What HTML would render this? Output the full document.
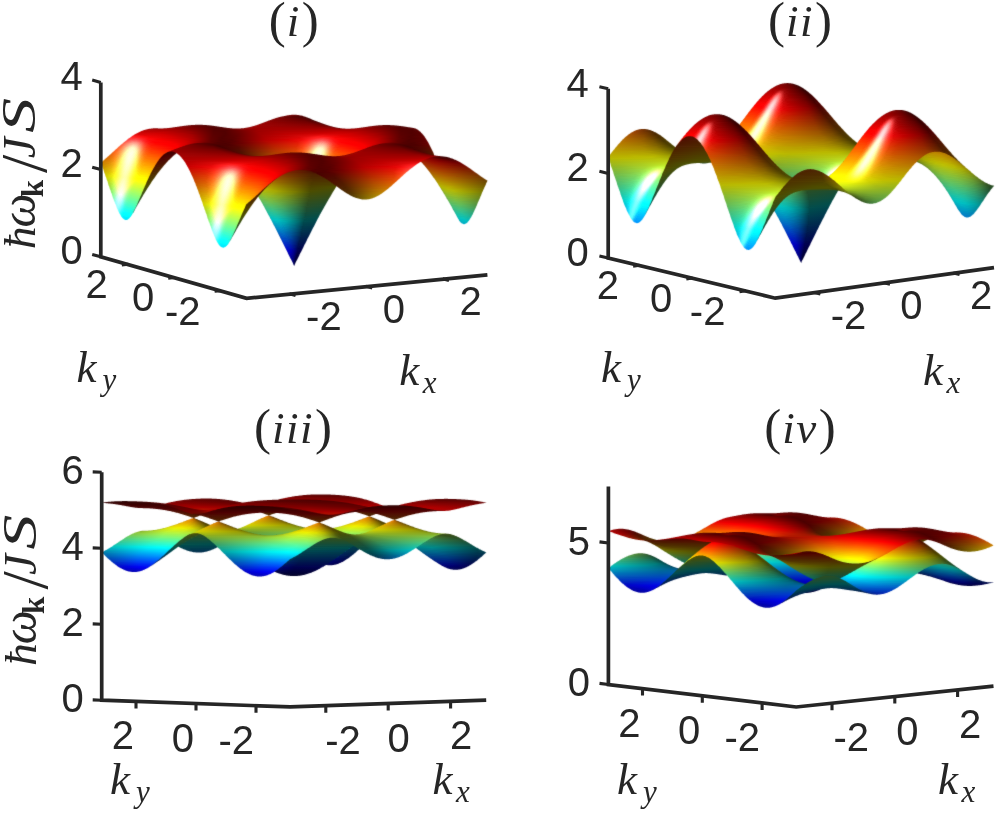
<!DOCTYPE html>
<html><head><meta charset="utf-8"><title>figure</title>
<style>html,body{margin:0;padding:0;background:#fff}
#f{position:relative;width:999px;height:816px;overflow:hidden;background:#fff}
.s{position:absolute;transform:scaleX(.5);transform-origin:0 0}
.s p{height:1px;margin:0;background:linear-gradient(90deg,var(--g,#fff 0,#fff 1px))}
svg{position:absolute;left:0;top:0;display:block;filter:blur(.4px)}
.t{font-family:"Liberation Sans",sans-serif;font-size:40px;fill:#262626}
.m{font-family:"Liberation Serif",serif;font-style:italic;font-size:45px;fill:#262626}
.r{font-family:"Liberation Serif",serif;font-size:45px;fill:#262626}
</style></head><body><div id="f">
<div class="s" style="left:98px;top:113px;width:784px"><p style="--g:#fff 385px,#fbf6f6 391px,#fcf9f9 397px,#fff 399px"></p><p style="--g:#fff 373px,#eddede 385px,#dfc0c0 387px,#d6b3b3 389px,#d3b3b3 395px,#dcc0c0 397px,#ecdede 399px,#fff 411px"></p><p style="--g:#fff 363px,#f2eaea 371px,#ecdede 373px,#dbbbbb 375px,#ad5f5f 379px,#994c4c 381px,#882b2b 383px,#7b1818 387px,#701515 393px,#741e1e 399px,#7d2b2b 401px,#ab7b7b 405px,#b69090 407px,#eee5e5 411px,#faf9f9 415px,#fff 417px"></p><p style="--g:#fff 355px,#eee1e1 363px,#a96969 369px,#984c4c 371px,#7c2121 373px,#6f0a0a 379px,#610101 389px,#540303 401px,#5b1111 407px,#631c1c 409px,#d1bcbc 415px,#eee5e5 417px,#fff 421px"></p><p style="--g:#fff 349px,#f1e7e7 355px,#e2c8c8 357px,#c89797 359px,#a55d5d 361px,#8b2d2d 363px,#811919 365px,#6e0101 375px,#500202 409px,#551010 413px,#5e1c1c 415px,#825050 417px,#ac8e8e 419px,#dfd1d1 421px,#efeaea 423px,#fff 427px"></p><p style="--g:#fff 345px,#f2e7e7 349px,#e3c8c8 351px,#c99494 353px,#9d4747 355px,#8d1e1e 357px,#7c0303 363px,#5c0000 407px,#520202 415px,#541313 419px,#632b2b 421px,#885f5f 423px,#c4adad 425px,#ebe4e4 427px,#f9f6f6 429px,#fff 431px"></p><p style="--g:#fff 339px,#f6eded 343px,#eedcdc 345px,#a85050 349px,#911f1f 351px,#850606 355px,#7a0000 373px,#5f0000 413px,#540303 421px,#530a0a 423px,#5c1b1b 425px,#815252 427px,#c1abab 429px,#e9e1e1 431px,#f5f2f2 433px,#fff 437px"></p><p style="--g:#fff 333px,#f8f1f1 337px,#efdfdf 339px,#cb9c9c 341px,#b46565 343px,#972323 345px,#8b0909 349px,#870101 353px,#690000 413px,#580202 425px,#5d1717 429px,#713b3b 431px,#a88a8a 433px,#d6c6c6 435px,#eee7e7 437px,#fff 441px"></p><p style="--g:#fff 329px,#f3e7e7 333px,#e1c5c5 335px,#a43939 339px,#951515 341px,#8d0202 345px,#710000 413px,#5d0101 429px,#5f1010 433px,#621e1e 435px,#825050 437px,#e7dcdc 441px,#f9f6f6 445px,#fff 447px"></p><p style="--g:#fff 323px,#f7ebeb 327px,#ecd3d3 329px,#d09797 331px,#b25050 333px,#9f1d1d 335px,#950606 339px,#8f0000 351px,#750000 419px,#600202 435px,#631414 439px,#6e2b2b 441px,#8e5f5f 443px,#c6acac 445px,#eae1e1 447px,#f9f9f9 451px,#fff 453px"></p><p style="--g:#fff 193px,#f9f6f6 197px,#fcf9f9 209px,#fff 211px,#fff 317px,#f9f0f0 321px,#f2e0e0 323px,#daafaf 325px,#ba6969 327px,#a42d2d 329px,#9d1414 331px,#970202 335px,#7b0000 423px,#650303 441px,#691717 445px,#7b3a3a 447px,#d0bcbc 451px,#eee4e4 453px,#fff 459px"></p><p style="--g:#fff 171px,#f2eaea 181px,#ebdddd 193px,#d1b6b6 195px,#ccb1b1 205px,#cdb3b3 207px,#d6c0c0 209px,#eadede 211px,#fff 233px,#fff 311px,#f4e4e4 317px,#e1bcbc 319px,#c87d7d 321px,#ac3030 323px,#a11818 325px,#9a0303 329px,#830000 425px,#700000 443px,#6c0e0e 449px,#6d1b1b 451px,#864343 453px,#d8c5c5 457px,#eee6e6 459px,#fff 465px,#fff 549px,#f2eaea 565px,#ede3e3 579px,#f5f1f1 597px,#f9f6f6 601px,#fff 603px"></p><p style="--g:#fff 157px,#f2e3e3 169px,#e7d4d4 171px,#d7b5b5 173px,#d1abab 175px,#ba8585 177px,#b67a7a 179px,#9c5454 181px,#9a4c4c 183px,#8f3f3f 185px,#7d2121 187px,#6f1515 199px,#691c1c 213px,#671e1e 215px,#6f2b2b 217px,#844949 219px,#885050 221px,#b28f8f 227px,#c7afaf 229px,#d4c0c0 231px,#eadede 233px,#f6f2f2 241px,#fff 245px,#fff 303px,#f2e1e1 311px,#e0b9b9 313px,#c87676 315px,#b44343 317px,#a61b1b 319px,#9d0404 323px,#890000 427px,#7a0000 447px,#710606 453px,#751d1d 457px,#8a4444 459px,#d2bbbb 463px,#eee1e1 465px,#fff 471px,#fff 535px,#eee1e1 549px,#cba2a2 555px,#b78585 557px,#b47b7b 559px,#9b5d5d 561px,#975050 563px,#934c4c 567px,#701e1e 571px,#6c1c1c 581px,#6c2121 583px,#7e3f3f 585px,#884c4c 587px,#8a5050 591px,#a57d7d 595px,#aa8585 597px,#bfa2a2 599px,#ccb3b3 601px,#e1d4d4 603px,#efe7e7 607px,#fff 619px"></p><p style="--g:#fff 141px,#f2e4e4 155px,#efdddd 157px,#d7b5b5 159px,#cea2a2 161px,#aa5d5d 165px,#a34c4c 167px,#932b2b 169px,#891c1c 171px,#720101 189px,#590303 217px,#5f1818 231px,#632121 233px,#793f3f 235px,#865252 237px,#a37b7b 239px,#b28f8f 241px,#e1d4d4 245px,#efe7e7 249px,#f9f6f6 257px,#fff 259px,#fff 293px,#f3e4e4 303px,#e7c7c7 305px,#d49797 307px,#ba5d5d 309px,#a72d2d 311px,#a31818 313px,#9d0202 319px,#930000 425px,#810000 453px,#7a0606 459px,#7d1919 463px,#893737 465px,#9f5d5d 467px,#e3d0d0 471px,#efe4e4 473px,#fff 481px,#fff 521px,#efe1e1 535px,#d5afaf 539px,#bd8383 541px,#a35050 545px,#993f3f 547px,#892121 549px,#841515 553px,#740909 565px,#600101 581px,#611b1b 603px,#642121 605px,#793f3f 607px,#855050 609px,#dbcaca 617px,#ebe3e3 619px,#fff 631px"></p><p style="--g:#fff 101px,#f6eaea 111px,#f8efef 121px,#f7eded 131px,#f1e1e1 141px,#d5a2a2 147px,#b35d5d 151px,#ad4a4a 153px,#922 155px,#8d0909 165px,#800000 181px,#520101 229px,#550909 237px,#642121 247px,#a77d7d 253px,#b68f8f 255px,#e2d4d4 259px,#ece1e1 261px,#f6f1f1 273px,#f7efef 285px,#f5e9e9 291px,#efe1e1 293px,#d4a5a5 297px,#a63838 303px,#a01b1b 305px,#9a0303 311px,#a00000 357px,#950000 445px,#860505 465px,#891b1b 471px,#943838 473px,#c08d8d 477px,#e7d4d4 481px,#f4eaea 485px,#fcf6f6 499px,#f7eeee 513px,#f1dede 521px,#e2c0c0 523px,#d9adad 525px,#c48585 527px,#c17a7a 529px,#aa5252 531px,#a43f3f 533px,#962121 535px,#8b0c0c 543px,#800101 553px,#510202 605px,#611b1b 617px,#6e2b2b 619px,#834c4c 621px,#915d5d 623px,#eadfdf 631px,#fff 637px"></p><p style="--g:#fff 93px,#f7e6e6 99px,#f0d4d4 101px,#e4b5b5 103px,#e0abab 105px,#cd8585 107px,#c87a7a 109px,#b45454 111px,#b04e4e 117px,#b05454 119px,#c57a7a 121px,#cb8080 127px,#c97d7d 129px,#b65050 133px,#b44949 137px,#a82b2b 139px,#a11818 143px,#950101 157px,#7a0000 193px,#500000 235px,#540606 249px,#6e1e1e 261px,#792b2b 263px,#8e4a4a 265px,#945252 267px,#a97171 269px,#b37d7d 271px,#bd8080 283px,#b97a7a 285px,#9f5454 287px,#a84949 291px,#922222 293px,#950909 301px,#9a0000 311px,#a30000 359px,#9e0000 449px,#910505 473px,#912222 483px,#a94a4a 485px,#b05d5d 487px,#c27a7a 489px,#c68585 493px,#d4a2a2 495px,#ddafaf 497px,#deafaf 503px,#d6a2a2 505px,#ca8585 507px,#c87d7d 511px,#c07171 513px,#b65252 515px,#b34a4a 517px,#a62b2b 519px,#9d1818 523px,#910101 537px,#720000 575px,#510000 607px,#520303 619px,#641818 629px,#6d2222 631px,#b08686 635px,#e3d2d2 637px,#f5f0f0 639px,#fff 641px"></p><p style="--g:#fff 87px,#f9e8e8 91px,#f2d3d3 93px,#bf4444 99px,#b31e1e 101px,#af1515 103px,#a50909 115px,#aa0e0e 129px,#a30000 149px,#800000 193px,#540000 231px,#530101 255px,#650909 267px,#7f0f0f 283px,#8d0000 299px,#a30000 333px,#a90000 457px,#9c0202 483px,#a61515 497px,#a50808 517px,#9c0000 533px,#790000 573px,#530000 607px,#530101 629px,#5c0909 633px,#631212 635px,#7f3939 637px,#ece2e2 641px,#fff 643px"></p><p style="--g:#fff 83px,#fceeee 85px,#f4d4d4 87px,#e5a0a0 89px,#cf5353 91px,#c02020 93px,#b70606 99px,#b30000 123px,#a40000 161px,#7d0000 199px,#540000 233px,#540000 257px,#7c0000 289px,#9f0000 321px,#ac0101 383px,#b20000 469px,#a90000 523px,#800 565px,#560000 605px,#520000 629px,#5b0606 637px,#691717 639px,#996161 641px,#e1d1d1 643px,#faf6f6 645px,#fff 647px"></p><p style="--g:#fff 79px,#fceeee 81px,#f5d1d1 83px,#cd2f2f 87px,#c61515 89px,#c00202 93px,#b80000 139px,#940000 185px,#570000 231px,#510000 253px,#6d0000 281px,#9b0000 317px,#ae0000 359px,#bd0000 485px,#af0000 527px,#850000 571px,#560000 607px,#520000 629px,#590202 639px,#640f0f 641px,#8a4848 643px,#d2b7b7 645px,#f9f6f6 647px,#fff 649px"></p><p style="--g:#fff 75px,#fceeee 77px,#f6d1d1 79px,#d42f2f 83px,#cc1212 85px,#c90404 87px,#c50000 131px,#980000 187px,#580000 231px,#520000 255px,#6e0000 283px,#a10000 323px,#b70101 379px,#c80000 479px,#bd0000 517px,#900000 567px,#590000 605px,#510000 627px,#590101 641px,#610909 643px,#7e3535 645px,#ddc9c9 647px,#faf6f6 649px,#fff 651px"></p><p style="--g:#fff 71px,#fff0f0 73px,#f8d3d3 75px,#dd3131 79px,#d61313 81px,#d40606 83px,#d10000 119px,#ae0000 171px,#840000 203px,#590000 231px,#520000 255px,#690000 281px,#a10000 323px,#b90000 373px,#d00202 459px,#cb0000 505px,#a00000 559px,#5a0000 605px,#510000 627px,#5a0000 643px,#620808 645px,#864040 647px,#d9c2c2 649px,#f9f7f7 651px,#fff 653px"></p><p style="--g:#fff 67px,#fff9f9 69px,#ffe3e3 71px,#e73838 75px,#e11919 77px,#dd0707 81px,#d50000 129px,#a50000 185px,#5a0000 231px,#520000 255px,#680000 281px,#a30000 325px,#bd0000 371px,#dc0707 451px,#d40000 501px,#ad0000 551px,#850000 579px,#590000 607px,#520000 631px,#5c0000 645px,#630c0c 647px,#8d4a4a 649px,#e1d0d0 651px,#fcf9f9 653px,#fff 655px"></p><p style="--g:#fff 65px,#ffefef 67px,#febfbf 69px,#f86161 71px,#ef2525 73px,#ee1515 75px,#e70404 95px,#d60000 137px,#a50000 189px,#5d0000 229px,#510000 253px,#620000 277px,#a80000 329px,#d60707 415px,#eb0f0f 449px,#e00000 487px,#c50000 531px,#9e0000 567px,#5c0000 605px,#510000 629px,#5c0000 647px,#670f0f 649px,#9b6060 651px,#ece1e1 653px,#fff 655px"></p><p style="--g:#fff 63px,#ffe7e7 65px,#ff9b9b 67px,#fc3e3e 69px,#fc2727 71px,#fc1b1b 75px,#f80c0c 91px,#ee0404 101px,#d80000 143px,#ab0000 187px,#5e0000 229px,#510000 251px,#610000 277px,#ab0000 331px,#c80101 379px,#e00b0b 417px,#f81919 441px,#f50f0f 461px,#e90000 487px,#c50000 539px,#a00000 569px,#600000 603px,#510000 623px,#5e0101 649px,#6e1616 651px,#f3eeee 655px,#fff 657px"></p><p style="--g:#fff 59px,#fff3f3 61px,#ffd6d6 63px,#ff7c7c 65px,#ff3e3e 67px,#ff2d2d 69px,#ff1c1c 85px,#f50404 103px,#d70000 151px,#ac0000 189px,#610000 227px,#510000 247px,#5b0000 271px,#b00000 335px,#db0606 403px,#fe1f1f 435px,#ff2525 451px,#ff1e1e 459px,#f60505 475px,#d50000 527px,#a00 565px,#600000 603px,#510000 625px,#5e0000 649px,#620505 651px,#7d2c2c 653px,#d9c2c2 655px,#fcf8f8 657px,#fff 659px"></p><p style="--g:#fff 57px,#ffebeb 59px,#ff5c5c 63px,#ff4141 65px,#ff3838 69px,#ff3939 77px,#fe0808 101px,#ef0000 127px,#c20000 177px,#980000 201px,#610000 227px,#500000 249px,#5e0000 275px,#b20000 335px,#e20606 403px,#fe1e1e 427px,#ff3737 445px,#ff3737 451px,#ff0808 475px,#ec0000 507px,#b80000 559px,#7a0000 589px,#590000 609px,#510000 631px,#5f0000 651px,#690c0c 653px,#975555 655px,#ede2e2 657px,#fff 659px"></p><p style="--g:#fff 55px,#ffe8e7 57px,#ff9392 59px,#ff5352 61px,#ff4645 63px,#ff4d4d 75px,#ff2f2f 87px,#ff0e0e 99px,#fa0000 119px,#e00000 155px,#b40000 189px,#640000 225px,#510000 245px,#560000 267px,#7c0000 297px,#b30000 335px,#d50101 379px,#ec0b0a 407px,#fe1c1b 421px,#ff4242 439px,#ff4a4a 449px,#ff3838 459px,#ff1717 469px,#ff0505 481px,#e90000 517px,#be0000 557px,#8e0000 581px,#630000 601px,#500000 623px,#5e0000 651px,#600101 653px,#711818 655px,#be9696 657px,#f7f0f0 659px,#fff 661px"></p><p style="--g:#fff 51px,#fff8f7 53px,#ffdedd 55px,#ff908c 57px,#ff5b57 59px,#ff544f 61px,#ff615c 67px,#ff5e5c 77px,#ff4545 85px,#ff2828 91px,#ff0909 103px,#fe0000 125px,#d30000 171px,#a90000 195px,#630000 225px,#500000 245px,#570000 269px,#850000 303px,#b10200 333px,#d70701 383px,#eb0f09 405px,#ff201c 419px,#ff4642 433px,#ff4643 435px,#ff5654 441px,#ff5f5d 447px,#ff4b4b 457px,#ff1717 471px,#ff0303 485px,#f90000 505px,#c00 551px,#a60000 571px,#650000 599px,#500000 621px,#580000 645px,#600000 653px,#640606 655px,#823232 657px,#e2cdcd 659px,#fdf9f9 661px,#fff 663px"></p><p style="--g:#fff 49px,#fff6f3 51px,#ffceca 53px,#ff7f77 55px,#ff6257 57px,#ff6156 59px,#ff7d73 69px,#ff746c 77px,#ff4c46 87px,#ff3c37 89px,#ff1918 97px,#ff0404 109px,#f90000 141px,#c00 179px,#890000 207px,#5e0000 227px,#4e0000 251px,#5c0000 275px,#b40700 337px,#e20f04 397px,#ff261b 417px,#ff5c53 435px,#ff726a 443px,#ff7670 449px,#ff6761 455px,#ff5a56 457px,#ff5752 459px,#ff3532 465px,#ff1615 473px,#ff0404 485px,#f90000 513px,#cd0000 553px,#980000 577px,#640000 599px,#500000 619px,#560000 643px,#620000 655px,#6d0f0f 657px,#a66a6a 659px,#f1e7e7 661px,#fff 663px"></p><p style="--g:#fff 47px,#fff2ee 49px,#ffbbb2 51px,#ff7564 53px,#ff6755 55px,#ff8f7e 67px,#ff9687 71px,#ff8d7e 77px,#ff7c6f 81px,#ff2921 95px,#ff0c08 105px,#ff0101 115px,#fa0000 145px,#d40000 175px,#b90000 187px,#700000 213px,#500000 239px,#510000 263px,#710000 291px,#b70b00 343px,#e41706 399px,#ff2b1b 415px,#ff4232 423px,#ff7564 435px,#ff7567 437px,#ff897a 441px,#ff8f81 447px,#ff897b 449px,#ff8b7e 451px,#ff5d53 461px,#ff3830 467px,#ff1712 475px,#ff0202 487px,#fc0000 517px,#d60000 549px,#ba0000 563px,#750000 587px,#530000 611px,#4f0000 633px,#640202 657px,#781e1e 659px,#cdadad 661px,#f9f6f6 663px,#fff 665px"></p><p style="--g:#fff 45px,#ffedea 47px,#ffb6a8 49px,#ff7560 51px,#ff6d54 53px,#ff8067 57px,#ffa38c 65px,#ffac95 69px,#ffa691 75px,#ff9884 79px,#ff816e 83px,#ff705c 85px,#ff6755 87px,#ff3c2d 93px,#ff1a0f 101px,#ff0701 115px,#f00 137px,#f30000 157px,#d30000 177px,#b60000 185px,#800000 193px,#6a0000 199px,#570000 219px,#4c0000 255px,#690100 287px,#b91100 347px,#e41e06 399px,#fe2f19 413px,#ff4630 421px,#ff9982 439px,#ffa792 445px,#ffa18d 447px,#ffa491 449px,#ff907d 455px,#ff7967 459px,#ff6757 461px,#ff5f4e 463px,#ff4e3f 465px,#ff4737 467px,#ff3628 469px,#ff130a 479px,#ff0100 497px,#fa0000 525px,#d10000 553px,#af0000 563px,#870000 569px,#720000 575px,#5c0000 593px,#4c0000 627px,#5e0000 653px,#630000 657px,#6b0a09 659px,#995453 661px,#efe4e4 663px,#fff 665px"></p><p style="--g:#fff 41px,#fffaf9 43px,#ffe2dc 45px,#ff9f8a 47px,#ff7458 49px,#ff7254 51px,#ff8567 55px,#ffaf91 63px,#ffc3a6 71px,#ffb398 77px,#ff9c82 81px,#ff8b70 83px,#ff8167 85px,#ff513b 91px,#ff3a25 95px,#ff1d0b 103px,#ff0c01 115px,#ff0100 133px,#fa0000 155px,#d90000 173px,#c90000 177px,#810000 185px,#710000 191px,#510000 225px,#4b0000 231px,#4f0000 263px,#770700 299px,#b71600 347px,#e42306 399px,#ff391c 413px,#ff5336 421px,#ffab8f 439px,#ffbb9f 443px,#ffb79d 449px,#ffab91 453px,#ff957b 457px,#ff826a 459px,#ff7861 461px,#ff664f 463px,#ff3421 471px,#ff1507 481px,#f00 507px,#fa0000 529px,#de0000 547px,#c00000 555px,#740000 563px,#4d0000 605px,#4d0000 635px,#640301 659px,#761e1b 661px,#cdadac 663px,#f9f6f6 665px,#fff 667px"></p><p style="--g:#fff 39px,#fffaf6 41px,#ffdfd7 43px,#ff9176 45px,#ff704d 47px,#ff724e 49px,#ffc29f 63px,#ffd7b2 69px,#ffd7b2 71px,#fca 75px,#ffb796 79px,#ffa583 81px,#ff9b7a 83px,#ff6849 89px,#ff4c2f 93px,#ff3115 99px,#ff1a05 107px,#f00 141px,#f90000 159px,#e00000 169px,#c70000 173px,#a70000 175px,#910000 177px,#7f0000 181px,#6e0000 201px,#530000 229px,#460000 239px,#520100 269px,#770a00 301px,#b41b00 347px,#e42906 399px,#fd3c18 411px,#ff5632 419px,#f64 423px,#ffb08c 435px,#ffcba8 441px,#ffcdac 447px,#ffc6a5 451px,#ffb090 455px,#ff5438 467px,#ff442a 469px,#ff2c12 475px,#ff1803 485px,#f00 515px,#fa0000 533px,#e60000 543px,#d50000 547px,#840000 555px,#720000 565px,#590000 599px,#470000 613px,#500000 641px,#610300 659px,#690d09 661px,#975753 663px,#efe4e4 665px,#fff 667px"></p><p style="--g:#fff 37px,#fff9f3 39px,#ffd2c4 41px,#ff8a67 43px,#ff7045 45px,#ff7347 47px,#ff9d6f 53px,#ffa379 55px,#ffd9ad 63px,#ffe9be 69px,#ffe3ba 73px,#ffd1a9 77px,#ff926b 85px,#ff5f3b 91px,#ff3e1b 97px,#ff2407 105px,#ff0b00 133px,#f00 149px,#fc0000 159px,#e40000 165px,#d40000 167px,#b00000 169px,#980000 171px,#850000 175px,#760000 195px,#5d0000 231px,#450000 243px,#580500 279px,#ba2000 353px,#e12c05 397px,#fa3e16 409px,#ff562c 417px,#ff754b 423px,#ffa47c 431px,#ffb58b 433px,#ffddb5 441px,#ffdeb6 449px,#ffcaa3 453px,#ffad87 457px,#ff9872 459px,#ff8c66 461px,#ff7651 463px,#ff5836 467px,#ff3112 475px,#ff1c03 485px,#f00 523px,#fa0000 535px,#e40000 541px,#ba0000 545px,#870000 549px,#790000 561px,#5e0000 603px,#450000 619px,#590500 655px,#600701 661px,#72221b 663px,#ccafac 665px,#f9f6f6 667px,#fff 669px"></p><p style="--g:#fff 35px,#fff9f3 37px,#ffd2c1 39px,#ff8258 41px,#ff6c3e 43px,#ff7341 45px,#ffa675 53px,#ffc895 57px,#ffe8b7 63px,#fff7c5 67px,#fff6c7 71px,#ffe8ba 75px,#ffce9f 79px,#ff7448 89px,#ff562b 93px,#ff4019 97px,#ff2704 107px,#fe0000 155px,#f30000 159px,#e30000 161px,#9f0000 165px,#8c0000 169px,#800000 185px,#600 231px,#540000 243px,#470000 249px,#560700 281px,#b82500 353px,#de3204 395px,#f44011 407px,#ff5322 413px,#ff7444 421px,#ffa678 429px,#ffb886 431px,#ffe9ba 439px,#fff3c4 445px,#ffeabc 449px,#ffe3b5 451px,#ffc79a 455px,#ff8053 463px,#ff6c42 465px,#ff5128 469px,#ff3b16 473px,#ff2a08 479px,#ff1800 499px,#f00 527px,#fc0000 533px,#e80000 537px,#bf0000 539px,#8e0000 543px,#820000 553px,#670000 603px,#460000 625px,#580700 657px,#5d0800 661px,#651109 663px,#945a53 665px,#efe4e4 667px,#fff 669px"></p><p style="--g:#fff 33px,#fff6f0 35px,#ffd0be 37px,#ff8253 39px,#ff6d37 41px,#ff723a 43px,#ffa56f 51px,#ffc98f 55px,#fff8c0 63px,#ffffd1 69px,#fffbc7 73px,#ffe7b0 77px,#ff6836 91px,#ff4918 97px,#ff3b0c 101px,#ff2901 111px,#fc0400 151px,#ef0000 155px,#cd0000 157px,#980000 161px,#8b0000 169px,#6d0000 233px,#540000 249px,#490000 255px,#540900 281px,#b62900 353px,#e03905 397px,#fb4a17 409px,#ff743d 419px,#ff8a54 423px,#fff2bb 437px,#fffdce 443px,#fff9c4 449px,#ffe0ab 453px,#ffbe8a 457px,#ffa572 459px,#ff804f 463px,#ff6232 467px,#ff4a1c 471px,#ff3308 479px,#ff2100 495px,#fc0200 527px,#f20000 531px,#e00000 533px,#9d0000 537px,#900000 539px,#870000 551px,#6c0000 607px,#530000 623px,#4b0000 631px,#530800 655px,#5d0c01 663px,#6f271b 665px,#cbb0ac 667px,#f9f7f6 669px,#fff 671px"></p><p style="--g:#fff 31px,#fff3ec 33px,#ffbda2 35px,#ff7943 37px,#ff6d2f 39px,#ff7233 41px,#ffa366 49px,#fff2b3 59px,#fffec9 63px,#ffffd6 67px,#ffffc9 73px,#ffedaf 77px,#ffcb8f 81px,#ff8e55 87px,#ff6c32 91px,#ff4a15 97px,#ff3303 107px,#fe1000 145px,#f30a00 149px,#dd0700 151px,#b80200 153px,#a00000 155px,#900000 163px,#760000 233px,#600000 251px,#4b0200 261px,#510b00 281px,#b02c00 349px,#df3f05 397px,#fc5318 409px,#ff7336 417px,#ff884b 421px,#ffd497 431px,#fff4b7 435px,#fffecc 439px,#ffffd5 443px,#ffffcf 447px,#fff6bb 451px,#ffd69b 455px,#ff975e 461px,#ff743c 465px,#ff5922 469px,#ff420d 475px,#ff3606 479px,#ff1a00 509px,#ff0e00 521px,#f50900 525px,#e70700 527px,#ab0000 531px,#960000 535px,#8d0000 547px,#6f0000 613px,#500 629px,#490000 633px,#530b00 657px,#5a0d00 663px,#621509 665px,#925d53 667px,#eee5e4 669px,#fff 671px"></p><p style="--g:#fff 29px,#fff2eb 31px,#ffbd9f 33px,#ff763b 35px,#ff6b29 37px,#ff6f2c 39px,#ffa05c 47px,#fffdba 59px,#ffffd9 65px,#ffffda 69px,#fffcc0 75px,#ffe29e 79px,#ff7d3c 89px,#ff581a 95px,#ff4005 103px,#ff2800 127px,#fe1e00 139px,#eb1300 145px,#c60900 147px,#ab0300 149px,#980000 153px,#700 243px,#5e0000 259px,#4e0500 267px,#500d00 283px,#b33300 353px,#dc4204 395px,#f65513 407px,#ff6a27 413px,#ff8642 419px,#ffd28f 429px,#fff2b0 433px,#fffebd 435px,#ffffd8 441px,#ffffd9 445px,#ffffc9 449px,#ffeeab 453px,#ff8747 463px,#ff692b 467px,#ff440b 475px,#f30 489px,#fc1a00 517px,#f11100 521px,#b80300 525px,#a20100 527px,#940000 533px,#790000 613px,#620000 631px,#4b0400 641px,#550e00 661px,#591001 665px,#6c2a1b 667px,#cbb2ac 669px,#f9f8f6 671px,#fff 673px"></p><p style="--g:#fff 27px,#ffeee5 29px,#fbb692 31px,#fd7435 33px,#ff6a22 35px,#ff7930 39px,#ffba6e 49px,#fffbb4 57px,#ffffd8 63px,#ffffde 69px,#ffffcd 73px,#fff7ad 77px,#ff9047 87px,#ff6720 93px,#ff5410 97px,#ff3f02 107px,#ff4001 111px,#ff3200 125px,#f92400 137px,#ea1f00 139px,#c91300 141px,#9d0900 143px,#800500 145px,#720000 147px,#760000 149px,#910000 153px,#970000 161px,#7f0000 245px,#680000 263px,#510400 271px,#4f0f00 285px,#b43700 355px,#c74000 377px,#d84605 397px,#ee5614 407px,#f85d1a 409px,#fe833a 417px,#ffce85 427px,#fff2a9 431px,#fffdb7 433px,#ffffd9 439px,#ffffde 443px,#ffffd3 447px,#fff9b5 451px,#ffeea6 453px,#ff8b46 463px,#ff601e 469px,#ff4f0e 473px,#ff3c01 485px,#fc2500 511px,#f21e00 515px,#de1500 517px,#a30400 521px,#970000 531px,#7e0000 617px,#6a0000 635px,#500400 645px,#4d0d00 657px,#561100 665px,#5f1909 667px,#906053 669px,#eee6e4 671px,#fff 673px"></p><p style="--g:#fff 25px,#feece1 27px,#f6a475 29px,#f6722b 31px,#fc6a1c 33px,#ff7828 37px,#ff9848 43px,#ffb563 47px,#fffaab 55px,#ffd 63px,#ffffe3 67px,#ffffd8 71px,#ffb 75px,#ffe693 79px,#ffcc7b 81px,#ffbd6c 83px,#ffa454 85px,#ff7728 91px,#ff6114 95px,#ff4b04 103px,#ff3000 131px,#fa2f00 133px,#ec2900 135px,#bd1c00 137px,#6b0b00 139px,#4f0300 141px,#450000 147px,#4c0000 151px,#5d0000 153px,#9a1010 157px,#9a0101 161px,#840000 251px,#710000 267px,#550500 277px,#4f1100 287px,#b03b00 353px,#bd3b00 375px,#b73a00 377px,#af3000 379px,#ac2f00 383px,#952601 385px,#a12c06 403px,#a8330b 407px,#c54413 409px,#cc561e 413px,#e16b2a 415px,#ed8942 419px,#f4bd72 425px,#fcf8ab 431px,#fffed6 437px,#ffffe1 441px,#ffffdc 445px,#fffcb5 451px,#ffdd8b 455px,#ffc477 457px,#ff8e40 463px,#ff671b 469px,#ff5b12 471px,#ff4602 481px,#fe3400 503px,#f22800 509px,#e32100 511px,#ac0900 515px,#9e0000 519px,#830000 623px,#700000 641px,#510600 651px,#511200 663px,#571501 667px,#6a2e1b 669px,#cab4ae 671px,#f9f8f6 673px,#fff 675px"></p><p style="--g:#fff 23px,#fcebe0 25px,#f2a572 27px,#f07123 29px,#f76b16 31px,#ff7d28 37px,#ff923d 41px,#ffd278 49px,#fff69f 53px,#ffffbe 57px,#ffffd9 61px,#ffffe5 65px,#ffffdf 69px,#ffffb5 75px,#fff6a3 77px,#ffa64e 85px,#ff7723 91px,#ff5e0b 97px,#ff4c01 107px,#fe3b00 129px,#f33700 131px,#d22900 133px,#861200 135px,#520600 137px,#400 139px,#430000 147px,#470101 151px,#510909 153px,#6f2d2d 155px,#b88282 157px,#b54444 159px,#a31111 161px,#9d0303 163px,#8c0000 255px,#790000 273px,#620200 281px,#520f00 287px,#671f00 305px,#a73c00 347px,#af3900 359px,#a62e00 363px,#8c1500 371px,#7a0700 375px,#620600 407px,#641007 417px,#6b1c0d 419px,#81331b 421px,#883f24 423px,#b78755 427px,#dfd493 431px,#f0e9be 435px,#f9f6db 441px,#fdfdda 445px,#fffcae 451px,#fff09b 453px,#ffb15c 459px,#ff8e38 463px,#ff6917 469px,#ff590b 473px,#ff4900 487px,#fc3d00 497px,#f03100 503px,#bc1700 507px,#a40400 511px,#9d0000 521px,#8b0000 625px,#790000 645px,#670000 653px,#580700 657px,#521000 663px,#541500 667px,#5e200c 669px,#9b7567 671px,#f3efed 673px,#fff 675px"></p><p style="--g:#fff 19px,#fffaf8 21px,#fae3d2 23px,#eea066 25px,#ea701e 27px,#f06c11 29px,#fd751a 33px,#ff8d33 39px,#ffaa4b 43px,#ffdb7b 49px,#ffef91 51px,#fff99d 53px,#ffffc5 57px,#ffd 61px,#ffffe4 67px,#ffffc4 73px,#fff899 77px,#ffb85a 83px,#ff862a 89px,#ff6f15 93px,#ff5e06 99px,#ff5000 113px,#fe4400 127px,#f03b00 129px,#b02500 131px,#630a00 133px,#4a0300 135px,#430000 139px,#490202 149px,#540f0f 151px,#7f4848 153px,#cdb7b7 155px,#f2eaea 157px,#edd0d0 159px,#c76b6b 161px,#a81919 163px,#9f0303 165px,#930000 259px,#830000 279px,#710200 287px,#5c0e00 293px,#611a00 301px,#973600 337px,#a13500 347px,#992000 353px,#8f1500 355px,#870700 361px,#6f0000 389px,#550300 419px,#5c100a 427px,#65221b 433px,#81493c 435px,#895448 437px,#bea291 441px,#cdb5a0 443px,#e8ddbd 445px,#f1eaac 449px,#f3eb9e 451px,#f9d77a 455px,#fab056 459px,#ff8027 465px,#ff660e 471px,#ff5906 475px,#f54200 493px,#f13d00 495px,#ae1400 501px,#9e0900 503px,#9d0000 513px,#980000 605px,#8c0000 643px,#720100 659px,#5e0b00 665px,#581000 667px,#5b1703 669px,#773d2b 671px,#e5d7d4 673px,#f6f0f0 675px,#fff 681px"></p><p style="--g:#fff 17px,#fffaf6 19px,#f8e2cd 21px,#ea9550 23px,#e57218 25px,#ea6d0d 27px,#fc7a1a 33px,#ff9936 39px,#ffc15c 45px,#ffe984 49px,#fff490 51px,#ffffa6 53px,#ffffd6 59px,#ffffe5 65px,#ffffcf 71px,#fffea9 75px,#fff38f 77px,#ffe57f 79px,#fc6 81px,#ff9732 87px,#ff7d1a 91px,#ff6505 99px,#ff5300 117px,#fe4a00 125px,#f04200 127px,#b02700 129px,#5a0800 131px,#470000 133px,#4c0303 147px,#591413 149px,#906160 151px,#dfd1d1 153px,#f7f6f6 155px,#fff 157px,#fff 159px,#f4e4e4 161px,#d48a8a 163px,#ab1b1b 165px,#a20303 167px,#9b0000 267px,#8d0000 287px,#720a00 301px,#6c1d00 309px,#7d2700 319px,#8b2c00 329px,#951a00 339px,#910600 347px,#7c0000 381px,#500000 427px,#550908 437px,#6b221b 447px,#874c36 449px,#9b6743 451px,#c18c4c 455px,#d2813b 459px,#ea8c36 461px,#f16c16 467px,#f25603 477px,#ef4c01 483px,#df4000 485px,#d83800 487px,#bf2b00 489px,#b01700 493px,#9c0a00 495px,#9b0000 507px,#a00000 557px,#980000 643px,#840000 663px,#770300 669px,#77100c 671px,#a25755 673px,#d0adac 677px,#d5c0c0 679px,#eadede 681px,#fff 699px"></p><p style="--g:#fff 15px,#fef9f3 17px,#f5d5b7 19px,#e68f42 21px,#e07211 23px,#e56f09 25px,#f67a14 31px,#ff952c 37px,#ff9e34 39px,#ffcb5f 45px,#ffef84 49px,#fffc98 51px,#ffffcd 57px,#ffffe5 63px,#ffffd7 69px,#ffffb7 73px,#ffff9e 75px,#fff78e 77px,#ffe073 79px,#ff982d 87px,#ff780f 93px,#ff6b04 99px,#ff6301 105px,#ff5700 119px,#ff5200 123px,#f04b00 125px,#b12c00 127px,#5c0900 129px,#4a0000 131px,#4e0503 145px,#5b1815 147px,#986e6b 149px,#e8dfde 151px,#fcfafa 153px,#fff 155px,#fff 161px,#f6e7e7 163px,#ae1919 167px,#a50303 169px,#a30000 279px,#900400 311px,#9b0200 343px,#8d0000 371px,#520000 427px,#520101 445px,#691109 457px,#7a1103 465px,#992304 469px,#9e1f01 475px,#8a0d00 479px,#960000 501px,#a40000 541px,#a20000 647px,#940000 665px,#8a0200 671px,#701515 677px,#6d2121 683px,#7a3f3f 685px,#8a6767 689px,#eae4e4 699px,#fff 705px"></p><p style="--g:#fff 13px,#fcf6ee 15px,#f2d3b3 17px,#e28934 19px,#dd730d 21px,#e17206 23px,#ef7b0f 29px,#fe871b 33px,#ff992a 37px,#ffaa39 39px,#ffb242 41px,#fffb89 49px,#ffffc1 55px,#ffffe2 61px,#ffffdc 67px,#ffffc3 71px,#ffff9a 75px,#fff583 77px,#ffbc46 83px,#ffa736 85px,#ff8614 91px,#ff7609 95px,#f60 111px,#ff5d00 121px,#f65400 123px,#bb3600 125px,#600a00 127px,#4c0000 129px,#4f0803 143px,#5e1a15 145px,#986f6c 147px,#e9e1e0 149px,#fff 151px,#fff 163px,#f6e4e4 165px,#ce7373 167px,#ae1313 169px,#a80000 171px,#ae0000 281px,#a90000 329px,#960000 367px,#6a0000 405px,#510000 431px,#570100 455px,#890000 491px,#a30000 525px,#ac0000 649px,#a60000 661px,#6c0000 671px,#4d0202 683px,#4d1212 693px,#541b1b 697px,#693838 699px,#b49c9c 703px,#e7dede 705px,#fff 711px"></p><p style="--g:#fff 11px,#faf3e8 13px,#efc495 15px,#dc8325 17px,#d97309 19px,#df7405 23px,#f68615 31px,#ff9722 35px,#ffbc44 41px,#fff379 47px,#fffe8c 49px,#ffffb3 53px,#ffffdc 59px,#ffffe3 63px,#ffffcb 69px,#fffd91 75px,#ffe367 79px,#ffba3f 83px,#ff9b21 87px,#ff820a 93px,#ff7704 97px,#ff6400 119px,#f75f00 121px,#cc4300 123px,#6d1100 125px,#500100 127px,#4f0a03 141px,#5e1e15 143px,#aa756c 145px,#ece1e0 147px,#fff 149px,#fff 163px,#fffafa 165px,#f1d2d2 167px,#c34b4b 169px,#ad0909 171px,#ab0000 173px,#b90000 297px,#af0000 343px,#870000 387px,#500 427px,#520000 449px,#6e0000 475px,#980000 507px,#a00 545px,#b50000 655px,#a40000 659px,#8a0000 663px,#4f0000 689px,#490505 699px,#531515 703px,#6c3636 705px,#b89c9c 709px,#e8dfdf 711px,#f6f3f3 713px,#fff 717px"></p><p style="--g:#fff 9px,#f9f1e4 11px,#ebc08a 13px,#d9841f 15px,#d67705 17px,#e47d08 25px,#fd941a 33px,#ffa72d 37px,#ffd659 43px,#ffec6a 45px,#ffff8e 49px,#ffffd2 57px,#ffffe0 61px,#ffd 65px,#ffffc4 69px,#ffff9f 73px,#fff573 77px,#ffba39 83px,#ff9e1c 87px,#ff8509 93px,#ff7b01 101px,#fd6800 119px,#df5600 121px,#791a00 123px,#530600 125px,#4d0500 131px,#500d03 139px,#60251a 141px,#a0746d 143px,#ede2e0 145px,#fff 147px,#fff 165px,#fef9f9 167px,#eecaca 169px,#bd3333 171px,#ae0606 173px,#af0000 179px,#c40000 301px,#b80000 339px,#920000 383px,#580000 425px,#510000 447px,#6f0000 477px,#9d0000 513px,#b00000 557px,#bf0200 651px,#aa0500 655px,#970400 659px,#510000 701px,#580c0c 707px,#5d1515 709px,#783d3d 711px,#b59393 713px,#d9c9c9 715px,#f1ebeb 717px,#fff 721px"></p><p style="--g:#fff 5px,#fffcfa 7px,#f9eedf 9px,#e2b26c 11px,#d6851a 13px,#d27a04 15px,#df8006 23px,#f59314 31px,#ff9e1d 33px,#ffa324 35px,#ffe05a 43px,#fffd7f 47px,#ffffc5 55px,#ffffda 59px,#ffffde 63px,#ffc 67px,#ffffac 71px,#fffd7f 75px,#ffe056 79px,#ffca43 81px,#ffab21 85px,#ff8f0b 91px,#ff8503 97px,#ff7500 117px,#ee6800 119px,#9e3500 121px,#590c00 123px,#4d0600 125px,#4f0f03 137px,#61281b 139px,#b49993 141px,#eee6e5 143px,#fff 145px,#fff 167px,#fcf3f3 169px,#e4a9a9 171px,#ba1e1e 173px,#b20303 175px,#cd0000 285px,#c60000 327px,#9c0000 379px,#590000 425px,#510000 447px,#6a0000 475px,#9f0000 515px,#b50000 563px,#c70402 647px,#a11100 653px,#7e0000 681px,#5b0000 707px,#5c0606 711px,#6e2121 715px,#9e6969 717px,#d9c2c2 719px,#f2eaea 721px,#fcf9f9 723px,#fff 725px"></p><p style="--g:#fff 3px,#fffbf7 5px,#f6e7cf 7px,#dead60 9px,#d38613 11px,#d07d04 13px,#df8806 23px,#ee930f 29px,#fea01c 33px,#ffd44a 41px,#fff76e 45px,#ffff7d 47px,#ffff95 49px,#ffffc8 55px,#ffffdb 59px,#ffffda 63px,#ffffc4 67px,#ffffa1 71px,#fffd76 75px,#ffce3c 81px,#ffba29 83px,#ffa215 87px,#ff8f05 93px,#ff8b02 97px,#ff7b00 115px,#f67500 117px,#bd4c00 119px,#611400 121px,#4d0900 123px,#4e1103 135px,#5d2516 137px,#a58176 139px,#efe7e6 141px,#fff 143px,#fff 169px,#f7e9e9 171px,#d57676 173px,#ba1313 175px,#b60000 177px,#d60505 271px,#d10000 321px,#a30000 377px,#580000 427px,#520000 451px,#6e0000 479px,#a20000 519px,#ba0000 567px,#d30808 641px,#d52725 645px,#a51d03 649px,#9c1500 657px,#860300 683px,#630101 713px,#650202 715px,#690c0c 717px,#742020 719px,#a46969 721px,#dbc2c2 723px,#f3ebeb 725px,#fff 727px"></p><p style="--g:#fff 1px,#fffcfa 3px,#f7e9d5 5px,#d6a043 7px,#ce860e 9px,#ce8002 11px,#e49009 25px,#fda91c 33px,#ffc133 37px,#fffc6d 45px,#ffff85 47px,#ffffba 53px,#ffffd3 57px,#ffffda 61px,#ffc 65px,#ffffaf 69px,#fffd6c 75px,#fff259 77px,#ffbb25 83px,#ff9f0b 89px,#ff9301 97px,#fd7f00 115px,#de6900 117px,#702100 119px,#510c00 121px,#4d1101 133px,#5a2312 135px,#98766b 137px,#ebe3e1 139px,#fff 141px,#fff 171px,#f6dcdc 173px,#cc4848 175px,#bc0707 177px,#ba0000 181px,#dc0a0a 249px,#e40a0a 271px,#da0000 315px,#b90000 361px,#910000 393px,#5d0000 423px,#510000 447px,#670000 475px,#a50000 521px,#bf0101 569px,#df0d0d 637px,#e01414 639px,#e12a2a 641px,#ed8080 643px,#f4cac8 645px,#d59f91 647px,#a8401f 649px,#9e2704 651px,#910 669px,#720100 709px,#6b0302 719px,#700d0c 721px,#7e2222 723px,#af7575 725px,#e5d1d1 727px,#f7f3f3 729px,#fff 731px"></p><p style="--g:#fff 3px,#f9f1e2 5px,#d19428 7px,#ca8504 9px,#db8d04 21px,#f7a815 31px,#ffbc28 35px,#ffe44f 41px,#fff65d 43px,#ffff83 47px,#ffffac 51px,#ffffd1 57px,#ffffd7 61px,#ffffba 67px,#fffb65 75px,#ffe03f 79px,#ffcb2c 81px,#ffaa0e 87px,#ff9600 99px,#ff9400 103px,#ff8b00 113px,#ef7d00 115px,#983e00 117px,#571400 119px,#4d0e00 121px,#4d1300 131px,#56220f 133px,#8a6656 135px,#e7e0dd 137px,#fff 139px,#fff 171px,#fcf5f5 173px,#e8abab 175px,#c31b1b 177px,#bd0101 179px,#da0808 233px,#f31616 261px,#f00b0b 281px,#e20000 313px,#c10000 359px,#900 391px,#5b0000 425px,#510000 449px,#690000 477px,#a80000 523px,#c40101 571px,#de0b0b 617px,#ed1515 635px,#ef2626 637px,#f05f5f 639px,#f7bbbb 641px,#fcecec 643px,#fffaf9 645px,#f8edea 647px,#d3a593 649px,#a7411b 651px,#a02b03 653px,#991300 675px,#710300 721px,#710703 723px,#781310 725px,#903f3c 727px,#caa2a1 729px,#f0e6e5 731px,#fcf9f9 733px,#fff 735px"></p><p style="--g:#fff 3px,#fcf6ed 5px,#dfb76a 7px,#cc8e0c 9px,#cc8900 11px,#e39c09 25px,#f6ac15 31px,#ffc027 35px,#fffa61 43px,#ffffab 51px,#ffffcf 57px,#ffffd1 61px,#ffffc0 65px,#fffd5d 75px,#fff149 77px,#ffdb34 79px,#ffbf1c 83px,#ffa908 89px,#ffaa05 91px,#ffa103 93px,#ff9e00 99px,#ff9100 111px,#f98a00 113px,#c46300 115px,#621d00 117px,#4d1100 119px,#4d1500 129px,#55210c 131px,#815d4b 133px,#ddd4ce 135px,#fbf9f9 137px,#fff 139px,#fff 173px,#f9e4e4 175px,#d55555 177px,#c40a0a 179px,#c10000 181px,#de0808 229px,#f61717 247px,#fe2121 265px,#fe1b1b 275px,#ee0101 301px,#da0000 337px,#ad0000 381px,#5f0000 423px,#510000 443px,#5d0000 467px,#ad0000 527px,#d80606 599px,#fa1b1b 631px,#fa2222 633px,#fb3a3a 635px,#fb9494 637px,#fde3e3 639px,#fff9f9 641px,#fff 643px,#fff 647px,#f4ebe6 649px,#c18d76 651px,#a54116 653px,#a22f03 655px,#981600 681px,#730801 725px,#750c06 727px,#81201a 729px,#a6645f 731px,#dfc5c3 733px,#f6efef 735px,#fff 737px"></p><p style="--g:#fff 3px,#fffcfa 5px,#f2e3c2 7px,#d0991b 9px,#cc9001 11px,#df9e06 23px,#eeac0f 29px,#febd1e 33px,#ffd434 37px,#fff350 41px,#fffe64 43px,#ffff9c 49px,#ffffc8 55px,#ffffd1 59px,#ffffc4 63px,#ffffba 65px,#ffff96 69px,#fffc54 75px,#ffdb2d 79px,#ffb910 85px,#ffab03 91px,#ffa300 97px,#ffa000 103px,#fe9a00 111px,#e88700 113px,#7a3200 115px,#511600 117px,#4d1800 127px,#532008 129px,#78523e 131px,#dbd1cc 133px,#faf9f9 135px,#fff 137px,#fff 173px,#fff7f7 175px,#f0c0c0 177px,#cc1f1f 179px,#c60202 181px,#e20707 225px,#fe1b1b 245px,#ff3131 261px,#ff2f2f 271px,#fc0909 293px,#ec0000 319px,#ca0000 361px,#a40000 389px,#5c0000 425px,#510000 447px,#600000 471px,#af0000 527px,#dd0606 597px,#fb1c1c 623px,#ff2626 629px,#ff3131 631px,#ff5959 633px,#ffbdbd 635px,#fee 637px,#fff 639px,#fff 649px,#f2e7e1 651px,#c68b6b 653px,#a74212 655px,#a33400 657px,#9d1f00 679px,#7d0d00 717px,#760d02 729px,#7c160c 731px,#8d372e 733px,#eee1df 737px,#fcf9f8 739px,#fff 741px"></p><p style="--g:#fff 5px,#faf4e4 7px,#d7ae43 9px,#cd9706 11px,#d19601 15px,#e9ad0c 27px,#f9ba17 31px,#ffce29 35px,#ffe940 39px,#fffb55 41px,#ffff75 45px,#ffff8b 47px,#ffff98 49px,#ffffbd 53px,#ffffcd 57px,#ffffc1 63px,#ffff76 71px,#fffb4c 75px,#ffea36 77px,#ffc713 83px,#ffb707 87px,#ffa800 103px,#ffa100 109px,#f49700 111px,#b56300 113px,#5d2100 115px,#4d1600 117px,#4d1a00 125px,#512106 127px,#6d452e 129px,#ccbeb5 131px,#f8f6f6 133px,#fff 135px,#fff 175px,#fceaea 177px,#df6a6a 179px,#cc0f0f 181px,#ca0000 183px,#eb0a0a 227px,#ff1d1d 243px,#ff4242 263px,#ff4242 269px,#ff2f2f 279px,#ff1b1b 285px,#fd0404 301px,#e70000 337px,#b90000 379px,#620000 421px,#510000 441px,#590000 465px,#b40000 531px,#d60101 579px,#ed0c0c 605px,#f22 621px,#ff2f2f 627px,#ff4040 629px,#ff7c7c 631px,#ffd7d7 633px,#fff6f6 635px,#fff 637px,#fff 651px,#f1e3db 653px,#bc764d 655px,#a64409 657px,#a43900 659px,#9f2400 681px,#780f00 731px,#791304 733px,#812314 735px,#9e554b 737px,#d8bbb7 739px,#f6eeed 741px,#fff 743px"></p><p style="--g:#fff 5px,#fcf9ef 7px,#e2c877 9px,#cea00d 11px,#ce9a00 13px,#e9b20c 27px,#ffca1f 33px,#ffe233 37px,#fff547 39px,#ffff63 43px,#ffff7a 45px,#ffff87 47px,#ffffae 51px,#ffffc7 55px,#ffffc5 61px,#ffff98 67px,#fffc42 75px,#fd2 79px,#ffc409 85px,#ffb904 89px,#ffba01 93px,#ffb300 97px,#fda500 109px,#d80 111px,#6f3200 113px,#4f1b00 115px,#4f2104 125px,#61391d 127px,#b5a396 129px,#f4f0ed 131px,#fff 133px,#fff 175px,#fffafa 177px,#f4cecd 179px,#d3302f 181px,#cb0703 183px,#db0502 207px,#f2100d 229px,#ff1f1c 239px,#ff4948 257px,#ff5655 265px,#ff4747 275px,#ff1313 291px,#ff0202 305px,#e00 335px,#c60000 373px,#960000 397px,#640000 419px,#510000 441px,#570000 463px,#850000 497px,#bc0100 537px,#e50806 595px,#fa1412 609px,#ff2625 619px,#ff3837 625px,#ff4f4f 627px,#ffe8e8 631px,#fff 633px,#fff 651px,#fefaf9 653px,#ecd9ca 655px,#b56a35 657px,#a54606 659px,#a83a00 665px,#962000 697px,#781501 735px,#7c1c09 737px,#8f3b2d 739px,#efe2df 743px,#fcf9f8 745px,#fff 747px"></p><p style="--g:#fff 5px,#fffcfa 7px,#f4e8c4 9px,#d1a91e 11px,#cda302 13px,#e3b308 25px,#fed120 33px,#ffed38 37px,#ffff53 41px,#ffffae 51px,#ffffbd 53px,#ffffc8 57px,#ffffbf 61px,#ffffa4 65px,#ffff50 73px,#ffef2c 77px,#ffd514 81px,#ffc505 87px,#ffbd00 93px,#ffb200 107px,#efa200 109px,#985700 111px,#582200 113px,#4d1c00 115px,#4d2101 123px,#5d3516 125px,#efebe8 129px,#fff 131px,#fff 177px,#fceeee 179px,#cd1912 183px,#cb0800 185px,#e81008 221px,#ff241c 237px,#ff655f 261px,#ff6b66 269px,#ff6460 273px,#ff2726 287px,#ff0e0e 295px,#ff0101 309px,#fa0000 329px,#ca0000 373px,#950000 397px,#5f0000 421px,#4f0000 445px,#5c0000 469px,#b30300 529px,#e60e06 595px,#ff221a 611px,#ff3831 621px,#ff4841 623px,#ff6c69 625px,#ffc4c4 627px,#fff0f0 629px,#fff 631px,#fff 653px,#fbf7f6 655px,#e4c8b2 657px,#af6225 659px,#a64904 661px,#a43100 681px,#7a1800 737px,#7c1a04 739px,#832b14 741px,#9f5c4b 743px,#d9bfb7 745px,#f6f0ef 747px,#fff 749px"></p><p style="--g:#fff 7px,#fcf8e8 9px,#dfc45a 11px,#d0a809 13px,#d3ab01 17px,#e9bf0c 27px,#ffd820 33px,#fffb44 39px,#ff7 45px,#ffffa0 49px,#ffb 53px,#ffffc4 57px,#ffffb8 61px,#ffff9a 65px,#ffff43 73px,#fffc34 75px,#ffdc12 81px,#ffd20b 83px,#ffd206 85px,#ffc804 87px,#ffc500 93px,#ffb700 105px,#fcb100 107px,#d38d00 109px,#652f00 111px,#4e1e00 113px,#4d2200 121px,#56310f 123px,#907760 125px,#eae5e1 127px,#fff 129px,#fff 179px,#f6d4d0 181px,#d53a31 183px,#ca1003 185px,#e11204 215px,#fa2314 231px,#ff3525 239px,#ff8174 261px,#ff877b 267px,#ff7066 275px,#ff1e1a 291px,#ff0b09 299px,#f00 315px,#f90000 337px,#cd0000 373px,#a90000 389px,#6d0300 411px,#500000 435px,#530000 459px,#740000 487px,#b20700 531px,#e61406 595px,#fb2215 607px,#ff3f34 619px,#ff5245 621px,#ff8a84 623px,#ffdad9 625px,#fff6f6 627px,#fff 629px,#fff 655px,#f9f4ed 657px,#d8b494 659px,#ae611b 661px,#a84c03 663px,#a53500 685px,#811f00 731px,#7a1d01 741px,#7e2609 743px,#91462d 745px,#c7a294 747px,#f1e8e5 749px,#fff 751px"></p><p style="--g:#fff 7px,#fcfcf3 9px,#ebdc99 11px,#d0b312 13px,#d0ae02 15px,#e2be08 25px,#ffde1f 33px,#ffff45 39px,#ffff5a 41px,#ff6 43px,#ffff9f 49px,#ffffb1 51px,#ffffc1 55px,#ffffbc 59px,#ffffa6 63px,#ffff3b 73px,#fff420 77px,#ffe516 79px,#ffd305 85px,#ffc000 105px,#edaf00 107px,#895300 109px,#532600 111px,#4d2300 117px,#4d2400 119px,#552f09 121px,#806448 123px,#ded7d0 125px,#fbfaf9 127px,#fff 129px,#fff 179px,#fcf0ef 181px,#e7918b 183px,#cb2312 185px,#cb1300 187px,#e61c07 219px,#ff2d1a 233px,#ff5541 245px,#ff6b55 249px,#ff6e5a 251px,#ff816e 255px,#ff9a87 263px,#ff9b8a 269px,#ff7566 277px,#ff281d 291px,#ff0e08 299px,#f00 315px,#fb0000 339px,#d70000 369px,#b40000 383px,#9f0300 389px,#781500 395px,#641800 403px,#5b1100 415px,#540000 427px,#4e0000 451px,#670000 479px,#b40d00 535px,#e41906 593px,#ff2d1b 609px,#ff4735 617px,#ff5a4b 619px,#ff968d 621px,#ffe7e6 623px,#fff 625px,#fff 657px,#f6ede4 659px,#cb9c6c 661px,#ac5d12 663px,#a95100 665px,#a73e00 685px,#832400 733px,#7e2404 745px,#87371b 747px,#b17e6c 749px,#e7d7d2 751px,#fbf6f6 753px,#fff 755px"></p><p style="--g:#fff 9px,#f7f0d1 11px,#d3ba1e 13px,#cfb502 15px,#ddc005 23px,#e9c90c 27px,#f8d917 31px,#ffee2a 35px,#fffc37 37px,#ffff4b 39px,#ffff56 41px,#ffffa3 49px,#ffffbe 55px,#ffffb6 59px,#ffff9b 63px,#ffff47 71px,#fff41b 77px,#ffe10b 81px,#ffd602 87px,#ffcb00 101px,#f9be00 105px,#c58d00 107px,#5f3300 109px,#4d2300 111px,#4d2700 117px,#512d06 119px,#6e502f 121px,#cdc3b7 123px,#f8f6f6 125px,#fff 127px,#fff 181px,#f7dedb 183px,#d2432f 185px,#c91b03 187px,#d51a01 203px,#ec230b 223px,#ff381c 233px,#ff5a40 243px,#ff8e74 253px,#ff937a 255px,#ffa186 257px,#ffb299 263px,#ffb39c 267px,#ffab93 271px,#ff8871 277px,#ff422f 287px,#ff2011 295px,#ff1004 303px,#f00 323px,#fa0000 347px,#cf0000 373px,#b00300 381px,#761f00 389px,#591c00 413px,#4f1000 425px,#4e0200 431px,#4f0000 455px,#750500 491px,#b81300 541px,#df1c03 589px,#fe3119 607px,#ff432a 613px,#ff4f34 615px,#ff6651 617px,#ffaca3 619px,#ffecea 621px,#fff 623px,#fff 659px,#f2e7da 661px,#bf8b4c 663px,#ac5f09 665px,#ab5600 667px,#a64000 691px,#7c2500 745px,#7c2703 747px,#823311 749px,#9e6348 751px,#dac2b6 753px,#f6f0ed 755px,#fff 757px"></p><p style="--g:#fff 9px,#fbf9e7 11px,#dacb49 13px,#d0bc07 15px,#d6c002 19px,#d9c003 21px,#ddc905 23px,#e3c908 25px,#efd610 29px,#fce31a 31px,#fee921 33px,#fff92b 35px,#ffff58 41px,#ffffa2 49px,#ffffb9 53px,#ffffb9 57px,#ffffa4 61px,#ffff6c 67px,#ffff40 71px,#fffe22 75px,#ffeb09 81px,#ffe106 83px,#ffdb00 91px,#ffce00 103px,#e9b700 105px,#815300 107px,#522900 109px,#4e2c04 117px,#62441f 119px,#bdae9f 121px,#f6f2f0 123px,#fff 125px,#fff 181px,#fcf2f1 183px,#ca2b12 187px,#c91d00 189px,#e42707 219px,#ff3a1a 231px,#ff5333 239px,#ffbd9d 259px,#ffc5a6 261px,#ffc5a6 267px,#ffc4a5 269px,#ffa486 275px,#ff694d 283px,#ff553b 285px,#ff2410 295px,#ff1102 305px,#f00 333px,#fa0000 351px,#d90000 369px,#c10300 375px,#b30700 377px,#871e00 381px,#752500 385px,#4d1800 427px,#4b0900 433px,#490000 439px,#530000 463px,#7e0900 499px,#b61700 541px,#e12305 591px,#ff3b1b 607px,#ff4527 611px,#ff5234 613px,#ff735b 615px,#ffcbc2 617px,#fff2f0 619px,#fff 621px,#fff 659px,#fdfaf7 661px,#ead8c1 663px,#b77e2f 665px,#ab6006 667px,#ae5800 673px,#9b3a00 709px,#7b2a01 749px,#7e3209 751px,#914e2d 753px,#efe4df 757px,#fcf9f8 759px,#fff 761px"></p><p style="--g:#fff 9px,#fcfcf3 11px,#ece498 13px,#d1c314 15px,#d2c402 17px,#ddca05 23px,#f2e112 29px,#fae518 31px,#fffc2d 35px,#ffff47 39px,#ffff95 47px,#ffffb0 51px,#ffffb8 55px,#ffffac 59px,#ffff61 67px,#ffff2b 73px,#fffc14 77px,#fff00c 79px,#ffe402 85px,#fd0 99px,#f7cc00 103px,#b88d00 105px,#5d3700 107px,#4d2900 109px,#4d2c00 115px,#5a3c15 117px,#efede9 121px,#fff 123px,#fff 183px,#f5d5d0 185px,#d0462d 187px,#c82503 189px,#dd2904 213px,#f0340e 225px,#ff4722 233px,#ff6a43 241px,#ff8c64 247px,#ff9c74 249px,#ffa37c 251px,#ffc099 255px,#ffd3ac 259px,#ffd3ae 261px,#ffdcb6 263px,#ffdbb5 267px,#ffcda7 271px,#ffa37f 277px,#ff6c4a 283px,#ff4627 289px,#ff3216 293px,#ff1e05 301px,#f00 337px,#fb0000 353px,#dc0000 367px,#ca0300 371px,#b90a00 373px,#872600 377px,#7a2d00 381px,#4d1e00 427px,#4c1600 435px,#460300 439px,#570300 471px,#ba1e00 547px,#e32906 593px,#fc3c17 605px,#ff4623 609px,#ff5733 611px,#ff7c61 613px,#ffcdc4 615px,#fff7f3 617px,#fff 619px,#fff 661px,#faf6f0 663px,#dabe96 665px,#b1741b 667px,#ac6402 669px,#aa5000 689px,#7f2f00 747px,#7e3104 753px,#834014 755px,#9f6a4b 757px,#d9c5b7 759px,#f6f0ef 761px,#fff 763px"></p><p style="--g:#fff 11px,#f9f6dc 13px,#d7cf2c 15px,#d1c704 17px,#e2d708 25px,#fff721 33px,#ffff39 37px,#ffff6d 43px,#ffff85 45px,#ffffae 51px,#ffffb5 55px,#ffffa5 59px,#ffff70 65px,#ffff45 69px,#ffff19 75px,#fffb0a 79px,#fff005 81px,#fff001 85px,#ffe801 87px,#ffe700 93px,#ffdc00 101px,#edc800 103px,#866100 105px,#533100 107px,#4d2e00 113px,#553809 115px,#826d4c 117px,#e8e4dd 119px,#fff 121px,#fff 183px,#fcefeb 185px,#de816b 187px,#cb300c 189px,#c92900 191px,#df2f04 215px,#f64013 227px,#ff491d 231px,#ff6a3c 239px,#ffa578 249px,#ffddb0 257px,#ffecc0 263px,#ffefc2 265px,#ffd8ac 271px,#ffbd93 275px,#ff8359 281px,#ff4a25 289px,#ff300e 295px,#ff1e02 305px,#f00 347px,#f70000 357px,#de0000 365px,#c00b00 369px,#8d2d00 373px,#7c3400 377px,#4d2100 429px,#4d1e00 437px,#480300 443px,#560500 473px,#b82100 547px,#e02d05 591px,#f73f14 603px,#ff4a20 607px,#ff5731 609px,#ff8468 611px,#ffdcd5 613px,#fff7f6 615px,#fff 617px,#fff 663px,#f6efe4 665px,#cba86a 667px,#ae730f 669px,#ad6900 671px,#ab5400 693px,#843600 743px,#7a3301 755px,#7d3a09 757px,#90572d 759px,#c6aa94 761px,#f1eae5 763px,#fff 765px"></p><p style="--g:#fff 11px,#fcfbeb 13px,#e1db5e 15px,#d4cf0a 17px,#d5cf02 19px,#efe911 29px,#fffc25 33px,#ffff3c 37px,#ffff5d 41px,#ffff83 45px,#ffffa3 49px,#ffffb2 53px,#ffffab 57px,#ffff8e 61px,#ffff3e 69px,#ffff15 75px,#fffb04 81px,#fff302 83px,#fff500 87px,#ffed00 95px,#ffe800 99px,#f9de00 101px,#c6a700 103px,#5f4000 105px,#4d2f00 107px,#4f3505 113px,#6d572e 115px,#d3cdc1 117px,#faf9f7 119px,#fff 121px,#fff 183px,#fffcfa 185px,#f2cdc3 187px,#cf4820 189px,#c82d01 191px,#e53a07 219px,#fd4b19 229px,#ff612e 235px,#ff8b57 243px,#ff9d69 245px,#ffa673 247px,#ffe4af 255px,#fffac8 261px,#fffac9 265px,#ffefbd 269px,#ffd6a5 273px,#ff9a6a 279px,#ff5b2e 287px,#ff370d 295px,#ff2401 307px,#f00 349px,#f70000 357px,#de0300 363px,#ce0900 365px,#923200 369px,#823b00 373px,#4d2400 429px,#4d2100 441px,#4b0300 447px,#530700 473px,#b72600 547px,#e33606 593px,#fd4c1c 605px,#ff5c2e 607px,#ff8565 609px,#ffddd6 611px,#fffaf9 613px,#fff 615px,#fff 663px,#fffdf9 665px,#efe4d0 667px,#bc923d 669px,#ad7407 671px,#b06d00 675px,#a65300 703px,#7a3600 757px,#7b3804 759px,#844a1b 761px,#af8a6c 763px,#e6dcd2 765px,#fbf6f6 767px,#fff 769px"></p><p style="--g:#fff 11px,#fcfcf3 13px,#eded9b 15px,#d4d416 17px,#d3d305 19px,#e7e60c 27px,#feff26 33px,#ffff3e 37px,#ffff98 47px,#ffffab 51px,#ffffae 55px,#ffff97 59px,#ffff74 63px,#ffff36 69px,#ffff10 75px,#fffe01 83px,#fff800 87px,#fff400 93px,#ffe900 99px,#edd400 101px,#876a00 103px,#533700 105px,#4d3400 111px,#5b4716 113px,#afa48d 115px,#f3f2ef 117px,#fff 119px,#fff 185px,#fceeea 187px,#de8467 189px,#ca3c0c 191px,#c93200 193px,#e13d06 217px,#fe541a 229px,#ff733a 237px,#ffa56b 245px,#ffe8ac 253px,#ffc 259px,#ffffcf 265px,#ffffcb 267px,#ffecb4 271px,#ffca92 275px,#ffb27a 277px,#ffa46c 279px,#ff8d56 281px,#ff5321 289px,#ff3b0c 295px,#ff2b01 307px,#ff0600 345px,#fc0000 355px,#eb0100 359px,#dc0700 361px,#bf1800 363px,#9d3500 365px,#8d4000 367px,#4d2600 427px,#4d2400 445px,#4d0400 451px,#510900 473px,#b92b00 551px,#e33c06 593px,#fa4e18 603px,#ff5f2d 605px,#ff9473 607px,#ffdfd6 609px,#fffaf9 611px,#fff 613px,#fff 665px,#fcf9f3 667px,#e1d1aa 669px,#b4871e 671px,#ae7603 673px,#af6400 691px,#9f5400 715px,#9d4e00 717px,#954b00 727px,#783b03 761px,#7e4611 763px,#9b7148 765px,#d7c6b4 767px,#f4eeeb 769px,#fff 771px"></p><p style="--g:#fff 13px,#fafadf 15px,#d7db3d 17px,#ced40f 19px,#d6de0d 23px,#dfe814 27px,#f6fc22 31px,#ffff35 35px,#ffff54 39px,#ffff6b 41px,#ffff9c 47px,#ffffb1 53px,#ffffa3 57px,#ffff82 61px,#ffff68 63px,#ff2 71px,#ffff08 77px,#fffc00 93px,#fff800 97px,#faed00 99px,#cebc00 101px,#604800 103px,#4d3500 105px,#4d3600 109px,#56400c 111px,#897c55 113px,#eae7e1 115px,#fff 117px,#fff 185px,#fef9f9 187px,#f1c8b8 189px,#cc4b1e 191px,#c83801 193px,#e54508 219px,#ff5a1b 229px,#ff7e3e 237px,#ff8947 239px,#ff9a59 241px,#ffa262 243px,#ffe9a6 251px,#fffcbf 255px,#ffffcd 257px,#ffffd8 261px,#ffffd5 265px,#fffcc2 269px,#ffe1a2 273px,#ff7f43 283px,#ff6229 287px,#ff4e14 291px,#ff3703 301px,#ff0b00 345px,#f00 353px,#ea0300 357px,#d60e00 359px,#964300 363px,#884800 369px,#4d2900 429px,#4d2a00 447px,#4d1900 451px,#4d0700 455px,#500b00 475px,#b32e00 547px,#df3f05 591px,#f45014 601px,#fa6029 603px,#ff9c7a 605px,#ffe9e2 607px,#fff 609px,#fff 667px,#f6f3e9 669px,#d0b776 671px,#b38515 673px,#af7d00 675px,#b06b00 693px,#8d4900 739px,#773d01 763px,#784107 765px,#845420 767px,#e6ded2 771px,#faf6f6 773px,#fff 775px"></p><p style="--g:#fff 13px,#fcfcef 15px,#e1e679 17px,#cad71a 19px,#ccd910 21px,#d2e118 25px,#dde918 27px,#fcff32 33px,#ffff4b 37px,#ffff61 39px,#ffff6c 41px,#ffff94 45px,#ffffb4 51px,#ffffad 55px,#ffffa2 57px,#ffff7f 61px,#ff6 63px,#ffff2e 69px,#ffff14 73px,#ffff03 79px,#fff900 97px,#efe600 99px,#958200 101px,#553f00 103px,#4d3700 105px,#513e06 109px,#706132 111px,#d5d1c2 113px,#fbfaf8 115px,#fff 117px,#fff 187px,#faece7 189px,#d77b51 191px,#ca4209 193px,#c83d00 195px,#e24806 217px,#fb5c17 227px,#ff6f2b 233px,#ff974f 239px,#ff9e58 241px,#ffe79d 249px,#fffeba 253px,#ffffd1 257px,#ffffdc 261px,#ffd 263px,#ffffce 267px,#ffffbd 269px,#fff6b2 271px,#ff9350 281px,#ff7231 285px,#ff5a1a 289px,#ff4609 295px,#ff3700 307px,#ff1900 339px,#ff0500 351px,#f80100 353px,#e60900 355px,#ba1d00 357px,#a43f00 359px,#944c00 361px,#824900 377px,#4d2b00 427px,#4d2b00 451px,#4d2500 453px,#4d0c00 457px,#4d0c00 475px,#b53400 549px,#df4705 591px,#ef5311 599px,#f46429 601px,#fb9d78 603px,#ffeae2 605px,#fff 607px,#fff 669px,#f6efdf 671px,#cbb160 673px,#b1880c 675px,#b18200 677px,#b07000 695px,#8a4c00 743px,#754103 767px,#7a4c12 769px,#997548 771px,#d5c7b4 773px,#f3efeb 775px,#fff 777px"></p><p style="--g:#fff 13px,#fcfdf6 15px,#eaefac 17px,#c7d82b 19px,#c7d815 21px,#c6dc1a 23px,#e1f224 29px,#e8fd30 31px,#f8ff36 33px,#ffff64 39px,#ff9 45px,#ffffb2 49px,#ffffb9 51px,#ffffb0 55px,#ffff92 59px,#ffff52 65px,#ffff2e 69px,#ffff0f 75px,#ffff04 81px,#ff0 95px,#fcf900 97px,#d4d000 99px,#655100 101px,#4e3a00 103px,#4d3c03 107px,#62531e 109px,#c3bda8 111px,#f6f6f2 113px,#fff 115px,#fff 187px,#fcf8f6 189px,#ebb8a2 191px,#cb5015 193px,#c84301 195px,#e14f06 217px,#fa6217 227px,#ff8336 235px,#ffab5d 241px,#ffe292 247px,#fffcb2 251px,#ffffd9 257px,#ffffe1 261px,#ffffd8 265px,#fffebe 269px,#fff7ac 271px,#ff974b 281px,#ff843b 283px,#ff6820 287px,#ff520b 293px,#ff4705 297px,#ff2300 335px,#fd0b00 349px,#f30900 351px,#d20e00 353px,#a53400 355px,#995000 357px,#925800 361px,#530 419px,#4d2f00 431px,#4d2e00 455px,#4d0c00 461px,#511000 481px,#b33a00 549px,#d94702 587px,#ea560f 597px,#ef6a2b 599px,#fab091 601px,#ffede6 603px,#fff 605px,#fff 669px,#fffdf9 671px,#f0e7cc 673px,#bc9f33 675px,#b08906 677px,#b48200 683px,#a26300 719px,#734301 769px,#744707 771px,#815820 773px,#e5ddd1 777px,#f9f7f5 779px,#fff 781px"></p><p style="--g:#fff 15px,#f8fbe2 17px,#cfde4e 19px,#c0d71f 21px,#d2e924 27px,#d8f32f 29px,#e7fd32 31px,#fdff4b 35px,#ffff93 43px,#ffffb9 49px,#ffffba 53px,#ffffa1 57px,#ffff41 67px,#ffff24 71px,#ffff10 77px,#fdff0c 81px,#ff0 95px,#efee00 97px,#978d00 99px,#540 101px,#4d3e00 105px,#594c13 107px,#a09876 109px,#f1eee9 111px,#fff 113px,#fff 189px,#f9e6de 191px,#d0652e 193px,#c74b03 195px,#da5003 213px,#f46212 225px,#ff7a26 231px,#ff802d 233px,#ffc773 243px,#fff9a7 249px,#ffffc5 253px,#ffd 257px,#ffffe3 261px,#ffffcb 267px,#fff7a6 271px,#ffe997 273px,#ffd17d 275px,#ff9844 281px,#ff6d1d 287px,#ff560a 293px,#f40 307px,#ff2600 337px,#fc1300 347px,#ee1000 349px,#c61900 351px,#a64400 353px,#9a5d00 355px,#905c00 365px,#553500 419px,#4d3000 431px,#4d3300 457px,#4d2c00 459px,#4d1100 463px,#4d0e00 469px,#511300 483px,#b23c00 549px,#db4f03 589px,#e5590c 595px,#eb6c29 597px,#f9b899 599px,#fff1ea 601px,#fff 603px,#fff 671px,#fcf9f3 673px,#ded49f 675px,#b79b1a 677px,#b28e01 679px,#b07800 701px,#724600 771px,#704603 773px,#764e10 775px,#917240 777px,#dad0bf 779px,#fbf9f7 781px,#fff 783px"></p><p style="--g:#fff 15px,#fcfcf3 17px,#e1ee96 19px,#beda2f 21px,#bfde24 23px,#d5f331 29px,#eaff45 33px,#fcff57 35px,#ffff61 37px,#ffff8b 41px,#ffff96 43px,#ffffb7 47px,#ffffc0 51px,#ffffbd 53px,#ffffa4 57px,#ffff7f 61px,#ffff65 63px,#ffff40 67px,#feff1f 73px,#f8ff1e 75px,#fdff13 79px,#faff13 83px,#ffff0c 89px,#fcfc08 95px,#d6d304 97px,#655600 99px,#4e4000 101px,#524607 105px,#827848 107px,#e7e5dc 109px,#fff 111px,#fff 189px,#fcf2ed 191px,#de976b 193px,#ca540c 195px,#c94e00 197px,#dd5704 215px,#fb6e18 227px,#ff7e25 231px,#ffaf57 239px,#fff69b 247px,#ffffbd 251px,#ffffd8 255px,#ffffe5 259px,#ffffdf 263px,#ffffc8 267px,#fffaa5 271px,#ffd67b 275px,#ffbd64 277px,#ff7922 285px,#ff600c 291px,#ff4d01 303px,#ff3800 327px,#fb1a00 345px,#ea1900 347px,#ae2800 349px,#a05800 351px,#9d6700 353px,#926100 365px,#553900 419px,#4d3400 431px,#4d3400 461px,#4d1100 467px,#511500 485px,#ad4000 547px,#de5705 591px,#e15d0c 593px,#e9702a 595px,#f7b999 597px,#fff2eb 599px,#fff 601px,#fff 673px,#f6f4e5 675px,#ccbd60 677px,#b3980c 679px,#b39300 681px,#b38400 697px,#895900 749px,#6e4904 775px,#806024 777px,#e0dacd 779px,#fcfcfa 781px,#fff 783px"></p><p style="--g:#fff 15px,#fcfff9 17px,#ecf5c5 19px,#bddc3b 21px,#b8dd2b 23px,#d7fb41 31px,#f8ff59 35px,#ffff7f 39px,#ffffbc 47px,#ffffc4 51px,#ffffb3 55px,#ffff53 65px,#fdff35 69px,#f3ff26 73px,#f5ff1f 75px,#efff21 77px,#f8ff17 81px,#f7ff16 87px,#fcff0d 93px,#f2f20a 95px,#a09904 97px,#564a00 99px,#4d4100 101px,#4d4301 103px,#635b1b 105px,#cac7ab 107px,#f9f9f5 109px,#fff 111px,#fff 189px,#fffcfa 191px,#f2d5c3 193px,#cf6720 195px,#c85201 197px,#df5e05 217px,#ff7c1e 229px,#ffaa4b 237px,#fff18e 245px,#ffffb1 249px,#ffffda 255px,#ffffe5 259px,#ffffdc 263px,#ffffb3 269px,#fffa9b 271px,#ffeb88 273px,#ffa94b 279px,#ff8828 283px,#ff6b0f 289px,#ff5e04 295px,#ff3a00 331px,#ff2600 341px,#f82000 343px,#e21e00 345px,#b43600 347px,#a26000 349px,#a06f00 351px,#604300 411px,#4d3700 427px,#4d3a00 463px,#4d3400 465px,#4d2000 467px,#4d1200 471px,#511800 487px,#b44800 553px,#db5a03 589px,#dd620d 591px,#e67c36 593px,#f7ceb4 595px,#fff5ef 597px,#fff 599px,#fff 673px,#fffef9 675px,#f0ebcc 677px,#bdad33 679px,#b29b06 681px,#b69600 687px,#a67700 719px,#704d00 773px,#73530c 775px,#a8956a 777px,#f3f0ea 779px,#fff 781px"></p><p style="--g:#fff 17px,#f7fce7 19px,#bfdf52 21px,#b3dc31 23px,#b5e335 25px,#c1ea36 27px,#c5f441 29px,#e5ff55 33px,#fcff71 37px,#ffff87 39px,#ffff93 41px,#ffffba 45px,#ffffc8 49px,#ffffc8 51px,#ffffb5 55px,#ffff92 59px,#ffff79 61px,#f9ff45 67px,#f1ff2f 71px,#e9ff2e 73px,#edff22 77px,#ecff22 81px,#f2ff1b 87px,#f3fe17 93px,#e2e712 95px,#746d04 97px,#504600 99px,#4d4400 101px,#57500c 103px,#979360 105px,#efefe5 107px,#fff 109px,#fff 191px,#fcf0ea 193px,#de9965 195px,#ca5f0c 197px,#c95900 199px,#dc6204 215px,#f57713 225px,#ff8f2a 231px,#ffb44e 237px,#fff690 245px,#ffffa6 247px,#ffffd3 253px,#ffffe5 259px,#ffffcd 265px,#ffa 269px,#fff893 271px,#ffd56b 275px,#ffbc55 277px,#ff9931 281px,#ff7813 287px,#ff6203 295px,#ff4700 325px,#fe2e00 339px,#f42700 341px,#d22700 343px,#a34000 345px,#a66f00 347px,#a17900 351px,#5e4400 413px,#4d3900 427px,#4d3f00 465px,#4d2d00 469px,#4d1a00 471px,#4d1500 475px,#511a00 489px,#b04a00 551px,#d85f03 587px,#db680e 589px,#e58641 591px,#f6d1b7 593px,#fff8f3 595px,#fff 597px,#fff 675px,#fcfbf3 677px,#dfdb9f 679px,#b8aa1a 681px,#b3a001 683px,#b38f00 703px,#815c00 759px,#715101 773px,#7f641b 775px,#dcd5c2 777px,#fcfcfa 779px,#fff 781px"></p><p style="--g:#fff 17px,#f9fcef 19px,#cce97b 21px,#afe03e 23px,#b4e339 25px,#c0f244 29px,#d0fe51 31px,#e8ff69 35px,#f9ff7e 37px,#ffff8a 39px,#ffffb0 43px,#ffffc9 47px,#ffffcf 49px,#ffffc4 53px,#ffff7c 61px,#ff6 63px,#f3ff46 67px,#e4ff36 71px,#e5ff2f 73px,#e0ff31 75px,#e9ff26 79px,#e8ff26 85px,#efff1c 91px,#ebf919 93px,#b6ba10 95px,#5d5603 97px,#4d4700 99px,#504b06 101px,#706c33 103px,#deddcc 105px,#fdfdf9 107px,#fff 109px,#fff 191px,#fcf9f6 193px,#ebc4a2 195px,#cb6917 197px,#c95e01 199px,#df6b05 217px,#f37b12 225px,#fe851b 227px,#ffa035 233px,#ffed7f 243px,#fffb97 245px,#ffffca 251px,#ffffe4 257px,#ffffdf 261px,#ffffc7 265px,#fffa8f 271px,#ffbb4c 277px,#ff8d22 283px,#ff7a10 287px,#ff6801 297px,#ff5200 319px,#fd3600 337px,#f02f00 339px,#bf2c00 341px,#a25900 343px,#a67a00 345px,#a78400 347px,#634b00 409px,#4d3b00 427px,#4d4000 469px,#4d2200 473px,#4d1700 477px,#511d00 491px,#ae5000 551px,#d66302 585px,#d86b0e 587px,#e5904d 589px,#f7dfcd 591px,#fff9f6 593px,#fff 595px,#fff 677px,#f5f5e4 679px,#cac354 681px,#b5aa0b 683px,#b5a600 685px,#b29100 707px,#745700 771px,#755906 773px,#988348 775px,#f0ede4 777px,#fff 779px"></p><p style="--g:#fff 17px,#fcfef6 19px,#dcf3af 21px,#aee04a 23px,#ace340 25px,#bdf64f 29px,#c9fc54 31px,#d4ff63 33px,#e9ff73 35px,#ffff95 39px,#ffffc5 45px,#ffffd3 49px,#ffffc6 53px,#ffffa6 57px,#ffff7c 61px,#f0ff57 65px,#e5ff4b 67px,#e4ff3f 69px,#daff3e 71px,#deff32 75px,#ddff31 79px,#e4ff26 91px,#d7ec1f 93px,#7f820b 95px,#534f00 97px,#4e4b01 99px,#5f5d1b 101px,#bcbb9f 103px,#f6f6f3 105px,#fff 107px,#fff 193px,#f7e4d4 195px,#d27e30 197px,#c86503 199px,#cf6500 205px,#e37208 219px,#fc891b 227px,#ff992a 231px,#ffe570 241px,#fffa87 243px,#ffffbe 249px,#ffffdf 255px,#ffffe2 259px,#ffffcf 263px,#ffffaf 267px,#fff885 271px,#ffe76f 273px,#ffcd56 275px,#ff9e29 281px,#ff8614 285px,#ff7706 291px,#ff6f01 297px,#ff5100 325px,#fc3e00 335px,#ed3500 337px,#bf3200 339px,#9a5f00 341px,#a88500 343px,#a88d00 347px,#6c5600 403px,#4d3f00 425px,#4d4500 471px,#4d3f00 473px,#4e2d03 475px,#56280c 477px,#4d1a00 481px,#531f00 493px,#ad5200 551px,#c96200 575px,#d26803 583px,#d77110 585px,#e3934d 587px,#f7e1ce 589px,#fffaf8 591px,#fff 593px,#fff 677px,#fcfcf8 679px,#e6e6b7 681px,#b8b623 683px,#b4ae04 685px,#b59d00 703px,#8f7200 747px,#755c01 771px,#7f6915 773px,#c7bc99 775px,#f9f8f3 777px,#fff 779px"></p><p style="--g:#fff 19px,#f3fce7 21px,#b8e66b 23px,#a8e348 25px,#b8f551 29px,#bffc5d 31px,#d0ff68 33px,#e3ff7d 35px,#eeff87 37px,#fcff9c 39px,#ffffb1 41px,#ffffd6 47px,#ffffd2 51px,#ffffb8 55px,#fcff79 61px,#e5ff59 65px,#d6ff46 69px,#d7ff3e 71px,#d1ff40 73px,#d9ff36 77px,#d8ff35 83px,#dfff2c 89px,#dbf928 91px,#b3c61a 93px,#5d5d03 95px,#4e4d00 97px,#55550d 99px,#909061 101px,#edece5 103px,#fff 105px,#fff 193px,#fcf6ee 195px,#ca700f 199px,#ca6a00 201px,#df7405 217px,#fd921b 227px,#ffa42d 231px,#ffbd44 235px,#ffdc61 239px,#fff178 241px,#ff9 245px,#ffffaf 247px,#ffffd8 253px,#ffffe3 257px,#ffc 263px,#ffff92 269px,#fff67c 271px,#ffe063 273px,#ffba3d 277px,#ff9419 283px,#ff820a 287px,#ff7300 301px,#ff6a00 309px,#ff5800 325px,#fc4500 333px,#e93b00 335px,#a43200 337px,#996400 339px,#a88e00 341px,#ab9600 345px,#6e5b00 401px,#4d4100 427px,#4d4b00 473px,#5b5714 475px,#97866b 477px,#724d37 479px,#56280c 481px,#4e1e02 483px,#532200 495px,#af5700 553px,#cf6d04 581px,#d67818 583px,#e3a262 585px,#f6e3d1 587px,#fffaf9 589px,#fff 591px,#fff 679px,#f8f8eb 681px,#b5b517 685px,#b5b201 687px,#b5a600 705px,#ad9600 717px,#786300 769px,#786305 771px,#94843c 773px,#eeeadf 775px,#fff 777px"></p><p style="--g:#fff 19px,#f9fcf3 21px,#caee99 23px,#a5e555 25px,#a9ed52 27px,#bafe63 31px,#ceff75 33px,#d9ff80 35px,#efff95 37px,#ffffb6 41px,#ffffc9 43px,#ffffdb 47px,#ffffd5 51px,#ffffba 55px,#feff8f 59px,#e5ff69 63px,#d8ff5e 65px,#d5ff51 67px,#ccff4e 69px,#ceff41 73px,#cdff41 77px,#d3ff3a 81px,#d4ff35 89px,#cdef2e 91px,#849514 93px,#525604 95px,#4d5008 97px,#6d7035 99px,#dcdccd 101px,#fcfcf9 103px,#fff 105px,#fff 193px,#fffcfa 195px,#f3ddc4 197px,#cd7d1b 199px,#c96e01 201px,#e27f08 219px,#fd951a 227px,#ffd353 237px,#ffe969 239px,#ffff89 243px,#ffffa0 245px,#ffffcd 251px,#ffffe0 255px,#ffffd3 261px,#fffe8a 269px,#fff670 271px,#ffcd49 275px,#ffac29 279px,#ff9515 283px,#ff8405 289px,#ff7d00 297px,#ff7500 305px,#ff5300 329px,#f94d00 331px,#df3f00 333px,#a23700 335px,#976b00 337px,#aa9700 339px,#aea000 343px,#6f5e00 401px,#4d4400 425px,#4c4d01 471px,#51530c 473px,#8b8e56 475px,#e6e4da 477px,#dcd3cd 479px,#917260 481px,#5d3417 483px,#4f2203 485px,#4f2300 495px,#ad5c00 553px,#cd7003 579px,#d47f1e 581px,#ebbb8a 583px,#f9efe2 585px,#fff 587px,#fff 681px,#f3f4df 683px,#bcc250 685px,#afb40e 687px,#b4b603 689px,#b8b000 701px,#ad9900 719px,#927d00 747px,#786601 769px,#806f14 771px,#c6be95 773px,#f9f9f3 775px,#fff 777px"></p><p style="--g:#fff 19px,#fcfff9 21px,#ddf6c0 23px,#a6e863 25px,#a2ea57 27px,#a9f461 29px,#baff6c 31px,#d3ff89 35px,#ebff98 37px,#ffffc3 41px,#ffffdb 45px,#ffffe0 49px,#ffffcb 53px,#fcffa7 57px,#f5ff8e 59px,#d9ff6b 63px,#c8ff57 67px,#c7ff4e 69px,#c1ff50 71px,#c9ff46 75px,#c6ff48 79px,#cefc38 89px,#b3d62b 91px,#5a650a 93px,#494f06 95px,#585e1f 97px,#babca1 99px,#f6f6f3 101px,#fff 103px,#fff 195px,#faf1e4 197px,#d69948 199px,#ca7806 201px,#cd7700 205px,#e9890b 221px,#fe9e1c 227px,#ffbc3a 233px,#ffe159 237px,#fffb79 241px,#ffffb3 247px,#ffffdb 253px,#ffd 257px,#ffc 261px,#ffffae 265px,#fffd7f 269px,#fff165 271px,#ffbd32 277px,#ffa21a 281px,#ff8f07 287px,#ff7f00 299px,#ff6e00 317px,#ff5b00 327px,#f85300 329px,#dd4600 331px,#8d3600 333px,#957100 335px,#ad9f00 337px,#b3ab00 339px,#776b00 395px,#4d4700 425px,#4a4d03 469px,#4a4e07 471px,#616527 473px,#d3d4c1 475px,#fafaf7 477px,#fcfbfa 479px,#ebe5e2 481px,#ad978a 483px,#653f22 485px,#512806 487px,#4d2200 491px,#542800 499px,#9e5600 543px,#c87200 575px,#ca7607 577px,#d18524 579px,#eac394 581px,#faf3e8 583px,#fff 585px,#fff 681px,#fcfcf7 683px,#dfe2b8 685px,#acb628 687px,#acb60c 689px,#b8b602 699px,#a99b00 725px,#7b6e03 769px,#8f8430 771px,#e7e5d3 773px,#fff 775px"></p><p style="--g:#fff 21px,#f2fceb 23px,#b2ec7e 25px,#9beb63 27px,#a6f666 29px,#beff7d 33px,#f7ffb6 39px,#ffffd8 43px,#ffffe6 47px,#ffffd9 51px,#ffffcd 53px,#f9ffa4 57px,#d8ff7d 61px,#caff72 63px,#c6ff63 65px,#bcff5e 67px,#beff51 71px,#bdff51 75px,#c2ff4a 81px,#c4ff45 87px,#bff43d 89px,#85a11e 91px,#4c560a 93px,#4c5412 95px,#83895b 97px,#ebede4 99px,#fff 101px,#fff 195px,#fcf9f3 197px,#e9c997 199px,#cc8114 201px,#ca7c01 203px,#e38b08 219px,#fca31b 227px,#ffb62f 231px,#fff568 239px,#ffff7c 241px,#ffffb6 247px,#ffffd1 251px,#ffffdb 255px,#ffffd3 259px,#ffffa3 265px,#ffff73 269px,#fff663 271px,#ffdf4b 273px,#ffbd2b 277px,#ff9d0d 283px,#ff9103 289px,#ff9202 291px,#ff8901 295px,#ff7a00 313px,#ff6300 325px,#f75900 327px,#ce4600 329px,#8b3700 331px,#927401 333px,#aea600 335px,#b3b103 337px,#afab00 345px,#6f6700 401px,#4d4800 425px,#474d06 469px,#535a19 471px,#f1f2ee 475px,#fff 477px,#fff 481px,#f2efed 483px,#cbbdb4 485px,#785a3f 487px,#593312 489px,#4f2703 491px,#512800 499px,#ab6600 553px,#c57702 573px,#ca7e0e 575px,#d6963e 577px,#efd6b4 579px,#fbf6ee 581px,#fff 583px,#fff 683px,#f4f6eb 685px,#bdca75 687px,#a5b720 689px,#a9b80f 691px,#b6ba05 701px,#aea700 721px,#7c7200 767px,#81790f 769px,#f7f6ee 773px,#fff 775px"></p><p style="--g:#fff 21px,#f9fff7 23px,#9def6f 27px,#a9fe78 31px,#dfffaa 37px,#f7ffc1 39px,#ffffe8 45px,#ffffeb 47px,#ffffdc 51px,#ffffc9 53px,#f6ffba 55px,#eeffa2 57px,#cdff7e 61px,#baff67 65px,#b8ff5e 67px,#b4ff5b 71px,#b6ff58 75px,#c0fe47 87px,#b1e83c 89px,#617616 91px,#48530e 93px,#5c652c 95px,#d0d4c3 97px,#fbfcf8 99px,#fff 101px,#fff 197px,#f8eedc 199px,#d2952d 201px,#ca8003 203px,#de8d06 217px,#f5a014 225px,#ffac1c 227px,#ffb225 229px,#ffcc3a 233px,#fffc6a 239px,#ffffa7 245px,#ffffd1 251px,#ffffd9 255px,#ffc 259px,#ffffaf 263px,#fffd6e 269px,#ffe244 273px,#ffcd33 275px,#ffab12 281px,#ff9c08 285px,#ff8e00 301px,#ff6d00 323px,#f66100 325px,#cc4c00 327px,#793100 329px,#856a04 331px,#a7a909 333px,#b0b508 335px,#a6a501 355px,#6c6800 403px,#4e4c00 423px,#454d08 467px,#495111 469px,#717945 471px,#e4e7d5 473px,#fff 475px,#fff 483px,#f7f6f6 485px,#e0d9d3 487px,#644321 491px,#512d06 493px,#4f2900 499px,#a76700 551px,#c27a03 571px,#c98617 573px,#dcab61 575px,#f6e5cf 577px,#fdfbf6 579px,#fff 581px,#fff 685px,#eaefd3 687px,#aabc46 689px,#9fb61b 691px,#a8ba13 695px,#b4b704 711px,#938c00 749px,#7c7701 767px,#8a8622 769px,#e7e5d0 771px,#fff 773px"></p><p style="--g:#fff 23px,#e4fbd8 25px,#9ef27c 27px,#99f675 29px,#a3ff81 31px,#b6ff8d 33px,#f4ffc6 39px,#fdffda 41px,#ffffed 45px,#ffffea 49px,#fcffcc 53px,#f2ffb9 55px,#cdff90 59px,#bdff84 61px,#b8ff74 63px,#aeff6f 65px,#afff61 69px,#adff61 73px,#b2ff5a 77px,#b4ff54 85px,#b2f74c 87px,#8bb631 89px,#4e5d11 91px,#4f5b1e 93px,#f1f2ee 97px,#fff 99px,#fff 197px,#fcf6ed 199px,#dfb467 201px,#cc8c0c 203px,#cc8500 205px,#e19607 219px,#ffae1c 227px,#ffc42d 231px,#fff459 237px,#fffe71 239px,#ffffc7 249px,#ffffd6 255px,#ffffba 261px,#fffc64 269px,#ffe03e 273px,#ffc021 277px,#ffac0e 281px,#ff9e04 287px,#ff9e01 291px,#ff9800 295px,#ff8200 315px,#fe7500 321px,#f46a00 323px,#cb5300 325px,#773200 327px,#785e08 329px,#a0a810 331px,#abb80e 333px,#a3a604 357px,#767500 397px,#4b4d01 423px,#424d0c 467px,#576228 469px,#bfc4af 471px,#f8f9f5 473px,#fff 475px,#fff 487px,#f2eeec 489px,#cabfb4 491px,#785e3f 493px,#593812 495px,#4f2c03 497px,#5b3300 507px,#ae6f00 557px,#bc7b00 567px,#c07f06 569px,#c88d22 571px,#e5c38a 573px,#f9f0e2 575px,#fffcfa 577px,#fff 579px,#fff 685px,#fafcf3 687px,#d2dda9 689px,#a0b933 691px,#9db81d 693px,#a9bb13 699px,#acb90d 709px,#afb507 715px,#959301 747px,#7e7c01 765px,#83820c 767px,#b0af6a 769px,#f6f6eb 771px,#fff 773px"></p><p style="--g:#fff 23px,#f4feef 25px,#aaf495 27px,#93f47c 29px,#a2ff87 31px,#c2ffa7 35px,#dbffbf 37px,#fbffdf 41px,#fffff4 45px,#ffffed 49px,#fcffdd 51px,#efffd0 53px,#e5ffb8 55px,#c2ff91 59px,#acff79 63px,#a9ff70 65px,#a3ff71 67px,#a9ff66 71px,#a6ff67 75px,#b2ff59 83px,#b2fe56 85px,#a5eb4d 87px,#5b791f 89px,#475718 91px,#6d794b 93px,#e5e7de 95px,#fff 97px,#fff 197px,#fcfbf6 199px,#ecd5a3 201px,#ce9317 203px,#cc8d01 205px,#dd9805 217px,#f7ad15 225px,#ffc024 229px,#ffd93c 233px,#fff95f 237px,#ffff98 243px,#ffb 247px,#ffffd3 253px,#ffffc1 259px,#ffff74 267px,#fffd5a 269px,#fff34a 271px,#ffde37 273px,#ffb912 279px,#ffaa04 285px,#ffa101 289px,#ff9e00 295px,#ff8e00 311px,#fe7d00 319px,#f17200 321px,#b74f00 323px,#723301 325px,#725809 327px,#99a613 329px,#a4b914 331px,#a3ad0a 351px,#787b03 393px,#484d04 425px,#404d0e 465px,#4a571c 467px,#8f9673 469px,#eeefe8 471px,#fff 473px,#fff 489px,#f7f6f6 491px,#e0dbd3 493px,#644721 497px,#533209 499px,#513000 503px,#a56e00 551px,#b97e02 565px,#be850e 567px,#cc9c3e 569px,#edd8b4 571px,#faf6ed 573px,#fff 575px,#fff 687px,#f1f4e7 689px,#adc36c 691px,#96b62a 693px,#9ebb1e 697px,#a9b810 713px,#979b04 743px,#878a04 757px,#7d8004 765px,#8b8d20 767px,#e0e0c2 769px,#fcfcfa 771px,#fff 773px"></p><p style="--g:#fff 23px,#fafff9 25px,#d0fbc6 27px,#97fa8d 29px,#9dfe8f 31px,#aaff9e 33px,#c1ffb5 35px,#d4ffc2 37px,#faffe8 41px,#fffff8 45px,#fffff8 47px,#f6ffe2 51px,#c3ffa4 57px,#b2ff97 59px,#abff87 61px,#a0ff81 63px,#9fff71 67px,#9aff74 69px,#a2ff6b 75px,#a6ff63 83px,#a5fa5c 85px,#8ece46 87px,#4a611b 89px,#52632d 91px,#bdc4b0 93px,#f8f9f6 95px,#fff 97px,#fff 199px,#f7ecd4 201px,#d4a430 203px,#cc9303 205px,#de9f06 217px,#f7b516 225px,#ffd230 231px,#fffe61 237px,#ffffac 245px,#ffffce 251px,#ffffce 255px,#ffffb9 259px,#fffc53 269px,#ffd022 275px,#ffb70a 281px,#ffac03 285px,#ffae01 289px,#ffa500 293px,#ffa200 299px,#fd8700 317px,#f17a00 319px,#b55400 321px,#662c00 323px,#674c0c 325px,#8b9f1d 327px,#9bb920 329px,#9fb81a 339px,#9fb011 349px,#7d8408 387px,#454d07 423px,#3e4d0f 463px,#3f4f13 465px,#5e6d3a 467px,#d2d5c9 469px,#fcfcfa 471px,#fff 473px,#fff 493px,#f3eeec 495px,#ccc3b6 497px,#887254 499px,#60431a 501px,#533606 503px,#593800 509px,#9e6c00 547px,#b37e01 561px,#b88206 563px,#c08d1b 565px,#d5af61 567px,#f3e7cf 569px,#fcfbf6 571px,#fff 573px,#fff 687px,#fcfcf9 689px,#d9e3c1 691px,#96b845 693px,#92b829 695px,#a1bc1b 705px,#9fad0e 727px,#7a8309 763px,#7c8310 765px,#a4a755 767px,#f2f2e7 769px,#fff 771px"></p><p style="--g:#fff 25px,#eaffea 27px,#9cfa98 29px,#97ff99 31px,#a5ffa9 33px,#bdffba 35px,#cbffce 37px,#f3fff0 41px,#fff 43px,#fff 47px,#f8ffee 49px,#e7ffe2 51px,#dcffcc 53px,#c7ffbd 55px,#b8ffa5 57px,#9fff8b 61px,#9bff81 63px,#94ff81 65px,#98ff75 69px,#96ff77 73px,#9eff6d 77px,#a3ff64 83px,#9df25d 85px,#6b9e37 87px,#4b6125 89px,#919d79 91px,#eef1e9 93px,#fff 95px,#fff 199px,#fcf9ee 201px,#ce9c0f 205px,#ce9900 207px,#dda405 217px,#f5b915 225px,#ffcc26 229px,#ffe93f 233px,#fff952 235px,#ff8 241px,#ffffc6 249px,#ffffcd 253px,#ffffc1 257px,#ffff9f 261px,#ffff5e 267px,#fffd4e 269px,#ffe02a 273px,#ffc812 277px,#ffb705 283px,#ff9a00 311px,#fc8e00 315px,#ed7f00 317px,#b55800 319px,#642d00 321px,#5d3f09 323px,#819622 325px,#92b727 327px,#9abc23 331px,#9bb318 347px,#7c8b0f 383px,#444d08 423px,#3b4d12 463px,#485a24 465px,#f1f2ef 469px,#fff 471px,#fff 495px,#f9f9f8 497px,#ece9e4 499px,#c3b8a9 501px,#78633d 503px,#5c4112 505px,#573904 507px,#765200 525px,#af8104 559px,#b68912 561px,#c69e3d 563px,#e7d3a9 565px,#f8f3e5 567px,#fffcfa 569px,#fff 571px,#fff 689px,#f5f7f0 691px,#bed796 693px,#92ba3d 695px,#8eba2d 697px,#9fb91b 713px,#8fa010 741px,#78840d 763px,#7e8a20 765px,#c8cd9b 767px,#f9f9f4 769px,#fff 771px"></p><p style="--g:#fff 25px,#f5fff5 27px,#acfeb1 29px,#95ffa0 31px,#b2ffbe 35px,#ddffea 39px,#f7ffff 43px,#f7fffe 47px,#ecfff5 49px,#e1ffe2 51px,#ccffd2 53px,#baffb9 55px,#a7ffaa 57px,#9fff99 59px,#93ff92 61px,#8fff82 65px,#8aff84 67px,#94ff79 71px,#94ff77 79px,#97fd6d 83px,#89de59 85px,#4d7027 87px,#5c7141 89px,#daded3 91px,#fcfdfa 93px,#fff 95px,#fff 199px,#fffcfa 201px,#f5e8c4 203px,#d1a51b 205px,#cd9c01 207px,#e8b30b 221px,#ffca1e 227px,#ffe032 231px,#fff344 233px,#ffff63 237px,#ffff9d 243px,#ffffc4 249px,#ffffc9 253px,#ffffb9 257px,#ffff84 263px,#ffff57 267px,#fff332 271px,#ffd618 275px,#ffc40a 279px,#ffb400 293px,#ffaf00 299px,#fc9700 313px,#e98500 315px,#984e00 317px,#622d01 319px,#5c3e0c 321px,#768c26 323px,#88b631 325px,#8fbd2f 329px,#95ba26 339px,#97b620 345px,#91b424 347px,#889f17 367px,#56630d 409px,#404d0d 423px,#394d14 461px,#3b501a 463px,#65774c 465px,#dcdfd7 467px,#fff 469px,#fff 499px,#f7f6f3 501px,#dfdbd3 503px,#725b2e 507px,#614711 509px,#5c4004 511px,#a57c01 553px,#a98104 555px,#b08711 557px,#bb982e 559px,#f2e8d3 563px,#fcfaf3 565px,#fff 567px,#fff 691px,#e9f1db 693px,#9dc564 695px,#88b937 697px,#96bd27 707px,#96ba24 715px,#97b31d 723px,#758614 763px,#8c983c 765px,#e6e9d5 767px,#fff 769px"></p><p style="--g:#fff 25px,#f9fff9 27px,#c6ffce 29px,#95ffae 31px,#a0ffb6 33px,#aeffca 35px,#c7ffe0 37px,#e6fffc 41px,#f2ffff 45px,#edfffe 47px,#defff5 49px,#d4ffe2 51px,#bfffd2 53px,#aeffb9 55px,#91ff9c 59px,#8dff91 61px,#86ff90 63px,#88ff86 67px,#88ff85 71px,#93ff74 81px,#8df56b 83px,#65a744 85px,#48642f 87px,#9aa78d 89px,#f2f4f0 91px,#fff 93px,#fff 201px,#faf5e4 203px,#d6b63b 205px,#cda506 207px,#d5a902 213px,#e7ba0a 221px,#fdcf1c 227px,#ffee36 231px,#ffff53 235px,#ffff74 239px,#ffff8c 241px,#ffffba 247px,#ffffc7 251px,#ffffbd 255px,#ffff8e 261px,#fffc3b 269px,#ffd814 275px,#ffc505 281px,#ffc502 285px,#ffbf00 289px,#ffab00 307px,#fc9d00 311px,#e98d00 313px,#985400 315px,#5f2d03 317px,#5e3a13 319px,#7d883b 321px,#7eb03a 323px,#83bb39 325px,#8ebd2f 335px,#8fb425 349px,#8fb021 353px,#89ae26 355px,#85a41e 365px,#586a12 405px,#404e0e 421px,#364d18 461px,#475d2f 463px,#acb6a0 465px,#f3f5f2 467px,#fff 469px,#fff 503px,#f3f1ee 505px,#e0dbd1 507px,#76612f 511px,#6a5115 513px,#644902 517px,#9e7b02 549px,#a98511 553px,#b6972e 555px,#f1e7d1 559px,#fbf7ee 561px,#fff 563px,#fff 691px,#f9fcf3 693px,#c8e0ad 695px,#88bc4c 697px,#82ba38 699px,#92bb2a 715px,#90b828 719px,#93b624 721px,#8db428 723px,#8ba91f 735px,#728816 761px,#798c22 763px,#f7f8ee 767px,#fff 769px"></p><p style="--g:#fff 27px,#e1ffe8 29px,#9affb8 31px,#97ffbe 33px,#c1ffe9 37px,#e0ffff 41px,#e8ffff 45px,#d7fff6 49px,#c3ffe7 51px,#b2ffce 53px,#9dffbe 55px,#93ffab 57px,#86ffa4 59px,#7fff92 63px,#7bff94 65px,#83ff8a 69px,#85ff85 77px,#87fe7d 81px,#7fe76c 83px,#4c7934 85px,#657b54 87px,#e2e7e1 89px,#fff 91px,#fff 201px,#fcf9f1 203px,#cfac0f 207px,#d0ac01 209px,#e7bf0a 221px,#ffd71c 227px,#fffd44 233px,#ffffae 245px,#ffffc1 249px,#ffffbf 253px,#ffa 257px,#ffff87 261px,#ffff6e 263px,#ffff35 269px,#ffe51a 273px,#ffd206 279px,#ffca01 285px,#ffb300 305px,#faa600 309px,#e08f00 311px,#965700 313px,#5d3000 315px,#5f3814 317px,#a8947a 319px,#c5d5ae 321px,#82bc55 323px,#7abb41 325px,#89bd34 337px,#83a925 361px,#5f7718 397px,#3b4d12 423px,#344d19 459px,#3a5323 461px,#768968 463px,#e8eae6 465px,#fff 467px,#fff 507px,#f5f2ee 509px,#e4dfd4 511px,#c3b9a0 513px,#918153 515px,#756020 517px,#6f5606 523px,#876b00 537px,#987a06 545px,#a7871a 549px,#b8a043 551px,#d1c083 553px,#efe7d1 555px,#faf7ee 557px,#fff 559px,#fff 693px,#eff5e9 695px,#9ec67c 697px,#7cba46 699px,#83bd3b 703px,#8bb52b 723px,#7a951d 751px,#6e891d 761px,#7d9634 763px,#dde3c9 765px,#fff 767px"></p><p style="--g:#fff 27px,#f2fff7 29px,#b0ffcc 31px,#95ffca 33px,#cdfffb 39px,#e1ffff 43px,#e0ffff 45px,#d5fffe 47px,#b4ffe5 51px,#a4ffcd 53px,#85ffaf 57px,#7fffa3 59px,#77ffa1 61px,#79ff96 63px,#78ff94 69px,#84ff82 79px,#80f77c 81px,#63b857 83px,#4b6e3c 85px,#b3beac 87px,#f7f9f6 89px,#fff 91px,#fff 203px,#f6efcf 205px,#d3b620 207px,#cfaf02 209px,#d9b603 215px,#f6d615 225px,#ffe020 227px,#fffa37 231px,#ffff65 237px,#ffff9e 243px,#ffffbf 249px,#ffffba 253px,#ffff93 259px,#ffff3f 267px,#fff721 271px,#ffe10e 275px,#ffd502 281px,#ffb700 305px,#f7ae00 307px,#dc9500 309px,#824e00 311px,#592e00 313px,#562f0c 315px,#8a6f55 317px,#e9e4de 319px,#eff6e9 321px,#9ece85 323px,#79bc4f 325px,#79be44 329px,#81bf3e 335px,#83bb3a 341px,#7fac2d 359px,#698a21 385px,#3e5416 417px,#3a4d13 425px,#324e1e 459px,#4d653c 461px,#ccd4c8 463px,#fafbf9 465px,#fff 467px,#fff 511px,#f1efe8 515px,#e4e1d3 517px,#928044 523px,#806a1e 525px,#7f6710 529px,#967e15 541px,#9e841e 543px,#af9a44 545px,#c7b675 547px,#f4f1e3 551px,#fff 555px,#fff 693px,#f9fbf9 695px,#c9dabe 697px,#7db85a 699px,#76ba44 701px,#87bc36 715px,#82b433 725px,#7ba227 743px,#6c8b20 759px,#6e8c27 761px,#9aaf67 763px,#f1f5e9 765px,#fff 767px"></p><p style="--g:#fff 27px,#f9fffc 29px,#d2ffe7 31px,#9affd4 33px,#b3fff6 37px,#c7ffff 39px,#d9ffff 43px,#cff 47px,#bbfff6 49px,#94ffd2 53px,#8affbf 55px,#79ffb6 57px,#77ffa7 59px,#6bffa4 63px,#72ff9b 65px,#74ff96 75px,#77ff8b 79px,#74ec7b 81px,#4d8744 83px,#7e9676 85px,#e9ede8 87px,#fff 89px,#fff 203px,#fbf9e8 205px,#ddca51 207px,#d1ba0a 209px,#d1b801 211px,#e9cb0c 221px,#fee720 227px,#ffff37 231px,#ffff54 235px,#ffff6c 237px,#ffff8c 241px,#ffffa0 243px,#ffffb8 247px,#ffb 251px,#ffffab 255px,#ffff28 269px,#fff012 273px,#ffe007 277px,#ffe104 279px,#ffd801 283px,#ffc700 301px,#ffc300 303px,#f6b700 305px,#cd9000 307px,#804f00 309px,#572e00 311px,#522e06 313px,#6f5330 315px,#d5ccc2 317px,#faf9f7 319px,#fcfdfa 321px,#daecd5 323px,#84c46e 325px,#70bb4f 327px,#80bc3d 341px,#7cba3e 345px,#7fb335 353px,#5c7f23 393px,#374d16 421px,#2f4d1e 457px,#3c582f 459px,#f0f2ef 463px,#fff 465px,#fff 517px,#f2efe6 523px,#e6e2d2 525px,#cdc5a7 527px,#bdb185 529px,#c0b380 535px,#c5b885 537px,#d3c9a2 539px,#ddd5b3 541px,#ece6d4 543px,#f5f2e6 545px,#fff 551px,#fff 695px,#f1f6ee 697px,#aad19b 699px,#76bb55 701px,#73bc4a 703px,#7dbe41 713px,#7eb032 731px,#688d26 759px,#759639 761px,#cdd8b7 763px,#f9fcf9 765px,#fff 767px"></p><p style="--g:#fff 29px,#ebfff7 31px,#a2ffe2 33px,#9cffea 35px,#b2fffc 37px,#cdffff 41px,#d0ffff 43px,#bfffff 47px,#adfff8 49px,#79ffc2 55px,#71ffb5 57px,#69ffb1 59px,#6bffa7 61px,#64ffa9 65px,#6eff9d 71px,#75ff93 77px,#73f98a 79px,#60c76d 81px,#577e53 83px,#d0ddce 85px,#fafcfa 87px,#fff 89px,#fff 203px,#fcfcf2 205px,#eae18d 207px,#d1bf14 209px,#d1bb02 211px,#eed810 223px,#feed20 227px,#fffb2b 229px,#ffff45 233px,#ffff69 237px,#ffff90 241px,#ffffae 245px,#ffffb9 249px,#ffffb9 251px,#ffff95 257px,#ffff32 267px,#fffa16 271px,#ffef0f 273px,#ffe203 279px,#ffdf01 283px,#ffd900 291px,#fdc900 301px,#f4bd00 303px,#cb9400 305px,#704600 307px,#552f00 309px,#502f04 311px,#62461f 313px,#bdb09f 315px,#f6f4f2 317px,#fff 319px,#fff 321px,#f5fbf4 323px,#bde1b7 325px,#74be62 327px,#6bbc52 329px,#7abb42 345px,#68972f 377px,#3f5a1c 413px,#344d18 421px,#2d4d20 455px,#2f4f25 457px,#546f4e 459px,#d9ded7 461px,#fff 463px,#fff 525px,#f7f6f1 529px,#fcfbf6 541px,#fff 543px,#fff 697px,#e1f0de 699px,#82c372 701px,#6cbb53 703px,#7bbd42 717px,#78ba43 721px,#7bb339 729px,#64902b 757px,#669030 759px,#8dac63 761px,#eef2e7 763px,#fff 765px"></p><p style="--g:#fff 29px,#f7fffc 31px,#bffff0 33px,#9dfff5 35px,#b8ffff 39px,#c6ffff 41px,#c0ffff 45px,#a1fff8 49px,#8bffe8 51px,#7fffd3 53px,#6cffc9 55px,#6affb9 57px,#5dffb4 61px,#63ffab 63px,#61ffab 69px,#69ff9c 77px,#67ef8c 79px,#4f9358 81px,#96ac95 83px,#eff3ef 85px,#fff 87px,#fff 205px,#f8f4d1 207px,#d6c92d 209px,#d1c404 211px,#ddcd05 217px,#e2d608 219px,#e6d60a 221px,#fff620 227px,#ffff48 233px,#ffff8f 241px,#ffffac 245px,#ffffb7 249px,#ffff9f 255px,#ffff3c 265px,#ffff1c 269px,#ffff13 271px,#ffee06 275px,#ffef04 277px,#ffe501 281px,#ffe500 285px,#ffdf00 291px,#fcd300 299px,#edc100 301px,#b68a00 303px,#6c4700 305px,#523100 307px,#4e2e00 309px,#5b4115 311px,#efede9 315px,#fff 317px,#fff 323px,#ebf5ea 325px,#8ccc88 327px,#66bd5c 329px,#72bd4c 343px,#72bb49 347px,#75b944 349px,#6fb748 351px,#73b341 355px,#59862e 389px,#314d1b 421px,#2a4d24 455px,#3b5d38 457px,#a5b5a5 459px,#f3f5f3 461px,#fff 463px,#fff 697px,#f6fcf5 699px,#bbe1b9 701px,#6ebe67 703px,#66bc57 705px,#70c050 713px,#73ba47 723px,#649633 753px,#629130 757px,#6d9741 759px,#bfd1aa 761px,#f9f9f6 763px,#fff 765px"></p><p style="--g:#fff 31px,#e1fffd 33px,#a3fffb 35px,#a6ffff 37px,#bfffff 41px,#b3ffff 45px,#a5ffff 47px,#81ffe9 51px,#6effd3 53px,#5affc3 57px,#5cffb8 59px,#55ffb8 63px,#5effaf 67px,#60ffaa 73px,#65fc9a 77px,#5dd984 79px,#618b67 81px,#dae1da 83px,#fff 85px,#fff 205px,#fcfcea 207px,#e2dd67 209px,#d3c90d 211px,#d5ce02 213px,#e0d707 219px,#efe510 223px,#f9f317 225px,#ffff38 231px,#ffff6c 237px,#ffff81 239px,#ffff8c 241px,#ffffa1 243px,#ffffb2 247px,#ffffaf 251px,#ffff97 255px,#ffff73 259px,#ffff46 263px,#ffff23 267px,#fffc09 273px,#fff003 277px,#ffe400 291px,#fcd700 297px,#e9c300 299px,#987400 301px,#5f3e00 303px,#503100 305px,#4d3000 307px,#563a0c 309px,#897655 311px,#e9e5e0 313px,#fff 315px,#fff 323px,#f9fcf9 325px,#c9e7ca 327px,#6cc16f 329px,#5fbd5e 331px,#69c058 339px,#6fbb4d 347px,#6bb84d 351px,#66a43f 369px,#4a752b 399px,#2f4e1f 419px,#284d25 453px,#2d522d 455px,#638165 457px,#e5e9e6 459px,#fff 461px,#fff 699px,#eaf5ea 701px,#8acb8a 703px,#61bd60 705px,#6dbd51 719px,#6dbb4e 723px,#6daf43 735px,#609a3a 751px,#5f9439 757px,#81a961 759px,#eaf1e5 761px,#fff 763px"></p><p style="--g:#fff 31px,#f4ffff 33px,#b3fffe 35px,#a1ffff 37px,#b0ffff 39px,#b4ffff 43px,#9affff 47px,#82fff8 49px,#63ffdc 53px,#5cffcb 55px,#4dffc4 59px,#53ffbb 61px,#52ffba 67px,#5cffa9 75px,#59f59d 77px,#57b376 79px,#a9c1ad 81px,#f3f6f3 83px,#fff 85px,#fff 205px,#fcfcf3 207px,#edeb9a 209px,#d4d213 211px,#d4d003 213px,#e8e40b 221px,#fdfc22 227px,#ffff2b 229px,#ffff59 235px,#ffff70 237px,#ffffa1 243px,#ffffb1 247px,#ffffa1 253px,#ffff2e 265px,#ffff14 269px,#fffe04 275px,#fff401 279px,#fff600 283px,#ffed00 287px,#ffeb00 293px,#fce200 295px,#e1c500 297px,#967900 299px,#5b3e00 301px,#4f3200 303px,#513806 307px,#6f5a30 309px,#d5cec2 311px,#fafaf8 313px,#fff 315px,#fff 325px,#eff8f0 327px,#93d29e 329px,#5cbe6b 331px,#62c05f 337px,#65be59 345px,#68b951 351px,#63b855 353px,#64af4c 361px,#538936 387px,#2d4d20 419px,#254d29 453px,#3c6042 455px,#b6c5b9 457px,#f8f9f9 459px,#fff 461px,#fff 699px,#f9fcf9 701px,#c6e6cc 703px,#67c075 705px,#5abd62 707px,#6abc52 723px,#67b951 727px,#63a441 745px,#5a983e 753px,#5a953b 755px,#619846 757px,#f6f9f4 761px,#fff 763px"></p><p style="--g:#fff 33px,#d8ffff 35px,#a6ffff 37px,#adffff 41px,#9dffff 45px,#79fffb 49px,#57ffda 53px,#4cffd3 55px,#4cffc8 57px,#47ffc5 61px,#4dffbf 65px,#4fffba 71px,#57ffab 75px,#58ec9e 77px,#76ad8b 79px,#e7eeea 81px,#fff 83px,#fff 207px,#f8f8d2 209px,#d6d620 211px,#d1d407 213px,#e3e811 221px,#f6f71b 225px,#ff3 229px,#ffff3c 231px,#ffffa1 243px,#ffffae 247px,#ffffa7 251px,#ffff5f 259px,#ffff26 265px,#ffff0a 271px,#fffc01 279px,#fff400 289px,#ffed00 293px,#edd800 295px,#8b7000 297px,#593e00 299px,#4e3400 301px,#4d3502 305px,#614c1c 307px,#bcb39f 309px,#f6f5f2 311px,#fff 313px,#fff 327px,#d4edda 329px,#64c27d 331px,#54bd6a 333px,#5ebf61 345px,#60ae4f 363px,#417534 399px,#294d24 419px,#234d2a 451px,#2b5334 453px,#748f7a 455px,#eaeeec 457px,#fff 459px,#fff 701px,#eef7f1 703px,#8fd1a1 705px,#58be6f 707px,#60c060 717px,#63ba56 727px,#60b353 733px,#559642 755px,#67a155 757px,#d9e5d4 759px,#fff 761px"></p><p style="--g:#fff 33px,#f2ffff 35px,#b0ffff 37px,#a2ffff 39px,#a6ffff 41px,#92ffff 45px,#7affff 47px,#58ffef 51px,#4fffdd 53px,#43ffd7 55px,#44ffc9 59px,#40ffcc 63px,#4dffbb 71px,#4bffba 73px,#4df7ae 75px,#55c691 77px,#bbd4c5 79px,#f9faf9 81px,#fff 83px,#fff 207px,#fafbe9 209px,#dade4e 211px,#cdd512 213px,#d1d80a 215px,#dee815 221px,#f0f921 225px,#fdff2b 227px,#ffff53 233px,#ffffa9 243px,#ffffb2 247px,#ffffa5 251px,#ffff85 255px,#ffff43 261px,#ffff17 267px,#ffff03 275px,#fff900 291px,#f9f000 293px,#c6b600 295px,#5f4700 297px,#4d3500 299px,#4d3700 303px,#58440f 305px,#988c6a 307px,#edebe7 309px,#fff 311px,#fff 327px,#eff9f2 329px,#92d4ac 331px,#56be77 333px,#4fbf70 335px,#5cbf64 345px,#57bd66 349px,#5bba5e 353px,#57b861 355px,#57ac55 365px,#3f793a 397px,#284d25 419px,#224e2f 451px,#3d654c 453px,#cad4cc 455px,#fafcfb 457px,#fff 459px,#fff 703px,#d3ecdc 705px,#62c284 707px,#4fbd6f 709px,#59bf67 721px,#5cbc60 725px,#59b55d 733px,#5aae54 739px,#529a48 753px,#54994e 755px,#89b881 757px,#eff6ec 759px,#fff 761px"></p><p style="--g:#fff 33px,#f8ffff 35px,#c5ffff 37px,#a0ffff 39px,#94ffff 43px,#5cfff9 49px,#3fffe6 53px,#3dffdb 55px,#36ffda 57px,#3effce 61px,#3cffce 67px,#47ffbc 73px,#4df0ae 75px,#84bea5 77px,#ebf2f0 79px,#fff 81px,#fff 207px,#fcfcf4 209px,#e9ef9c 211px,#cbd722 213px,#c8d812 215px,#d0e119 219px,#dce818 221px,#e9f927 225px,#f9ff32 227px,#ffff4a 231px,#ffff5f 233px,#ffff6b 235px,#ffff93 239px,#ffffb5 245px,#ffffb1 249px,#ffff81 255px,#ff5 259px,#ffff30 263px,#ffff15 267px,#ffff03 275px,#fffa00 291px,#f1e900 293px,#8f7d00 295px,#533d00 297px,#4d3900 301px,#513f07 303px,#7e6f3d 305px,#dfdbd0 307px,#fcfbf9 309px,#fff 311px,#fff 329px,#dbf1e3 331px,#65c68f 333px,#4abe78 335px,#52bf6e 347px,#53bd69 351px,#50a455 371px,#3b7d42 395px,#27522b 415px,#254d29 423px,#1e4d2f 449px,#2c583e 451px,#eff2f0 455px,#fff 457px,#fff 703px,#f1fbf4 705px,#51be7e 709px,#4abf75 711px,#55be69 723px,#55b15b 737px,#4e9b4e 753px,#5ea05d 755px,#c6dcc4 757px,#f9fcf9 759px,#fff 761px"></p><p style="--g:#fff 35px,#dbffff 37px,#a0ffff 39px,#89ffff 43px,#4ffffc 49px,#45ffee 51px,#36ffe9 53px,#33ffdb 57px,#2effdd 59px,#3effc6 71px,#40f8bd 73px,#58d0a5 75px,#cde4db 77px,#fff 79px,#fff 209px,#f7fbdf 211px,#cbdc3f 213px,#c3d71a 215px,#c4dc1c 217px,#cfe11a 219px,#d9ef26 223px,#e7fc30 225px,#f2fe35 227px,#fdff45 229px,#ffff61 233px,#ffffab 241px,#ffffb9 245px,#ffffb2 249px,#ffff96 253px,#ffff54 259px,#ffff24 265px,#ff1 269px,#ffff06 277px,#fdfc00 291px,#dcda00 293px,#635200 295px,#4e3b00 297px,#4d3d02 301px,#62541e 303px,#c5beaa 305px,#f6f6f3 307px,#fff 309px,#fff 329px,#f2fbf6 331px,#4cbe84 335px,#43bf7d 337px,#4ec073 347px,#4dac5f 367px,#316e3d 403px,#234d2a 417px,#1c4d31 447px,#1e4f35 449px,#466e59 451px,#d6deda 453px,#fff 455px,#fff 705px,#daf1e7 707px,#60c492 709px,#45be7d 711px,#4dbf73 723px,#4fad5e 741px,#4b9e57 753px,#74b27b 755px,#eaf2eb 757px,#fff 759px"></p><p style="--g:#fff 35px,#f1ffff 37px,#abffff 39px,#8bffff 41px,#6cffff 45px,#43ffff 49px,#34fff6 51px,#2effeb 53px,#27ffea 55px,#2dffdf 59px,#2cffde 65px,#36ffcc 71px,#43f0bc 73px,#93ceba 75px,#eff6f3 77px,#fff 79px,#fff 209px,#fafced 211px,#d6e66d 213px,#bdda27 215px,#c2dc1e 217px,#cce626 221px,#e1fa33 225px,#fbff4a 229px,#ffff7c 235px,#ffffa4 239px,#ffffba 243px,#ffffbc 247px,#ffffa7 251px,#ffff82 255px,#ffff68 257px,#ffff43 261px,#ffff26 265px,#ffff12 271px,#fcff11 275px,#ffff09 279px,#ffff08 285px,#ffff05 289px,#f4f203 291px,#574700 295px,#4d3d00 297px,#4d3e00 299px,#594c10 301px,#9e9773 303px,#f1eee9 305px,#fff 307px,#fff 331px,#dbf1e9 333px,#5bc698 335px,#3dbe85 337px,#46bf7a 349px,#4ab86f 357px,#45b672 359px,#45a662 371px,#29653b 407px,#1f4e2f 417px,#194d34 447px,#2a5b45 449px,#97afa4 451px,#f0f4f2 453px,#fff 455px,#fff 705px,#f1faf7 707px,#98d5bb 709px,#47be87 711px,#3ebf81 713px,#4bc076 723px,#46bd76 727px,#4aba70 731px,#47b36c 737px,#49ab62 743px,#45a05a 751px,#53a467 753px,#b3d6b9 755px,#f6fbf8 757px,#fff 759px"></p><p style="--g:#fff 35px,#f9ffff 37px,#ceffff 39px,#8ff 41px,#6dffff 43px,#5fffff 45px,#48ffff 47px,#2afffc 51px,#25ffef 53px,#1fffee 57px,#2cffdc 67px,#31f7ca 71px,#51d1af 73px,#d8ede7 75px,#fff 77px,#fff 209px,#fcfdf6 211px,#e2f0a6 213px,#beda34 215px,#badc26 217px,#d7f93b 225px,#e6ff43 227px,#f8ff56 229px,#ffff75 233px,#ffffab 239px,#ffffc3 245px,#ffffb4 249px,#ffffa9 251px,#ff6 257px,#ffff36 263px,#fcff22 267px,#f5ff1d 271px,#fbff14 273px,#f7ff17 277px,#ffff0b 285px,#fdfc09 289px,#dfdd05 291px,#6e6200 293px,#4f4200 295px,#514607 299px,#786f3d 301px,#dfddd1 303px,#fdfcfa 305px,#fff 307px,#fff 331px,#f3fbf8 333px,#42be91 337px,#37c089 339px,#42c07f 349px,#3ea063 375px,#27643c 407px,#1e4d2f 417px,#174d36 445px,#1d503b 447px,#4f7969 449px,#e0e8e6 451px,#fff 453px,#fff 707px,#d8ede5 709px,#57b993 711px,#39bc86 713px,#40c282 721px,#42bd7a 729px,#41a364 751px,#6db582 753px,#e7f2e9 755px,#fff 757px"></p><p style="--g:#fff 37px,#e7ffff 39px,#8effff 41px,#6ff 43px,#39ffff 47px,#19fffa 53px,#1cfff0 55px,#1afff0 61px,#26ffdb 69px,#36efca 71px,#8ecfbf 73px,#f0f8f7 75px,#fff 77px,#fff 211px,#f5fbe3 213px,#c4e057 215px,#b6db2f 217px,#c8f038 223px,#e4ff4f 227px,#f1ff59 229px,#fdff6d 231px,#ffffa2 237px,#ffffc5 243px,#ffffc8 245px,#ffffb8 249px,#ffff95 253px,#ffff7b 255px,#ff5 259px,#f7ff2f 265px,#f0ff2c 267px,#f3ff21 269px,#eeff20 273px,#f6ff19 277px,#f5ff17 283px,#f9ff11 287px,#f1f60e 289px,#aba907 291px,#594f00 293px,#4d4200 295px,#4d4402 297px,#625b1e 299px,#c4c1aa 301px,#f6f6f3 303px,#fff 305px,#fff 333px,#e2f5ef 335px,#5bcaa9 337px,#33be91 339px,#33c28f 343px,#3ac086 351px,#3fb87a 359px,#3aab71 369px,#287048 401px,#194d34 417px,#154d39 445px,#2d5f4d 447px,#b0c3bd 449px,#f6f9f9 451px,#fff 453px,#fff 707px,#f3faf8 709px,#a4d7c7 711px,#3fbe94 713px,#32bf8e 715px,#3fc082 725px,#3bbd83 729px,#40b576 737px,#3bb278 739px,#3bad72 743px,#3da368 749px,#48a771 751px,#a7d5b9 753px,#f5faf7 755px,#fff 757px"></p><p style="--g:#fff 37px,#f6ffff 39px,#b2ffff 41px,#61ffff 43px,#41ffff 45px,#1fffff 49px,#10fffc 55px,#17fff3 57px,#1bffed 65px,#24f7d8 69px,#47d4bb 71px,#d5ede8 73px,#fff 75px,#fff 211px,#f9fcf2 213px,#d3ea8b 215px,#b3de3c 217px,#b4e335 219px,#c1f041 223px,#d2fc49 225px,#fcff71 231px,#ffffb9 239px,#ffffca 243px,#ffffc5 247px,#ffff92 253px,#faff47 261px,#f0ff40 263px,#f0ff32 265px,#e5ff2d 269px,#ecff23 271px,#e8ff26 275px,#f2ff1b 283px,#f4fe18 287px,#dfe712 289px,#746f04 291px,#504800 293px,#4d4600 295px,#595310 297px,#9e9b73 299px,#f1f0e9 301px,#fff 303px,#fff 333px,#f6fcfa 335px,#a5e2d3 337px,#3ac19c 339px,#2bc097 341px,#36c18b 351px,#31bf8f 353px,#37bc84 357px,#36b27c 365px,#26754e 399px,#194d34 417px,#124d3a 443px,#1a5342 445px,#60897e 447px,#e6edec 449px,#fff 451px,#fff 709px,#e5f5f1 711px,#64c8ad 713px,#30be96 715px,#2cc195 717px,#3abe86 729px,#36ba85 733px,#37b37c 739px,#37a671 749px,#5bb486 751px,#dceee5 753px,#fff 755px"></p><p style="--g:#fff 39px,#e1ffff 41px,#69ffff 43px,#36ffff 45px,#14ffff 49px,#0cfffe 51px,#09fffe 57px,#18ffeb 67px,#2ef4db 69px,#8edbd0 71px,#f0faf8 73px,#fff 75px,#fff 211px,#fcfef7 213px,#e2f3b7 215px,#b2e04b 217px,#afe13a 219px,#b2e742 221px,#bff244 223px,#d5ff5e 227px,#f7ff7c 231px,#ffff8a 233px,#ffffa2 235px,#ffffcb 241px,#ffc 245px,#ffffc7 247px,#ffffa8 251px,#ffff90 253px,#ffff81 255px,#ffff69 257px,#fbff5c 259px,#e9ff40 263px,#e1ff3d 265px,#e3ff32 267px,#dfff30 271px,#e6ff28 275px,#ebff21 285px,#e6f61d 287px,#acb412 289px,#5b5603 291px,#4d4800 293px,#514d08 295px,#78753d 297px,#dfdfd1 299px,#fdfdfa 301px,#fff 303px,#fff 335px,#e4f5f2 337px,#55c9b2 339px,#29be9e 341px,#23c19e 343px,#29c299 349px,#31be8d 355px,#2fbb8c 359px,#32b381 365px,#2ca377 375px,#27865e 391px,#1c6246 407px,#134d39 417px,#114e3f 443px,#2c6557 445px,#c3d3cf 447px,#f8fcfb 449px,#fff 451px,#fff 709px,#f8fcfc 711px,#b6e6dc 713px,#3bc2a5 715px,#27c099 717px,#31c190 727px,#31a978 747px,#3cab7e 749px,#f2f9f7 753px,#fff 755px"></p><p style="--g:#fff 39px,#f3ffff 41px,#9effff 43px,#3affff 45px,#1affff 47px,#04ffff 51px,#06ffff 57px,#09fffd 63px,#1bfcec 67px,#64f7e6 69px,#e3fbf7 71px,#fff 73px,#fff 213px,#f4fce7 215px,#bde569 217px,#a7e146 219px,#afe844 221px,#c4fb56 225px,#efff81 231px,#fcff97 233px,#ffffa3 235px,#ffffc8 239px,#ffffd2 245px,#ffb 249px,#feff7c 255px,#f1ff59 259px,#e2ff51 261px,#daff3e 265px,#daff34 271px,#e4ff26 285px,#d6ec1f 287px,#787b09 289px,#504f00 291px,#4e4c03 293px,#62611f 295px,#c3c3ab 297px,#f6f6f3 299px,#fff 301px,#fff 335px,#f6fcfc 337px,#a9e4da 339px,#33c0a7 341px,#20c0a2 343px,#29c197 353px,#25bf9b 355px,#2cbc90 359px,#269771 383px,#134d39 415px,#0e4d3f 441px,#1b584d 443px,#719891 445px,#ebefef 447px,#fff 449px,#fff 711px,#e9f8f4 713px,#68d1bf 715px,#27c2a2 717px,#20c1a2 719px,#28c099 729px,#2ebe91 731px,#2aba90 735px,#2ca97f 747px,#47b48d 749px,#d7efe6 751px,#fff 753px"></p><p style="--g:#fff 41px,#e3ffff 43px,#60ffff 45px,#1affff 47px,#08feff 49px,#01ffff 55px,#09fffc 63px,#0dfff8 65px,#2ff9ec 67px,#c4fdf8 69px,#f9ffff 71px,#fff 73px,#fff 213px,#fafef6 215px,#d6f2a8 217px,#a8e353 219px,#aaea4e 221px,#b3f353 223px,#bcfe61 225px,#cfff69 227px,#fcff9c 233px,#ffffc1 237px,#ffffd7 241px,#ffffd5 245px,#ffb 249px,#ffffa3 251px,#ffff95 253px,#f9ff7c 255px,#dcff50 261px,#d3ff4d 263px,#d4ff41 265px,#cfff40 269px,#d6ff38 273px,#dbff30 283px,#d7f92d 285px,#b0c51e 287px,#5c5e03 289px,#4d4e01 291px,#575912 293px,#9c9e74 295px,#f0f1e9 297px,#fff 299px,#fff 337px,#e4f5f3 339px,#60c7bc 341px,#1fbfaa 343px,#1bc3a8 347px,#21c09e 355px,#26ac87 371px,#19745c 399px,#0f4d3e 415px,#0b4d42 439px,#0d4f46 441px,#366e67 443px,#d0dddb 445px,#fff 447px,#fff 711px,#f9fefc 713px,#c5ede9 715px,#34c5b1 717px,#1cc0a6 719px,#22bf9d 731px,#27bc94 735px,#26b791 739px,#26ae87 745px,#32ae8c 747px,#83cdb5 749px,#f0f9f6 751px,#fff 753px"></p><p style="--g:#fff 41px,#f7ffff 43px,#b2ffff 45px,#26feff 47px,#07fbff 49px,#00fdff 57px,#04ffff 63px,#19fbf8 65px,#85faf6 67px,#eff 69px,#fff 71px,#fff 213px,#fcfffa 215px,#e7f7d0 217px,#a8e661 219px,#a3ea54 221px,#baff63 225px,#d6ff7f 229px,#edff96 231px,#ffffb7 235px,#ffffca 237px,#ffffde 243px,#ffc 247px,#ffffa9 251px,#fbff90 253px,#e4ff6d 257px,#d5ff63 259px,#cbff4e 263px,#c6ff4c 265px,#caff44 269px,#d4ff36 283px,#cbf12e 285px,#7f8f12 287px,#515305 289px,#4d510a 291px,#73773f 293px,#dfdfd1 295px,#fdfdfa 297px,#fff 299px,#fff 337px,#f7fcfc 339px,#bae5e2 341px,#2cc4b5 343px,#14c1ad 345px,#1dc1a4 355px,#19bfa7 357px,#20bb9c 361px,#1bb99e 363px,#21b696 365px,#1b9075 387px,#0e4d3e 415px,#084d45 439px,#185852 441px,#eef3f2 445px,#fff 447px,#fff 713px,#ebfaf9 715px,#73d5cc 717px,#1dc2af 719px,#14c2b0 721px,#1bc3a8 727px,#1cc0a5 731px,#21be9e 733px,#1fba9c 737px,#22af90 745px,#4abc9f 747px,#d5f0e7 749px,#fff 751px"></p><p style="--g:#fff 43px,#e7ffff 45px,#5cfeff 47px,#12f8ff 49px,#01f1ff 51px,#00fdff 57px,#00fcff 61px,#0cf9ff 63px,#4ef8fa 65px,#deffff 67px,#fff 69px,#fff 215px,#f5fcec 217px,#b0ec79 219px,#a1ea5c 221px,#a6f462 223px,#bfff77 227px,#d4ff8c 229px,#e6ff97 231px,#ffffc2 235px,#ffffdb 239px,#ffffe2 243px,#ffffce 247px,#fcffa8 251px,#f3ff90 253px,#cfff62 259px,#c5ff5e 261px,#c5ff52 263px,#bfff50 267px,#c6ff48 271px,#cbfd3c 283px,#b4de2f 285px,#5a6409 287px,#4b4f07 289px,#5a6020 291px,#babea3 293px,#f6f6f3 295px,#fff 297px,#fff 339px,#eaf7f6 341px,#6dd5d1 343px,#16c2b7 345px,#0cc2b6 347px,#15c0ab 357px,#19bea5 359px,#14bca8 361px,#19ab91 373px,#13816f 393px,#094d43 415px,#064d47 437px,#094f4a 439px,#336e6a 441px,#d2dede 443px,#fff 445px,#fff 713px,#fafdfd 715px,#c5edec 717px,#2cc5bb 719px,#10c1b2 721px,#17bda6 735px,#1cbba0 737px,#1ab398 743px,#2ab59c 745px,#f0faf9 749px,#fff 751px"></p><p style="--g:#fff 43px,#f9ffff 45px,#cfffff 47px,#42f5ff 49px,#0cefff 51px,#01edff 53px,#00f2ff 59px,#0bf1ff 61px,#3ef6fd 63px,#cdffff 65px,#f9ffff 67px,#fff 69px,#fff 215px,#f8fdf3 217px,#c2f09c 219px,#9bed68 221px,#a3f568 223px,#aafe75 225px,#ddffa3 231px,#f3ffb4 233px,#feffc9 235px,#ffffe7 241px,#ffffdc 245px,#feffbd 249px,#f6ffa5 251px,#daff81 255px,#c9ff76 257px,#bcff5e 261px,#b7ff5c 263px,#bdff53 265px,#bdff51 271px,#c4ff46 281px,#c1f63d 283px,#8dae24 285px,#4f590a 287px,#505715 289px,#8b9067 291px,#ecede6 293px,#fff 295px,#fff 339px,#fafefd 341px,#c4edec 343px,#24c0bc 345px,#08c0ba 347px,#10c2b2 355px,#0dbfb3 359px,#14bba8 363px,#10b8a8 365px,#15b5a0 367px,#13a18f 379px,#0d6f62 401px,#0a4e44 413px,#044d4a 437px,#145a58 439px,#eff4f4 443px,#fff 445px,#fff 715px,#ecfafa 717px,#77d9d6 719px,#16c2bc 721px,#09c2bb 723px,#0ec3b5 729px,#14beaa 735px,#13b9a6 739px,#1bb6a2 743px,#4fc4b1 745px,#d7f1ed 747px,#fff 749px"></p><p style="--g:#fff 45px,#f7ffff 47px,#c2fdff 49px,#4af1ff 51px,#12ecff 53px,#03eaff 55px,#02eaff 57px,#0eedff 59px,#3ff2ff 61px,#b8fdff 63px,#f6ffff 65px,#fff 67px,#fff 215px,#fafff9 217px,#d6f8c1 219px,#9dee73 221px,#9bf571 223px,#a5fe79 225px,#baff8b 227px,#d9ffaa 231px,#f1ffc0 233px,#ffd 237px,#ffffe9 239px,#ffffe9 243px,#ffffe0 245px,#f7ffbe 249px,#dbff96 253px,#c2ff74 257px,#b7ff6f 259px,#b6ff62 261px,#afff60 265px,#b6ff58 269px,#baff52 277px,#bdfe4b 281px,#afe840 283px,#607617 285px,#4a550f 287px,#656e38 289px,#dadcd0 291px,#fbfcf9 293px,#fff 295px,#fff 341px,#eaf8f9 343px,#6bcacd 345px,#10bdbf 347px,#02c0c1 349px,#09c0b7 359px,#0d998d 383px,#075750 409px,#044d49 417px,#014d4c 435px,#074f4f 437px,#3c7677 439px,#dde6e6 441px,#fff 443px,#fff 717px,#cff1f1 719px,#33c7c7 721px,#09c0bd 723px,#05c4c0 727px,#0ec1b4 733px,#0fb7ad 741px,#2abeb1 743px,#b0e5e0 745px,#f5fcfc 747px,#fff 749px"></p><p style="--g:#fff 47px,#f6ffff 49px,#d3fdff 51px,#75f4ff 53px,#26edff 55px,#24edff 57px,#62f2ff 59px,#cffdff 61px,#f6ffff 63px,#fff 65px,#fff 217px,#f1feec 219px,#aaf38d 221px,#97f376 223px,#a3fe84 225px,#b2ff8d 227px,#c0ffa1 229px,#d9ffb4 231px,#faffd8 235px,#ffe 239px,#ffffeb 243px,#fbffd2 247px,#efffba 249px,#daffaa 251px,#cfff93 253px,#bdff87 255px,#aeff6f 259px,#a9ff6d 261px,#aeff63 263px,#a9ff65 267px,#b2ff5b 273px,#b4ff55 279px,#b2f74c 281px,#8ab833 283px,#4d5d12 285px,#505d20 287px,#acb391 289px,#f3f4f0 291px,#fff 293px,#fff 341px,#faffff 343px,#cdeff1 345px,#2fc3c8 347px,#04bdc2 349px,#03c3bf 357px,#05bdb8 363px,#0aa69c 377px,#087e76 395px,#045753 409px,#044d48 413px,#014b4d 435px,#155a5d 437px,#96b4b5 439px,#f3f6f7 441px,#fff 443px,#fff 717px,#f0fcfc 719px,#96e1e4 721px,#15bec4 723px,#03bdc1 725px,#02c1c1 733px,#09beb5 737px,#06bbb8 739px,#14bbb4 741px,#69d3cc 743px,#e6f8f6 745px,#fff 747px"></p><p style="--g:#fff 51px,#e4fcff 55px,#ecfeff 59px,#faffff 61px,#fff 63px,#fff 217px,#f8fff6 219px,#c2f7b3 221px,#97f683 223px,#a1ff87 225px,#aaff95 227px,#d4ffbd 231px,#e1ffcd 233px,#f7ffde 235px,#ffe 237px,#fffff6 241px,#fffff0 243px,#fcffe0 245px,#bdff99 253px,#b5ff88 255px,#a8ff81 257px,#a6ff73 259px,#9fff70 263px,#a6ff68 267px,#abff61 275px,#adff5b 279px,#a4ee50 281px,#668c27 283px,#485919 285px,#76854e 287px,#e7eae0 289px,#fff 291px,#fff 343px,#eef9fb 345px,#80d3db 347px,#12b6c3 349px,#00b8c3 351px,#00bfc4 355px,#02bcbc 363px,#039a99 383px,#035c5a 407px,#004c4d 413px,#00494d 433px,#054b50 435px,#3c7379 437px,#dfe7e8 439px,#fff 441px,#fff 719px,#e0f4f6 721px,#40c4ce 723px,#08b7c1 725px,#00bcc4 729px,#02c0c0 735px,#08bbbc 739px,#38c8c5 741px,#cef2f1 743px,#f9ffff 745px,#fff 747px"></p><p style="--g:#fff 219px,#ddfcd7 221px,#9bfa93 223px,#96fd8e 225px,#a4ff9d 227px,#bcffb3 229px,#caffc0 231px,#f3ffe9 235px,#fefff5 237px,#fffffa 241px,#f5ffe5 245px,#c2ffa8 251px,#b1ff9a 253px,#9fff81 257px,#99ff7d 259px,#9eff73 261px,#98ff75 265px,#a2ff6c 269px,#a4ff65 277px,#a5fc5e 279px,#8fd448 281px,#4a651d 283px,#51632d 285px,#bfc6b0 287px,#f9f9f6 289px,#fff 291px,#fff 345px,#d0eef1 347px,#2fb8c9 349px,#03b0c2 351px,#00b9c1 361px,#00b4bc 365px,#01aaac 375px,#006c6d 401px,#004e4f 411px,#01464d 433px,#15565d 435px,#96b2b6 437px,#f3f6f7 439px,#fff 441px,#fff 719px,#f6fcfd 721px,#b6e7ec 723px,#2fbdcc 725px,#06b5c3 727px,#00bac4 733px,#06b8c0 737px,#2ec6ca 739px,#b5ebeb 741px,#f6fcfc 743px,#fff 745px"></p><p style="--g:#fff 219px,#f2fff2 221px,#b0fcae 223px,#94ff9b 225px,#b4ffb7 229px,#deffde 233px,#fafffc 237px,#fff 239px,#fff 241px,#e9ffe5 245px,#b3ffad 251px,#aaff9a 253px,#9cff92 255px,#98ff84 257px,#90ff80 261px,#96ff77 263px,#95ff78 269px,#9eff6a 277px,#96f262 279px,#659835 281px,#475f24 283px,#839667 285px,#ecefe6 287px,#fff 289px,#fff 345px,#eef9fb 347px,#80cdda 349px,#12aac3 351px,#00abc4 353px,#00b4c4 357px,#00b0c0 363px,#00a0a9 377px,#007378 397px,#00484e 411px,#00444d 431px,#054650 433px,#3c7079 435px,#dfe7e8 437px,#fff 439px,#fff 721px,#f0f9fb 723px,#a1e0e8 725px,#30bdcc 727px,#0eb3c7 729px,#03b2c5 731px,#02b3c4 733px,#0bb6c6 735px,#24c1c9 737px,#96e2e6 739px,#edfbfb 741px,#fff 743px"></p><p style="--g:#fff 219px,#f9fffb 221px,#d1ffd3 223px,#96ffa5 225px,#acffbd 229px,#d7ffe9 233px,#f3ffff 237px,#f6fffe 241px,#edfff8 243px,#b9ffbc 249px,#a6ffae 251px,#91ff92 255px,#8aff8e 257px,#8eff84 259px,#89ff84 263px,#92ff7b 267px,#94ff75 275px,#96fd6e 277px,#86dc5a 279px,#466725 281px,#5b6f42 283px,#d1d5c7 285px,#fbfcf9 287px,#fff 289px,#fff 347px,#d0ecf1 349px,#2faec6 351px,#03a4c3 353px,#00acc0 363px,#00a2b2 373px,#007e89 391px,#00464d 411px,#01414d 431px,#15515d 433px,#96b0b6 435px,#f3f6f7 437px,#fff 439px,#fff 723px,#f0f9fb 725px,#bbe9ee 727px,#69cedc 729px,#22b8cd 731px,#21bacc 733px,#5fceda 735px,#b8ebee 737px,#eff9fb 739px,#fff 741px"></p><p style="--g:#fff 221px,#e7ffeb 223px,#9cffb3 225px,#96ffb3 227px,#cfffee 233px,#e3fffc 235px,#efffff 239px,#e1fff7 243px,#aaffc1 249px,#9fffad 251px,#8fffa3 253px,#8aff95 255px,#80ff8e 259px,#86ff87 261px,#88ff84 267px,#91ff77 275px,#8af56e 277px,#63a646 279px,#496631 281px,#a3b097 283px,#f2f3f0 285px,#fff 287px,#fff 347px,#eef7f9 349px,#80c0d1 351px,#12a0c3 353px,#00a1c4 355px,#00a5c3 361px,#00a5bd 367px,#009db9 369px,#00a0b6 371px,#007483 393px,#00424d 411px,#003f4d 429px,#054250 431px,#3c6b79 433px,#dfe6e8 435px,#fff 437px,#fff 725px,#ebf9fb 729px,#cdeff4 731px,#cdeff3 733px,#eaf9fb 735px,#f9fcfc 737px,#fff 739px"></p><p style="--g:#fff 221px,#f5fff8 223px,#b2ffc9 225px,#94ffbe 227px,#a7ffce 229px,#cdfff8 233px,#dff 235px,#e6ffff 239px,#e0ffff 241px,#c2ffe9 245px,#9cffc3 249px,#92ffaf 251px,#7dff9c 255px,#7fff93 257px,#79ff95 261px,#81ff8c 263px,#83ff86 273px,#87fe7f 275px,#7de96d 277px,#477232 279px,#657d56 281px,#e4e8e2 283px,#fff 285px,#fff 349px,#d2e7ec 351px,#3ba7c7 353px,#0597c3 355px,#00a1c0 365px,#009bbb 369px,#008ba2 381px,#005465 403px,#00414d 411px,#013d4d 429px,#154c5d 431px,#96aeb6 433px,#f3f6f7 435px,#fff 437px"></p><p style="--g:#fff 223px,#d6ffe6 225px,#9affcd 227px,#a2ffdd 229px,#cbfffc 233px,#dff 237px,#d5ffff 241px,#b7ffe9 245px,#a0ffd7 247px,#94ffc1 249px,#83ffb6 251px,#7cffa7 253px,#72ff9e 257px,#77ff96 259px,#73ff9a 263px,#80ff86 273px,#7df981 275px,#65c15e 277px,#4c6f3f 279px,#bac5b4 281px,#f7f9f7 283px,#fff 285px,#fff 349px,#f0f9fb 351px,#96cee4 353px,#1597c5 355px,#0197c4 357px,#009ac4 363px,#0098bc 369px,#0091b8 371px,#0094b6 373px,#006c85 393px,#003d4e 409px,#003a4d 427px,#083e50 429px,#3f6a7a 431px,#e0e6e8 433px,#fff 435px"></p><p style="--g:#fff 223px,#effff7 225px,#a0ffd7 227px,#9dffe3 229px,#b3fff6 231px,#c5ffff 233px,#d5ffff 237px,#cbffff 241px,#bafffc 243px,#92ffd8 247px,#85ffc2 249px,#6fffad 253px,#70ffa4 255px,#69ffa5 257px,#71ff9b 261px,#71ff99 269px,#77ff8e 273px,#75ee7f 275px,#51944e 277px,#769070 279px,#eaede9 281px,#fff 283px,#fff 351px,#dff1f6 353px,#3ca2cd 355px,#058dc3 357px,#0094c0 367px,#008dbd 369px,#0084a9 379px,#006883 393px,#003c4d 409px,#01384d 427px,#1b4b5f 429px,#aabcc4 431px,#f5f9f9 433px,#fff 435px"></p><p style="--g:#fff 223px,#f7fffc 225px,#baffec 227px,#9cffec 229px,#affffc 231px,#c9ffff 235px,#ceffff 237px,#caffff 239px,#affffa 243px,#88ffd5 247px,#76ffca 249px,#6fffb8 251px,#63ffad 255px,#67ffa6 257px,#64ffa8 261px,#6dff9d 267px,#71fc8f 273px,#66d776 275px,#578156 277px,#ccd6cb 279px,#fafcfa 281px,#fff 283px,#fff 351px,#f3f9fc 353px,#96cae5 355px,#158ec6 357px,#018ac5 359px,#008fc4 365px,#0089be 369px,#008cbb 371px,#0085b6 373px,#0087b3 375px,#005978 397px,#00394e 409px,#00364d 425px,#093c53 427px,#537a8e 429px,#e4ecee 431px,#fff 433px"></p><p style="--g:#fff 223px,#faffff 225px,#d4fff7 227px,#a1fff9 229px,#a7fffd 231px,#c1ffff 235px,#bfffff 239px,#a2fff9 243px,#89ffeb 245px,#7bffd5 247px,#64ffbc 251px,#61ffb4 253px,#5affb6 255px,#61ffac 259px,#62ffa8 267px,#66ff9f 271px,#66f28f 273px,#52a161 275px,#95ae98 277px,#eff2f0 279px,#fff 281px,#fff 353px,#dfeff6 355px,#3c9acd 357px,#0582c4 359px,#0087bf 369px,#006d95 387px,#004561 403px,#003950 407px,#01344e 425px,#1b4961 427px,#acc3d2 429px,#f6f9fc 431px,#fff 433px"></p><p style="--g:#fff 225px,#ecffff 227px,#acfffb 229px,#a1ffff 231px,#b3ffff 233px,#bff 237px,#a6ffff 241px,#91fff9 243px,#6cffdc 247px,#63ffca 249px,#58ffc5 251px,#56ffb7 255px,#55ffb8 259px,#5cffaf 263px,#62fc9f 271px,#5ce089 273px,#588c64 275px,#d9e1da 277px,#fff 279px,#fff 353px,#f3f9fc 355px,#96c6e5 357px,#1584c6 359px,#017dc5 361px,#0082c3 367px,#007cbd 371px,#007ab1 377px,#00567d 395px,#00344d 409px,#00304d 423px,#093653 425px,#53768e 427px,#e4ebee 429px,#fff 431px"></p><p style="--g:#fff 225px,#f9ffff 227px,#c9fffe 229px,#a4ffff 231px,#b1ffff 235px,#b2ffff 237px,#9affff 241px,#81fffc 243px,#71ffe8 245px,#57ffce 249px,#52ffc5 251px,#4bffc6 253px,#51ffbc 257px,#50ffbb 263px,#56ffae 269px,#59f59e 271px,#4fb275 273px,#96b39f 275px,#f2f5f2 277px,#fff 279px,#fff 355px,#dfeef6 357px,#3c92ce 359px,#0575c5 361px,#007ac5 365px,#007abe 371px,#00659d 385px,#004e76 397px,#00334f 407px,#012f4d 423px,#1b425f 425px,#acbcc6 427px,#f6f9f9 429px,#fff 431px"></p><p style="--g:#fff 227px,#e5ffff 229px,#acffff 231px,#a5ffff 233px,#abffff 235px,#9dffff 239px,#76fffc 243px,#56ffdd 247px,#4affd7 249px,#48ffcb 251px,#42ffcb 255px,#4cffc0 261px,#52ffb4 267px,#54fcad 269px,#52e299 271px,#609875 273px,#e1eae5 275px,#fff 277px,#fff 355px,#f3f9fc 357px,#96c1e4 359px,#1578c6 361px,#016fc6 363px,#0076c3 369px,#005c98 387px,#00375d 403px,#002f4e 407px,#002c4d 421px,#093153 423px,#536f87 425px,#e4eaed 427px,#fff 429px"></p><p style="--g:#fff 227px,#f6ffff 229px,#bfffff 231px,#a0ffff 233px,#9effff 237px,#92ffff 239px,#68fffa 243px,#57fff2 245px,#4bffdf 247px,#3dffd7 251px,#41ffcd 253px,#3fffcd 259px,#47ffc1 265px,#4af7af 269px,#50c38f 271px,#afcabc 273px,#f6f9f8 275px,#fff 277px,#fff 357px,#dfebf6 359px,#3c87cb 361px,#0569c5 363px,#006ebd 373px,#0067b9 375px,#005fa3 383px,#004475 397px,#002b4d 407px,#012a4d 421px,#1b3e5f 423px,#acbac6 425px,#f6f9f9 427px,#fff 429px"></p><p style="--g:#fff 229px,#dff 231px,#a2ffff 233px,#94ffff 237px,#5bfffc 243px,#4dffee 245px,#3effe9 247px,#3affdc 249px,#32ffda 253px,#3cffd0 257px,#3dffcd 263px,#45febd 267px,#48ecad 269px,#71b094 271px,#e7f0eb 273px,#fff 275px,#fff 357px,#f3f7fb 359px,#96b7db 361px,#156bc4 363px,#0161c6 365px,#0069c3 371px,#00559b 387px,#002b4d 407px,#00274d 419px,#092c53 421px,#536c87 423px,#e4eaed 425px,#fff 427px"></p><p style="--g:#fff 229px,#f1ffff 231px,#abffff 233px,#92ffff 235px,#8ff 237px,#4dfffd 243px,#36ffea 247px,#2fffe6 249px,#32ffdc 251px,#2cffdf 255px,#3bffc9 265px,#3df7bd 267px,#4bca9e 269px,#c1dbd0 271px,#f9fcfa 273px,#fff 275px,#fff 359px,#dfe7f4 361px,#3c79c5 363px,#055fc4 365px,#0063c5 369px,#005dc0 373px,#0060bc 375px,#005ab7 377px,#005db3 379px,#0056ad 381px,#0058a7 383px,#003462 401px,#00264d 407px,#01254d 419px,#1b3a5f 421px,#acb8c6 423px,#f6f9f9 425px,#fff 427px"></p><p style="--g:#fff 229px,#f9ffff 231px,#c9ffff 233px,#8fffff 235px,#32fffa 245px,#2effed 247px,#24ffea 251px,#2bffe1 253px,#2cffdd 261px,#35ffcc 265px,#40f0c1 267px,#83ccb3 269px,#ecf5f2 271px,#fff 273px,#fff 359px,#f3f6fb 361px,#96b4db 363px,#1561c5 365px,#0155c6 367px,#005bc1 373px,#004ea2 385px,#002d62 401px,#00254d 407px,#00224d 417px,#0a2953 419px,#546b88 421px,#e4e9ed 423px,#fff 425px"></p><p style="--g:#fff 231px,#eaffff 233px,#96ffff 235px,#6fffff 237px,#36fffe 243px,#21fff6 247px,#23ffed 249px,#1dffef 253px,#2cffd8 263px,#30facf 265px,#51debc 267px,#d5eee7 269px,#fff 271px,#fff 361px,#dfe7f4 363px,#3c72c5 365px,#0554c4 367px,#0051be 375px,#0054ba 377px,#004db5 379px,#004ca3 385px,#003273 397px,#00214e 405px,#01204d 417px,#1f3963 419px,#b6bfcc 421px,#f7f9fa 423px,#fff 425px"></p><p style="--g:#fff 231px,#f5ffff 233px,#6ff 237px,#28ffff 243px,#16fffb 247px,#1bfff1 251px,#19fff1 257px,#24ffdd 263px,#36f1cf 265px,#8fd7c5 267px,#f0f9f7 269px,#fff 271px,#fff 361px,#f3f6fb 363px,#96b0db 365px,#1554c6 367px,#014ac6 369px,#004ab6 379px,#00449d 387px,#002a69 399px,#00204d 405px,#001d4d 415px,#0c2655 417px,#6a7a96 419px,#e9ecef 421px,#fff 423px"></p><p style="--g:#fff 231px,#f9ffff 233px,#ceffff 235px,#65ffff 237px,#41ffff 239px,#1cffff 243px,#13fffd 245px,#0efffa 251px,#1bffed 259px,#23f8dc 263px,#52dbc5 265px,#d7eeea 267px,#fff 269px,#fff 363px,#dfe7f6 365px,#4772ce 367px,#0649c6 369px,#0048c2 375px,#0047b8 379px,#0040b2 381px,#003a96 389px,#002c71 397px,#001c4d 405px,#011b4e 415px,#1e3462 417px,#c2c9d4 419px,#f9fbfc 421px,#fff 423px"></p><p style="--g:#fff 233px,#eff 235px,#8bffff 237px,#3bffff 239px,#20ffff 241px,#0affff 245px,#0bfffb 255px,#10fff6 259px,#17ffed 261px,#2ff5df 263px,#a8e6db 265px,#f3fcfa 267px,#fff 269px,#fff 363px,#f3f6fc 365px,#99aee5 367px,#154ac8 369px,#0140c7 371px,#003eb3 381px,#002e83 393px,#002467 399px,#001c4f 403px,#00194d 413px,#091f53 415px,#546387 417px,#e7e9ed 419px,#fff 421px"></p><p style="--g:#fff 235px,#cdffff 237px,#4ff 239px,#1bffff 241px,#05ffff 245px,#08fffe 257px,#1bfdee 261px,#63f8e8 263px,#e5fcf9 265px,#fff 267px,#fff 365px,#dfe5f6 367px,#3c64d0 369px,#053bc6 371px,#0038ba 379px,#003bb5 381px,#0034ad 383px,#00339d 387px,#002779 395px,#00184e 403px,#01174d 413px,#1b2f5f 415px,#acb3c6 417px,#f6f8f9 419px,#fff 421px"></p><p style="--g:#fff 235px,#eff 237px,#2ff 241px,#0afeff 243px,#0ff 249px,#0cfffb 259px,#35f9f2 261px,#c6fdf9 263px,#f8ffff 265px,#fff 267px,#fff 365px,#f3f6fc 367px,#96a9e5 369px,#1542c8 371px,#0135c7 373px,#0030c1 377px,#0030a7 385px,#00217a 395px,#001954 401px,#00154d 407px,#00144d 411px,#091b53 413px,#536087 415px,#e4e6ed 417px,#fff 419px"></p><p style="--g:#fff 237px,#d5ffff 239px,#46ffff 241px,#0dfcff 243px,#02f7ff 245px,#00fdff 251px,#02ffff 257px,#17fbfa 259px,#84faf7 261px,#eff 263px,#fff 265px,#fff 367px,#dfe4f6 369px,#3c5bd0 371px,#052fc7 373px,#002bb8 381px,#002eb2 383px,#002079 395px,#001353 401px,#01134d 411px,#1e2c62 413px,#adb3c6 415px,#f6f8f9 417px,#fff 419px"></p><p style="--g:#fff 237px,#f3ffff 239px,#a4feff 241px,#22f9ff 243px,#05f2ff 245px,#00f0ff 247px,#00f9ff 253px,#00faff 255px,#0af6ff 257px,#4cf8f9 259px,#d6fefe 261px,#fff 263px,#fff 367px,#f3f5fc 369px,#96a4e5 371px,#1537c8 373px,#0129c7 375px,#0023c0 379px,#0023a3 387px,#00196d 397px,#001151 401px,#000e4d 409px,#0c1955 411px,#6a7296 413px,#e7e8ef 415px,#fff 417px"></p><p style="--g:#fff 239px,#eaffff 241px,#1befff 245px,#03edff 247px,#02edff 253px,#09f0ff 255px,#38f5fe 257px,#caffff 259px,#f9ffff 261px,#fff 263px,#fff 369px,#dfe3f6 371px,#3c51d1 373px,#0523c7 375px,#0021c1 379px,#001da3 387px,#00105e 399px,#000f51 401px,#010e4e 409px,#1e2a62 411px,#c2c5d4 413px,#f9f9fc 415px,#fff 417px"></p><p style="--g:#fff 241px,#e5ffff 243px,#80f7ff 245px,#24efff 247px,#10ebff 249px,#0ceaff 251px,#19eeff 253px,#4df2ff 255px,#cbfeff 257px,#f7ffff 259px,#fff 261px,#fff 369px,#f3f5fc 371px,#969ee6 373px,#152cc9 375px,#011cc6 377px,#001aae 385px,#001485 393px,#000d5a 399px,#000a4d 403px,#000b4d 407px,#091353 409px,#5d638f 411px,#e8e9ee 413px,#fff 415px"></p><p style="--g:#fff 243px,#eff 245px,#c6fbff 247px,#85f5ff 249px,#69f2ff 251px,#adfaff 253px,#e3feff 255px,#f9ffff 257px,#fff 259px,#fff 371px,#dfe1f6 373px,#3c49cc 375px,#0518c7 377px,#0011c5 379px,#0018ba 383px,#001283 393px,#000a56 399px,#00094d 403px,#01084d 407px,#1b225f 409px,#aeb0c6 411px,#f6f6f9 413px,#fff 415px"></p><p style="--g:#fff 245px,#edfeff 251px,#fff 255px,#fff 371px,#f3f4fc 373px,#969ae1 375px,#1520c9 377px,#010fc6 379px,#0010b3 385px,#000ea0 389px,#000656 399px,#00044d 401px,#00054d 405px,#090e53 407px,#535787 409px,#e4e4ed 411px,#fff 413px"></p><p style="--g:#fff 373px,#dfe0f6 375px,#3c41d2 377px,#050cc6 379px,#0008bc 383px,#000993 391px,#000654 399px,#00044d 403px,#01034d 405px,#1b1d5f 407px,#acadc6 409px,#f6f6f9 411px,#fff 413px"></p><p style="--g:#fff 373px,#f3f3fc 375px,#9696e6 377px,#1515c7 379px,#0102c5 381px,#0004ad 387px,#00049b 389px,#000394 391px,#000152 399px,#00004c 403px,#090a53 405px,#535485 407px,#e4e4ed 409px,#fff 411px"></p><p style="--g:#fff 375px,#dfdff6 377px,#3c3ccd 379px,#0505c4 381px,#0001ac 387px,#000271 395px,#00004e 399px,#01014b 403px,#1b1b5f 405px,#acacc5 407px,#f6f6f9 409px,#fff 411px"></p><p style="--g:#fff 375px,#f3f3fc 377px,#9595e0 379px,#1414bc 381px,#0101b6 383px,#0000b2 385px,#00009c 389px,#00004b 399px,#000047 401px,#0a0a4e 403px,#5f5f8c 405px,#e5e5ee 407px,#fff 409px"></p><p style="--g:#fff 377px,#d3d3f2 379px,#3030bf 381px,#0404b5 383px,#00008a 391px,#000051 397px,#000046 399px,#010146 401px,#1f1f5c 403px,#c1c1d2 405px,#f8f8fc 407px,#fff 409px"></p><p style="--g:#fff 377px,#eeeef9 379px,#1212af 383px,#0000a6 385px,#0000a0 387px,#000087 391px,#00004b 397px,#004 399px,#0c0c4b 401px,#67678f 403px,#eaeaef 405px,#fff 407px"></p><p style="--g:#fff 379px,#d0d0ee 381px,#2f2fb4 383px,#0303a6 385px,#000070 393px,#000043 397px,#010141 399px,#1b1b53 401px,#aeaec3 403px,#f6f6f9 405px,#fff 407px"></p><p style="--g:#fff 379px,#eeeef9 381px,#1212a2 385px,#000095 387px,#00008d 389px,#000042 397px,#090944 399px,#53537b 401px,#e4e4ec 403px,#fff 405px"></p><p style="--g:#fff 381px,#d0d0eb 383px,#2f2faa 385px,#030396 387px,#00007a 391px,#00004b 395px,#01013f 397px,#1b1b4f 399px,#acacc0 401px,#f6f6f9 403px,#fff 405px"></p><p style="--g:#fff 381px,#eeeef9 383px,#121298 387px,#000082 389px,#000076 391px,#004 395px,#090940 397px,#535379 399px,#e4e4eb 401px,#fff 403px"></p><p style="--g:#fff 383px,#ddddef 385px,#3c3ca5 387px,#050584 389px,#00005b 393px,#010140 395px,#1b1b4e 397px,#acacbf 399px,#f6f6f9 401px,#fff 403px"></p><p style="--g:#fff 383px,#f3f3f9 385px,#9696cf 387px,#15158b 389px,#01016d 391px,#000053 393px,#0a0a44 395px,#5f5f80 397px,#e5e5ec 399px,#fff 401px"></p><p style="--g:#fff 385px,#dfdfef 387px,#3c3c98 389px,#05056c 391px,#01014f 393px,#1f1f53 395px,#c1c1ce 397px,#f8f8fb 399px,#fff 401px"></p><p style="--g:#fff 385px,#f3f3f9 387px,#9696c6 389px,#141470 391px,#0c0c52 393px,#676789 395px,#eaeaee 397px,#fff 399px"></p><p style="--g:#fff 387px,#ddddec 389px,#30307e 391px,#1f1f60 393px,#b7b7ca 395px,#f9f9f9 397px,#fff 399px"></p><p style="--g:#fff 387px,#efeff5 389px,#7c7cac 391px,#545488 393px,#e6e6ed 395px,#fff 397px"></p><p style="--g:#fff 389px,#afafc8 393px,#f5f5f8 395px,#fff 397px"></p><p style="--g:#fff 391px,#f6f6f9 393px,#fff 395px"></p></div>
<div class="s" style="left:606px;top:82px;width:780px"><p style="--g:#fff 349px,#f3eaea 357px,#efe7e7 365px,#f7f4f4 373px,#fff 377px"></p><p style="--g:#fff 343px,#efe4e4 349px,#e1c6c6 351px,#c39292 353px,#b77b7b 355px,#9d5454 357px,#964c4c 359px,#742222 363px,#8a4c4c 367px,#895454 369px,#a57d7d 371px,#b89b9b 373px,#d5c8c8 375px,#ece7e7 377px,#fff 383px"></p><p style="--g:#fff 339px,#f2e7e7 343px,#e1c4c4 345px,#b67575 347px,#932f2f 349px,#8a1b1b 351px,#810e0e 355px,#6c0202 363px,#5d1212 373px,#5c1e1e 375px,#754646 377px,#d4c6c6 381px,#ece7e7 383px,#fff 387px"></p><p style="--g:#fff 335px,#fcf6f6 337px,#f0e1e1 339px,#ac5050 343px,#961d1d 345px,#890404 349px,#650000 369px,#520606 377px,#541e1e 381px,#765050 383px,#e6e0e0 387px,#f6f5f5 389px,#fff 391px"></p><p style="--g:#fff 331px,#fcfafa 333px,#f5e6e6 335px,#dbabab 337px,#ad4949 339px,#9c1717 341px,#910202 345px,#740000 365px,#4a0202 381px,#4c1717 385px,#6d4747 387px,#b4a1a1 389px,#e9e4e4 391px,#f9f8f8 393px,#fff 395px"></p><p style="--g:#fff 329px,#f9eeee 331px,#ebcdcd 333px,#be6161 335px,#a31b1b 337px,#9c0707 339px,#940000 347px,#6c0000 371px,#450202 385px,#420606 387px,#491919 389px,#765454 391px,#c4b6b6 393px,#eeebeb 395px,#fff 397px"></p><p style="--g:#fff 325px,#fcf9f9 327px,#f3dfdf 329px,#cf8282 331px,#b02e2e 333px,#a30c0c 335px,#a10000 339px,#8c0202 357px,#4d0000 385px,#3f0909 391px,#4c2020 393px,#917676 395px,#e4dede 397px,#f9f8f8 399px,#fff 401px"></p><p style="--g:#fff 323px,#fcf3f3 325px,#eccaca 327px,#c04d4d 329px,#ae1414 331px,#a90404 333px,#a20303 345px,#9b0707 353px,#6c0000 375px,#3b0303 393px,#421414 395px,#755353 397px,#c5b7b7 399px,#f0eeee 401px,#fff 403px"></p><p style="--g:#fff 321px,#f6e8e8 323px,#dea8a8 325px,#b73333 327px,#b00909 329px,#ae0000 333px,#ab0606 343px,#b21414 349px,#880101 363px,#500 387px,#3b0202 395px,#3c0a0a 397px,#502424 399px,#a99494 401px,#eae5e5 403px,#fff 405px"></p><p style="--g:#fff 319px,#f3e1e1 321px,#c77676 323px,#b91e1e 325px,#b30505 327px,#b20000 335px,#b70a0a 341px,#c82323 347px,#c82626 349px,#b71b1b 353px,#9d0909 357px,#840000 367px,#500000 391px,#390303 399px,#491a1a 401px,#896b6b 403px,#ddd3d3 405px,#faf8f8 407px,#fff 409px"></p><p style="--g:#fff 315px,#fcf8f8 317px,#edd3d3 319px,#ce6b6b 321px,#bd1717 323px,#ba0303 325px,#b80101 335px,#bf0c0c 339px,#da2f2f 345px,#de3636 347px,#ce2b2b 351px,#a30b0b 357px,#800 367px,#510000 393px,#390303 401px,#451111 403px,#744b4b 405px,#d8cdcd 407px,#f6f6f6 409px,#fff 411px"></p><p style="--g:#fff 313px,#fdf8f8 315px,#edcdcd 317px,#cd4b4b 319px,#c21111 321px,#c00303 323px,#be0202 333px,#c60d0d 337px,#ee4242 343px,#f54b4b 345px,#f44b4b 347px,#ea4242 349px,#b61616 355px,#990303 361px,#570000 393px,#3a0101 403px,#440c0c 405px,#714848 407px,#c7b7b7 409px,#f3f0f0 411px,#fff 413px"></p><p style="--g:#fff 311px,#fff8f8 313px,#f1cdcd 315px,#c94b4b 317px,#c70c0c 319px,#c70101 321px,#c60505 333px,#db2020 337px,#f94c4c 341px,#ff6363 345px,#ff5858 347px,#f64d4d 349px,#cb2525 353px,#ab0b0b 357px,#930101 365px,#570000 395px,#3b0000 405px,#420909 407px,#5f2e2e 409px,#b9a0a0 411px,#f1ecec 413px,#fff 415px"></p><p style="--g:#fff 309px,#fef6f6 311px,#f4caca 313px,#d74a4a 315px,#cb0c0c 317px,#cd0000 319px,#cc0606 331px,#e42323 335px,#fc5a5a 339px,#ff7676 343px,#ff7474 345px,#f75050 349px,#d02727 353px,#b00d0d 357px,#970000 365px,#5d0000 395px,#3b0000 407px,#3e0505 409px,#562121 411px,#ae9494 413px,#efeaea 415px,#fff 417px"></p><p style="--g:#fff 307px,#fff7f7 309px,#f3c2c2 311px,#d73636 313px,#d20909 315px,#d30000 317px,#d30606 329px,#dc0f0f 331px,#ec2222 333px,#ff5d5d 337px,#ff7676 339px,#ff8585 341px,#ff8787 343px,#ff7d7d 345px,#fb5353 349px,#d32525 353px,#b20c0c 357px,#9b0101 365px,#690000 393px,#3d0000 409px,#400404 411px,#561f1f 413px,#ae9494 415px,#f0eaea 417px,#fff 419px"></p><p style="--g:#fff 305px,#fff8f8 307px,#f6cdcd 309px,#df4949 311px,#d60909 313px,#d80000 315px,#d80404 327px,#ee1e1e 331px,#fb3939 333px,#ff5f5f 335px,#ff7c7c 337px,#ff9090 339px,#ff9898 341px,#ff9595 343px,#ff6a6a 347px,#fa4d4d 349px,#eb3737 351px,#d22121 353px,#b60b0b 357px,#9c0000 367px,#5f0000 399px,#3f0000 409px,#420404 413px,#571f1f 415px,#af9494 417px,#f0eaea 419px,#fff 421px"></p><p style="--g:#fff 303px,#fef9f9 305px,#f7cdcd 307px,#e44b4b 309px,#dc0c0c 311px,#de0000 313px,#de0404 325px,#e40b0b 327px,#fc3535 331px,#ff7b7b 335px,#ff9595 337px,#ffa4a4 339px,#ffa6a6 341px,#f99 343px,#fb4c4c 349px,#e63131 351px,#c51313 355px,#ab0303 361px,#690000 397px,#400000 411px,#430404 415px,#591f1f 417px,#b09494 419px,#f0eaea 421px,#fff 423px"></p><p style="--g:#fff 301px,#fef9f9 303px,#f2d2d2 305px,#e14b4b 307px,#e20c0c 309px,#e40000 311px,#e40303 323px,#f31818 327px,#fc3131 329px,#ff9797 335px,#ffadad 337px,#ffb4b4 339px,#ffacac 341px,#ff7f7f 345px,#f94141 349px,#d21b1b 353px,#b30505 359px,#7f0000 389px,#4d0000 409px,#420000 415px,#460404 417px,#5a1f1f 419px,#b09494 421px,#f0eaea 423px,#fff 425px"></p><p style="--g:#fff 301px,#fcdfdf 303px,#ed6a6a 305px,#e61212 307px,#ea0000 309px,#ed0707 323px,#f61414 325px,#fd2c2c 327px,#ff7575 331px,#ffafaf 335px,#ffbfbf 337px,#ffbcbc 339px,#ffadad 341px,#ff7575 345px,#ff5252 347px,#f84040 349px,#e52727 351px,#d21717 353px,#b70505 359px,#6f0000 399px,#430000 415px,#470404 419px,#5c1f1f 421px,#b19595 423px,#f3eded 425px,#fff 427px"></p><p style="--g:#fff 299px,#fde2e2 301px,#f16c6c 303px,#ec1515 305px,#f00303 307px,#f10202 319px,#f30606 321px,#ff2525 325px,#ff4242 327px,#ff8d8d 331px,#ffaeae 333px,#ffc3c3 335px,#ffc7c7 337px,#ffbdbd 339px,#ff8989 343px,#ff4e4e 347px,#f63434 349px,#c70c0c 355px,#b20101 363px,#750000 399px,#450000 417px,#490404 421px,#612525 423px,#c8b2b2 425px,#f6f3f3 427px,#fff 429px"></p><p style="--g:#fff 297px,#ffebeb 299px,#f11818 303px,#f60303 305px,#f70404 319px,#ff1d1d 323px,#ff3737 325px,#ff5a5a 327px,#f88 329px,#ffabab 331px,#ffc2c2 333px,#fcc 335px,#ffc9c9 337px,#ffb9b9 339px,#ff7b7b 343px,#f44 347px,#f62f2f 349px,#d31010 353px,#b50101 363px,#760000 401px,#470000 417px,#4d0606 423px,#6c3131 425px,#cab4b4 427px,#f7f3f3 429px,#fff 431px"></p><p style="--g:#fff 295px,#fff0f0 297px,#fba8a8 299px,#f51f1f 301px,#f90404 303px,#fd0101 315px,#ff0909 319px,#ff1818 321px,#ff3131 323px,#ffa0a0 329px,#ffbfbf 331px,#ffcfcf 333px,#ffd2d2 335px,#ffc6c6 337px,#ffaeae 339px,#ff8c8c 341px,#ff7474 343px,#ff5353 345px,#fe3b3b 347px,#e41a1a 351px,#cc0909 355px,#af0000 369px,#700 403px,#480000 419px,#4f0606 425px,#6e3232 427px,#cdb6b6 429px,#f8f6f6 431px,#fff 433px"></p><p style="--g:#fff 293px,#fff6f6 295px,#fdb5b4 297px,#fa3131 299px,#fe0606 301px,#f00 307px,#ff0707 317px,#ff2727 321px,#ff4848 323px,#ff7373 325px,#ffbaba 329px,#ffd0d0 331px,#ffd9d9 333px,#ffd1d1 335px,#ffa5a5 339px,#ff6464 343px,#fd3333 347px,#f12121 349px,#d10909 355px,#b90000 365px,#830000 399px,#5c0000 415px,#490000 421px,#4b0000 425px,#520808 427px,#7b3e3e 429px,#dccccc 431px,#faf9f8 433px,#fff 435px"></p><p style="--g:#fff 291px,#fff9f9 293px,#fecfcd 295px,#f93935 297px,#ff0906 299px,#f00 303px,#ff0505 315px,#ff2121 319px,#ff3e3e 321px,#ffafaf 327px,#ffcbcb 329px,#ffdbdb 331px,#ffd9d9 333px,#ffcbcb 335px,#ff9696 339px,#ff4040 345px,#fc2a2a 347px,#db0d0d 353px,#c00101 363px,#810000 403px,#4b0000 423px,#4d0000 427px,#550d0c 429px,#814d4b 431px,#dccfcd 433px,#faf9f9 435px,#fff 437px"></p><p style="--g:#fff 291px,#fde1df 293px,#f56960 295px,#fd140c 297px,#ff0600 299px,#ff0101 311px,#ff0b0b 315px,#ff1a1a 317px,#ff5353 321px,#ffa6a6 325px,#ffc5c5 327px,#ffd8d8 329px,#fdd 331px,#ffd6d6 333px,#ffc3c3 335px,#ff4d4d 343px,#fc2828 347px,#ef1818 349px,#d50606 355px,#a30000 385px,#780000 409px,#4e0000 423px,#4d0200 429px,#560f0c 431px,#824f4b 433px,#ddd0ce 435px,#fbf9f9 437px,#fff 439px"></p><p style="--g:#fff 289px,#ffe8e6 291px,#f98176 293px,#fd2315 295px,#ff0d00 297px,#ff0401 309px,#ff0908 313px,#ff1413 315px,#ff2a29 317px,#ff6e6e 321px,#fbb 325px,#ffd3d3 327px,#fdd 329px,#ffdbdb 331px,#ffb8b8 335px,#ff5c5b 341px,#ff3131 345px,#f21818 349px,#de0808 353px,#c20000 367px,#8f0000 401px,#610200 419px,#4e0200 425px,#4d0400 431px,#56140f 433px,#8a5a56 435px,#e7dddd 437px,#fff 439px"></p><p style="--g:#fff 287px,#fef0ed 289px,#fc9f94 291px,#fd2f1b 293px,#ff1603 295px,#ff0900 307px,#ff0a06 311px,#ff140f 313px,#ff2421 315px,#ff3f3d 317px,#ff8e8b 321px,#ffcccb 325px,#ffdddc 327px,#ffe1e0 329px,#ffc6c5 333px,#ffabab 335px,#ff6b6a 339px,#ff5856 341px,#ff3c3b 343px,#fc1e1d 347px,#ef1111 349px,#d70303 357px,#8a0200 405px,#4d0400 427px,#4d0701 433px,#5a1812 435px,#98706c 437px,#ebe4e2 439px,#fff 441px"></p><p style="--g:#fff 285px,#fef6f6 287px,#f6bfb5 289px,#f53d25 291px,#fd1e04 293px,#ff1200 301px,#ff1004 309px,#ff241a 313px,#ff3930 315px,#ff5950 317px,#ffa59f 321px,#ffc7c1 323px,#ffddd8 325px,#ffe8e1 327px,#ffe2de 329px,#ffd3cf 331px,#ff9c97 335px,#ff7b77 337px,#ff3533 343px,#f91a17 347px,#dc0704 355px,#c30200 371px,#8c0400 405px,#5d0600 423px,#4d0600 429px,#4e0a03 435px,#5d2018 437px,#efe8e8 441px,#fff 443px,#fff 571px,#f0e4e4 579px,#eee7e7 593px,#fff 601px"></p><p style="--g:#fff 283px,#fffaf9 285px,#fed7d0 287px,#fa6148 289px,#fe2809 291px,#ff1e00 293px,#ff1603 307px,#ff2312 311px,#ff3627 313px,#ff7466 317px,#ffc3b7 321px,#ffddd0 323px,#ffebde 325px,#ffece0 327px,#ffe2d7 329px,#ffb0a6 333px,#ff5951 339px,#fd251e 345px,#e60e0a 351px,#ce0600 363px,#8f0700 405px,#620800 423px,#4e0700 429px,#4f0e04 437px,#61271d 439px,#b59a96 441px,#f4eeed 443px,#fff 445px,#fff 565px,#efdede 571px,#b47676 575px,#892b2b 579px,#7e1e1e 581px,#6b1e1e 591px,#763838 593px,#8c5d5d 595px,#cebbbb 599px,#e9e1e1 601px,#fff 607px"></p><p style="--g:#fff 283px,#ffe6df 285px,#f97b60 287px,#fe350f 289px,#ff2400 291px,#ff1d06 307px,#ff240e 309px,#ff351f 311px,#ff6f5d 315px,#ffbba9 319px,#ffd9c8 321px,#ffecdb 323px,#fff2e1 325px,#ffeddc 327px,#ffc4b4 331px,#ff6e60 337px,#ff4233 341px,#fe281c 345px,#e31307 351px,#c70a00 367px,#8d0c00 407px,#5a0a00 427px,#4d0a00 433px,#511106 439px,#6c382e 441px,#cbb8b4 443px,#f7f3f3 445px,#fff 447px,#fff 561px,#f2e5e5 565px,#d6afaf 567px,#b56969 569px,#972d2d 571px,#8a1616 573px,#760202 581px,#5e0505 593px,#5a1919 599px,#6b3939 601px,#947575 603px,#cababa 605px,#ece7e7 607px,#fff 611px"></p><p style="--g:#fff 281px,#ffefea 283px,#f99276 285px,#fd3f15 287px,#ff2c01 289px,#ff2204 305px,#ff280b 307px,#ff4a2f 311px,#ff664c 313px,#ffd3bb 319px,#ffebd4 321px,#fff7e1 323px,#fff5e0 325px,#ffd7c1 329px,#ff9b88 333px,#ff513c 339px,#ff301f 343px,#e21607 351px,#c71000 367px,#8f0e00 407px,#5e0c00 427px,#4d0c00 433px,#4d0d00 439px,#521406 441px,#703e32 443px,#cdbbb6 445px,#f8f6f6 447px,#fff 449px,#fff 557px,#fcf6f6 559px,#f2e2e2 561px,#daacac 563px,#ad5252 565px,#961b1b 567px,#8b0303 571px,#680000 591px,#4e0606 601px,#4e0d0d 603px,#541e1e 605px,#7f5c5c 607px,#e9e4e4 611px,#f9f8f8 613px,#fff 615px"></p><p style="--g:#fff 209px,#f2eaea 217px,#f1eaea 227px,#fff 235px,#fff 279px,#fff6f6 281px,#fdc4b3 283px,#f94e21 285px,#ff3403 287px,#ff2703 303px,#ff3713 307px,#ff4727 309px,#ff6141 311px,#ffcdb0 317px,#ffe7cb 319px,#fff8dd 321px,#fffde2 323px,#fff7dc 325px,#ffe5cb 327px,#ff6149 337px,#ff3e26 341px,#f42813 345px,#dc1804 353px,#b81300 379px,#851000 413px,#4d0d00 435px,#4d0f00 441px,#531808 443px,#7c4c3e 445px,#dfd2cf 447px,#fbf9f9 449px,#fff 451px,#fff 553px,#fcf9f9 555px,#f6e7e7 557px,#dbabab 559px,#aa4949 561px,#9d1919 563px,#970909 565px,#910000 569px,#6e0000 591px,#480202 605px,#480909 607px,#4b1a1a 609px,#775454 611px,#c5b6b6 613px,#eeebeb 615px,#fff 617px"></p><p style="--g:#fff 203px,#f3e7e7 207px,#e7d4d4 209px,#c18f8f 213px,#b67b7b 215px,#9b5454 217px,#904e4e 223px,#8c5454 227px,#a57b7b 229px,#af9292 231px,#d5c5c5 233px,#e9e1e1 235px,#fff 241px,#fff 277px,#fffaf9 279px,#fedacd 281px,#f96b3e 283px,#ff3e08 285px,#ff3500 289px,#ff2e02 301px,#ff360d 305px,#ff441c 307px,#ff5b34 309px,#ffc6a0 315px,#ffe2c0 317px,#fff6d6 319px,#ffffe1 321px,#fffee0 323px,#fff3d4 325px,#ffc4a6 329px,#ff896b 333px,#ff7559 335px,#ff5a3e 337px,#f93217 343px,#de1f05 351px,#bd1500 375px,#8f1500 409px,#621100 429px,#4e0e00 435px,#4d1100 443px,#571e0d 445px,#936d60 447px,#e9e1de 449px,#fff 451px,#fff 551px,#f9f2f2 553px,#e8c4c4 555px,#c36969 557px,#a51d1d 559px,#9e0707 561px,#970000 569px,#720000 591px,#420202 609px,#410909 611px,#4e2020 613px,#dad1d1 617px,#f6f3f3 619px,#fff 621px"></p><p style="--g:#fff 199px,#edd 203px,#c38f8f 205px,#a05050 207px,#8c1f1f 209px,#821111 213px,#720909 221px,#610e0e 229px,#5d2323 235px,#845d5d 237px,#c0acac 239px,#e7e1e1 241px,#fff 245px,#fff 277px,#ffe8e0 279px,#f98257 281px,#fe470d 283px,#ff3d00 285px,#ff3503 301px,#ff390b 303px,#ff582b 307px,#ffb68d 313px,#ffdcb3 315px,#fff5cf 317px,#fffedf 319px,#ffffe2 321px,#fffbdb 323px,#ffedc8 325px,#ff9c78 331px,#ff5635 337px,#fe3c1c 341px,#e52909 347px,#cd1d00 361px,#911700 409px,#5a1200 433px,#4d1100 439px,#4d1300 445px,#5b2615 447px,#98796c 449px,#ece6e4 451px,#fff 453px,#fff 549px,#f6e5e5 551px,#db9f9f 553px,#b23030 555px,#a60e0e 557px,#a30202 559px,#8f0202 579px,#510000 607px,#3f0303 613px,#431010 615px,#643d3d 617px,#baa9a9 619px,#ede8e8 621px,#fff 623px"></p><p style="--g:#fff 195px,#f8eeee 197px,#e8cfcf 199px,#a23a3a 203px,#911313 205px,#870202 209px,#600 227px,#500202 235px,#531717 239px,#653a3a 241px,#9b8383 243px,#e1dbdb 245px,#fff 249px,#fff 275px,#fff1eb 277px,#f8a481 279px,#fc5615 281px,#ff4300 283px,#ff3a02 299px,#ff3d07 301px,#ff5823 305px,#ff6e3c 307px,#fff4c7 315px,#fffddb 317px,#ffffe3 319px,#ffffe0 321px,#fffad2 323px,#ffcca1 327px,#ff7952 333px,#ff4621 339px,#fc401a 341px,#e92f0c 345px,#d12301 357px,#961c00 407px,#691700 429px,#4e1200 439px,#4e1703 447px,#5f2e19 449px,#b0968a 451px,#f0edea 453px,#fff 455px,#fff 545px,#fcf6f6 547px,#eed1d1 549px,#c76161 551px,#af1a1a 553px,#aa0505 555px,#a60000 563px,#a10a0a 575px,#730000 595px,#460000 613px,#3c0606 617px,#4a1e1e 619px,#dbd3d3 623px,#f8f6f6 625px,#fff 627px"></p><p style="--g:#fff 191px,#faf1f1 193px,#ebd1d1 195px,#9c2424 199px,#960f0f 201px,#900101 205px,#710000 225px,#4c0101 239px,#470606 241px,#4b1111 243px,#5b2e2e 245px,#8f7676 247px,#d9d1d1 249px,#f4f3f3 251px,#fff 253px,#fff 273px,#fff8f6 275px,#fdccb5 277px,#fa6b2b 279px,#ff4d04 281px,#ff3f02 297px,#ff4c0d 301px,#ff571d 303px,#ff6c32 305px,#ffd19c 311px,#ffedba 313px,#fffcd2 315px,#ffffdf 317px,#ffffe1 319px,#fffed7 321px,#ffe0b0 325px,#ffa475 329px,#ff6236 335px,#ff491e 339px,#e6330a 345px,#d12701 357px,#911f00 411px,#621800 433px,#4d1400 441px,#501b04 449px,#643520 451px,#bda89f 453px,#f6f1f0 455px,#fff 457px,#fff 543px,#f9efef 545px,#e3b7b7 547px,#c34848 549px,#b30f0f 551px,#af0202 553px,#ae0606 565px,#b31616 573px,#8a0101 585px,#590000 609px,#3b0303 619px,#431212 621px,#6f4949 623px,#cec1c1 625px,#f4f1f1 627px,#fff 629px"></p><p style="--g:#fff 187px,#fcf9f9 189px,#f3e2e2 191px,#d49494 193px,#ab3030 195px,#9e1111 197px,#990303 199px,#840000 217px,#540000 239px,#440404 245px,#441010 247px,#623c3c 249px,#b3a0a0 251px,#eae4e4 253px,#f9f9f9 255px,#fff 257px,#fff 271px,#fffbf9 273px,#fddfcd 275px,#f97d3e 277px,#fe5508 279px,#ff4e00 283px,#ff4701 295px,#ff4c0a 299px,#ff5616 301px,#ff6929 303px,#ffe7ad 311px,#fffbca 313px,#ffffdc 315px,#ffffe2 317px,#ffffdc 319px,#fffbcb 321px,#ffeeba 323px,#ffb581 327px,#ff713e 333px,#ff5322 337px,#e93b0b 343px,#d22b01 355px,#902000 413px,#601900 435px,#4d1600 443px,#4d1800 449px,#511f06 451px,#6e442f 453px,#d0c0b7 455px,#f9f6f6 457px,#fff 459px,#fff 541px,#f7e8e8 543px,#e09595 545px,#c02d2d 547px,#b80909 549px,#b60000 553px,#b60707 563px,#ca2626 571px,#ba1d1d 575px,#940303 583px,#530000 613px,#3a0101 621px,#3e0909 623px,#5c3030 625px,#b3a0a0 627px,#eeebeb 629px,#fff 631px"></p><p style="--g:#fff 185px,#f8f0f0 187px,#e7c2c2 189px,#be5656 191px,#a71919 193px,#a10404 195px,#920202 213px,#500000 243px,#410101 247px,#400606 249px,#471a1a 251px,#775656 253px,#cec3c3 255px,#f4f2f2 257px,#fff 259px,#fff 271px,#fbebe2 273px,#f39057 275px,#fc5f0e 277px,#f50 279px,#ff4d02 295px,#ff5811 299px,#ff6820 301px,#ff7e3a 303px,#ffdf9f 309px,#fff8c0 311px,#ffffd6 313px,#ffffe0 315px,#ffffe0 317px,#ffffd6 319px,#fff8c1 321px,#ffcd94 325px,#ff955d 329px,#ff6c36 333px,#fc521d 337px,#e13907 345px,#c72d00 365px,#922500 413px,#601c00 437px,#4d1800 445px,#4d1a00 451px,#552409 453px,#805c48 455px,#dcd2cd 457px,#faf9f9 459px,#fff 461px,#fff 539px,#f6e4e4 541px,#d18080 543px,#c01d1d 545px,#bb0404 547px,#ba0101 557px,#c71414 563px,#e03333 567px,#e03939 571px,#c92828 575px,#a80f0f 579px,#930202 585px,#540000 615px,#3a0000 623px,#3a0505 625px,#502020 627px,#a28a8a 629px,#e8e2e2 631px,#fff 633px"></p><p style="--g:#fff 183px,#f4e4e4 185px,#d59494 187px,#b42f2f 189px,#a90c0c 191px,#a60000 195px,#9d0707 211px,#6e0000 233px,#3d0202 251px,#3e0c0c 253px,#593030 255px,#b39f9f 257px,#ebe5e5 259px,#fff 261px,#fff 269px,#fcf4ed 271px,#eeb895 273px,#f96a18 275px,#ff5c01 277px,#ff5305 295px,#ff671a 299px,#ff7a2e 301px,#ffd993 307px,#fff3b6 309px,#ffffcf 311px,#ffd 313px,#ffffe1 315px,#ffffdb 317px,#fffecb 319px,#fff2b4 321px,#ffbf81 325px,#ffa366 327px,#ff682c 333px,#f34b12 339px,#db3903 347px,#942800 413px,#641f00 437px,#4d1a00 447px,#4d1c00 453px,#55290c 455px,#82614b 457px,#ded6d0 459px,#fbfaf9 461px,#fff 463px,#fff 537px,#f6e1e1 539px,#d67676 541px,#c31919 543px,#c10303 545px,#c10404 557px,#c60c0c 559px,#e12c2c 563px,#f04343 565px,#f74f4f 567px,#f85151 569px,#e43d3d 573px,#be1d1d 577px,#a30808 581px,#810000 597px,#480000 621px,#3a0000 625px,#3a0303 627px,#4a1717 629px,#846161 631px,#dbd1d1 633px,#f9f8f8 635px,#fff 637px"></p><p style="--g:#fff 179px,#fcf6f6 181px,#f0d1d1 183px,#c96161 185px,#b31919 187px,#ae0404 189px,#a90303 201px,#b11111 207px,#a30d0d 213px,#860000 223px,#4b0000 249px,#390505 255px,#4a1a1a 257px,#826161 259px,#dbd1d1 261px,#f6f6f6 263px,#fff 265px,#fff 267px,#fff9f6 269px,#fcd2b4 271px,#fa7e2e 273px,#ff6306 275px,#ff5e00 281px,#ff5a04 293px,#ff6915 297px,#ff9442 301px,#ffb060 303px,#ffd588 305px,#ffeea7 307px,#fffcc4 309px,#ffffd8 311px,#ffffe1 313px,#ffffdf 315px,#fffac1 319px,#ffeaa7 321px,#ffb574 325px,#ff8645 329px,#fe5a1c 335px,#e34308 343px,#cb3700 359px,#922b00 415px,#632100 439px,#4d1b00 447px,#4d1e00 455px,#562e0f 457px,#907560 459px,#e9e4df 461px,#fff 463px,#fff 535px,#f8e0e0 537px,#de6c6c 539px,#cc1717 541px,#c80303 543px,#c70202 553px,#cd0d0d 557px,#f74949 563px,#fd5c5c 565px,#ff6464 567px,#ff6161 569px,#fc5555 571px,#c01c1c 577px,#9f0404 583px,#5b0000 617px,#3b0000 627px,#3b0202 629px,#470f0f 631px,#764b4b 633px,#d9cdcd 635px,#f9f8f8 637px,#fff 639px"></p><p style="--g:#fff 177px,#faf4f4 179px,#edc1c1 181px,#c64949 183px,#b80f0f 185px,#b40202 187px,#b20202 197px,#b70c0c 201px,#c41f1f 205px,#b81b1b 211px,#9a0606 217px,#670000 241px,#3a0202 257px,#420f0f 259px,#6f4848 261px,#c8b7b7 263px,#f2efef 265px,#fdfaf9 267px,#fee2cc 269px,#f98935 271px,#ff6d06 273px,#ff6500 279px,#ff6103 291px,#ff6810 295px,#ff791f 297px,#ffac55 301px,#ffd17c 303px,#ffec9d 305px,#fffbbc 307px,#ffffd3 309px,#ffffe0 311px,#ffffe2 313px,#ffffda 315px,#ffffc8 317px,#fff5af 319px,#ff9750 327px,#ff6421 333px,#fe5e1b 335px,#eb4e0d 339px,#d34001 351px,#8f2e00 419px,#622400 441px,#4d1d00 449px,#4d2101 457px,#5c3315 459px,#a18b76 461px,#eeeae6 463px,#fff 465px,#fff 533px,#f9dfdf 535px,#e06b6b 537px,#d01515 539px,#ce0303 541px,#ce0404 553px,#e31d1d 557px,#f23131 559px,#ff6868 563px,#ff7575 565px,#f77 567px,#fd5b5b 571px,#f04141 573px,#b40f0f 579px,#9e0202 585px,#600000 617px,#3b0000 629px,#3c0101 631px,#480c0c 633px,#764b4b 635px,#d9cbcb 637px,#f6f6f6 639px,#fff 641px"></p><p style="--g:#fff 175px,#f9eeee 177px,#e9b2b2 179px,#c53333 181px,#ba0909 183px,#b00 187px,#bb0707 197px,#df3636 205px,#d43131 209px,#9e0707 217px,#7f0000 231px,#530000 251px,#3a0101 259px,#3e0909 261px,#5b2d2d 263px,#ad9594 265px,#eedcd1 267px,#f79e56 269px,#fd760c 271px,#ff6e00 273px,#ff6705 291px,#ff6c0d 293px,#ff8c2e 297px,#ffc86b 301px,#ffe791 303px,#fff9b3 305px,#ffd 309px,#ffffe3 311px,#ffffdf 313px,#ffffd0 315px,#ffffb7 317px,#fff3a5 319px,#ffbb6d 323px,#ff7e31 329px,#ff661e 333px,#e24c07 341px,#ce4100 355px,#963200 415px,#672700 441px,#4d1f00 451px,#4e2503 459px,#603c1b 461px,#b5a394 463px,#f4f0ed 465px,#fff 467px,#fff 529px,#fff9f9 531px,#f6d2d2 533px,#db6161 535px,#d31313 537px,#d30303 539px,#d30202 549px,#da0c0c 553px,#f63434 557px,#ff6f6f 561px,#ff8484 563px,#ff8d8d 565px,#ff8585 567px,#ff7474 569px,#fd5858 571px,#f14242 573px,#c71b1b 577px,#a60404 583px,#5c0000 621px,#3d0000 631px,#3d0000 633px,#460b0b 635px,#6e3e3e 637px,#c9b8b8 639px,#f6f6f6 641px,#fff 643px"></p><p style="--g:#fff 173px,#f9eaea 175px,#e19595 177px,#c12424 179px,#c00606 181px,#c00000 187px,#bf0303 193px,#cb1414 197px,#ea3838 201px,#f24646 203px,#ee4646 207px,#af1111 215px,#950202 221px,#590000 251px,#390000 261px,#3b0404 263px,#511c1a 265px,#a87153 267px,#e67110 269px,#fc7300 271px,#ff6c04 289px,#ff7a14 293px,#ffa240 297px,#ffe183 301px,#fff7a8 303px,#ffffd7 307px,#ffffe1 309px,#ffffe1 311px,#ffffc6 315px,#fffbae 317px,#ffe691 319px,#ff8b39 327px,#fa6619 333px,#e05006 341px,#c84400 361px,#933500 419px,#652900 443px,#4d2100 453px,#502804 461px,#664425 463px,#c9beb2 465px,#f6f3f3 467px,#fff 469px,#fff 529px,#fadddd 531px,#e35757 533px,#d81212 535px,#da0202 537px,#d90303 549px,#dd0a0a 551px,#eb1a1a 553px,#fa3434 555px,#ff8d8d 561px,#ff9c9c 563px,#ff9a9a 565px,#ff8b8b 567px,#fd5a5a 571px,#f13f3f 573px,#da2828 575px,#b90d0d 579px,#a10101 587px,#670000 619px,#3e0000 633px,#3f0000 635px,#460b0b 637px,#6e3e3e 639px,#d9cccc 641px,#f9f6f6 643px,#fff 645px"></p><p style="--g:#fff 171px,#f9eaea 173px,#e69494 175px,#c91f1f 177px,#c50404 179px,#c60303 191px,#d41717 195px,#f44141 199px,#fb5555 201px,#fe5f5f 203px,#fe5e5e 205px,#ec4444 209px,#c41f1f 213px,#a60909 217px,#8f0000 227px,#590000 253px,#3a0000 263px,#3c0302 265px,#4e1209 267px,#8d3402 269px,#e76a00 271px,#fc7600 273px,#ff7203 287px,#ff7c0f 291px,#ff9f36 295px,#ffb851 297px,#ffdc77 299px,#fff59a 301px,#ffffd0 305px,#ffffdf 307px,#ffffe3 309px,#ffd 311px,#fffeb9 315px,#fff29b 317px,#ffe187 319px,#ffab53 323px,#ff7a25 329px,#f66615 333px,#df5406 341px,#c94800 359px,#953a00 419px,#652b00 445px,#4d2300 455px,#4d2500 461px,#522b06 463px,#705131 465px,#cbc0b4 467px,#f7f3f3 469px,#fff 471px,#fff 527px,#fbe0e0 529px,#ea6b6b 531px,#de1212 533px,#e00202 535px,#df0303 547px,#ef1616 551px,#fa2d2d 553px,#ff7575 557px,#ffa7a7 561px,#ffabab 563px,#ffa2a2 565px,#fc5151 571px,#ee3737 573px,#c91616 577px,#ae0404 583px,#620000 623px,#400000 635px,#400000 637px,#490c0c 639px,#784949 641px,#d2c1c1 643px,#f6f4f4 645px,#fff 647px"></p><p style="--g:#fff 169px,#faeaea 171px,#e89494 173px,#ce1f1f 175px,#cb0404 177px,#cc0303 189px,#da1717 193px,#f94a4a 197px,#ff6262 199px,#ff7070 201px,#ff7373 203px,#ff6b6b 205px,#fd5a5a 207px,#db2f2f 211px,#c51c1c 213px,#a20404 219px,#5a0000 255px,#3b0000 265px,#3d0100 267px,#4c0a00 269px,#8e3500 271px,#e76e00 273px,#fc7a00 275px,#ff7a05 287px,#ff8918 291px,#ffb748 295px,#fff58e 299px,#fffeb0 301px,#ffffda 305px,#ffffe3 307px,#ffffe1 309px,#ffffc0 313px,#fffba6 315px,#ffed90 317px,#ffbc60 321px,#ff9338 325px,#f96e18 331px,#e05b07 339px,#ca4d00 357px,#963d00 419px,#6e3200 443px,#4d2400 457px,#4d2600 463px,#522e06 465px,#705232 467px,#ccc1b5 469px,#f8f6f6 471px,#fff 473px,#fff 525px,#f9e1e1 527px,#ec6c6c 529px,#e51515 531px,#e50303 533px,#e40202 545px,#e70707 547px,#fb2a2a 551px,#ff4949 553px,#ff9494 557px,#ffacac 559px,#ffb7b7 561px,#ffb2b2 563px,#ff8787 567px,#ff6565 569px,#fd4d4d 571px,#f03535 573px,#da2121 575px,#bf0b0b 579px,#a60000 589px,#6d0000 621px,#410000 637px,#420000 639px,#4c0909 641px,#693434 643px,#cbb6b6 645px,#f7f6f6 647px,#fff 649px"></p><p style="--g:#fff 167px,#fbeaea 169px,#eb9494 171px,#d31f1f 173px,#d10404 175px,#d20303 187px,#e01616 191px,#f12d2d 193px,#ff6b6b 197px,#ff7f7f 199px,#f88 201px,#ff8484 203px,#fe5e5e 207px,#f34545 209px,#d92c2c 211px,#b80f0f 215px,#9c0000 223px,#650000 253px,#3d0000 267px,#3f0000 269px,#4d0a00 271px,#8f3600 273px,#e46f00 275px,#fc7e00 277px,#ff8209 287px,#ff9b24 291px,#ffb33e 293px,#ffee81 297px,#fffd9e 299px,#ffffbf 301px,#ffffd5 303px,#ffffe1 305px,#ffffe3 307px,#ffffdb 309px,#ffffb5 313px,#fff999 315px,#ffe37d 317px,#ffa03f 323px,#fb781b 329px,#e26207 337px,#ce5400 351px,#964200 421px,#693100 447px,#4d2600 459px,#4d2800 465px,#522f07 467px,#725635 469px,#dbd4ca 471px,#faf9f8 473px,#fff 475px,#fff 523px,#fbe6e6 525px,#e57676 527px,#e81616 529px,#eb0303 531px,#eb0202 543px,#f51010 547px,#fc2222 549px,#ff6262 553px,#ffadad 557px,#ffbdbd 559px,#ffc0c0 561px,#ff9d9d 565px,#fb4545 571px,#ea2d2d 573px,#cb1111 577px,#b00202 585px,#720000 621px,#450000 637px,#400 641px,#4b0808 643px,#743e3e 645px,#dacccc 647px,#faf8f8 649px,#fff 651px"></p><p style="--g:#fff 61px,#f4ede7 69px,#efe7e3 77px,#f8f6f4 85px,#fff 87px,#fff 165px,#fceaea 167px,#ed9494 169px,#d91f1f 171px,#d60404 173px,#d90303 185px,#e41515 189px,#fe4545 193px,#ff6969 195px,#ff8484 197px,#ff9494 199px,#ff9898 201px,#ff7676 205px,#fe5959 207px,#f34242 209px,#c71919 213px,#a90404 219px,#650000 255px,#3e0000 269px,#400000 271px,#4d0900 273px,#7a2800 275px,#db6d00 277px,#fa8200 279px,#ff8707 285px,#ff9c1e 289px,#ffaf33 291px,#ffea75 295px,#fffc93 297px,#ffffb6 299px,#ffffcf 301px,#ffffdf 303px,#ffffe4 305px,#ffffd2 309px,#ffffa2 313px,#fff38e 315px,#ffc25a 319px,#ff8e28 325px,#fb7918 329px,#e46808 335px,#ce5800 351px,#974400 421px,#753800 443px,#4d2800 461px,#4d2a00 467px,#553409 469px,#816a4a 471px,#dcd7cd 473px,#faf9f9 475px,#fff 477px,#fff 521px,#ffeded 523px,#f69494 525px,#ed1b1b 527px,#ef0303 529px,#f00101 541px,#f80c0c 545px,#fe1d1d 547px,#ff3939 549px,#ffa9a9 555px,#ffc2c2 557px,#ffcaca 559px,#ffc3c3 561px,#ffafaf 563px,#fc3d3d 571px,#d91818 575px,#bd0404 581px,#6e0000 625px,#460000 639px,#460000 643px,#4f0c0c 645px,#7e4b4b 647px,#dccdcd 649px,#faf9f9 651px,#fff 653px"></p><p style="--g:#fff 55px,#f9f4f0 59px,#f2e9e1 61px,#dfcabb 63px,#ab7653 67px,#9f663f 69px,#8c4c21 71px,#7e481e 77px,#84522b 79px,#a28369 83px,#e1d9d2 87px,#efeae7 89px,#fff 93px,#fff 163px,#fbeded 165px,#f09494 167px,#e01f1f 169px,#de0404 171px,#de0202 183px,#df0606 185px,#e81313 187px,#ff4242 191px,#ff8787 195px,#ff9e9e 197px,#ffa8a8 199px,#ff8f8f 203px,#fe5555 207px,#f23c3c 209px,#cb1818 213px,#b20707 217px,#910000 235px,#5c0000 261px,#410000 269px,#410000 273px,#4c0600 275px,#7b2a00 277px,#e47601 279px,#fb8702 281px,#ff920c 285px,#ff9c19 287px,#ffc644 291px,#fffa8b 295px,#ffffc8 299px,#ffffdb 301px,#ffffe3 305px,#ffffd8 307px,#ffffb1 311px,#fffa97 313px,#ffe97b 315px,#ffcf62 317px,#ff992e 323px,#fd821a 327px,#e26a07 335px,#cf5c01 349px,#974700 423px,#723b00 447px,#4e2b00 461px,#4d2c00 469px,#56390c 471px,#826c4b 473px,#ded8ce 475px,#fbfaf9 477px,#fff 479px,#fff 519px,#fff3f3 521px,#fcb2b2 523px,#f32525 525px,#f50404 527px,#f90303 541px,#ff1818 545px,#ff3030 547px,#ff5252 549px,#ffa3a3 553px,#ffbebe 555px,#ffcdcd 557px,#ffcdcd 559px,#ffbebe 561px,#ff6a6a 567px,#ff4b4b 569px,#fa3737 571px,#ea2222 573px,#c50707 579px,#a20000 599px,#690000 629px,#460000 641px,#480000 645px,#530c0c 647px,#7f4b4b 649px,#ddcece 651px,#fbf9f9 653px,#fff 655px"></p><p style="--g:#fff 53px,#f7f1ec 55px,#e8d4c6 57px,#a46230 61px,#954f19 63px,#883d09 67px,#763401 75px,#6a350c 83px,#6c431e 87px,#856347 89px,#b8a697 91px,#e6e1dc 93px,#fff 97px,#fff 161px,#fcf0f0 163px,#eda9a9 165px,#e32222 167px,#e20404 169px,#e50202 181px,#ed1111 185px,#ff4242 189px,#ff8989 193px,#ffa5a5 195px,#ffb3b3 197px,#ffb1b1 199px,#ffa2a2 201px,#ff7171 205px,#fe4f4f 207px,#f23737 209px,#ca1515 213px,#af0404 219px,#700000 255px,#420000 271px,#420000 275px,#4e0900 277px,#8a3601 279px,#dd7804 281px,#fa930a 283px,#ff9e13 285px,#ffc53d 289px,#fff67f 293px,#ffffa1 295px,#ffffd5 299px,#ffffe2 301px,#ffffe4 303px,#ffffdc 305px,#ffffba 309px,#ffffa0 311px,#fff483 313px,#ffb544 319px,#fe8a1d 325px,#e9750b 331px,#d36601 343px,#b85700 381px,#974c00 425px,#6c3a00 451px,#4d2c00 465px,#4d2e00 471px,#563b0f 473px,#8c7856 475px,#e8e4dd 477px,#fff 479px,#fff 517px,#fef7f7 519px,#f7c2c1 521px,#f83333 523px,#fb0606 525px,#f00 531px,#fd0707 541px,#ff1313 543px,#ff2828 545px,#ff4646 547px,#f99 551px,#ffbaba 553px,#ffd0d0 555px,#ffd4d4 557px,#fcc 559px,#ffb8b8 561px,#ff6060 567px,#f92e2e 571px,#db1313 575px,#c00202 583px,#750000 627px,#480000 643px,#4a0000 647px,#540f0f 649px,#895656 651px,#e7dddd 653px,#fff 655px"></p><p style="--g:#fff 49px,#f9f3ee 51px,#ecddcf 53px,#a55a22 57px,#994b0e 59px,#924004 61px,#5e2e02 87px,#5e3812 91px,#694726 93px,#ded8d0 97px,#f0edea 99px,#fcf9f9 101px,#fff 103px,#fff 159px,#fff3f3 161px,#f8b4b4 163px,#e83131 165px,#e80606 167px,#ec0000 173px,#ea0404 181px,#fb1d1d 185px,#ff3737 187px,#ff8686 191px,#ffa6a6 193px,#ffbaba 195px,#ffbebe 197px,#ffb5b5 199px,#ff8484 203px,#fd4646 207px,#cd1313 213px,#af0101 221px,#750000 255px,#430000 273px,#400 277px,#500900 279px,#7c2d03 281px,#dc830e 283px,#faac20 285px,#ffc233 287px,#fff370 291px,#fffe91 293px,#ffffb4 295px,#ffffde 299px,#ffffe4 301px,#ffffe0 303px,#ffffc0 307px,#fffd8d 311px,#ffef79 313px,#ffd75f 315px,#ff9321 323px,#fd8c1b 325px,#ec7c0e 329px,#d26801 343px,#975100 427px,#713f00 451px,#4d2e00 467px,#4d3001 473px,#5b4012 475px,#98886b 477px,#e9e6e0 479px,#fff 481px,#fff 515px,#fff9f9 517px,#fed1d0 519px,#f94c4a 521px,#fe0909 523px,#f00 525px,#ff0202 537px,#ff0f0f 541px,#ff2121 543px,#ff6161 547px,#ffb1b1 551px,#fcc 553px,#ffd8d8 555px,#ffd5d5 557px,#ffc6c6 559px,#ffadad 561px,#ff6f6f 565px,#ff3a3a 569px,#fa2929 571px,#dc1010 575px,#be0101 585px,#860000 621px,#600000 637px,#4a0000 645px,#4b0101 649px,#5a1212 651px,#986c6b 653px,#e9e0e0 655px,#fff 657px"></p><p style="--g:#fff 45px,#fcfaf6 47px,#efe1d4 49px,#ad692e 53px,#a05010 55px,#984503 57px,#713600 81px,#542d03 93px,#5a3711 95px,#6a4d2b 97px,#917a61 99px,#d5cdc3 101px,#f3f2ef 103px,#fff 105px,#fff 157px,#fff6f6 159px,#f7b5b5 161px,#ef3232 163px,#ed0606 165px,#f20000 171px,#ee0303 179px,#f40909 181px,#ff2f2f 185px,#ff5151 187px,#ffa1a1 191px,#ffb9b9 193px,#ffc5c5 195px,#ffc4c4 197px,#ff9898 201px,#fc3f3f 207px,#cd0f0f 213px,#b40101 221px,#720000 259px,#450000 275px,#460000 279px,#500800 281px,#7f3508 283px,#e5a729 285px,#fcd647 287px,#fff067 289px,#fffd86 291px,#ffffac 293px,#ffffc8 295px,#ffffda 297px,#ffffe3 301px,#ffffda 303px,#ffff9a 309px,#fff980 311px,#ffe266 313px,#ffa930 319px,#fe921c 323px,#e37908 331px,#cc6900 349px,#9b5500 425px,#714200 453px,#4d3000 469px,#4e3303 475px,#5b4415 477px,#988a6c 479px,#e9e8e1 481px,#fff 483px,#fff 515px,#ffdfde 517px,#fa6660 519px,#ff130f 521px,#ff0200 523px,#ff0404 537px,#ff1919 541px,#ff3232 543px,#ffc7c7 551px,#ffd7d7 553px,#ffdbdb 555px,#ffd2d2 557px,#ffbdbd 559px,#ff4848 567px,#f72222 571px,#d50808 577px,#ba0000 591px,#7f0000 627px,#4c0000 645px,#4d0403 651px,#5b1715 653px,#986f6d 655px,#ece4e4 657px,#fff 659px"></p><p style="--g:#fff 43px,#f8f3ed 45px,#e8d3bf 47px,#bc8149 49px,#a85913 51px,#9f4b04 53px,#703900 83px,#512c03 97px,#56350c 99px,#6d502e 101px,#e9e4df 105px,#f9f8f6 107px,#fff 109px,#fff 155px,#fff9f9 157px,#facece 159px,#e63636 161px,#f00707 163px,#f70000 167px,#f50202 177px,#fc1313 181px,#ff2a2a 183px,#ffb8b8 191px,#ffcaca 193px,#ffcfcf 195px,#ffadad 199px,#ff5151 205px,#fb3737 207px,#db1818 211px,#bb0202 219px,#730000 261px,#460000 277px,#470000 281px,#540c03 283px,#965a1d 285px,#e9d14f 287px,#fcf779 289px,#ffffa0 291px,#ffffbe 293px,#ffffe0 297px,#ffffe4 299px,#ffd 301px,#ffb 305px,#fffc86 309px,#ffef6c 311px,#ffb536 317px,#f99217 323px,#dd7905 333px,#c76b00 355px,#9d5800 425px,#774800 453px,#4e3200 469px,#4e3603 477px,#5c4616 479px,#9f9476 481px,#ebe9e2 483px,#fff 485px,#fff 513px,#ffe8e7 515px,#f9766d 517px,#fd1f15 519px,#ff0901 521px,#ff0100 531px,#ff0808 537px,#ff1313 539px,#ff2828 541px,#ff6d6d 545px,#ff9898 547px,#ffbaba 549px,#ffd2d2 551px,#fdd 553px,#ffd9d9 555px,#ffc9c9 557px,#ff9494 561px,#ff5454 565px,#ff2a2a 569px,#de0b0b 575px,#c30000 587px,#850000 627px,#4d0100 647px,#4e0603 653px,#5e1d19 655px,#ac8c8a 657px,#f0e9e9 659px,#fff 661px"></p><p style="--g:#fff 41px,#f5ece3 43px,#b16a23 47px,#a55508 49px,#9f4f00 53px,#7c4000 79px,#4d2b00 99px,#502f04 101px,#5b3f14 103px,#806849 105px,#c5baab 107px,#edebe6 109px,#fff 111px,#fff 155px,#ffe0df 157px,#f86a6a 159px,#f50f0f 161px,#fa0000 163px,#fc0202 175px,#fe0f0f 179px,#ff2323 181px,#ff6464 185px,#ffb1b1 189px,#ffc9c9 191px,#ffd4d4 193px,#ffcece 195px,#ffbcbc 197px,#ff7c7c 201px,#fa3030 207px,#d10c0c 213px,#b60101 223px,#7c0000 259px,#490000 277px,#490000 283px,#591409 285px,#976933 287px,#eae083 289px,#fdfbaf 291px,#ffffdb 295px,#ffffe2 297px,#ffffdf 299px,#ffffc3 303px,#ffff8c 307px,#fffa79 309px,#ffea62 311px,#ffd14b 313px,#ffa31f 319px,#e8860a 327px,#d37802 339px,#be6b00 369px,#9d5c00 427px,#7d4e00 451px,#4d3300 473px,#4e3803 479px,#5d4a17 481px,#9f9476 483px,#eae7e1 485px,#fff 487px,#fff 511px,#fff3f0 513px,#fcb0a8 515px,#fb2c1d 517px,#ff1103 519px,#ff0300 531px,#ff110f 537px,#ff2221 539px,#ff3d3d 541px,#ffb0b0 547px,#fcc 549px,#ffdcdc 551px,#ffdede 553px,#ffd4d4 555px,#ffa5a4 559px,#ff6363 563px,#ff3535 567px,#f61a1a 571px,#da0606 577px,#ac0000 607px,#7c0100 633px,#4d0300 649px,#4f0904 655px,#63231e 657px,#b59794 659px,#f4eeed 661px,#fff 663px"></p><p style="--g:#fff 37px,#fcfcf8 39px,#f3e8db 41px,#cd9d6c 43px,#ae6518 45px,#a55603 47px,#874800 75px,#573200 97px,#4e2f01 103px,#533407 105px,#60461b 107px,#917f61 109px,#dfd9d1 111px,#faf8f6 113px,#fff 115px,#fff 153px,#fce3e2 155px,#f96e6c 157px,#fa1515 159px,#f60302 161px,#f00000 169px,#fc0404 175px,#ff0b0b 177px,#ff3434 181px,#ff5757 183px,#ff8484 185px,#ffc5c5 189px,#ffd7d7 191px,#ffd6d6 193px,#ffc9c9 195px,#f77 201px,#ff3d3d 205px,#ec1c1c 209px,#d30b0b 213px,#b60000 225px,#8c0000 253px,#5e0000 273px,#4a0000 279px,#4c0300 285px,#5b170c 287px,#a17751 289px,#eee6b0 291px,#fffdd1 293px,#ffffe0 295px,#ffffd8 299px,#ffffb0 303px,#fffe82 307px,#ffe153 311px,#ffba32 315px,#ffad23 317px,#f69a14 321px,#db8204 331px,#c57300 355px,#9d6100 429px,#7a4e00 455px,#4d3500 475px,#4f3903 481px,#5d4a17 483px,#988c6c 485px,#e9e7e0 487px,#fff 489px,#fff 509px,#fff6f6 511px,#fcbeb5 513px,#fa4331 515px,#ff1a06 517px,#f10 521px,#ff0c05 533px,#ff100c 535px,#ff1f1a 537px,#ff5554 541px,#ffa4a2 545px,#ffc5c4 547px,#ffd9d8 549px,#ffe1e0 551px,#ffdddc 553px,#ffcdcd 555px,#ffb4b3 557px,#ff9291 559px,#ff7a7a 561px,#ff4242 565px,#ff2020 569px,#e20808 575px,#bf0000 595px,#8d0200 627px,#630400 643px,#4e0400 649px,#500b04 657px,#662a22 659px,#c6ada9 661px,#f6f4f3 663px,#fff 665px"></p><p style="--g:#fff 35px,#faf9f4 37px,#ebd9c1 39px,#c38c4b 41px,#af6311 43px,#a75a03 45px,#894b00 75px,#5d3700 97px,#4d2f00 105px,#4e3202 107px,#573d0f 109px,#816c49 111px,#d3ccbf 113px,#f4f3ef 115px,#fff 117px,#fff 151px,#fceceb 153px,#ed8380 155px,#f41b18 157px,#e10603 159px,#b30500 161px,#860900 165px,#860900 169px,#ab0901 173px,#d80a07 175px,#f21613 177px,#fd2c2c 179px,#ff4b4b 181px,#ffa0a0 185px,#ffc0c0 187px,#ffd4d4 189px,#ffdada 191px,#ffd4d4 193px,#ffc0c0 195px,#ff4c4c 203px,#f92323 207px,#e01111 211px,#ca0303 217px,#7a0000 265px,#4c0000 281px,#4e0500 287px,#601d14 289px,#b59578 291px,#f4eecb 293px,#fffedc 295px,#ffffda 297px,#ffc 299px,#fffc70 307px,#ffd848 311px,#ffc436 313px,#ffab1f 317px,#e49009 325px,#cd7c01 343px,#b36e00 395px,#986200 437px,#6f4c00 463px,#4d3800 477px,#4e3b03 483px,#5b4a15 485px,#988d6b 487px,#e7e4dd 489px,#fcfcfa 491px,#fff 493px,#fff 507px,#fffaf9 509px,#fbd5cf 511px,#f9563e 513px,#ff2208 515px,#ff1600 519px,#ff0e03 531px,#ff2115 535px,#ff3228 537px,#ff4e45 539px,#ffc0b9 545px,#ffd9d2 547px,#ffe5df 549px,#ffe5e0 551px,#ffdad4 553px,#ffa7a3 557px,#ff524e 563px,#fb1f1b 569px,#e30a08 575px,#c10200 595px,#8f0500 627px,#5a0600 647px,#4d0700 653px,#4d0800 657px,#520f06 659px,#743b33 661px,#dacdca 663px,#faf9f8 665px,#fff 667px"></p><p style="--g:#fff 33px,#f9f9f3 35px,#e7d2b4 37px,#bd8134 39px,#ae6609 41px,#aa5d01 43px,#8c5100 75px,#623c00 97px,#4d3000 105px,#4d3201 109px,#533808 111px,#675125 113px,#b5aa94 115px,#eeece6 117px,#fff 119px,#fff 149px,#fff3f3 151px,#f9b7b2 153px,#e22921 155px,#bb0c04 157px,#770a00 159px,#5b0c00 161px,#530f00 169px,#591100 173px,#6b1104 175px,#a11c11 177px,#e73c3a 179px,#f96060 181px,#ffb5b5 185px,#ffcfcf 187px,#ffdcdc 189px,#ffdbdb 191px,#ffb5b5 195px,#ff5b5b 201px,#ff3030 205px,#ea1515 209px,#d30404 215px,#b70000 231px,#8a0000 259px,#650000 275px,#4d0100 283px,#500604 289px,#66261d 291px,#c6ab92 293px,#f6f0cb 295px,#ffffce 297px,#ffffa7 301px,#ffff7a 305px,#fff663 307px,#ffd03b 311px,#ffb221 315px,#e7960a 323px,#d28301 337px,#b87600 381px,#9c6900 435px,#745200 463px,#4e3900 479px,#4e3c03 485px,#5a4a13 487px,#8a7f57 489px,#dddbcf 491px,#faf9f8 493px,#fff 495px,#fff 507px,#fce8e3 509px,#ee7660 511px,#fa2e0e 513px,#ff2000 515px,#ff1502 529px,#ff210e 533px,#ff3121 535px,#ff6a5b 539px,#ffb9ab 543px,#ffe9db 547px,#ffefe2 549px,#ffe6db 551px,#ffbcb2 555px,#ff7d72 559px,#ff3a31 565px,#fa2017 569px,#e10e07 575px,#c40700 593px,#880800 631px,#4e0800 653px,#4d0a00 659px,#551409 661px,#81524a 663px,#ddd0cd 665px,#faf9f9 667px,#fff 669px"></p><p style="--g:#fff 31px,#f9f6ef 33px,#e8d3b4 35px,#be8332 37px,#b06807 39px,#ab6300 43px,#8d5500 77px,#583900 103px,#4d3300 109px,#503803 113px,#604b1b 115px,#9f9476 117px,#e7e4dd 119px,#fcfcf9 121px,#fff 123px,#fff 147px,#fff6f6 149px,#f7beb7 151px,#da3f32 153px,#8f1206 155px,#5f0d00 157px,#500f00 159px,#501300 175px,#5a1704 177px,#81281a 179px,#cc625b 181px,#f49f9e 183px,#fec5c5 185px,#ffdbdb 187px,#ffdede 189px,#ffd6d6 191px,#ffc4c4 193px,#ff8585 197px,#ff3838 203px,#f71c1c 207px,#d50404 215px,#8c0000 261px,#630100 277px,#4e0200 283px,#4d0400 289px,#520b06 291px,#6f3629 293px,#ccb894 295px,#f8f6b9 297px,#ffffad 299px,#ffff91 301px,#fffc6a 305px,#ffec50 307px,#ffbc25 313px,#f6a814 317px,#e09206 325px,#cb8200 343px,#b57700 391px,#9b6b00 439px,#705200 467px,#4d3b00 483px,#4d3d02 487px,#58490f 489px,#82774b 491px,#dcd9cd 493px,#f9f7f6 495px,#fff 497px,#fff 505px,#fff2ed 507px,#fba693 509px,#fb3e18 511px,#ff2701 513px,#ff1d02 527px,#ff240b 531px,#ff3119 533px,#ff644e 537px,#ffb29d 541px,#ffe8d5 545px,#fff4e2 547px,#fff2e0 549px,#ffe5d4 551px,#ff7668 559px,#ff483a 563px,#ff2b1d 567px,#e01106 575px,#b90b00 601px,#860a00 633px,#560a00 651px,#4d0a00 657px,#4d0c00 661px,#56190c 663px,#8b574b 665px,#e4d6d2 667px,#fcfaf9 669px,#fff 671px"></p><p style="--g:#fff 29px,#faf6ee 31px,#e0c497 33px,#be852d 35px,#b16c07 37px,#ad6700 41px,#925a00 75px,#684400 99px,#4d3500 111px,#4f3803 115px,#5b4612 117px,#83744d 119px,#dcd8cd 121px,#f7f6f6 123px,#fff 125px,#fff 145px,#fffaf9 147px,#f6d6d1 149px,#cf5749 151px,#711709 153px,#550f00 155px,#4d1100 159px,#4d1600 177px,#531903 179px,#672a16 181px,#b5786f 183px,#f2c7c7 185px,#ffdfde 187px,#ffdcdb 189px,#ffcdcd 191px,#ff9c9b 195px,#ff5e5c 199px,#ff4343 201px,#fe2222 205px,#e50909 211px,#ca0000 223px,#8c0200 263px,#4e0400 285px,#4d0600 291px,#530e06 293px,#78442f 295px,#dbce8b 297px,#faf993 299px,#ffff83 301px,#ffff6a 303px,#ffe546 307px,#ffc429 311px,#f1a811 317px,#d69202 329px,#c28200 357px,#bc7d00 371px,#b97f00 377px,#a17200 435px,#7e5d00 463px,#4e3d00 485px,#4d3e01 489px,#564a0c 491px,#807748 493px,#d0ccb7 495px,#f5f4ef 497px,#fff 499px,#fff 503px,#fff6f3 505px,#fdc3b2 507px,#fa4d25 509px,#ff3104 511px,#ff2400 523px,#ff2809 529px,#ff4225 533px,#ff5e42 535px,#ffcbb1 541px,#ffe7cd 543px,#fff5de 545px,#fff9e3 547px,#fff1db 549px,#ffdec8 551px,#ffbfaa 553px,#ffaa95 555px,#ff6e59 559px,#ff3622 565px,#f22411 569px,#da1303 577px,#8c0f00 631px,#550c00 653px,#4d0d00 661px,#4d0e00 663px,#5b2012 665px,#98736a 667px,#ece6e4 669px,#fff 671px"></p><p style="--g:#fff 27px,#faf9f3 29px,#e9d5b4 31px,#bf882e 33px,#b27006 35px,#ae6a00 41px,#9b6300 69px,#7b5200 93px,#4d3600 113px,#4d3901 117px,#56450c 119px,#807248 121px,#cdc7b7 123px,#f5f1ef 125px,#fff 127px,#fff 145px,#f6e8e4 147px,#ca786a 149px,#7b2212 151px,#531000 153px,#4d1300 159px,#501c04 181px,#65321c 183px,#c39d93 185px,#f6d9d4 187px,#ffdbd6 189px,#ffafab 193px,#ff6e6b 197px,#ff2c29 203px,#f51614 207px,#e50808 211px,#c90100 225px,#920300 261px,#610600 281px,#4e0500 287px,#4d0700 293px,#551506 295px,#81512e 297px,#dcd06d 299px,#faf96e 301px,#fffa5a 303px,#ffef4c 305px,#ffda36 307px,#ffc322 311px,#f4af13 315px,#da9904 325px,#c38800 353px,#a47700 433px,#860 459px,#584700 483px,#4d3f00 489px,#4d4000 491px,#554a09 493px,#6e642d 495px,#b9b595 497px,#f0efe9 499px,#fff 501px,#fffaf8 503px,#fdd1c4 505px,#f95f33 507px,#ff3a06 509px,#ff3000 513px,#ff2a05 527px,#ff411e 531px,#ff5937 533px,#ffa281 537px,#ffe2c3 541px,#fff4d8 543px,#fffde1 545px,#fffade 547px,#ffedd0 549px,#ffbca2 553px,#ff846a 557px,#ff543c 561px,#fe351f 565px,#e71f0a 571px,#cf1501 583px,#921200 629px,#661000 649px,#4e0d00 657px,#4e1203 665px,#60291b 667px,#b49b93 669px,#f1ecea 671px,#fff 673px"></p><p style="--g:#fff 25px,#fcf9f6 27px,#e9d9b7 29px,#c28f32 31px,#b37606 33px,#af6e00 39px,#9f6700 67px,#7b5500 95px,#4d3800 115px,#4d3a00 119px,#554309 121px,#6d5e2d 123px,#b7af95 125px,#eeede8 127px,#fff 129px,#fff 143px,#f9f0ed 145px,#d99f94 147px,#7d2d1b 149px,#531503 151px,#4d1500 157px,#4d1c00 181px,#512106 183px,#6f422a 185px,#cba99b 187px,#f7cec4 189px,#ffbeb5 191px,#ff4f47 199px,#fb1f18 205px,#e9100b 209px,#cf0501 221px,#900700 263px,#5d0700 283px,#4d0800 289px,#4d0900 295px,#561606 297px,#825321 299px,#e4d44f 301px,#fdf04c 303px,#ffc822 309px,#e9aa0b 317px,#d19501 331px,#b88500 381px,#b08000 409px,#ae8100 417px,#9a7600 449px,#6c5700 477px,#4d4100 493px,#504504 495px,#625a1e 497px,#aca78a 499px,#ebe9e0 501px,#fbe6de 503px,#f9845e 505px,#fe440c 507px,#ff3900 509px,#ff2e01 523px,#ff360a 527px,#ff562d 531px,#ff744a 533px,#ffdbb6 539px,#fff3d1 541px,#fffedf 543px,#ffffe1 545px,#fff8d8 547px,#ffd0af 551px,#ffaf90 553px,#ff6143 559px,#fb3719 565px,#df1f05 573px,#be1700 597px,#8d1500 633px,#5e1100 653px,#4d0f00 659px,#501604 667px,#633120 669px,#b89f96 671px,#f5efed 673px,#fff 675px"></p><p style="--g:#fff 23px,#fefaf8 25px,#f1e6cd 27px,#ca9d48 29px,#b77b09 31px,#b37700 33px,#9c6a00 73px,#825c00 93px,#4d3b00 119px,#503f04 123px,#61531d 125px,#e9e7e0 129px,#fcfcfa 131px,#fff 133px,#fff 141px,#fbf6f6 143px,#e4beb3 145px,#813725 147px,#541804 149px,#4d1600 153px,#4d1e00 183px,#522406 185px,#704329 187px,#cc9887 189px,#f8ab9c 191px,#ff7f71 195px,#ff6154 197px,#ff291d 203px,#e11106 211px,#c60800 227px,#8b0b00 267px,#560900 287px,#4d0a00 291px,#4d0c00 297px,#591e06 299px,#9e7825 301px,#eed839 303px,#fedc32 305px,#fbc51b 309px,#e3aa07 317px,#cc9800 335px,#bd8c00 365px,#b48600 397px,#b38800 405px,#a17e00 445px,#7e6700 471px,#4d4300 495px,#504603 497px,#5d5417 499px,#958456 501px,#e8966f 503px,#fa5215 505px,#ff3f00 507px,#ff3501 521px,#ff4211 527px,#ff6d3e 531px,#ff8c60 533px,#ffd7ac 537px,#fff1ca 539px,#fffedc 541px,#ffffe3 543px,#fffede 545px,#fff3ce 547px,#ffa985 553px,#ff7350 557px,#ff4d2c 561px,#fa3818 565px,#e22607 571px,#c91c00 587px,#8f1900 633px,#5c1200 655px,#4d1100 663px,#511906 669px,#6d3e2e 671px,#cbbbb4 673px,#f8f6f6 675px,#fff 677px"></p><p style="--g:#fff 21px,#fefaf9 23px,#f2e6cd 25px,#cba34b 27px,#ba800c 29px,#b47b00 31px,#9e6f00 73px,#7c5c00 99px,#4d3d00 121px,#4f4003 125px,#5c4e16 127px,#8a8157 129px,#dddccf 131px,#faf9f6 133px,#fff 135px,#fff 139px,#fcfaf9 141px,#e4d4d0 143px,#9b533e 145px,#591d08 147px,#4d1600 149px,#4d2100 185px,#522605 187px,#724022 189px,#de8c78 191px,#fd8b79 193px,#ff4735 199px,#fd2d1c 203px,#ec1e0d 207px,#db1204 213px,#910d00 265px,#5b0b00 287px,#4d0c00 293px,#4d1000 299px,#602706 301px,#b58a1c 303px,#f0c723 305px,#fbcc1e 307px,#e3b007 315px,#d29f01 327px,#bd9100 363px,#aa8700 435px,#887100 469px,#4e4600 497px,#544702 499px,#854d09 501px,#eb500d 503px,#fd4703 505px,#ff3c02 521px,#ff440e 525px,#ff521c 527px,#ff8754 531px,#ffeebe 537px,#fffdd5 539px,#ffffe0 541px,#ffffe0 543px,#fffcd4 545px,#ffd5ab 549px,#ff9c71 553px,#ff5b33 559px,#fe421c 563px,#e42e08 569px,#cb2200 585px,#941d00 631px,#6c1700 651px,#4d1200 663px,#4d1400 669px,#521b06 671px,#724835 673px,#dbcfca 675px,#faf9f9 677px,#fff 679px"></p><p style="--g:#fff 19px,#fffef9 21px,#f2e9d2 23px,#cba74b 25px,#bb860c 27px,#b58000 29px,#9d7200 77px,#7e5f00 101px,#4e3f00 123px,#4e4002 127px,#574c0f 129px,#817949 131px,#d5d2c1 133px,#f6f6f1 135px,#fff 137px,#fff 139px,#ede6e4 141px,#9d776a 143px,#5c250f 145px,#4d1800 147px,#4d2400 187px,#582b08 189px,#9e5639 191px,#ee7860 193px,#ff6e57 195px,#ff553e 197px,#ff3923 201px,#f12511 205px,#d81803 213px,#b91200 237px,#831100 273px,#4e0d00 293px,#501200 301px,#632906 303px,#b38111 305px,#ecbd16 307px,#f0c210 309px,#d5a602 323px,#be9600 359px,#b58f00 403px,#b49100 411px,#a18600 451px,#796900 481px,#594e00 497px,#6a4800 499px,#cd4c00 501px,#fa4b00 503px,#ff4500 513px,#ff4103 521px,#ff5317 525px,#ff662b 527px,#ffa369 531px,#ffe6b1 535px,#fffbcc 537px,#ffffdc 539px,#ffffe1 541px,#fff7cb 545px,#ffe5b6 547px,#ff9467 553px,#ff683c 557px,#ff4c1f 561px,#e43108 569px,#cd2700 583px,#901f00 635px,#661900 655px,#4d1500 665px,#4d1700 671px,#552009 673px,#825c4b 675px,#e2d8d2 677px,#fbfaf9 679px,#fff 681px"></p><p style="--g:#fff 19px,#f7f2e4 21px,#d4b96a 23px,#bb8c12 25px,#b68400 27px,#9f7800 79px,#745c00 109px,#4d4000 127px,#4d4101 129px,#554b09 131px,#6e6730 133px,#bcb89f 135px,#f0eee9 137px,#f3eeec 139px,#af948a 141px,#5e2f19 143px,#4e1a02 145px,#4d2600 189px,#61300c 191px,#bd5739 193px,#f66245 195px,#ff5338 197px,#fc361c 201px,#e02006 209px,#c71700 225px,#941400 265px,#641100 287px,#4d0f00 295px,#501500 303px,#642c03 305px,#be8c0c 307px,#e3b80c 309px,#e2b807 313px,#cfa701 327px,#bc9700 365px,#ae9200 435px,#978200 465px,#696000 493px,#655c00 495px,#6f5900 497px,#f35100 501px,#ff5000 503px,#ff4903 519px,#ff5410 523px,#ff6323 525px,#ff9859 529px,#ffe0a5 533px,#fff8c3 535px,#ffffd7 537px,#ffffe0 539px,#ffffdf 541px,#fffed5 543px,#fff4c1 545px,#ffc48e 549px,#ff8b57 553px,#ff5725 559px,#e7370a 567px,#d02c01 579px,#952200 633px,#691b00 655px,#4e1700 665px,#4d1900 673px,#582a12 675px,#987a6a 677px,#ebe5e2 679px,#fff 681px"></p><p style="--g:#fff 17px,#f9f6e9 19px,#e0ca8a 21px,#bf9319 23px,#b68703 25px,#a88100 69px,#886c00 101px,#574a00 125px,#4d4300 131px,#504705 133px,#625b1e 135px,#a6a07b 137px,#c7baae 139px,#663823 141px,#4f1f04 143px,#512900 191px,#6f330e 193px,#d5512f 195px,#fc4e2d 197px,#fd3919 201px,#e9290b 205px,#ce1d01 219px,#8f1600 269px,#5c1200 291px,#4d1000 297px,#511800 305px,#723e02 307px,#c79e08 309px,#ddb706 311px,#c2a200 345px,#b99a00 377px,#b59b00 417px,#a48f00 457px,#807400 485px,#716900 493px,#760 495px,#a36000 497px,#ec5800 499px,#ff5600 501px,#ff4f02 517px,#ff550d 521px,#ff631b 523px,#ff924f 527px,#ffb26f 529px,#ffda99 531px,#fff3b8 533px,#ffffcd 535px,#ffd 537px,#ffffe1 539px,#ffffdb 541px,#fffcc9 543px,#ffd499 547px,#ffb57c 549px,#ff733b 555px,#fe5521 559px,#e33d08 567px,#d13201 577px,#942600 635px,#5e1c00 661px,#4d1800 667px,#4d1c03 675px,#5d3118 677px,#efeae8 681px,#fff 683px"></p><p style="--g:#fff 15px,#fcf8f0 17px,#e1d195 19px,#bf9c1e 21px,#b78c04 23px,#a88400 73px,#8f7400 99px,#5f5200 125px,#4e4500 133px,#504803 135px,#574c10 137px,#62431f 139px,#502205 141px,#4d1f00 147px,#4d2b00 191px,#562b01 193px,#8a3911 195px,#ed4a24 197px,#fd411c 199px,#e52e09 205px,#cb1f00 221px,#941c00 267px,#661600 289px,#4d1300 299px,#4d1400 305px,#531c00 307px,#794801 309px,#c49d04 311px,#d9b704 313px,#c1a700 343px,#b8a000 377px,#b7a100 391px,#b79c00 393px,#b39e00 435px,#9f8f00 467px,#7c7200 493px,#986c00 495px,#e06000 497px,#fc5e00 499px,#ff5303 517px,#ff6516 521px,#ff7629 523px,#ffd188 529px,#ffeead 531px,#fffcc7 533px,#ffffda 535px,#ffffe1 537px,#ffffde 539px,#ffffd2 541px,#fff7bc 543px,#ffe4a4 545px,#ffb072 549px,#ff7033 555px,#fb561a 559px,#e13d07 567px,#c83300 585px,#932a00 637px,#621f00 661px,#4d1a00 669px,#4f2004 677px,#61371d 679px,#b5a194 681px,#f4efed 683px,#fff 685px"></p><p style="--g:#fff 13px,#fefbf7 15px,#ede5bf 17px,#c2a325 19px,#b79204 21px,#a88800 77px,#8e7700 103px,#605500 129px,#504900 135px,#4f2303 139px,#4d2300 149px,#4d2e00 193px,#5f3103 195px,#c63f16 197px,#f5421a 199px,#e43108 205px,#ca2500 221px,#931e00 269px,#5f1700 293px,#4d1400 301px,#4d1600 307px,#562000 309px,#805201 311px,#c8a903 313px,#d5ba02 315px,#c1a800 343px,#b8a100 383px,#b5a300 433px,#a69900 463px,#857f00 491px,#917a00 493px,#cf6a00 495px,#f76300 497px,#ff6100 501px,#ff5802 515px,#ff7420 521px,#ff8a38 523px,#ffeaa1 529px,#fffbc0 531px,#ffffd6 533px,#ffffe1 535px,#ffffd9 539px,#fffdc8 541px,#fff0ac 543px,#ffc47f 547px,#ff8f4d 551px,#ff6b2b 555px,#fb5718 559px,#e34508 565px,#cc3900 581px,#912c00 639px,#612100 663px,#4d1c00 671px,#502204 679px,#663e22 681px,#c6b5a9 683px,#f6f3f0 685px,#fff 687px"></p><p style="--g:#fff 11px,#fffef9 13px,#f2ebcd 15px,#cdb549 17px,#bb9809 19px,#b79500 21px,#a98d00 79px,#8b7800 109px,#5e5600 133px,#584700 135px,#4d2900 137px,#4d2000 139px,#4d3000 189px,#533000 195px,#853507 197px,#e43f11 199px,#ee3e0f 201px,#d62c02 211px,#912000 271px,#681a00 291px,#4d1500 301px,#4d1800 309px,#592700 311px,#977102 313px,#c8ae01 315px,#d2bb01 317px,#beaa00 349px,#b8a500 399px,#b8a900 407px,#b6a900 441px,#a39b00 473px,#8f8a00 489px,#968600 491px,#f46a00 495px,#ff6800 497px,#ff6102 513px,#ff690d 517px,#ff741a 519px,#ffa048 523px,#ffe594 527px,#fff9b3 529px,#ffffcd 531px,#ffd 533px,#ffffe2 535px,#ffd 537px,#fffabb 541px,#ffea9f 543px,#ff9d55 549px,#ff7832 553px,#ff601c 557px,#e14807 565px,#c93a00 583px,#933100 639px,#6a2600 661px,#4d1e00 673px,#4d2000 679px,#522606 681px,#6f4c31 683px,#cdc1b7 685px,#f8f6f6 687px,#fff 689px"></p><p style="--g:#fff 11px,#f6f3dc 13px,#cebb4d 15px,#bd9f0c 17px,#b89a00 19px,#ae9500 75px,#968400 105px,#6b6300 131px,#665c00 133px,#573b00 135px,#4d2400 137px,#4d3200 195px,#5e3201 197px,#ba3d0c 199px,#e43f0c 201px,#d33001 213px,#902400 273px,#621c00 295px,#4d1700 303px,#4d1b00 311px,#5c2e00 313px,#997b01 315px,#c6b300 317px,#cebc00 319px,#bbac00 357px,#b8ab00 407px,#b9af00 409px,#b8aa00 411px,#b8ae00 429px,#afa800 465px,#9b9400 489px,#bb8500 491px,#f07300 493px,#ff6e00 495px,#ff6904 513px,#ff7615 517px,#ff9e41 521px,#ffbb5e 523px,#ffdf85 525px,#fff5a8 527px,#ffffc3 529px,#ffffd8 531px,#ffffe2 533px,#ffffe0 535px,#ffffc4 539px,#fff9a9 541px,#ffc777 545px,#ff9849 549px,#ff6a1f 555px,#e54f09 563px,#cf4201 577px,#933400 641px,#6d2c00 663px,#4e1f00 673px,#4d2100 681px,#552c09 683px,#806248 685px,#dcd4cd 687px,#faf9f8 689px,#fff 691px"></p><p style="--g:#fff 9px,#f7f6e6 11px,#d7cb76 13px,#bda713 15px,#b89d00 17px,#b59f00 51px,#aa9800 89px,#8b8000 117px,#756b00 131px,#665600 133px,#502d00 135px,#4d2500 137px,#4d3500 193px,#503600 197px,#743602 199px,#d23f0a 201px,#e23e07 203px,#cb3200 219px,#922800 273px,#661f00 295px,#4d1900 305px,#4e1e00 313px,#5e3300 315px,#a58900 317px,#c6b600 319px,#c9bc00 323px,#bab000 361px,#bab100 419px,#bab500 441px,#adab00 475px,#a3a001 487px,#b39301 489px,#ea7a00 491px,#fd7500 493px,#ff6c02 511px,#ff6e07 513px,#ff8720 517px,#ff9b35 519px,#fff39a 525px,#ffb 527px,#ffffd3 529px,#ffffe0 531px,#ffffdc 535px,#ffffcd 537px,#fffcb3 539px,#ffd983 543px,#ffa752 547px,#ff7524 553px,#e8550a 561px,#cd4801 577px,#973800 639px,#853b00 655px,#8c4500 657px,#7b4000 667px,#693100 669px,#4d2200 677px,#4d2300 683px,#55300c 685px,#82664b 687px,#ddd6cd 689px,#faf9f9 691px,#fff 693px"></p><p style="--g:#fff 7px,#fbf9ed 9px,#e2db96 11px,#c0ac1b 13px,#b8a203 15px,#b2a100 75px,#a19300 105px,#807a00 129px,#796d00 131px,#5b3f00 133px,#4e2900 135px,#4d3800 197px,#593800 199px,#d54206 203px,#d93d03 207px,#b83100 239px,#8e2a00 277px,#602000 299px,#4d1b00 307px,#4f2200 315px,#663f00 317px,#ab9900 319px,#c3ba00 321px,#c6be00 325px,#bab300 359px,#b9b300 399px,#bab800 405px,#b8b801 465px,#a8aa03 485px,#b0a203 487px,#de8701 489px,#fa7a00 491px,#ff7800 501px,#ff7405 511px,#ff8619 515px,#ff992e 517px,#fff08f 523px,#fffeae 525px,#ffffca 527px,#ffffdb 529px,#ffffe3 531px,#ffffe0 533px,#ffffd3 535px,#fffaa7 539px,#ffe98f 541px,#ffb55b 545px,#ff8c36 549px,#ff7420 553px,#e35a08 561px,#cf4b01 575px,#963c00 641px,#944000 645px,#9e5c00 649px,#b27800 653px,#b77f00 659px,#af7200 669px,#9d6400 671px,#6b3a00 675px,#5a2e00 677px,#4d2500 685px,#56320c 687px,#85694b 689px,#e4dbd2 691px,#fcfbf9 693px,#fff 695px"></p><p style="--g:#fff 5px,#fcfcf6 7px,#ebe7b5 9px,#c7b62e 11px,#b9a806 13px,#b8a600 19px,#b3a600 83px,#9d9500 113px,#868200 129px,#726300 131px,#523100 133px,#4d2900 135px,#4d3a00 191px,#4f3a00 199px,#663b01 201px,#bc4204 203px,#d84304 205px,#b73500 241px,#8d2d00 279px,#5f2200 301px,#4d1d00 307px,#4d1f00 315px,#532600 317px,#705000 319px,#afa300 321px,#c1bc00 323px,#c1bf00 329px,#b8b601 367px,#babe04 461px,#adb306 483px,#b4ad06 485px,#f78300 489px,#ff8000 493px,#ff7b04 509px,#ff8814 513px,#ff9827 515px,#ffce60 519px,#ffee85 521px,#fffda1 523px,#ffffc1 525px,#ffffd7 527px,#ffffe2 529px,#ffffe2 531px,#ffffc9 535px,#ffffb4 537px,#fff497 539px,#ffae51 545px,#ff7c24 551px,#e7610a 559px,#d05001 573px,#9c4100 637px,#9b4700 641px,#a15f00 643px,#b48500 647px,#bc8c00 657px,#b98000 671px,#b17700 675px,#a66e00 677px,#663800 681px,#562b00 683px,#4e2800 687px,#593812 689px,#9d876a 691px,#edebe4 693px,#fff 695px"></p><p style="--g:#fff 3px,#fffff9 5px,#f2f0cf 7px,#cac03e 9px,#baac08 11px,#b8ab00 15px,#b8a900 43px,#b8ad00 51px,#b2aa00 95px,#939100 127px,#888300 129px,#604800 131px,#502d00 133px,#4d3c00 195px,#4d3d00 199px,#543d00 201px,#884002 203px,#ce4703 205px,#d64402 207px,#903200 279px,#632500 301px,#4d1f00 311px,#4d2100 317px,#532800 319px,#705301 321px,#aba402 323px,#bfbd01 325px,#bcbd01 337px,#b5b904 349px,#b8b802 355px,#b5b703 361px,#b5b803 373px,#b4b805 385px,#b9c108 463px,#b5b80a 483px,#cba606 485px,#f28b00 487px,#ff8600 489px,#ff8103 507px,#ff8a10 511px,#ffad37 515px,#ffc552 517px,#ffe674 519px,#fffc97 521px,#ffffd1 525px,#ffffe0 527px,#ffffe4 529px,#ffffd0 533px,#fffba5 537px,#ffed88 539px,#ffd974 541px,#ffbc59 543px,#ff8728 549px,#f87417 553px,#df5f06 561px,#ca5100 579px,#a04700 635px,#9e4c00 637px,#a15d00 639px,#ab7a00 641px,#b38b00 643px,#bb9300 651px,#be8c00 667px,#b98100 677px,#aa7200 681px,#613600 685px,#542e00 687px,#502c03 689px,#60401b 691px,#b5a693 693px,#f1eeea 695px,#fff 697px"></p><p style="--g:#fff 3px,#f6f6e1 5px,#d3d060 7px,#bbb30d 9px,#b8ae00 11px,#b8af00 41px,#bab300 57px,#b4b000 99px,#9d9d01 125px,#989801 127px,#7f7301 129px,#533700 131px,#4d2d00 133px,#4d3d00 181px,#4d3f00 201px,#5f3f00 203px,#bd4803 205px,#d24a02 207px,#a23900 265px,#7a2e00 293px,#4d2000 311px,#4d2300 319px,#532b00 321px,#725701 323px,#aead06 325px,#bbbf05 327px,#b0b808 347px,#b2b706 363px,#aeb70a 365px,#b0b808 369px,#b8c50d 473px,#b6c30e 481px,#c2b80c 483px,#ea9701 485px,#fc8c00 487px,#ff8805 507px,#ff9a1a 511px,#ffa92b 513px,#fff889 519px,#ffffae 521px,#ffffca 523px,#ffffdc 525px,#ffffe2 529px,#ffffd6 531px,#ffffb0 535px,#fff996 537px,#ffe278 539px,#ff922d 547px,#f47413 553px,#dd6404 561px,#cf5901 573px,#b75200 605px,#b24d00 613px,#a34d00 633px,#a15400 635px,#a97600 637px,#af8e00 639px,#b79900 645px,#bd9000 671px,#b88300 681px,#a87500 685px,#875a00 687px,#5c3600 689px,#543204 691px,#64461f 693px,#b5a794 695px,#f2f0ed 697px,#fff 699px"></p><p style="--g:#fff 1px,#fcfbf1 3px,#bfbb18 7px,#b8b101 9px,#bab400 49px,#bbb801 55px,#b9b900 95px,#a5a803 123px,#a2a503 125px,#969603 127px,#665201 129px,#503100 131px,#4d4200 195px,#4d4200 201px,#554200 203px,#cc4c02 207px,#d04a01 211px,#953a00 277px,#6c2d00 301px,#4d2200 313px,#4d2500 321px,#573300 323px,#897a04 325px,#adb00b 327px,#b5bd09 329px,#b1ba09 343px,#abb80c 345px,#afb809 357px,#aab60c 363px,#afba0c 393px,#adbc10 403px,#b6c510 439px,#b9cb13 479px,#c1c111 481px,#e5a204 483px,#fa9300 485px,#ff9000 495px,#ff8c04 505px,#ff9c16 509px,#ffa926 511px,#ffbf3d 513px,#ffdf5f 515px,#fff480 517px,#ffff9f 519px,#ffffbf 521px,#ffffd5 523px,#ffffe2 525px,#ffffe4 527px,#ffffdb 529px,#ffffb7 533px,#fffd9d 535px,#ffdd6e 539px,#ff9d33 545px,#fe851b 549px,#e46c08 557px,#c95d00 577px,#a85000 629px,#a65300 631px,#a66500 633px,#ab8800 635px,#af9900 637px,#b8a000 647px,#be9400 671px,#b78500 685px,#af7e00 687px,#9c6c00 689px,#784e00 691px,#5c3a04 693px,#684b22 695px,#c3b9a8 697px,#f3f2ed 699px,#fff 701px"></p><p style="--g:#fff 1px,#f8f8ea 3px,#cdcb48 5px,#b9b809 7px,#b8b400 11px,#bbbe04 91px,#a9af06 123px,#a3a606 125px,#817804 127px,#563c00 129px,#4d3100 131px,#4d4300 185px,#4f4500 203px,#654600 205px,#ba4f01 207px,#cf5001 209px,#993f00 275px,#703200 301px,#4d2400 315px,#4d2800 323px,#5a3900 325px,#877e09 327px,#a7af0f 329px,#adbb0e 331px,#a6b610 353px,#a8b70f 365px,#aab70e 373px,#a8b710 377px,#b2c513 433px,#bbd117 477px,#bfcb15 479px,#f89b00 483px,#f90 487px,#ff9203 503px,#ff9c10 507px,#ffaa20 509px,#ffd850 513px,#fff072 515px,#fffd97 517px,#ffffce 521px,#ffffde 523px,#ffffe4 525px,#ffffd2 529px,#ffffc1 531px,#fffa90 535px,#ffea77 537px,#ffbe4b 541px,#ff9a2a 545px,#fc8619 549px,#df7006 557px,#cc6100 573px,#aa5400 627px,#a85800 629px,#a67000 631px,#a89300 633px,#ada100 637px,#bea000 663px,#bd9500 677px,#b28200 689px,#a97a00 691px,#936800 693px,#694406 695px,#73592b 697px,#beb095 699px,#f3efeb 701px,#fff 703px"></p><p style="--g:#fff 1px,#fcfcf2 3px,#dfe08b 5px,#babd15 7px,#b7b803 9px,#babe04 67px,#b6be09 109px,#adb609 123px,#a1a409 125px,#644f01 127px,#503500 129px,#4d4700 195px,#4d4700 203px,#554800 205px,#c75501 209px,#cb5300 213px,#954000 281px,#652f00 307px,#4d2600 317px,#4d2b00 325px,#593c00 327px,#847d0b 329px,#a2b012 331px,#a8b911 335px,#a2b514 351px,#a1b817 383px,#a5b915 389px,#bdd81c 475px,#bfd51c 477px,#cfbb12 479px,#f4a303 481px,#ff9e00 483px,#ff9902 501px,#ff9e0d 505px,#ffc02f 509px,#ffed66 513px,#fffc8b 515px,#ffffc6 519px,#ffffda 521px,#ffffe3 523px,#ffffe3 525px,#ffffd8 527px,#fffe99 533px,#fff880 535px,#ffcb53 539px,#ffa530 543px,#fe8d1b 547px,#de7105 557px,#c46200 583px,#ac5900 625px,#a75f00 627px,#a39700 631px,#a9a400 635px,#ba0 653px,#bf9f00 673px,#b48900 691px,#ae8200 693px,#9e7300 695px,#7e5904 697px,#6f5520 699px,#b7aa95 701px,#f3f0ed 703px,#fff 705px"></p><p style="--g:#fff 1px,#fefefa 3px,#f0f0c8 5px,#bdc224 7px,#b2b807 9px,#b4b805 17px,#b2b807 21px,#b9c40b 105px,#b3bf0d 121px,#aeba0d 123px,#93960b 125px,#564100 127px,#4d3500 129px,#4d4800 181px,#4f4a00 205px,#634b00 207px,#b85501 209px,#cb5900 211px,#940 279px,#733700 303px,#4d2700 319px,#4d2d00 327px,#594003 329px,#888d10 331px,#9db115 333px,#a0b616 343px,#9db81b 381px,#a2bb19 393px,#b4d31f 453px,#bfdd22 475px,#cfcd17 477px,#efad05 479px,#fea400 481px,#ff9e04 501px,#ffa20a 503px,#ffbe27 507px,#ffed5f 511px,#fffb7d 513px,#ffffbe 517px,#ffffd4 519px,#ffffe1 521px,#ffffe4 523px,#ffd 525px,#ffffa2 531px,#fffc85 533px,#ffdc5f 537px,#ffc245 539px,#ff941d 545px,#e67c09 553px,#d06c01 567px,#ab5d00 623px,#a56600 625px,#9a8404 627px,#989604 629px,#a6a601 635px,#b9ae00 651px,#bfa700 669px,#b69100 691px,#af8700 695px,#a57d00 697px,#856404 699px,#755d22 701px,#c6bea9 703px,#f6f6f0 705px,#fff 707px"></p><p style="--g:#fff 3px,#f9f9e9 5px,#ccd160 7px,#aeba16 9px,#aeb70a 11px,#b5c40f 71px,#b8c911 115px,#b7c711 121px,#adb911 123px,#776f06 125px,#523d00 127px,#4d3900 131px,#4d4c00 187px,#4c4d01 205px,#544d01 207px,#925501 209px,#c65c00 211px,#c75a00 217px,#9a4a00 279px,#703a00 307px,#4d2a00 321px,#4d3000 329px,#5c4805 331px,#848d12 333px,#96af19 335px,#9cb519 341px,#97b41c 353px,#9dbd20 397px,#b6d925 457px,#bfe427 473px,#c8d71e 475px,#ebb808 477px,#fcaa00 479px,#ffa504 499px,#ffb112 503px,#ffd136 507px,#ffeb55 509px,#fffb74 511px,#ffffcd 517px,#ffd 519px,#ffffe3 521px,#ffffd3 525px,#ffff91 531px,#fff77b 533px,#ffbb3b 539px,#ff9f21 543px,#fd961b 545px,#e17e07 553px,#ca6d00 573px,#ae6201 621px,#9e6904 623px,#8d7e08 625px,#888e09 627px,#a9ac04 639px,#bcb400 657px,#bda300 683px,#af8c00 697px,#957406 701px,#8e7731 703px,#d2cab4 705px,#f6f3ef 707px,#fff 709px"></p><p style="--g:#fff 3px,#fcfcf4 5px,#dce19e 7px,#afbc22 9px,#a8b710 11px,#bacf16 119px,#b7cc16 121px,#a0a911 123px,#5b4a03 125px,#4d3a00 127px,#4c4d02 179px,#4c5009 205px,#52530b 207px,#715709 209px,#bf6003 211px,#c95f00 213px,#9e4e00 277px,#7e4100 301px,#4d2b00 323px,#4f3300 331px,#5c4905 333px,#818d15 335px,#93ae1f 337px,#93b220 341px,#95b31f 349px,#97b821 379px,#9aba20 389px,#99bd23 395px,#aed62a 447px,#c1eb30 471px,#c8e329 473px,#dbb80d 475px,#fab100 477px,#ffaf00 487px,#ffaa03 497px,#ffb40e 501px,#ffbe1b 503px,#ffe847 507px,#fff964 509px,#ffff8a 511px,#ffffc4 515px,#ffffd8 517px,#ffffe1 519px,#ffffd7 523px,#ffffc8 525px,#fffd81 531px,#ffdc54 535px,#ffb530 539px,#ffa01d 543px,#e28407 551px,#ca7200 571px,#b56800 611px,#b36905 619px,#ad7217 621px,#817a1f 623px,#788217 625px,#929d0b 633px,#b3b703 649px,#bfb500 667px,#baa100 689px,#ae8f00 699px,#9f8006 703px,#947d2d 705px,#c3b896 707px,#f5f2ee 709px,#fff 711px"></p><p style="--g:#fff 5px,#f2f5e0 7px,#b6c33c 9px,#a5b717 11px,#a6b712 13px,#a8be16 41px,#bdd71b 119px,#b3c918 121px,#7a790a 123px,#534200 125px,#4d3e00 129px,#4c4e03 165px,#5c6121 185px,#4a571b 195px,#556126 203px,#7c8150 207px,#8a814c 209px,#c27321 211px,#c86304 213px,#9c5100 281px,#774100 307px,#4d2d00 325px,#4f3500 333px,#5b4c06 335px,#849919 337px,#8fae21 339px,#93b422 361px,#8eb426 363px,#92b625 375px,#95be29 399px,#9abf26 401px,#99c22a 407px,#a6d12c 437px,#bfef3b 463px,#c5f43c 469px,#cbf037 471px,#f7b703 475px,#ffb700 479px,#ffb002 495px,#ffbf16 501px,#fff859 507px,#ffffa0 511px,#ffffd0 515px,#ffffde 517px,#ffffe1 519px,#ffffda 521px,#ffffb9 525px,#fff96d 531px,#ffeb5c 533px,#ffc135 537px,#ffa61f 541px,#e58b09 549px,#ce7b01 565px,#bb6e00 599px,#b36c00 615px,#b56f09 617px,#c18533 619px,#e1ccab 621px,#c8caac 623px,#99a266 625px,#7b8b2d 627px,#7b8d1b 629px,#869711 633px,#aab40a 647px,#bbbb02 661px,#c0b300 677px,#bba700 689px,#ad9300 701px,#9f8204 705px,#957d22 707px,#cec5a8 709px,#f3f3ed 711px,#fff 713px"></p><p style="--g:#fff 5px,#f9faef 7px,#c7d573 9px,#a4ba21 11px,#a2b817 15px,#acc91d 69px,#bfde1f 117px,#bcdb1f 119px,#a4b718 121px,#5b5103 123px,#4d3e00 125px,#4c4e04 157px,#5b601d 165px,#6a6e2f 167px,#989b73 171px,#c4c6b1 177px,#c9cbb7 179px,#dfe0d5 181px,#e8ebe1 183px,#eaebe4 185px,#e6e8de 187px,#c6cdbd 189px,#bcc5b4 191px,#9bab94 193px,#98a68e 195px,#9aa791 197px,#a4b19c 199px,#d6dbcf 203px,#eaebe4 205px,#eff0ea 207px,#eeebe0 209px,#e6bc91 211px,#cb7213 213px,#c66601 215px,#9a5400 285px,#724300 311px,#4e2f00 327px,#4e3800 335px,#5e5709 337px,#7b8e1a 339px,#8aab24 341px,#8cb227 355px,#91be2d 397px,#a7d834 441px,#b3e63a 453px,#c5f94a 461px,#ccfd4b 467px,#d0f845 469px,#f7c209 473px,#ffbc00 475px,#ffb904 495px,#ffc212 499px,#ffe235 503px,#fff752 505px,#ffff92 509px,#ffffb2 511px,#ffffd9 515px,#ffffe0 517px,#ffffd0 521px,#ffa 525px,#fffe74 529px,#fff362 531px,#ffcc3b 535px,#faa619 541px,#e28d07 549px,#cb7d00 567px,#b87100 603px,#b47000 613px,#b77609 615px,#c89647 617px,#eddac1 619px,#fbf7f2 621px,#f9f9f6 623px,#f1f1e8 625px,#d2d8bd 627px,#9eab6b 629px,#819431 631px,#7f911e 633px,#96a812 641px,#b7bd06 659px,#bfb800 681px,#b09a00 701px,#a08806 707px,#a08d2b 709px,#c5bb95 711px,#f3f1eb 713px,#fff 715px"></p><p style="--g:#fff 5px,#fcfcf5 7px,#d9e1a2 9px,#a3bc2c 11px,#9db71c 13px,#ac2 71px,#c1e525 117px,#b8d722 119px,#7c820e 121px,#534602 123px,#4d4200 127px,#4c4e03 151px,#5b5f1d 157px,#70743b 159px,#b4b799 163px,#eaebe1 167px,#f5f5f1 173px,#fff 181px,#fff 187px,#f3f5f2 195px,#f9f9f9 201px,#fff 203px,#fff 207px,#fefcfa 209px,#f7e6d1 211px,#d28530 213px,#c66d04 215px,#9a5800 287px,#6f4300 315px,#4d3100 329px,#503800 337px,#584d08 339px,#788e1d 341px,#85aa28 343px,#86b22c 359px,#8ab42a 367px,#85b42f 369px,#8cb82d 381px,#97cc35 423px,#aae03c 445px,#bdf54b 455px,#cdff59 461px,#d8ff60 465px,#dafb5a 467px,#e4e93e 469px,#f5c80b 471px,#ffc200 473px,#ffbe04 493px,#ffc610 497px,#ffe531 501px,#fff649 503px,#ffff6a 505px,#ffffbe 511px,#ffffd2 513px,#ffffdc 515px,#ffffd4 519px,#ffff81 527px,#fffb67 529px,#ffc531 535px,#fdaf1c 539px,#ee9f0f 543px,#d98a04 553px,#c37b00 579px,#b67400 611px,#b67907 613px,#c38e33 615px,#eddcc1 617px,#fcf9f4 619px,#fff 621px,#fff 625px,#f1f2eb 629px,#d9dfc5 631px,#9cac65 633px,#81972c 635px,#81991c 637px,#a0b313 649px,#b0bd0d 659px,#bcc004 673px,#bcb200 691px,#ab9800 705px,#a18b04 709px,#a18d1f 711px,#c8c194 713px,#f3f1e7 715px,#fff 717px"></p><p style="--g:#fff 7px,#e9f0ce 9px,#a4be37 11px,#99b720 13px,#9bb91f 21px,#99ba21 25px,#add125 79px,#c3ec2e 113px,#c1eb2d 117px,#a8c622 119px,#5b5704 121px,#4d4200 123px,#4b4d04 147px,#4f530a 149px,#595e1b 151px,#72763e 153px,#ced0bb 157px,#ebece2 159px,#f6f7f3 163px,#fff 167px,#fff 209px,#fcf6ee 211px,#c87712 215px,#c46e00 217px,#9a5c00 289px,#734800 315px,#4d3300 331px,#4e3b00 339px,#5e580b 341px,#779725 343px,#80ab2c 345px,#85b22e 361px,#84b633 377px,#97d03b 427px,#aae746 445px,#b8f853 451px,#d4ff68 459px,#e0ff73 461px,#edfd77 465px,#efee56 467px,#f7d015 469px,#ffc701 471px,#ffc503 491px,#ffca0d 495px,#ffe52c 499px,#ffff5a 503px,#ff9 507px,#ffffcb 511px,#ffffd7 513px,#ffffda 515px,#ffffc5 519px,#ff8 525px,#fffd6c 527px,#fff155 529px,#ffc028 535px,#f7aa16 539px,#da8f04 551px,#bf7d00 585px,#b77900 609px,#b77d06 611px,#c39132 613px,#e9d7b4 615px,#fcf9f3 617px,#fff 619px,#fff 629px,#fcfcf9 631px,#edf0e3 633px,#8aa144 637px,#809a26 639px,#89a51d 643px,#a5ba15 657px,#bbc006 675px,#b9b400 695px,#a69700 709px,#a08f03 711px,#9e8f1d 713px,#c0b880 715px,#f0eee0 717px,#fff 719px"></p><p style="--g:#fff 7px,#f5f9e7 9px,#b3ca5c 11px,#94ba2b 13px,#94b723 15px,#96bd28 31px,#99bd24 33px,#98c028 39px,#acd62c 81px,#c7f63a 109px,#c7f636 115px,#c0ec31 117px,#544d03 121px,#4d4400 123px,#4a4d05 143px,#4c500b 145px,#575d1c 147px,#787f45 149px,#c1c5ac 151px,#e9e9e2 153px,#f9f9f9 157px,#fff 159px,#fff 211px,#f4e5d0 213px,#ce8a2d 215px,#c37403 217px,#9e6100 287px,#7f5000 311px,#4e3500 333px,#4d3600 339px,#503d00 341px,#5e5509 343px,#708d21 345px,#7ba72e 347px,#7eaf30 349px,#83ba37 385px,#84bf3b 397px,#89c139 403px,#99d742 433px,#acee4f 445px,#bdfc60 451px,#daff79 457px,#f2ff8e 461px,#f7fe8f 463px,#f8f16c 465px,#f9d41c 467px,#ffcd05 469px,#ffce00 479px,#ffc905 491px,#ffd715 495px,#fff236 499px,#fffe50 501px,#ffffac 507px,#ffffd0 511px,#ffffd6 513px,#ffffd3 515px,#ffffa4 521px,#ffff71 525px,#ffed4c 529px,#ffd838 531px,#f9b217 537px,#dd9805 547px,#c48400 575px,#b77d00 607px,#b77f05 609px,#c4912a 611px,#ead8b4 613px,#faf9f3 615px,#fff 617px,#fff 633px,#f5f6f1 635px,#dbe3c9 637px,#9db26b 639px,#81a032 641px,#7fa024 643px,#9cb81c 655px,#b2c00e 671px,#b7c009 681px,#b8b501 697px,#aa9f00 709px,#9f9103 713px,#9e9116 715px,#b5ab58 717px,#ece9d3 719px,#fdfdf9 721px,#fff 723px"></p><p style="--g:#fff 7px,#f9fcf4 9px,#cde09e 11px,#96bc36 13px,#90b829 15px,#8eb92b 21px,#93ba28 23px,#90bc2c 29px,#a9d831 79px,#c9fb46 103px,#cfff47 111px,#cbfd40 115px,#bbe835 117px,#6d760f 119px,#504b02 121px,#4d4b00 131px,#4a5009 141px,#545a18 143px,#707742 145px,#b9bca2 147px,#eaebe1 149px,#f9f9f6 151px,#fff 153px,#fff 211px,#fbf5eb 213px,#dbaf6b 215px,#c67c0c 217px,#c27600 219px,#b26c00 253px,#af6d00 261px,#966100 297px,#714c00 321px,#4d3700 337px,#503e00 343px,#565109 345px,#6d8c23 347px,#78a732 349px,#7aae34 353px,#7db336 367px,#79b33b 369px,#7eb83a 381px,#7fbf40 395px,#86c43f 405px,#94d847 431px,#9fe44d 439px,#a3ec55 441px,#aef65b 445px,#cbff77 451px,#d3ff7c 453px,#f0ff9a 457px,#fdffaf 461px,#fef591 463px,#f9db2b 465px,#ffd206 467px,#ffd400 473px,#ffcf04 489px,#ffdc12 493px,#fff32f 497px,#fffe49 499px,#ffffb6 507px,#ffffd0 511px,#ffffd0 513px,#ffffc6 515px,#ffff8d 521px,#ffff73 523px,#fff54d 527px,#fab919 535px,#e2a307 543px,#d29401 555px,#bc8500 591px,#b78403 607px,#be8b18 609px,#faf5eb 613px,#fff 615px,#fff 635px,#fcfcf9 637px,#ecf0e4 639px,#84a341 643px,#7ea329 645px,#9ab920 657px,#a8c018 669px,#b2c00e 681px,#b6ba03 697px,#a8a100 711px,#9e9502 715px,#9f9312 717px,#beb66a 719px,#efeedb 721px,#fcfcf8 723px,#fff 725px"></p><p style="--g:#fff 9px,#eaf2d7 11px,#9cc147 13px,#8bb82f 15px,#96c730 51px,#a6d936 77px,#baf147 91px,#c1fa4d 93px,#d9ff5e 103px,#daff5a 109px,#ccf947 115px,#a3c42e 117px,#595b06 119px,#4d4900 121px,#484d06 137px,#4c520d 139px,#646c31 141px,#a7ab86 143px,#dfe1d4 145px,#f6f7f3 147px,#fff 149px,#fff 211px,#fffcfa 213px,#f0dfc2 215px,#c8881b 217px,#c17901 219px,#a26b00 287px,#815900 315px,#4d3900 339px,#4d3f00 345px,#55510b 347px,#6a8b28 349px,#74a734 351px,#73ad3b 353px,#7cb93d 383px,#7cbe42 393px,#7cb941 401px,#7db53e 409px,#85c543 417px,#8fd94d 429px,#a4ee5a 441px,#b5fc6c 445px,#bcff72 447px,#ceff83 449px,#e5ff98 453px,#f5ffad 455px,#ffffc5 459px,#fef7aa 461px,#f9e23c 463px,#fed809 465px,#ffda00 467px,#ffd403 487px,#ffe518 493px,#fffd3e 497px,#ffa 505px,#ffffc8 509px,#ffffc3 513px,#ffffb9 515px,#ffff65 523px,#fffa4f 525px,#ffcc23 531px,#eaad0c 539px,#d99f03 547px,#c48d00 573px,#b88802 605px,#bd8f15 607px,#d5b76c 609px,#f7f0e2 611px,#fff 613px,#fff 639px,#f4f6ee 641px,#d3debf 643px,#8dac52 645px,#7da42f 647px,#93b825 657px,#a8c119 675px,#b1be0e 691px,#adad02 709px,#9d9803 717px,#9d9711 719px,#afaa4b 721px,#e3e1c1 723px,#f9f9f4 725px,#fff 727px"></p><p style="--g:#fff 9px,#f6f9ed 11px,#b2d17a 13px,#8bba39 15px,#85b833 17px,#8fc334 41px,#9fd93e 73px,#b6f14b 87px,#c9fe5b 93px,#ecff79 103px,#e9ff70 109px,#d9ff5c 113px,#c4ed4a 115px,#778418 117px,#504f03 119px,#474d06 133px,#454d08 135px,#4c5512 137px,#6a713c 139px,#c8cbb7 141px,#f1f2ec 143px,#fff 145px,#fff 213px,#f9f1e4 215px,#d19e43 217px,#c28006 219px,#be7d00 225px,#a16e00 291px,#7e5a00 319px,#4e3b00 341px,#4d4000 347px,#564f07 349px,#658023 351px,#6fa536 353px,#6fad3e 357px,#7b4 393px,#75ae3f 397px,#677828 401px,#5e5617 403px,#5a4912 407px,#55390a 409px,#5c5014 411px,#62621d 415px,#79a93d 419px,#80be46 421px,#8edf57 431px,#95e65b 435px,#a8fa6a 441px,#c8ff88 447px,#ebffa8 451px,#ffffce 455px,#ffffda 457px,#fefabd 459px,#f9e744 461px,#fede0c 463px,#ffe000 465px,#ffdc05 487px,#ffe715 491px,#fffd37 495px,#ff6 499px,#ffff84 501px,#ffffaf 505px,#ffffbd 507px,#ffffbe 511px,#ffffb6 513px,#ffff7c 519px,#fffe50 523px,#ffd427 529px,#f1b811 535px,#d9a303 545px,#c99400 563px,#b88d00 603px,#bb930f 605px,#d5ba6b 607px,#f7f0e0 609px,#fff 611px,#fff 641px,#f9f9f3 643px,#d3e0c1 645px,#8aad57 647px,#7aa736 649px,#83af2d 653px,#9ec022 669px,#a8c019 685px,#adb90c 701px,#a4a603 715px,#9c9b02 719px,#99960a 721px,#a4a134 723px,#dcdbb4 725px,#f6f6ef 727px,#fff 729px"></p><p style="--g:#fff 9px,#fbfcf7 11px,#d4e6b5 13px,#8cbd46 15px,#83b836 17px,#88bc35 27px,#87bf39 33px,#95d440 65px,#a7e74a 79px,#bbfc5a 87px,#f4ff8e 99px,#fbff96 103px,#f8ff8b 107px,#d4fa60 113px,#adcd41 115px,#5c5e09 117px,#4d4c01 119px,#454e0b 133px,#4e581a 135px,#798253 137px,#d8dbcd 139px,#f6f7f6 141px,#fff 143px,#fff 213px,#fcf7ef 215px,#dcbc77 217px,#c3890d 219px,#bf8100 221px,#a47300 289px,#886300 315px,#584400 339px,#4d3d00 345px,#4d4000 349px,#534d07 351px,#617e23 353px,#6aa13b 355px,#6bad43 359px,#70b343 371px,#70b748 379px,#74ba45 385px,#72ba4a 387px,#70ad43 391px,#6a9938 393px,#5f621e 395px,#543d0e 397px,#502b05 401px,#4d2300 409px,#502f06 417px,#533508 419px,#594a13 421px,#7fbd48 427px,#85d355 429px,#95eb63 435px,#a4fc73 439px,#abfe76 441px,#d3ff9d 447px,#f8ffc8 451px,#ffffea 455px,#fefac6 457px,#f9ec52 459px,#fee30f 461px,#ffe500 463px,#ffe104 485px,#fff41c 491px,#ffff46 495px,#ffff58 497px,#ffffa3 503px,#ffffb8 507px,#ffffb0 511px,#ffff56 521px,#fff946 523px,#ffdc28 527px,#ebb80c 535px,#d2a301 549px,#be9200 583px,#b99000 601px,#ba9308 603px,#caa940 605px,#f5eeda 607px,#fff 609px,#fff 643px,#fafbf6 645px,#e0ead4 647px,#96b96d 649px,#79ab3e 651px,#7aac32 653px,#94bf2b 667px,#a7bf18 691px,#a3ad0a 713px,#999b03 721px,#95960a 723px,#a0a02e 725px,#cccd95 727px,#f3f3e7 729px,#fff 731px"></p><p style="--g:#fff 11px,#eff5e4 13px,#96c35c 15px,#81b83b 17px,#7cb83d 19px,#82be3d 31px,#94d543 65px,#a6eb51 79px,#bbff65 85px,#deff84 91px,#f4ff9c 95px,#ffffb4 99px,#ffffb2 103px,#fdff99 107px,#f2ff89 109px,#deff72 111px,#c6ef5d 113px,#7f9426 115px,#515505 117px,#494d04 121px,#454e0d 131px,#515b20 133px,#889169 135px,#dcdfd3 137px,#f9faf9 139px,#fff 141px,#fff 213px,#fefcfa 215px,#f0e3c4 217px,#c6931b 219px,#bf8701 221px,#a57800 291px,#866500 319px,#540 343px,#4d4100 351px,#524d06 353px,#5e711b 355px,#679d39 357px,#68aa44 359px,#6db447 375px,#69b64c 377px,#6eb64a 385px,#6cab44 387px,#668934 389px,#584e16 391px,#503209 393px,#4d2300 399px,#4d2803 421px,#513508 425px,#5a4f16 427px,#709239 429px,#82cb55 431px,#96ee6a 435px,#a5ff7c 439px,#beff91 443px,#e8ffbd 447px,#ffffe2 451px,#ffe 453px,#fefacb 455px,#f9ef4a 457px,#ffe90e 459px,#ffeb01 461px,#ffe603 483px,#fff517 489px,#ffff3a 493px,#ffff96 501px,#ffa 505px,#ffffa7 509px,#ffff7e 515px,#ff5 519px,#fffc47 521px,#ffe128 525px,#f8cb15 529px,#ddb105 539px,#c99f00 559px,#b99400 599px,#b99406 601px,#c6a632 603px,#ebdfb6 605px,#fcfcf6 607px,#fff 609px,#fff 645px,#fafbf9 647px,#e2ebd7 649px,#94ba70 651px,#77ac41 653px,#77ae36 655px,#92bf2d 669px,#9ec123 687px,#a2b513 707px,#939a07 723px,#91960a 725px,#95991f 727px,#bec177 729px,#f2f3e6 731px,#fff 733px"></p><p style="--g:#fff 11px,#f5f9f0 13px,#abd181 15px,#7ebb46 17px,#7cb93e 21px,#85c742 45px,#88ce47 55px,#95dd4e 69px,#a3ee59 77px,#bbff6f 83px,#d2ff83 87px,#f3ffa5 91px,#ffffcd 97px,#ffffd1 101px,#ffffc8 103px,#faffa1 107px,#d3fc71 111px,#acd44e 113px,#5a6410 115px,#494e04 117px,#434e0e 129px,#505c22 131px,#979e7c 133px,#e7e9e1 135px,#fff 137px,#fff 215px,#f9f4e4 217px,#d0a948 219px,#c18d06 221px,#bd8800 227px,#a47b00 295px,#8c6d00 319px,#4d4100 351px,#504b06 355px,#556515 357px,#61983a 359px,#62a946 361px,#64b24e 371px,#69b54d 381px,#68ac47 383px,#638f3a 385px,#58561a 387px,#503309 389px,#4d2500 393px,#4e2b03 427px,#513407 429px,#574610 431px,#8bd261 435px,#9df37c 437px,#b8ff96 441px,#f4ffd5 447px,#feffea 449px,#ffffef 451px,#fefcc9 453px,#faf24a 455px,#feee0c 457px,#fff101 459px,#ffeb03 481px,#fff713 487px,#ffff31 491px,#ffff59 495px,#ffff93 501px,#ffffa0 505px,#ff8 511px,#fffe46 519px,#ffe729 523px,#f6ca13 529px,#deb505 537px,#cba300 555px,#ba9a00 595px,#b99904 599px,#c2a425 601px,#eadfb2 603px,#fbf9f3 605px,#fff 607px,#fff 647px,#fafcf9 649px,#e2ecd8 651px,#94bc74 653px,#77af46 655px,#74af3b 657px,#8bbf34 669px,#9ebf22 693px,#9a1 717px,#8a930c 727px,#929920 729px,#c4c98c 731px,#f1f2e3 733px,#fff 735px"></p><p style="--g:#fff 11px,#f8fcf6 13px,#c1e0a9 15px,#7ebd4e 17px,#79b841 19px,#77bc45 25px,#82c848 47px,#91e054 69px,#acfb6b 79px,#d2ff8e 85px,#e6ffa2 87px,#fdffc2 91px,#ffffe5 95px,#ffffef 99px,#ffffd4 103px,#fdffba 105px,#f0ff9e 107px,#d9ff80 109px,#bff266 111px,#7c982e 113px,#4d5509 115px,#464d08 119px,#404e0f 127px,#4e5b22 129px,#8f9874 131px,#e8e9e2 133px,#fff 135px,#fff 215px,#fcf9f3 217px,#e4d198 219px,#c29514 221px,#bd8e01 223px,#b68600 247px,#b28800 269px,#9b7800 309px,#806700 329px,#4e4300 353px,#4d4a04 357px,#526111 359px,#5d8d33 361px,#61a445 363px,#60b052 369px,#64b551 377px,#64b14f 379px,#629d43 381px,#566222 383px,#503609 385px,#4d2600 389px,#4e2e01 431px,#563c08 433px,#64581a 435px,#89b259 437px,#a9ea8b 439px,#c3faa8 441px,#efffda 445px,#fcffee 447px,#fcfcea 449px,#fdfcb3 451px,#f9f635 453px,#fff409 455px,#fff600 457px,#fff205 481px,#fffe19 487px,#ffff5f 495px,#ffff82 499px,#ffff92 503px,#ffff89 507px,#ffff45 517px,#fff734 519px,#fff02d 521px,#fad819 525px,#deba05 535px,#c6a600 559px,#bb9c00 591px,#b99d03 597px,#c1a51b 599px,#e2d394 601px,#faf8ed 603px,#fff 605px,#fff 649px,#fafcf9 651px,#e3ecdb 653px,#9ec486 655px,#73af4a 657px,#72b03f 659px,#88c038 671px,#94c12e 687px,#98b119 713px,#859210 729px,#8c9722 731px,#aeb568 733px,#e7e9d3 735px,#fbfbf9 737px,#fff 739px"></p><p style="--g:#fff 13px,#e0f0d5 15px,#85bf59 17px,#73b948 19px,#84d553 59px,#95e960 71px,#a9fe71 77px,#d0ff97 83px,#e5ffac 85px,#f0ffba 87px,#fdffd4 89px,#fff 95px,#fff 97px,#fffffa 99px,#ffffeb 101px,#ffffd3 103px,#f5ffb3 105px,#ddff91 107px,#c8fe7a 109px,#aeea60 111px,#5c6d1a 113px,#474f09 115px,#3e4d10 125px,#4b5b22 127px,#8d9875 129px,#e7e9e1 131px,#fff 133px,#fff 217px,#f5f1dd 219px,#caa52f 221px,#bd9203 223px,#b98c00 237px,#b78f00 243px,#b58a00 255px,#b28c00 271px,#a08100 307px,#786500 337px,#4d4500 357px,#50540a 361px,#5c9c43 365px,#5bac50 367px,#60b355 375px,#5eac52 377px,#5d9340 379px,#524f18 381px,#4d2e06 383px,#4d2700 389px,#4e2e00 431px,#573503 435px,#62490f 437px,#818241 439px,#b5d192 441px,#e0f3cd 443px,#f6fdeb 445px,#fcfce4 447px,#eeee94 449px,#f9f82c 451px,#fffa07 453px,#fffc00 457px,#fff706 481px,#ffff1f 487px,#ffff71 497px,#ffff81 501px,#ffff7e 505px,#ffff5f 511px,#fffb34 517px,#fcde1a 523px,#e2c206 531px,#c8ad00 553px,#bca000 585px,#b9a100 595px,#bda612 597px,#d6c56a 599px,#f7f5e4 601px,#fff 603px,#fff 653px,#e8f1e3 655px,#91bf7b 657px,#6fb24c 659px,#6fb343 661px,#89c139 677px,#94bd29 701px,#8aa016 725px,#809114 731px,#84921e 733px,#9fa955 735px,#e2e5ce 737px,#fafaf6 739px,#fff 741px"></p><p style="--g:#fff 13px,#f2f9ec 15px,#98cb7b 17px,#71bb50 19px,#74c14d 33px,#82da5c 61px,#87db59 63px,#8fe864 69px,#95f26e 71px,#9cf66f 73px,#a4ff79 75px,#bbff8e 79px,#f0ffc3 85px,#fdffdc 87px,#fffff9 91px,#fff 93px,#fff 97px,#fffffa 99px,#ffffe7 101px,#f7ffc7 103px,#e3ffa1 105px,#c7ff84 107px,#b4fa71 109px,#93ce4e 111px,#4e5d12 113px,#434d0b 115px,#3d4d10 123px,#475621 125px,#848f6c 127px,#e6e8e0 129px,#fff 131px,#fff 217px,#fcf9f1 219px,#bf9c0f 223px,#bc9300 225px,#aa8c00 297px,#907900 325px,#675b00 349px,#504900 359px,#4d5106 363px,#50681b 365px,#58903a 367px,#5aa74e 369px,#56ae57 371px,#5bb158 373px,#59a854 375px,#568038 377px,#504211 379px,#4d2c03 381px,#4d2c00 401px,#4e3000 431px,#5a3901 437px,#624309 439px,#775f26 441px,#b3a780 443px,#ebe8cc 445px,#f5f576 447px,#f8f81c 449px,#fffe04 451px,#fffb03 477px,#ffff0f 483px,#ffff2f 489px,#ffff42 491px,#ffff6f 499px,#ffff70 503px,#ffff4b 511px,#fff427 517px,#f5d812 523px,#dbc103 533px,#c7af00 555px,#baa400 593px,#bca808 595px,#cdbc47 597px,#f2efd1 599px,#fffff9 601px,#fff 603px,#fff 653px,#fbfefa 655px,#e0eddb 657px,#8fc17c 659px,#6cb24f 661px,#71b848 665px,#80c142 677px,#89c239 687px,#8db124 715px,#7f9517 731px,#7b8e1c 735px,#8f9d42 737px,#d4daba 739px,#f4f6ed 741px,#fff 743px"></p><p style="--g:#fff 13px,#f9fcf7 15px,#c3e2b4 17px,#76be5b 19px,#6bba51 21px,#6cc256 33px,#71c251 35px,#7cd85f 59px,#8be869 67px,#a0fe7f 73px,#b7ff93 77px,#f1ffcc 83px,#fcffe4 85px,#fff 89px,#fff 97px,#fffff7 99px,#f7ffd8 101px,#e5ffb0 103px,#c7ff91 105px,#b3ff7b 107px,#a5f16a 109px,#6d9532 111px,#465510 113px,#3e4d0f 117px,#3c4d10 121px,#45551f 123px,#738259 125px,#daded5 127px,#fafbf9 129px,#fff 131px,#fff 217px,#fefcfa 219px,#f1e6c4 221px,#c2a21b 223px,#bc9801 225px,#b59700 263px,#b49500 267px,#a58a00 309px,#8d7b00 331px,#595300 359px,#4e4e03 365px,#50580b 367px,#569c4b 371px,#55a250 373px,#527935 375px,#4d3b0c 377px,#4d2c03 379px,#513400 433px,#634103 441px,#715210 443px,#978023 445px,#d2ca11 447px,#f6f404 449px,#fffe00 451px,#fffe03 477px,#ffff1b 485px,#ffff5c 497px,#ffff5b 503px,#ffff38 511px,#fffb29 513px,#f9e315 519px,#dbc503 531px,#c2af00 561px,#b9a904 593px,#c2b222 595px,#e8e0ab 597px,#fcfcf3 599px,#fff 601px,#fff 655px,#fafcfa 657px,#deeddb 659px,#84bd77 661px,#67b051 663px,#79c148 675px,#8abf36 697px,#84a823 723px,#758d19 735px,#758b1d 737px,#85983c 739px,#b5bf8c 741px,#ebefe2 743px,#fff 745px"></p><p style="--g:#fff 15px,#e4f3e1 17px,#7ac369 19px,#67ba55 21px,#77d763 57px,#89ec72 67px,#a1ff8a 73px,#d4ffba 79px,#edffd2 81px,#fbffed 83px,#fff 87px,#fff 97px,#faffe6 99px,#e4ffbe 101px,#b3ff85 105px,#a7fd76 107px,#91dc5f 109px,#4d651b 111px,#3e4e0f 113px,#3b4d12 119px,#41551c 121px,#708057 123px,#d8dcd2 125px,#f9faf9 127px,#fff 129px,#fff 219px,#f9f5e4 221px,#cab038 223px,#bc9f05 225px,#b99b00 235px,#b69c00 261px,#b59a00 265px,#a99300 309px,#8d7f00 335px,#525300 367px,#505405 369px,#4e5a13 371px,#4f561a 373px,#4d3809 375px,#4d2d00 377px,#503600 433px,#644401 443px,#6d4e03 445px,#866a01 447px,#cdc203 449px,#f3f002 451px,#fdfd01 453px,#ffff05 477px,#ffff12 483px,#ffff45 495px,#ffff4d 499px,#ffff46 503px,#fffc26 511px,#fae815 517px,#e9d90a 521px,#d1c001 537px,#bdaf00 571px,#b9ae04 591px,#c1b51d 593px,#e2da94 595px,#f9f9ed 597px,#fff 599px,#fff 657px,#f8fcf7 659px,#cde4cb 661px,#71b569 663px,#63b253 665px,#76c14b 677px,#83bd3a 703px,#7ea225 727px,#6e891e 739px,#728a2c 741px,#93a55f 743px,#e0e6d2 745px,#f9faf6 747px,#fff 749px"></p><p style="--g:#fff 15px,#f3f9f2 17px,#9bd292 19px,#68bd5f 21px,#62bb59 23px,#72d566 55px,#81e974 65px,#91f880 69px,#abff9e 73px,#b7ffa9 75px,#e6ffd7 79px,#fff 83px,#fff 95px,#fafff3 97px,#eaffd4 99px,#caffad 101px,#b2ff91 103px,#a4ff80 105px,#99f473 107px,#445716 111px,#3c4d12 113px,#3b501a 119px,#566c3a 121px,#c6cdbc 123px,#f6f8f6 125px,#fff 127px,#fff 219px,#faf8ed 221px,#d7c66b 223px,#bea30c 225px,#bba000 227px,#b79d00 253px,#b59e00 279px,#a99600 313px,#8b8000 341px,#5f5d00 367px,#585500 369px,#503d03 371px,#4d2d00 375px,#4f3700 433px,#6d4d00 447px,#7f6300 449px,#eeeb03 453px,#fcfc02 455px,#ffff05 477px,#ffff26 489px,#ffff39 495px,#ffff35 501px,#ffff27 507px,#fbef14 513px,#ddd204 525px,#c7ba00 549px,#b9b200 589px,#bfb715 591px,#f9f7e8 595px,#fff 597px,#fff 659px,#f4f9f4 661px,#b7dab7 663px,#6cb567 665px,#60b456 667px,#75c24d 681px,#7cc246 691px,#7fb233 717px,#6d8f22 737px,#668420 741px,#688529 743px,#8b9f5b 745px,#cfd8bd 747px,#f2f4ec 749px,#fff 751px"></p><p style="--g:#fff 15px,#f9fcf8 17px,#c0e3bd 19px,#6abf69 21px,#61bb5c 23px,#5fc061 29px,#66c761 39px,#63c967 41px,#72db6d 57px,#80f080 65px,#89f784 67px,#a0ff9b 71px,#adffab 73px,#f0ffea 79px,#fdfff9 81px,#fff 83px,#fff 93px,#fcfff9 95px,#eaffe1 97px,#b1ff9e 101px,#9fff8a 103px,#98fd81 105px,#87e06a 107px,#4d6e25 109px,#3b4f14 111px,#374d18 117px,#48602f 119px,#aab59f 121px,#f3f4ef 123px,#fff 125px,#fff 219px,#fcfcf9 221px,#ede4b8 223px,#c1ab1b 225px,#baa401 227px,#b7a200 269px,#b5a300 287px,#a89900 321px,#817b00 353px,#6d6a00 365px,#635e00 367px,#554200 369px,#4d3100 371px,#513b00 435px,#6d5100 449px,#7c6200 451px,#ad9a03 453px,#e4e005 455px,#f7f704 457px,#ffff02 461px,#ffff04 477px,#ffff27 493px,#ffff28 499px,#fffa19 507px,#dfd704 521px,#c4be00 549px,#b9b400 587px,#bbb80c 589px,#d0cb54 591px,#f6f6e0 593px,#fff 595px,#fff 661px,#eff6f0 663px,#a6d2ac 665px,#65b769 667px,#5ab65b 669px,#6cc156 679px,#79be45 703px,#76a832 725px,#648724 741px,#617e26 745px,#6e873b 747px,#a4b486 749px,#e8ece2 751px,#f9f9f7 753px,#fff 755px"></p><p style="--g:#fff 17px,#e3f4e4 19px,#77c67a 21px,#5dbb64 23px,#66d16c 49px,#76e97e 61px,#82f588 65px,#94ff9a 69px,#ccffd1 75px,#e9ffeb 77px,#fafffa 79px,#fff 81px,#fff 93px,#edffeb 95px,#afffa8 99px,#9bff92 101px,#91ff88 103px,#8df67f 105px,#6aaf51 107px,#3f5a1b 109px,#384d15 111px,#354d18 115px,#3f5827 117px,#88987a 119px,#ebece8 121px,#fff 123px,#fff 221px,#f8f6e4 223px,#ccbb3d 225px,#bba905 227px,#b8a800 237px,#b8a600 267px,#b7a800 271px,#b1a500 311px,#9d9500 337px,#797800 363px,#6d6900 365px,#574300 367px,#4d3500 369px,#4d3200 375px,#4f3d00 435px,#6e5500 451px,#796000 453px,#907a01 455px,#ccc205 457px,#f3f307 459px,#feff07 461px,#ffff06 479px,#ffff1c 495px,#fcf911 505px,#d8d602 523px,#c2be00 553px,#b8b701 585px,#b7b707 587px,#c6c32e 589px,#ebe9b8 591px,#fcfcf7 593px,#fff 595px,#fff 663px,#eaf6ed 665px,#98cea0 667px,#5db467 669px,#5cbc5f 673px,#6cc356 687px,#78ba43 709px,#6da034 731px,#597a26 747px,#607d31 749px,#889d67 751px,#c5d0b7 753px,#eef2eb 755px,#fff 757px"></p><p style="--g:#fff 17px,#f3faf4 19px,#9bd7a2 21px,#5ebe6d 23px,#59bd65 25px,#56c26c 31px,#5cc368 33px,#67db79 55px,#72e983 61px,#81f890 65px,#9dffad 69px,#aaffbc 71px,#dcffe9 75px,#f2fff7 77px,#fff 79px,#fff 91px,#f1fff6 93px,#b0ffb3 97px,#99ff9d 99px,#8dff8f 101px,#8bff8a 103px,#85ef7e 105px,#518438 107px,#39531a 109px,#344d19 113px,#385222 115px,#657a54 117px,#e0e5df 119px,#fff 121px,#fff 221px,#fcfcf3 223px,#e3db95 225px,#beb313 227px,#b9aa01 229px,#b6ae00 307px,#a7a100 333px,#848401 361px,#7b7802 363px,#5f4d01 365px,#503500 367px,#514100 437px,#765e00 455px,#887300 457px,#c5bc07 459px,#f1f30a 461px,#fbfe0a 463px,#fdff0b 483px,#f9fb11 499px,#cfd003 527px,#bbbf04 553px,#b6b804 583px,#b3b709 585px,#bec021 587px,#e1e296 589px,#fbfaed 591px,#fff 593px,#fff 665px,#ddefe1 667px,#71be81 669px,#56b568 671px,#66c35d 685px,#70b848 713px,#659935 735px,#517526 749px,#53762b 751px,#5e7b3b 753px,#94a77f 755px,#e3e7de 757px,#f6f8f5 759px,#fff 761px"></p><p style="--g:#fff 17px,#f9fcf9 19px,#c2e7c9 21px,#60c175 23px,#53be6b 25px,#52c170 29px,#57c56f 35px,#61d97c 53px,#72ee8c 61px,#79f692 63px,#82ffa1 65px,#9fffba 69px,#cdffe8 73px,#e4fff8 75px,#fff 77px,#fff 89px,#f0fffc 91px,#d4ffe6 93px,#99ffa9 97px,#89ff98 99px,#86fd8d 103px,#77dc77 105px,#3e6228 107px,#344e1a 109px,#354e1f 113px,#4b653d 115px,#c2cbbc 117px,#f7f9f7 119px,#fff 121px,#fff 223px,#f4f0d1 225px,#c5bd2d 227px,#b9af03 229px,#b9b000 269px,#bab500 295px,#afac00 331px,#909302 357px,#8d8f03 359px,#838103 361px,#665701 363px,#513800 365px,#4d3400 369px,#4d4100 433px,#5c4d00 445px,#766200 457px,#887600 459px,#c2be09 461px,#ebf00d 463px,#f5fd0d 465px,#f2f80f 495px,#c9ce06 527px,#b4bb07 561px,#aeb70a 583px,#b9be1e 585px,#dfe094 587px,#f9f9eb 589px,#fff 591px,#fff 665px,#f7fcf9 667px,#cae7d1 669px,#6bbe82 671px,#52b76b 673px,#62c361 689px,#6cc054 703px,#6aae44 723px,#588931 743px,#496d27 753px,#4e6e2f 755px,#6d8556 757px,#aebca4 759px,#e4e9e1 761px,#fff 765px"></p><p style="--g:#fff 19px,#e0f5e5 21px,#63c381 23px,#4fbd70 25px,#5cd981 51px,#61df84 55px,#64e78d 57px,#71f395 61px,#84ffaa 65px,#bbffdf 71px,#d8fff9 73px,#f3fffe 75px,#fff 77px,#fff 87px,#f1fffe 89px,#d9fff2 91px,#97ffb4 95px,#86ffa1 97px,#7fff95 101px,#7bf58d 103px,#365722 107px,#314d1c 109px,#314d1d 111px,#425b33 113px,#9dad98 115px,#f1f3ef 117px,#fff 119px,#fff 223px,#faf9ea 225px,#d6d168 227px,#bbb80c 229px,#b8b200 231px,#bbb800 285px,#b8b901 323px,#9fa304 351px,#979c05 357px,#8c8f06 359px,#6a5d02 361px,#533c00 363px,#4d3600 367px,#4d4300 427px,#524700 441px,#760 459px,#867600 461px,#ada806 463px,#e0ec0f 465px,#ecfb10 467px,#ecf70f 485px,#d1da0b 513px,#bac40a 537px,#aab70d 573px,#acb70b 579px,#a9b70e 581px,#b2bc1a 583px,#cad05d 585px,#f5f6e3 587px,#fff 589px,#fff 667px,#f5f9f6 669px,#b9e0c7 671px,#5cba7e 673px,#4cb86e 675px,#5ec365 691px,#67b751 715px,#5c983c 737px,#416826 755px,#496834 759px,#5a754a 761px,#9aa991 763px,#e1e6e0 765px,#fafcf9 769px,#fff 771px"></p><p style="--g:#fff 19px,#eff9f2 21px,#7dce99 23px,#4fc076 25px,#49bf76 27px,#4ec174 29px,#4dc77a 35px,#55d380 47px,#61e892 57px,#7affa9 63px,#96ffc7 67px,#c7fff3 71px,#e5ffff 73px,#f8ffff 75px,#fff 77px,#fff 85px,#f5ffff 87px,#ddfffb 89px,#97ffc1 93px,#84ffab 95px,#7bff9f 97px,#79fe9b 101px,#70e889 103px,#417639 105px,#325020 107px,#2f4d1f 109px,#355328 111px,#72896b 113px,#e6eae5 115px,#fff 117px,#fff 223px,#fcfcf6 225px,#eae9ae 227px,#bebc18 229px,#b7b702 231px,#babe05 319px,#a6ad07 349px,#9fa608 355px,#979b08 357px,#554000 361px,#4d3700 363px,#4d4500 423px,#514800 443px,#766800 461px,#827800 463px,#a4a406 465px,#d4e110 467px,#e3f413 469px,#e2f412 479px,#d2e110 503px,#b5c30f 535px,#a5b611 571px,#a6b711 579px,#abb918 581px,#c2cc54 583px,#f1f2d1 585px,#fffff9 587px,#fff 589px,#fff 669px,#eef7f2 671px,#51b97c 675px,#49ba72 677px,#55c36e 687px,#64bd5a 709px,#5ba145 733px,#3f6a2b 755px,#365926 761px,#3e5d30 763px,#5a734f 765px,#85987f 767px,#cdd4ca 769px,#eaece9 771px,#fff 777px"></p><p style="--g:#fff 19px,#f6fcf8 21px,#ade2c1 23px,#52c281 25px,#48bf78 27px,#47c983 37px,#4cca7f 39px,#57df8e 53px,#66f39f 59px,#71feae 61px,#89ffc4 65px,#b6fff0 69px,#cffffd 71px,#edffff 73px,#fff 75px,#fff 83px,#f9ffff 85px,#e0fffc 87px,#beffee 89px,#9affcd 91px,#82ffb6 93px,#75ffaa 95px,#72ffa1 99px,#70f799 101px,#58b869 103px,#335d29 105px,#2d4d20 107px,#2e4e24 109px,#486541 111px,#cad4c9 113px,#f9fbf9 115px,#fff 117px,#fff 225px,#f7f7e1 227px,#c5c63b 229px,#b7b909 231px,#b7b802 237px,#b7bd06 271px,#b8c008 327px,#a8b20b 353px,#a0a50c 355px,#7d7b07 357px,#564500 359px,#4d3800 361px,#4d4700 415px,#504a00 445px,#776c00 463px,#817900 465px,#9b9805 467px,#c9d911 469px,#d8ed16 471px,#d9ed15 481px,#a9bc14 541px,#a9bc12 547px,#a1b615 577px,#a3b61a 579px,#b8c442 581px,#edf1ce 583px,#fefef9 585px,#fff 587px,#fff 671px,#dbeee5 673px,#6cc296 675px,#47b779 677px,#53c370 689px,#5abc62 711px,#59a84f 729px,#437936 751px,#2f5325 763px,#35562d 767px,#42603b 769px,#8a9c86 773px,#b1bdae 775px,#f5f6f4 777px,#fff 779px"></p><p style="--g:#fff 21px,#d5f1e1 23px,#5bc78b 25px,#42bf7e 27px,#4ad38a 45px,#51dd91 51px,#52e39a 53px,#58e89a 55px,#70ffb4 61px,#90ffd3 65px,#bffffc 69px,#f1ffff 73px,#fff 75px,#fff 81px,#f8ffff 83px,#e6ffff 85px,#bffff6 87px,#80ffc3 91px,#71ffb3 93px,#6cffa7 97px,#6cffa6 99px,#68ed95 101px,#418648 103px,#2f5324 105px,#2a4d23 107px,#385a34 109px,#eff2ef 113px,#fff 115px,#fff 225px,#fafbef 227px,#d4d875 229px,#b5bb13 231px,#afb708 233px,#b5be0a 279px,#b9c50c 329px,#afbd0f 351px,#a6b20f 353px,#838309 355px,#574800 357px,#4d3b00 359px,#4d4b00 421px,#504e00 449px,#7e7700 467px,#908e04 469px,#b6c512 471px,#cce418 473px,#cce418 485px,#a5bb17 539px,#a4b815 551px,#a0b617 559px,#9eb517 575px,#9db51c 577px,#acbf35 579px,#e4e9b9 581px,#fcfcf6 583px,#fff 585px,#fff 671px,#f6fcf9 673px,#bde4d3 675px,#53bd8b 677px,#41b97b 679px,#4cc378 691px,#58be65 709px,#57b35c 721px,#4b8f43 743px,#294d24 767px,#2f532b 771px,#476644 773px,#f4f5f4 777px,#fff 779px"></p><p style="--g:#fff 21px,#eefaf3 23px,#84d6ac 25px,#44c387 27px,#40c282 29px,#3ec88a 35px,#43ca87 37px,#4ddf9a 51px,#5bf3aa 57px,#67feb6 59px,#7fffcf 63px,#adfff7 67px,#deffff 71px,#f8ffff 73px,#fff 75px,#fff 79px,#f9ffff 81px,#e6ffff 83px,#c7fffb 85px,#9fffea 87px,#82ffd1 89px,#6fffbc 91px,#66ffad 95px,#65faa8 99px,#59ce82 101px,#316032 103px,#294e25 105px,#31552e 107px,#668267 109px,#e2e8e3 111px,#fff 113px,#fff 225px,#fcfcf6 227px,#e3e6a8 229px,#b2bd1f 231px,#adb70c 233px,#b5c510 297px,#b7c912 345px,#b0c013 351px,#99a20f 353px,#5b4e02 355px,#4d3d00 357px,#4c4d01 421px,#505001 453px,#7b7900 469px,#898904 471px,#afbe13 473px,#bfd91b 475px,#c3dd1a 481px,#a1ba1b 537px,#98b41c 561px,#9ab41b 573px,#97b41d 575px,#a4bd30 577px,#d2df94 579px,#f7faed 581px,#fff 583px,#fff 673px,#eff9f6 675px,#a1dcc2 677px,#48bb8b 679px,#3bbb81 681px,#49c37b 693px,#51b464 721px,#4d9f52 735px,#3d7b3e 751px,#274d26 767px,#264d27 769px,#355835 771px,#819881 773px,#e7ebe6 775px,#fff 777px"></p><p style="--g:#fff 21px,#f6fcf9 23px,#b1e6cf 25px,#49c58e 27px,#3ac38a 29px,#3ec88a 35px,#45dc9b 49px,#51efad 55px,#5cfcb7 57px,#65ffbe 59px,#72ffcf 61px,#98fff0 65px,#b2fffd 67px,#e9ffff 71px,#f9ffff 73px,#fff 75px,#fff 77px,#faffff 79px,#e8ffff 81px,#c9ffff 83px,#a8fff5 85px,#85ffe0 87px,#72ffc8 89px,#64ffba 91px,#5dffb4 95px,#5fffb2 97px,#5df2a5 99px,#3f955b 101px,#2b562b 103px,#2a4f2a 105px,#4b6d4d 107px,#c9d3ca 109px,#f9faf9 111px,#fff 113px,#fff 227px,#f2f5d8 229px,#b9c438 231px,#aab711 233px,#a9ba11 253px,#bbd117 345px,#b8cc17 349px,#a4b213 351px,#6b6605 353px,#504000 355px,#4a4d03 409px,#4a4d03 453px,#505203 459px,#787800 471px,#888c06 473px,#a3b413 475px,#b0cc1a 477px,#b6d21d 483px,#98b61e 545px,#93b31f 559px,#95b31f 567px,#93b321 573px,#9cba31 575px,#c5d47c 577px,#f5f6e6 579px,#fff 581px,#fff 675px,#e6f5ef 677px,#73c8a9 679px,#3bbb88 681px,#3ec284 687px,#4fbd6f 711px,#4bb76b 719px,#4baf65 725px,#3f8748 747px,#254e29 767px,#2e5532 769px,#668268 771px,#d8e0d8 773px,#fafbfa 775px,#fff 777px"></p><p style="--g:#fff 23px,#e4f6ef 25px,#59cb9f 27px,#39c28e 29px,#39d49c 43px,#3fdba0 47px,#46e3a5 51px,#5cfebd 57px,#75ffd8 61px,#87ffed 63px,#a2fffb 65px,#b6ffff 67px,#ecffff 71px,#fff 73px,#fff 77px,#d0ffff 81px,#aafffb 83px,#87ffed 85px,#6effd4 87px,#5effc5 89px,#59ffb9 93px,#5cfdb3 97px,#54df9a 99px,#2e6539 101px,#264e29 103px,#345a38 105px,#eff2f0 109px,#fff 111px,#fff 227px,#f9faed 229px,#cbd571 231px,#a7ba1f 233px,#a5b713 235px,#a6bd17 259px,#bdd81c 347px,#b0c619 349px,#727208 351px,#534700 353px,#4d3f00 355px,#4b4d05 389px,#374d16 429px,#364d18 445px,#3c5215 447px,#3f4d0e 453px,#464e08 461px,#5f6309 467px,#737704 473px,#808407 475px,#a3bd1b 479px,#a8c61e 485px,#91b322 547px,#8eb225 571px,#98b831 573px,#bfd37d 575px,#f1f6e3 577px,#fff 579px,#fff 675px,#f9fcfc 677px,#c9e6dd 679px,#48b995 681px,#34bb8a 683px,#40c383 699px,#4ab76e 719px,#419655 741px,#255430 765px,#295331 767px,#57785e 769px,#d3dbd4 771px,#f9faf9 773px,#fff 775px"></p><p style="--g:#fff 23px,#f1fbf7 25px,#88dbbd 27px,#3bc597 29px,#31c594 31px,#3adaa4 47px,#47ecb4 53px,#52f9bf 55px,#66ffd4 59px,#79ffeb 61px,#a5ffff 65px,#dbffff 69px,#f8ffff 73px,#f8ffff 75px,#ecffff 77px,#d4ffff 79px,#b2ffff 81px,#8ffff6 83px,#71ffe3 85px,#5dffcf 87px,#54ffbf 91px,#54ffbd 95px,#53f9b4 97px,#46c083 99px,#285b34 101px,#295231 103px,#58795f 105px,#dce7de 107px,#fff 109px,#fff 227px,#fcfcf6 229px,#dee6ad 231px,#a7bd2b 233px,#9fb719 235px,#adcb1d 295px,#c0e020 345px,#b7d61f 347px,#8f9d14 349px,#584e03 351px,#4d4200 353px,#4a4f05 381px,#48520b 387px,#475f1b 391px,#335320 399px,#2c4d21 407px,#244d2a 457px,#2d4d23 461px,#415a2a 463px,#777e4b 465px,#70753a 467px,#62681f 469px,#6c730a 475px,#76800a 477px,#92aa1b 481px,#96b41e 483px,#9aba21 497px,#8ab026 555px,#88b029 569px,#91b733 571px,#b0c965 573px,#ecf1d7 575px,#fefffa 577px,#fff 579px,#fff 677px,#eff8f5 679px,#91d4c1 681px,#3cbd97 683px,#2ebd8f 685px,#39c48b 695px,#44bb78 715px,#3f9f60 737px,#28623a 761px,#255534 765px,#3a6446 767px,#b5c3ba 769px,#f6f6f6 771px,#fff 773px"></p><p style="--g:#fff 23px,#f9fdfc 25px,#c6efe0 27px,#43c9a0 29px,#2ec597 31px,#36ddad 47px,#3ce1ad 49px,#4dfac5 55px,#7bfff3 61px,#96fffe 63px,#a9ffff 65px,#d9ffff 69px,#ecffff 71px,#e7ffff 75px,#baffff 79px,#91fffe 81px,#73fff2 83px,#5fffdb 85px,#51ffcd 87px,#4affc8 91px,#4effc2 95px,#4cefb1 97px,#349564 99px,#255633 101px,#396345 103px,#b4c4ba 105px,#f6f9f6 107px,#fff 109px,#fff 229px,#f2f5e1 231px,#b0c443 233px,#9db720 235px,#9dbb1f 253px,#b4d825 313px,#c3e926 343px,#bde125 345px,#a0b719 347px,#625f05 349px,#4e4500 351px,#4b4d02 373px,#48550c 379px,#42712f 385px,#3c7336 389px,#274e26 403px,#1b4d33 459px,#26553c 461px,#789584 463px,#e2e5de 465px,#e9eae2 467px,#ced0be 469px,#a7aa86 471px,#6c7429 475px,#788711 481px,#86a31e 485px,#8eb224 505px,#84af2a 563px,#83af2c 567px,#8bb234 569px,#a9c765 571px,#e9f0d4 573px,#fbfef9 575px,#fff 577px,#fff 679px,#e4f6f0 681px,#6dceb5 683px,#31bd97 685px,#2abe95 687px,#39c38a 703px,#3eba7c 717px,#3db275 725px,#328553 749px,#235d3a 763px,#316244 765px,#7f9c89 767px,#eaefec 769px,#fff 771px"></p><p style="--g:#fff 25px,#e7f9f2 27px,#59d1b0 29px,#2cc7a0 31px,#2bd0a5 39px,#36e4b8 49px,#3ceabb 51px,#4bfcd2 55px,#6afff2 59px,#95ffff 63px,#c8ffff 67px,#dbffff 69px,#e3ffff 71px,#e2ffff 73px,#b8ffff 77px,#74fffa 81px,#5cffe6 83px,#44ffd1 87px,#49fcc2 95px,#43d79f 97px,#266540 99px,#2c593c 101px,#7d9d8a 103px,#e9f1ec 105px,#fff 107px,#fff 229px,#f8faef 231px,#c3d57c 233px,#9bba29 235px,#95b722 237px,#9dbe22 261px,#aed528 305px,#c4ef30 337px,#c1eb2c 343px,#a4c020 345px,#646509 347px,#514900 349px,#4d4900 359px,#495008 371px,#47540c 373px,#45712c 377px,#49873e 379px,#3e8042 385px,#254d29 403px,#1b4d33 453px,#1a4e37 459px,#376653 461px,#c9d4d0 463px,#f9fafa 465px,#fff 467px,#e7e9de 475px,#c2c6a6 477px,#979f65 479px,#75812b 481px,#75841d 483px,#7b9a20 491px,#84a925 503px,#84ae2a 531px,#80ad2d 561px,#7fae2f 565px,#85b033 567px,#9cbe55 569px,#dde8c3 571px,#fafcf6 573px,#fff 575px,#fff 679px,#f9fdfc 681px,#c9ece5 683px,#45c3aa 685px,#26bc99 687px,#32c491 701px,#37bb84 717px,#37a069 737px,#256a45 759px,#236340 761px,#2a6645 763px,#6b917b 765px,#e1e8e4 767px,#fff 769px"></p><p style="--g:#fff 25px,#effbf8 27px,#7fddc4 29px,#2dc9a7 31px,#27c8a2 33px,#2cdcb5 45px,#40f7cc 53px,#5dffed 57px,#81ffff 61px,#b5ffff 65px,#d9ffff 69px,#d9ffff 71px,#d0ffff 73px,#7fffff 79px,#5efff4 81px,#4cffe4 83px,#45ffd6 85px,#42ffcc 93px,#42f5be 95px,#235a3b 99px,#456e57 101px,#d3ded8 103px,#fafdfb 105px,#fff 107px,#fff 229px,#fcfcf9 231px,#e1ecc1 233px,#9dbd3b 235px,#93b725 237px,#a1cc2b 287px,#b6e333 315px,#c7f63c 331px,#c6f535 341px,#b7e02d 343px,#767f10 345px,#524e02 347px,#4d4800 351px,#484f08 367px,#456520 371px,#43914e 375px,#409250 379px,#234e2c 403px,#174d35 455px,#164d37 457px,#255a47 459px,#eef2f1 463px,#fff 465px,#fff 475px,#f0f1ea 479px,#d8dbc7 481px,#a8b17e 483px,#80903c 485px,#6e8326 487px,#667e1d 489px,#799e25 503px,#7eaa2c 527px,#7aac32 559px,#7bac31 563px,#81af36 565px,#98bd56 567px,#dae7c1 569px,#f9f9f3 571px,#fff 573px,#fff 681px,#eff9f8 683px,#8dd7c9 685px,#2bbca3 687px,#21be9d 689px,#2ec396 703px,#34b07c 727px,#2d8b5f 747px,#226947 759px,#276748 761px,#4c7f67 763px,#d2dfd8 765px,#f9fbfa 767px,#fff 769px"></p><p style="--g:#fff 25px,#f6fcfc 27px,#a9e8db 29px,#33caac 31px,#21c9aa 33px,#24d1ad 39px,#29e3c3 47px,#32e8c4 49px,#41fcdb 53px,#4bffe4 55px,#5bfff6 57px,#83ffff 61px,#b3ffff 65px,#c6ffff 67px,#ceffff 69px,#cdffff 71px,#a4ffff 75px,#62fffb 79px,#3fffe0 83px,#38ffd9 87px,#3dfed0 93px,#3ce7b7 95px,#25704f 97px,#2b5c43 99px,#eff4f1 103px,#fff 105px,#fff 231px,#f3f8e7 233px,#aac95b 235px,#92b92d 237px,#8cb82c 239px,#93bf2c 259px,#a8d834 301px,#c0f444 319px,#cffe4e 327px,#cdff44 337px,#cbfb40 339px,#bbe836 341px,#819418 343px,#565403 345px,#4d4800 347px,#484d06 363px,#46510c 365px,#445e1b 367px,#42803f 369px,#429857 371px,#3f9a5b 375px,#2c683c 395px,#204d2d 405px,#154d38 455px,#18503d 457px,#487769 459px,#d6e6e2 461px,#fff 463px,#fff 479px,#f3f4ee 483px,#e2e5d4 485px,#798b40 489px,#5f7527 491px,#5c761e 493px,#709728 507px,#76a52f 531px,#75aa36 561px,#7cae3a 563px,#94bb5a 565px,#d8e7c2 567px,#f9f9f3 569px,#fff 571px,#fff 683px,#dff5f1 685px,#4fc7b5 687px,#20bca4 689px,#20c3a3 695px,#2ebc8e 717px,#2c996d 741px,#216c4c 759px,#37775d 761px,#b3cac0 763px,#f6f6f6 765px,#fff 767px"></p><p style="--g:#fff 27px,#e1f7f3 29px,#45d0b9 31px,#1ec9af 33px,#24dec1 45px,#33f5d6 51px,#41ffe2 53px,#4cfff4 55px,#70ffff 59px,#b5ffff 65px,#c1ffff 67px,#c4ffff 69px,#a4ffff 73px,#67ffff 77px,#3cffee 81px,#33ffe3 83px,#37ffd7 91px,#37f7cd 93px,#2db891 95px,#226046 97px,#4f7865 99px,#d8dfdb 101px,#fff 103px,#fff 231px,#f9fcf4 233px,#cbe09b 235px,#91bc3d 237px,#8cb82e 239px,#8ec033 259px,#93c230 265px,#a0d638 295px,#b5ed45 311px,#cbfe55 319px,#dfff63 329px,#d3ff50 337px,#c4f143 339px,#575a06 343px,#4d4a00 345px,#46500a 361px,#445713 363px,#3e975a 367px,#3ea265 369px,#38925b 379px,#1e4e2f 405px,#124d3b 455px,#245d4e 457px,#9cb5ae 459px,#f1f7f6 461px,#fff 463px,#fff 485px,#f4f6ef 487px,#e1e5d5 489px,#a9b489 491px,#637736 493px,#51691f 495px,#678f29 509px,#709f2f 525px,#6fa838 559px,#77ac40 561px,#91bb5d 563px,#d7e6c3 565px,#f9f9f3 567px,#fff 569px,#fff 683px,#f5fcfc 685px,#a8e4db 687px,#2bc1af 689px,#17bea6 691px,#1fc4a5 701px,#26be99 715px,#2aa57c 735px,#207959 755px,#1e7154 757px,#29755a 759px,#7aa898 761px,#e9f1ef 763px,#fff 765px"></p><p style="--g:#fff 27px,#effcf9 29px,#79ded1 31px,#23cbb4 33px,#18cdb6 35px,#1ddac1 43px,#29efd6 49px,#34fce1 51px,#4cfffa 55px,#b4ffff 65px,#b6ffff 69px,#a5ffff 71px,#4effff 77px,#3bfff9 79px,#32ffea 81px,#2bffe4 87px,#31ffdb 91px,#30ecc4 93px,#227f61 95px,#2f6650 97px,#a8beb5 99px,#f3f6f5 101px,#fff 103px,#fff 233px,#e4f0d1 235px,#92be49 237px,#86b833 239px,#94cc3a 281px,#9fd83b 295px,#b0ee4c 307px,#c8ff5e 315px,#ecff7a 325px,#f2ff7c 329px,#deff64 335px,#d0f954 337px,#a4c536 339px,#5e620a 341px,#4d4d00 343px,#44500c 359px,#425f1d 361px,#3c8548 363px,#3ba368 365px,#38a76f 369px,#2a764c 391px,#1c4e32 405px,#114d3c 453px,#165041 455px,#49796d 457px,#e1e8e7 459px,#fff 461px,#fff 489px,#f3f4ed 491px,#cbd2bc 493px,#7a8a5a 495px,#51672a 497px,#4a641e 499px,#5f8829 511px,#6da034 535px,#6da53b 557px,#73ad46 559px,#98c071 561px,#d8e8c7 563px,#f9f9f3 565px,#fff 567px,#fff 685px,#e6f7f5 687px,#68d1c9 689px,#1cbead 691px,#13bfad 693px,#1fc2a4 709px,#24bb97 719px,#239774 743px,#20745b 757px,#488b76 759px,#d3e3de 761px,#fafdfd 763px,#fff 765px"></p><p style="--g:#fff 27px,#f9fefc 29px,#bff1ea 31px,#2ccfbe 33px,#15ccba 35px,#17dcca 43px,#1de2cc 45px,#21ebd8 47px,#28f1db 49px,#31fde8 51px,#3dfff9 53px,#5fffff 57px,#7affff 59px,#a1ffff 63px,#b1ffff 67px,#90ffff 71px,#54ffff 75px,#2efff6 79px,#25ffef 81px,#2affe3 89px,#2cf9d9 91px,#28c8a7 93px,#23664f 95px,#6c9083 97px,#e7ede9 99px,#fff 101px,#fff 233px,#f2f8e8 235px,#9dc662 237px,#83b93c 239px,#83b835 241px,#95d340 287px,#a1e247 299px,#bafc5a 309px,#f3ff8d 321px,#f8ff98 323px,#fcff9a 327px,#f6ff88 331px,#dcff6a 335px,#c4ed54 337px,#77851c 339px,#505204 341px,#494d04 349px,#454d09 355px,#435310 357px,#3e6a2d 359px,#38955d 361px,#37aa74 363px,#34ab76 367px,#297c54 389px,#194e34 405px,#0f4d3f 453px,#265e51 455px,#a5beb9 457px,#f6f9f9 459px,#fff 461px,#fff 491px,#f9faf9 493px,#e8e9e2 495px,#a6b193 497px,#546936 499px,#455e23 501px,#4e7123 507px,#5e8d2f 519px,#679d37 539px,#69a540 555px,#75ac4c 557px,#98c277 559px,#e3eed9 561px,#fafcf6 563px,#fff 565px,#fff 685px,#f9ffff 687px,#cef0ee 689px,#37c0ba 691px,#10bdb3 693px,#17c4ad 703px,#1ec0a2 713px,#1dbc9f 719px,#20b595 725px,#1c8e72 747px,#1a7960 755px,#31826e 757px,#b0cec7 759px,#f6f8f6 761px,#fff 763px"></p><p style="--g:#fff 29px,#e4faf8 31px,#47d7cb 33px,#13cec1 35px,#14dfd0 43px,#1ceadb 47px,#27f8e6 49px,#3ffffe 53px,#9fffff 63px,#a5ffff 65px,#a1ffff 67px,#92ffff 69px,#40ffff 75px,#2dfffe 77px,#22fff0 81px,#26ffe5 89px,#26f2d6 91px,#20997f 93px,#326c5c 95px,#c6d4d0 97px,#f9fcfa 99px,#fff 101px,#fff 233px,#f6faf1 235px,#b2d58a 237px,#84ba43 239px,#80b93a 243px,#89cb44 275px,#96d947 291px,#9de34d 297px,#a1e954 299px,#a5eb52 301px,#bafe66 307px,#e8ff8e 315px,#faffad 319px,#ffffba 325px,#ffffa3 329px,#f8ff91 331px,#d2f967 335px,#a5c744 337px,#5a5f0c 339px,#4b4d02 341px,#434d0b 353px,#415415 355px,#3c6c31 357px,#32a16e 359px,#2eaf80 361px,#30a576 371px,#247854 391px,#174f38 405px,#0f4d3e 447px,#0d4d40 451px,#155348 453px,#5b8880 455px,#e4ecea 457px,#fff 459px,#fff 495px,#f0f2ee 497px,#bfc6b5 499px,#788962 501px,#4c6330 503px,#415d22 505px,#56852f 519px,#629c39 541px,#629f3f 551px,#67a344 553px,#7eb15e 555px,#ecf3e6 559px,#fff 561px,#fff 687px,#effafa 689px,#8dd7d6 691px,#18bdb8 693px,#0abfb6 695px,#14c2af 711px,#1abaa0 721px,#1ba388 737px,#177e68 753px,#23816c 755px,#77afa3 757px,#e9f2f1 759px,#fff 761px"></p><p style="--g:#fff 29px,#f3fcfc 31px,#8fe9e3 33px,#19d2c9 35px,#0dd2c6 37px,#09d6ce 39px,#12ded2 43px,#12e6de 45px,#23f9ed 49px,#2ffffb 51px,#4effff 55px,#68ffff 57px,#8effff 61px,#9effff 65px,#92ffff 67px,#5fffff 71px,#43ffff 73px,#21fffe 77px,#18fff9 81px,#20fee9 89px,#21ebd0 91px,#237e69 93px,#759c92 95px,#ebefee 97px,#fff 99px,#fff 233px,#f9fcf8 235px,#d1e6ba 237px,#86be4d 239px,#7ab840 241px,#80bf3f 255px,#7fc344 261px,#86c844 271px,#87ce49 277px,#92d94b 289px,#a1ed5a 299px,#baff70 305px,#e9ff9c 313px,#f9ffae 315px,#feffc5 317px,#ffffd7 321px,#ffffd1 325px,#fdffab 329px,#f0ff93 331px,#d9ff79 333px,#c1ef61 335px,#7b9529 337px,#4f5507 339px,#464d07 343px,#414d0c 351px,#3f5516 353px,#2ba579 357px,#28b388 359px,#2ca97d 369px,#207353 393px,#164e39 405px,#0b4d42 449px,#0d4d44 451px,#29645c 453px,#baccc9 455px,#f8fafa 457px,#fff 459px,#fff 497px,#f9f9f7 499px,#eaece7 501px,#bcc5b1 503px,#677b53 505px,#47612f 507px,#406223 511px,#4e7c2e 519px,#5b953a 537px,#5f9d42 549px,#6aa64d 551px,#88b770 553px,#d2e4c7 555px,#f4f7ef 557px,#fff 559px,#fff 689px,#def5f5 691px,#40c6c7 693px,#0bbdba 695px,#07c3bb 699px,#13c0ad 715px,#16b9a3 723px,#148f7b 747px,#18826f 753px,#409484 755px,#d3e5e2 757px,#fafdfd 759px,#fff 761px"></p><p style="--g:#fff 29px,#faffff 31px,#c8f5f3 33px,#23d4cd 35px,#08d3ce 37px,#11e8e1 45px,#1ffaf5 49px,#2effff 51px,#65ffff 57px,#7cffff 59px,#92ffff 63px,#81ffff 67px,#3ff 73px,#1fffff 75px,#16fffe 77px,#19fff2 87px,#1af9e7 89px,#1dc8b2 91px,#3f7f71 93px,#d2dfda 95px,#fff 97px,#fff 235px,#eef6e6 237px,#8ec663 239px,#78b844 241px,#76bb46 247px,#87d24c 281px,#97e759 295px,#a9fc6c 301px,#bfff7f 305px,#edffad 311px,#ffffd6 315px,#fffff1 319px,#fffff5 321px,#ffd 325px,#ffffc2 327px,#f5ffa8 329px,#c8fc71 333px,#a4d450 335px,#566512 337px,#464e07 339px,#404d0d 349px,#3e5316 351px,#35723f 353px,#27ab86 355px,#25b692 357px,#26a27d 373px,#1c7257 393px,#124d3b 407px,#094d44 449px,#185751 451px,#ecf2f1 455px,#fff 457px,#fff 501px,#f9f9f6 503px,#e6e9e2 505px,#abb6a0 507px,#637a50 509px,#44622f 511px,#436c29 517px,#528a38 531px,#599944 545px,#619e4a 547px,#71a859 549px,#e9f2e5 553px,#fafcf9 555px,#fff 557px,#fff 689px,#f5fcfc 691px,#aae4e6 693px,#1ebfc2 695px,#04bdbe 697px,#07c3bd 709px,#0eb9ab 723px,#129887 743px,#108676 751px,#258b7d 753px,#94c5be 755px,#f0f8f7 757px,#fff 759px"></p><p style="--g:#fff 31px,#e4fbfa 33px,#3fdad8 35px,#08d2d2 37px,#08e1e2 43px,#14f2f1 47px,#21fefd 49px,#3dffff 53px,#7bffff 59px,#89ffff 63px,#7fffff 65px,#20ffff 73px,#0effff 77px,#0ffffd 85px,#14fff4 87px,#16efdf 89px,#249a8a 91px,#92b5af 93px,#f0f5f3 95px,#fff 97px,#fff 235px,#f6fbf3 237px,#b3d898 239px,#79bb51 241px,#72b947 243px,#7ccb50 271px,#8adf5b 289px,#9df267 297px,#a7fd74 299px,#beff86 303px,#deffa6 307px,#f1ffbd 309px,#ffffe5 313px,#fff 319px,#fff 321px,#fffff6 323px,#ffffde 325px,#f7ffbb 327px,#ccff7f 331px,#b6f267 333px,#76972e 335px,#4b550c 337px,#434d0a 341px,#3f4d0e 347px,#3d5316 349px,#346e3b 351px,#24a785 353px,#22ba99 355px,#22b391 363px,#1c8568 387px,#104d3d 407px,#074d45 447px,#094f49 449px,#336e6a 451px,#d2dede 453px,#fff 455px,#fff 505px,#f3f5f3 507px,#dbe0d7 509px,#9ba991 511px,#69825a 513px,#4b6a39 515px,#406b2d 519px,#559244 541px,#73a862 545px,#d3e3cd 549px,#f3f7f2 551px,#fff 553px,#fff 691px,#e7f7f8 693px,#6ad0d4 695px,#0fb8bf 697px,#00bac1 699px,#01c1c3 703px,#09bfb7 717px,#0ba89d 735px,#0e8b7e 749px,#188d82 751px,#69b2aa 753px,#e3f0ee 755px,#fff 757px"></p><p style="--g:#fff 31px,#f1fcfc 33px,#10d3d6 37px,#03d4d9 39px,#16f3f7 47px,#31ffff 51px,#54ffff 55px,#6cffff 57px,#7bffff 59px,#81ffff 61px,#73ffff 65px,#3bffff 69px,#12ffff 73px,#08ffff 75px,#0dfffc 85px,#0dfcf5 87px,#15d8cb 89px,#458d83 91px,#dee9e7 93px,#fff 95px,#fff 235px,#fcfcfa 237px,#d8edcd 239px,#7ebe5f 241px,#6fb94c 243px,#71c554 261px,#77c852 267px,#86e060 287px,#98f26c 295px,#a1fd78 297px,#b7ff8b 301px,#cdffa0 303px,#d9ffac 305px,#efffc3 307px,#ffffeb 311px,#fff 315px,#fff 321px,#fffff2 323px,#faffd3 325px,#e5ffaa 327px,#ccff8c 329px,#b8fd78 331px,#a0df5d 333px,#526517 335px,#424e0b 337px,#3d4d0f 345px,#3c5317 347px,#326f3d 349px,#20a989 351px,#1cba9f 353px,#19baa2 357px,#1caa8f 369px,#177963 391px,#0d4d3f 407px,#054d48 447px,#155855 449px,#eef4f4 453px,#fff 455px,#fff 509px,#e7ebe5 513px,#5c7d4e 519px,#4e7440 521px,#497e3c 529px,#4c8641 533px,#5f9853 539px,#79a96e 541px,#b8d0b0 543px,#e1edde 545px,#f3f9f1 547px,#fff 551px,#fff 691px,#f9feff 693px,#cdeef1 695px,#2fbac6 697px,#03b4c0 699px,#00bfc4 705px,#03bebb 719px,#099a91 743px,#099087 747px,#108f87 749px,#43a49d 751px,#d0e7e6 753px,#f9fdfd 755px,#fff 757px"></p><p style="--g:#fff 31px,#faffff 33px,#c5f6f7 35px,#20d3da 37px,#04cfd8 39px,#0fe4ee 45px,#1af4fc 47px,#35ffff 51px,#6effff 57px,#7bffff 59px,#7effff 61px,#76ffff 63px,#4bffff 67px,#2dffff 69px,#0bffff 73px,#01ffff 77px,#08fffd 85px,#0af2ec 87px,#20a69d 89px,#99bfba 91px,#f4f8f7 93px,#fff 95px,#fff 237px,#eff9ec 239px,#93cb7e 241px,#6cbc56 243px,#6aba50 245px,#7cd75e 281px,#84e163 287px,#88e86c 289px,#93f372 293px,#a6ff84 297px,#d5ffb3 303px,#ecffca 305px,#fffff1 309px,#fff 311px,#fff 321px,#ebffbf 325px,#d1ff9c 327px,#b7ff82 329px,#aaf971 331px,#86c04c 333px,#495b14 335px,#3f4d0e 337px,#3a4f16 345px,#306533 347px,#1dab8c 349px,#13bcaa 351px,#15b5a1 361px,#16937d 381px,#0c4d42 407px,#034d4a 445px,#074f4d 447px,#326e6d 449px,#d1dede 451px,#fff 453px,#fff 513px,#e8ede5 519px,#aabda4 523px,#9ab394 525px,#7ea076 527px,#7ca375 531px,#82a87c 533px,#a9c6a4 535px,#c5d8c2 537px,#d3e2d0 539px,#ecf2ea 541px,#fff 545px,#fff 693px,#eef9fb 695px,#80d0d9 697px,#12b1bf 699px,#00b3c1 701px,#00bec4 711px,#02bebe 719px,#04a6a3 737px,#06918c 747px,#209894 749px,#acd9d6 751px,#f3f9f9 753px,#fff 755px"></p><p style="--g:#fff 33px,#e7fbfc 35px,#52dde4 37px,#0dcedc 39px,#07d3e0 41px,#1bf0fd 47px,#2bfdff 49px,#71ffff 57px,#7affff 59px,#78ffff 61px,#6cffff 63px,#21ffff 69px,#0effff 71px,#0ff 77px,#03fcfc 85px,#0eddd8 87px,#4e9791 89px,#e2ebea 91px,#fff 93px,#fff 237px,#f6fcf5 239px,#6ebd5f 243px,#67bb54 245px,#73d463 277px,#77d560 279px,#85e970 289px,#9dff86 295px,#ceffb7 301px,#e8ffd1 303px,#fffff5 307px,#fff 309px,#fff 319px,#fcffee 321px,#d1ffa8 325px,#b5ff8c 327px,#a7ff7b 329px,#9def6e 331px,#689536 333px,#435513 335px,#3c4d11 339px,#394d17 343px,#315d2c 345px,#1a9c81 347px,#0fbdab 349px,#10c0b1 351px,#12ae9c 367px,#108576 387px,#0a4d43 407px,#024d4b 445px,#145b5b 447px,#8daeae 449px,#eff4f4 451px,#fff 453px,#fff 519px,#eff4ee 529px,#f5f9f5 535px,#fff 541px,#fff 695px,#d1eef1 697px,#33b6c6 699px,#06aabf 701px,#00b4c4 707px,#00b7c1 717px,#00b7b9 725px,#00afb4 729px,#019f9e 741px,#029594 745px,#0d9593 747px,#62b9b8 749px,#e6f3f3 751px,#fff 753px"></p><p style="--g:#fff 33px,#f6fcfe 35px,#a3ecf3 37px,#1bcedf 39px,#0ad0e3 41px,#16e4f8 45px,#2efdff 49px,#65ffff 55px,#75ffff 57px,#79ffff 59px,#72ffff 61px,#60ffff 63px,#2cffff 67px,#09feff 71px,#0ff 77px,#00feff 83px,#02f6f5 85px,#21c0bd 87px,#add0ce 89px,#f6f9f9 91px,#fff 93px,#fff 237px,#f9fcf9 239px,#cfeacb 241px,#70bf65 243px,#62bb5a 245px,#6bcb60 267px,#78e06e 283px,#8bf67f 291px,#a4ff95 295px,#b1ffa4 297px,#f3ffe6 303px,#fefff9 305px,#fff 307px,#fff 317px,#fcfff8 319px,#efd 321px,#d2ffb6 323px,#b6ff98 325px,#a4ff84 327px,#9dfc7a 329px,#88d760 331px,#49651d 333px,#3c4e11 335px,#374d16 341px,#335928 343px,#199179 345px,#0abab2 347px,#08c2bb 349px,#0cb7ac 361px,#0f9586 381px,#074d47 407px,#014c4d 443px,#064e50 445px,#3c7578 447px,#dee7e8 449px,#fff 451px,#fff 695px,#f3fcfc 697px,#9fdae3 699px,#1aacc4 701px,#01a8c1 703px,#00b3c4 711px,#00b0bc 723px,#009fa4 739px,#069397 745px,#2fa4a6 747px,#c4e5e6 749px,#f9fcfc 751px,#fff 753px"></p><p style="--g:#fff 35px,#e1f9fc 37px,#41d7e5 39px,#0fcde5 41px,#15dff7 45px,#36fdff 49px,#42ffff 51px,#6bffff 55px,#75ffff 57px,#74ffff 59px,#69ffff 61px,#0ffeff 69px,#01f8ff 73px,#00faff 83px,#0cecf1 85px,#6bc3c3 87px,#e7f4f4 89px,#fff 91px,#fff 239px,#eaf7ea 241px,#76c573 243px,#5fbb5e 245px,#6bd56c 275px,#76e173 283px,#85f584 289px,#9aff97 293px,#d2ffd0 299px,#ebffe7 301px,#fafff8 303px,#fff 305px,#fff 317px,#f6ffee 319px,#b3ffa4 323px,#a0ff8d 325px,#99ff82 327px,#91f579 329px,#415718 333px,#394d14 335px,#374d17 339px,#355621 341px,#247f5c 343px,#07b7b1 345px,#00c3c1 347px,#08bcb5 357px,#06b8b2 361px,#09948c 381px,#054d48 407px,#014a4d 443px,#15585d 445px,#96b3b6 447px,#f3f6f7 449px,#fff 451px,#fff 697px,#e5f4f6 699px,#5fc0d3 701px,#0aa3c1 703px,#00a6c2 705px,#00aec2 717px,#00a4af 733px,#03929b 743px,#1b9aa1 745px,#96d1d3 747px,#f0f8f8 749px,#fff 751px"></p><p style="--g:#fff 35px,#f4fcff 37px,#99eaf5 39px,#1fcfe9 41px,#12d4f2 43px,#19defa 45px,#29f3ff 47px,#38feff 49px,#6dffff 55px,#73ffff 57px,#6effff 59px,#49ffff 63px,#18fbff 67px,#03f6ff 71px,#00f6ff 81px,#01eef9 83px,#21d1d8 85px,#c3e5e6 87px,#f9fcfc 89px,#fff 91px,#fff 239px,#f4faf4 241px,#9ed7a0 243px,#61be68 245px,#5abc63 247px,#67d570 275px,#78ea7f 285px,#90ff9a 291px,#c4ffcc 297px,#e1ffe7 299px,#fff 303px,#fff 315px,#f4fff6 317px,#d9ffd6 319px,#b5ffb2 321px,#9eff98 323px,#94ff8a 325px,#90fe86 327px,#84e776 329px,#4a7028 331px,#394f16 333px,#34501f 339px,#296e47 341px,#0ba9a5 343px,#00bcc1 345px,#02bcbf 353px,#02b3b1 365px,#058681 387px,#044f4c 405px,#00484d 441px,#064950 443px,#3c7279 445px,#dfe7e8 447px,#fff 449px,#fff 697px,#f8fcfe 699px,#c1e5ed 701px,#1fa2c4 703px,#02a0c1 705px,#00a8c2 717px,#00aabd 723px,#0094a0 741px,#1297a4 743px,#6abdc3 745px,#e4f4f5 747px,#fff 749px"></p><p style="--g:#fff 37px,#dff8fd 39px,#44d5f1 41px,#16cff1 43px,#1ee0fd 45px,#3cfeff 49px,#63ffff 53px,#6effff 55px,#6fffff 57px,#57ffff 61px,#21fdff 65px,#0ff6ff 67px,#01eaff 71px,#00efff 81px,#0ce3f2 83px,#6acace 85px,#eaf6f7 87px,#fff 89px,#fff 239px,#f9fcf9 241px,#c4e7c8 243px,#65c174 245px,#57bc67 247px,#5ac369 255px,#57c56f 257px,#5cc56b 259px,#5ccc72 265px,#5fce6e 267px,#6be27e 281px,#7df790 287px,#94ffab 291px,#a4ffb7 293px,#d1ffe5 297px,#fff 301px,#fff 313px,#f6fffc 315px,#dcffe3 317px,#b6ffbe 319px,#9effa3 321px,#8eff93 323px,#87f785 327px,#6ab85a 329px,#3d5b1f 331px,#354d18 333px,#324e1d 337px,#295f3a 339px,#129c97 341px,#03b3be 343px,#00b8c4 347px,#01b7bb 359px,#02a9a9 371px,#038785 387px,#014c4c 407px,#01454d 441px,#18545d 443px,#96b3b7 445px,#f3f6f7 447px,#fff 449px,#fff 699px,#eaf7fa 701px,#6abed5 703px,#0f9dc2 705px,#009dc3 707px,#00a3c1 719px,#009fb6 729px,#0093a5 739px,#0992a3 741px,#48adb9 743px,#d1ebee 745px,#f9feff 747px,#fff 749px"></p><p style="--g:#fff 37px,#effcff 39px,#7ce2f6 41px,#23d2f7 43px,#21defe 45px,#46fcff 49px,#6ff 53px,#6effff 55px,#6bffff 57px,#47ffff 61px,#32feff 63px,#19f3ff 65px,#0aeaff 67px,#00e8ff 73px,#00e9ff 79px,#02e1f9 81px,#21c9d8 83px,#c3e4e7 85px,#fafcfc 87px,#fff 89px,#fff 241px,#eaf6ed 243px,#7aca8b 245px,#53be70 247px,#53c470 255px,#5ed97e 275px,#6fec8b 283px,#80fc9b 287px,#99ffb8 291px,#c2ffe1 295px,#ddfff5 297px,#f8fffe 299px,#fff 301px,#fff 311px,#f6ffff 313px,#e2fff3 315px,#baffce 317px,#9dffb0 319px,#8bff9d 321px,#83ff94 323px,#84ff90 325px,#7dec81 327px,#4d7f39 329px,#37521c 331px,#314d1c 335px,#2c552a 337px,#148177 339px,#04a8b7 341px,#00aec4 343px,#00b8c3 351px,#00b1ba 361px,#00abaf 369px,#007477 393px,#004b4d 407px,#00444d 439px,#094953 441px,#527f87 443px,#e2e9ea 445px,#fff 447px,#fff 699px,#fafeff 701px,#ceeaf1 703px,#35a6c9 705px,#0696c1 707px,#009cc5 713px,#009ebc 725px,#048ea5 739px,#239caf 741px,#b5dfe4 743px,#f6fbfc 745px,#fff 747px"></p><p style="--g:#fff 37px,#f8fdff 39px,#b7effc 41px,#34d5fc 43px,#26dcfe 45px,#34f1ff 47px,#46fdff 49px,#69ffff 53px,#6dffff 55px,#65ffff 57px,#23f8ff 63px,#0feaff 65px,#02ddff 69px,#00e2ff 79px,#10d9f3 81px,#73ccd5 83px,#ecf6f8 85px,#fff 87px,#fff 241px,#f4fbf6 243px,#9fd9b0 245px,#55bf77 247px,#4fbf6f 249px,#58d882 273px,#68e88b 281px,#7effa6 287px,#9fffc5 291px,#b3ffdc 293px,#d2fff5 295px,#fff 299px,#fff 309px,#f7ffff 311px,#e2fffa 313px,#9fffbe 317px,#89ffa7 319px,#7eff9c 321px,#7cf991 325px,#68c76d 327px,#3a5f28 329px,#314d1b 331px,#315324 335px,#2d6951 337px,#0799ab 339px,#00a7c2 341px,#00afbe 357px,#009fa8 373px,#00777e 391px,#00494e 407px,#01424d 439px,#1b535f 441px,#acc2c6 443px,#f6f9f9 445px,#fff 447px,#fff 701px,#f3fafc 703px,#a9d9e8 705px,#1f9bc7 707px,#0493c3 709px,#009bc1 721px,#038ba9 737px,#1995b0 739px,#8acad7 741px,#ecf6f8 743px,#fff 745px"></p><p style="--g:#fff 39px,#e7fcff 41px,#67e0fd 43px,#30ddff 45px,#4afdff 49px,#68ffff 53px,#68ffff 55px,#5cffff 57px,#2ef9ff 61px,#0adeff 65px,#00dbff 71px,#00deff 77px,#03d6fa 79px,#2fc9e1 81px,#ceecef 83px,#fff 85px,#fff 241px,#fafcfc 243px,#cdedd8 245px,#5dc281 247px,#4abf77 249px,#4dce81 265px,#57d884 273px,#65ec96 281px,#78feaa 285px,#7fffb2 287px,#d7fffc 295px,#f3ffff 297px,#fff 299px,#fff 307px,#f9ffff 309px,#e4fffc 311px,#c3ffea 313px,#a1ffce 315px,#88ffb3 317px,#7dffa3 319px,#77ff9c 323px,#73f292 325px,#4e984e 327px,#335523 329px,#2f4d1f 331px,#325025 333px,#4b6b49 335px,#7dafae 337px,#16a0bd 339px,#00a0c1 341px,#00adc2 353px,#00a5bb 361px,#00a6b6 365px,#008893 383px,#00474d 407px,#00404d 437px,#094553 439px,#537c87 441px,#e4eced 443px,#fff 445px,#fff 703px,#ebf5f9 705px,#1594c7 709px,#0090c4 711px,#0094bc 727px,#008aaf 735px,#1291b1 737px,#6cbccd 739px,#e4f3f6 741px,#fff 743px"></p><p style="--g:#fff 39px,#f8ffff 41px,#b9f3ff 43px,#43e1ff 45px,#3eecff 47px,#53fcff 49px,#67ffff 53px,#63ffff 55px,#5ff 57px,#3cfaff 59px,#11e0ff 63px,#05d3ff 65px,#00d5ff 77px,#12d0f5 79px,#80cedb 81px,#eef8fa 83px,#fff 85px,#fff 243px,#eaf9ef 245px,#70cc96 247px,#49c07d 249px,#48c881 259px,#53da8c 273px,#5ee896 279px,#62f1a0 281px,#75ffb2 285px,#aaffe4 291px,#c6fffa 293px,#f6ffff 297px,#fff 299px,#fff 307px,#e8ffff 309px,#c7fff3 311px,#a1ffda 313px,#89ffbe 315px,#79ffad 317px,#6fffa4 321px,#71fea2 323px,#6ceb8f 325px,#3e7539 327px,#2f5023 329px,#2d4e22 331px,#415f3a 333px,#adbbab 335px,#d8e9eb 337px,#55b5d0 339px,#099cc2 341px,#009cc2 343px,#00a2c5 347px,#00a2b9 363px,#0098aa 373px,#00717e 391px,#00454d 407px,#013e4d 437px,#1b505f 439px,#acc0c6 441px,#f6f9f9 443px,#fff 445px,#fff 705px,#e0eff6 707px,#55acd6 709px,#0a8cc6 711px,#008ac4 713px,#0090c1 723px,#0086b3 733px,#0c8cb3 735px,#55aec9 737px,#ddeff4 739px,#fff 741px"></p><p style="--g:#fff 41px,#eafcff 43px,#78eeff 45px,#4aefff 47px,#55fcff 49px,#62ffff 51px,#65ffff 53px,#5dffff 55px,#34f2ff 59px,#1bdeff 61px,#0bd2ff 63px,#00ceff 69px,#00cfff 75px,#03ccfb 77px,#2fc9e8 79px,#d0ebf1 81px,#fff 83px,#fff 243px,#f4fcf7 245px,#4dc285 249px,#41c180 251px,#4dd78e 271px,#55e69a 277px,#6cffb3 283px,#86ffce 287px,#b7fff6 291px,#cff 293px,#eaffff 295px,#fff 297px,#fff 305px,#efffff 307px,#ccfffb 309px,#a3ffe7 311px,#87ffca 313px,#74ffb7 315px,#6bffae 317px,#6af9a2 323px,#5bc677 325px,#325e2c 327px,#2b4e23 329px,#31532c 331px,#748e72 333px,#e7ece7 335px,#f7fafb 337px,#c0e2ed 339px,#1f9cc5 341px,#0195c1 343px,#00a1c3 353px,#0099b4 367px,#007889 387px,#00444e 405px,#003c4d 435px,#094253 437px,#557d89 439px,#e4eced 441px,#fff 443px,#fff 705px,#f8fcfe 707px,#c1e0ef 709px,#2594cb 711px,#0486c4 713px,#0089ba 729px,#0184b6 731px,#0988b7 733px,#339ec1 735px,#c3e2ec 737px,#f8fcfd 739px,#fff 741px"></p><p style="--g:#fff 41px,#f9ffff 43px,#c2f9ff 45px,#61f6ff 47px,#57fcff 49px,#62ffff 51px,#62ffff 53px,#57ffff 55px,#41f7ff 57px,#13d4ff 61px,#02c3ff 65px,#00c8ff 75px,#12c8fa 77px,#82e2f7 79px,#eefbfe 81px,#fff 83px,#fff 245px,#d5f1e2 247px,#52c690 249px,#3fc183 251px,#44d291 267px,#52e9a2 277px,#59f0a7 279px,#61fcb5 281px,#7cffcb 285px,#8cffe1 287px,#bafffd 291px,#f1ffff 295px,#fff 297px,#fff 303px,#eff 305px,#d1fffd 307px,#a8fff1 309px,#89ffd9 311px,#74ffc4 313px,#69ffb5 315px,#66ffac 321px,#63ee9e 323px,#418f51 325px,#2c532a 327px,#2b4f29 329px,#446545 331px,#cad4ca 333px,#f9fbf9 335px,#fff 337px,#eaf5f9 339px,#6ab9d4 341px,#0c94c2 343px,#0094c3 345px,#009abd 361px,#00859e 379px,#004956 403px,#00404d 409px,#013b4e 435px,#1e5162 437px,#c0ced3 439px,#f7fbfc 441px,#fff 443px,#fff 707px,#f0f6fc 709px,#95c9e7 711px,#218fcb 713px,#0583c4 715px,#0087bf 725px,#0282bb 729px,#0f87bd 731px,#48a5c9 733px,#b7dceb 735px,#f3f9fb 737px,#fff 739px"></p><p style="--g:#fff 43px,#efffff 45px,#98fbff 47px,#62feff 49px,#5cffff 53px,#39edff 57px,#1ed5ff 59px,#0dc7ff 61px,#01c1ff 65px,#00c3ff 73px,#07c1fe 75px,#3fcef8 77px,#ddf6ff 79px,#fff 81px,#fff 245px,#eaf9f3 247px,#6cd0a5 249px,#3fc48b 251px,#3ac68b 255px,#42db9d 271px,#4be4a2 275px,#5ffebb 281px,#90ffeb 287px,#adfffb 289px,#f3ffff 295px,#fff 297px,#fff 301px,#efffff 303px,#d6ffff 305px,#affff9 307px,#8bffe9 309px,#72ffd0 311px,#64ffbf 313px,#5efcaf 321px,#54d68f 323px,#2f6335 325px,#274e27 327px,#375b3b 329px,#eff2f0 333px,#fff 335px,#fff 337px,#fafcfe 339px,#c3e2ed 341px,#2197c5 343px,#028ec2 345px,#0098c0 359px,#0091b8 365px,#0085a3 377px,#006077 393px,#003f4f 405px,#00394d 433px,#093f53 435px,#5d808f 437px,#e8ecee 439px,#fff 441px,#fff 709px,#ecf4f9 711px,#a0cfe9 713px,#3296cf 715px,#0a82c8 717px,#007fc4 721px,#0480be 727px,#1588c1 729px,#57abd1 731px,#cfe7f2 733px,#f6fbfc 735px,#fff 737px"></p><p style="--g:#fff 45px,#d8ffff 47px,#72ffff 49px,#57fcff 53px,#16c9ff 59px,#02b7ff 63px,#02bbff 73px,#1dc0f9 75px,#aae8fb 77px,#f5fcff 79px,#fff 81px,#fff 245px,#f2fcf8 247px,#92dcc0 249px,#3ec496 251px,#38c38e 253px,#3bd299 265px,#3bd9a2 269px,#41dc9f 271px,#4eefb0 277px,#61ffc6 281px,#81ffeb 285px,#adffff 289px,#e2ffff 293px,#f8ffff 295px,#fff 297px,#fff 299px,#d9ffff 303px,#b8fffe 305px,#8efff2 307px,#73ffda 309px,#58ffc0 313px,#59ffb8 319px,#58f4ab 321px,#3e9e66 323px,#28562e 325px,#2a532f 327px,#69876f 329px,#e4e9e4 331px,#fff 333px,#fff 339px,#ecf5fa 341px,#74bad9 343px,#108dc2 345px,#0089c3 347px,#008fc2 357px,#0089af 371px,#00627e 391px,#003d4f 405px,#01374d 433px,#1b4a5f 435px,#aebec6 437px,#f6f9f9 439px,#fff 441px,#fff 711px,#f3f8fc 713px,#cae4f3 715px,#4ea2d6 717px,#1b88cb 719px,#1083c7 721px,#1686c6 725px,#2e95cb 727px,#78bbdb 729px,#dfeff6 731px,#fafcfe 733px,#fff 735px"></p><p style="--g:#fff 45px,#f1ffff 47px,#a1ffff 49px,#66fdff 51px,#52f5ff 53px,#10bcff 59px,#01b5ff 63px,#00b7ff 71px,#0fb8fe 73px,#6ad3f9 75px,#e7f9ff 77px,#fff 79px,#fff 245px,#f9fcfc 247px,#c1eddd 249px,#46c79d 251px,#31c494 253px,#39d9a4 269px,#4bf3bb 277px,#63ffd4 281px,#85fff2 285px,#99fffe 287px,#b8ffff 289px,#e6ffff 293px,#f5ffff 295px,#f9ffff 297px,#d7ffff 301px,#96fffa 305px,#75ffe8 307px,#5fffd6 309px,#54ffc9 311px,#55fdb9 319px,#4fe19e 321px,#2c6d41 323px,#24512e 325px,#3a6144 327px,#b8c6bc 329px,#f8f9f8 331px,#fff 333px,#fff 341px,#d1e7f1 343px,#3a9acd 345px,#0585c1 347px,#008bc3 357px,#008bbc 363px,#0086b7 367px,#006d90 385px,#003b4f 405px,#00344d 431px,#0a3a53 433px,#547788 435px,#e4ebed 437px,#fff 439px,#fff 713px,#f9fcff 715px,#e5f2fa 717px,#bcdcf1 719px,#86c2e5 721px,#85c0e3 723px,#a7d2e9 725px,#deeff6 727px,#fff 731px"></p><p style="--g:#fff 47px,#dbffff 49px,#78f9ff 51px,#4ce9ff 53px,#2ed0ff 55px,#18c0ff 57px,#03aaff 61px,#00b0ff 69px,#07b1ff 71px,#3cc1fc 73px,#d0f0fe 75px,#f9ffff 77px,#fff 79px,#fff 247px,#e7f9f2 249px,#5dcfaf 251px,#2fc59b 253px,#31d3a3 265px,#3de8b7 273px,#43edb9 275px,#48f7c5 277px,#61ffdd 281px,#75fff1 283px,#9dffff 287px,#d2ffff 291px,#e4ffff 293px,#ecffff 295px,#e8ffff 297px,#d8ffff 299px,#9bffff 303px,#78fff6 305px,#5fffe0 307px,#51ffd0 309px,#4affc7 315px,#4bf7bb 319px,#3db57f 321px,#245b37 323px,#2c583a 325px,#75907e 327px,#eaeeec 329px,#fff 331px,#fff 341px,#f0f9fc 343px,#96c7e4 345px,#1586c4 347px,#0180c3 349px,#0086c2 359px,#0079a4 377px,#005d80 391px,#00384e 405px,#01334d 431px,#1f4a63 433px,#b6c5cc 435px,#f7f9fa 437px,#fff 439px,#fff 717px,#f1f8fc 721px,#f6fafc 725px,#fff 727px"></p><p style="--g:#fff 47px,#f6ffff 49px,#bdf9ff 51px,#55e0ff 53px,#29c2ff 55px,#11b1ff 57px,#01a7ff 61px,#04acff 69px,#21b6fe 71px,#a1e2fd 73px,#f3fcff 75px,#fff 77px,#fff 247px,#f3fcf9 249px,#35c7a1 253px,#28c8a0 255px,#30d8ac 267px,#3be9bb 273px,#3ef3c7 275px,#4afacc 277px,#64ffec 281px,#8affff 285px,#d3ffff 291px,#e3ffff 295px,#c1ffff 299px,#7cfffc 303px,#51ffdc 307px,#45ffd4 309px,#48fec7 317px,#45ebb2 319px,#2a7951 321px,#255537 323px,#4a7058 325px,#d3dcd7 327px,#fafcfb 329px,#fff 331px,#fff 343px,#dfeef5 345px,#3c93cc 347px,#057bc2 349px,#0080c2 359px,#007ebb 365px,#07a 375px,#004f70 395px,#00374e 405px,#00304d 429px,#0c3955 431px,#6a8696 433px,#e9eeef 435px,#fff 437px"></p><p style="--g:#fff 49px,#eefcff 51px,#9ee6ff 53px,#32bdff 55px,#10a8ff 57px,#049fff 59px,#04a4ff 67px,#1fafff 69px,#94dbff 71px,#ebf9ff 73px,#fff 75px,#fff 249px,#cff3e8 251px,#3eccac 253px,#25c7a4 255px,#22caa9 257px,#27cca5 259px,#2cddb7 269px,#3df5cc 275px,#53ffe6 279px,#67fff6 281px,#78fffd 283px,#93ffff 285px,#a5ffff 287px,#c0ffff 289px,#d8ffff 293px,#c3ffff 297px,#67fff9 303px,#4fffe9 305px,#42ffdc 307px,#40ffd1 311px,#43fac7 317px,#3bd19f 319px,#226141 321px,#335f45 323px,#a8bcb0 325px,#f3f6f4 327px,#fff 329px,#fff 343px,#f3f9fc 345px,#96c4e3 347px,#157dc3 349px,#0176c3 351px,#007dc1 361px,#00689b 381px,#004c71 395px,#00344f 405px,#012f4e 429px,#204865 431px,#c3cdd4 433px,#f9fcfc 435px,#fff 437px"></p><p style="--g:#fff 51px,#e7f7ff 53px,#77ceff 55px,#23abff 57px,#0b9eff 59px,#029bff 61px,#089eff 65px,#23acff 67px,#94d8ff 69px,#eaf9ff 71px,#fff 73px,#fff 249px,#eafaf8 251px,#68d7c2 253px,#26cbad 255px,#21cdad 259px,#25d6b3 265px,#2de6c2 271px,#3ef8d2 275px,#46ffe1 277px,#59fff4 279px,#7affff 283px,#acffff 287px,#cbffff 291px,#cff 293px,#c2ffff 295px,#8dffff 299px,#6affff 301px,#51fff5 303px,#3affdd 307px,#39ffd4 315px,#3af6c6 317px,#245e42 321px,#648775 323px,#e6ebe8 325px,#fff 327px,#fff 345px,#e0edf5 347px,#3f8dc8 349px,#0872c2 351px,#0074c5 355px,#0076ba 367px,#005e93 385px,#00324d 405px,#002d4d 427px,#0c3555 429px,#6a8397 431px,#eaedef 433px,#fff 435px"></p><p style="--g:#fff 53px,#e8f6ff 55px,#5dbdff 59px,#21a5ff 61px,#1ea6ff 63px,#4ab8ff 65px,#ace0ff 67px,#edf9ff 69px,#fff 71px,#fff 249px,#f6fcfc 251px,#a5e9dd 253px,#2eccb5 255px,#1ecaaf 257px,#1dd1b5 261px,#29e8ca 271px,#3afde0 275px,#58fffa 279px,#94ffff 285px,#adffff 287px,#c5ffff 291px,#abffff 295px,#6dffff 299px,#56fffd 301px,#3ffff0 303px,#33ffe8 305px,#36fed5 315px,#34eabf 317px,#237859 319px,#32664f 321px,#b5c6bf 323px,#f8f9f9 325px,#fff 327px,#fff 345px,#f5f9fc 347px,#aacce7 349px,#1b77c6 351px,#016bc3 353px,#0073c3 361px,#006aac 375px,#004770 395px,#002e4d 405px,#012b4e 427px,#204565 429px,#c3cdd4 431px,#fafcfc 433px,#fff 435px"></p><p style="--g:#fff 55px,#e9f6ff 59px,#cdebff 61px,#cdebff 63px,#e7f6ff 65px,#fff 69px,#fff 251px,#d8f7f0 253px,#41d1bf 255px,#19cbb7 257px,#19d9c3 265px,#21e3ca 269px,#38ffe8 275px,#4afff8 277px,#56fffe 279px,#9affff 285px,#b7ffff 289px,#aeffff 293px,#79ffff 297px,#57ffff 299px,#3ffffc 301px,#31ffef 303px,#2bffe5 307px,#30ffde 313px,#31f9d2 315px,#2abf9b 317px,#25654d 319px,#6e9283 321px,#e8eeec 323px,#fff 325px,#fff 347px,#e5eff8 349px,#5f9bd5 351px,#0969c5 353px,#0069c4 355px,#006cbc 367px,#005793 385px,#002e4d 405px,#00294d 425px,#0c3155 427px,#6a8197 429px,#eaecef 431px,#fff 433px"></p><p style="--g:#fff 251px,#edfcf9 253px,#73e0d4 255px,#1ccfbf 257px,#14cfbc 259px,#13d7c7 263px,#18d9c5 265px,#1de6d3 269px,#26eed8 271px,#2cfbe8 273px,#44fffe 277px,#9cffff 285px,#a9ffff 287px,#adffff 289px,#98ffff 293px,#7effff 295px,#5bffff 297px,#41ffff 299px,#26fff2 303px,#29ffe2 313px,#29edcc 315px,#22896d 317px,#407563 319px,#cadcd5 321px,#f9fcfb 323px,#fff 325px,#fff 347px,#f8fcfe 349px,#c1d7ee 351px,#1d6fc6 353px,#0161c4 355px,#0069c2 363px,#00599e 381px,#00294d 405px,#02284e 425px,#246 427px,#c3ccd5 429px,#fafbfc 431px,#fff 433px"></p><p style="--g:#fff 251px,#f6fcfc 253px,#aaece7 255px,#21d0c4 257px,#0fd1c3 259px,#14e0d3 267px,#2afbec 273px,#3afffb 275px,#46ffff 277px,#8ff 283px,#a4ffff 287px,#97ffff 291px,#80ffff 293px,#5fffff 295px,#30ffff 299px,#23fffb 301px,#21ffef 305px,#25ffe8 311px,#26f9de 313px,#21c6aa 315px,#266e5c 317px,#94b4aa 319px,#f0f4f3 321px,#fff 323px,#fff 349px,#e7eef9 351px,#548cd3 353px,#0961c5 355px,#005ec5 357px,#0062ba 369px,#004b8e 387px,#002b50 403px,#00254d 423px,#0f3157 425px,#eeeff2 429px,#fff 431px"></p><p style="--g:#fff 253px,#d5f7f5 255px,#29d4ca 257px,#0bd0c6 259px,#0cddd6 265px,#18eadf 269px,#1cf5ee 271px,#35ffff 275px,#94ffff 285px,#98ffff 287px,#93ffff 289px,#69ffff 293px,#32ffff 297px,#1bfffc 301px,#19fff7 307px,#1dffed 311px,#20f1d9 313px,#1e937d 315px,#497f71 317px,#dfe8e7 319px,#fff 321px,#fff 349px,#f6f9fc 351px,#acc7ea 353px,#1b65c6 355px,#0157c4 357px,#005ebf 367px,#004b94 385px,#00264e 403px,#01234e 423px,#223f65 425px,#cfd6dc 427px,#fff 429px"></p><p style="--g:#fff 253px,#eafbfa 255px,#56ded8 257px,#0ed3ce 259px,#08d9d5 263px,#0fe6e1 267px,#26fffd 273px,#5affff 279px,#74ffff 281px,#8effff 285px,#8fffff 287px,#85ffff 289px,#6fffff 291px,#37ffff 295px,#21ffff 297px,#15ffff 299px,#17fff5 309px,#19feee 311px,#1be9d2 313px,#277565 315px,#9bb9b2 317px,#f4f7f6 319px,#fff 321px,#fff 351px,#e4edf8 353px,#5488d3 355px,#0a57c5 357px,#0053c5 359px,#0058b9 371px,#00438d 387px,#00254e 403px,#00204d 421px,#0c2955 423px,#6a7c97 425px,#ebeff2 427px,#fff 429px"></p><p style="--g:#fff 253px,#f6fcfc 255px,#a3eeee 257px,#18d4d5 259px,#04d3d3 261px,#0ce5e6 267px,#26ffff 273px,#81ffff 283px,#83ffff 287px,#5cffff 291px,#24ffff 295px,#15ffff 297px,#0affff 303px,#0fffff 307px,#15f9eb 311px,#1cc4b3 313px,#549085 315px,#e3ebe8 317px,#fff 319px,#fff 351px,#f7fafc 353px,#b6caeb 355px,#1f60c7 357px,#014ec4 359px,#0054bd 369px,#004194 385px,#00224f 403px,#02204e 421px,#203965 423px,#c3cbd4 425px,#fafbfc 427px,#fff 429px"></p><p style="--g:#fff 255px,#e1fafa 257px,#39dadc 259px,#07d1d7 261px,#08dde2 265px,#1df9fe 271px,#4dffff 277px,#75ffff 281px,#80ffff 283px,#81ffff 285px,#78ffff 287px,#63ffff 289px,#2cffff 293px,#08ffff 297px,#08ffff 305px,#0cfffa 309px,#10ede3 311px,#2a9c90 313px,#b8d1ce 315px,#f7fbfa 317px,#fff 319px,#fff 353px,#e9effa 355px,#6a92d7 357px,#0c50c6 359px,#004ac5 361px,#004cc1 367px,#00429d 383px,#00214e 403px,#001d4d 419px,#0f2957 421px,#6a7a98 423px,#eaecef 425px,#fff 427px"></p><p style="--g:#fff 255px,#effcfc 257px,#77e4e8 259px,#0fd0da 261px,#06d3df 263px,#0ee3ed 267px,#1ef8ff 271px,#4ff 275px,#7ff 281px,#7effff 283px,#79ffff 285px,#51ffff 289px,#1effff 293px,#04ffff 297px,#03ffff 305px,#07ffff 307px,#09f9f6 309px,#15ccc5 311px,#6eaaa4 313px,#eaf0ef 315px,#fff 317px,#fff 353px,#f9fcfe 355px,#c3d0ee 357px,#2058c8 359px,#0146c5 361px,#0049bc 371px,#003c96 385px,#001d4d 403px,#031e4f 419px,#2e426b 421px,#cdd3dd 423px,#fafbfd 425px,#fff 427px"></p><p style="--g:#fff 255px,#faffff 257px,#c5f5f7 259px,#21d2dd 261px,#07cede 263px,#0edfed 267px,#18eafb 269px,#26faff 271px,#6dffff 279px,#78ffff 281px,#7affff 283px,#71ffff 285px,#43ffff 289px,#13ffff 293px,#02ffff 297px,#01fffe 307px,#06f0ee 309px,#26a29e 311px,#c4dcda 313px,#fafcfc 315px,#fff 317px,#fff 355px,#eaeefa 357px,#6a8dd7 359px,#0c46c6 361px,#003fc5 363px,#0043c0 369px,#003a9f 383px,#002c79 393px,#001f52 401px,#001a4d 409px,#00194d 417px,#0d2456 419px,#74809e 421px,#eceef3 423px,#fff 425px"></p><p style="--g:#fff 257px,#e9fbfc 259px,#5bddea 261px,#0fcce2 263px,#0bd4e8 265px,#28f8ff 271px,#4fffff 275px,#70ffff 279px,#78ffff 281px,#76ffff 283px,#68ffff 285px,#1dffff 291px,#05feff 295px,#00fbfc 307px,#0edbda 309px,#6caca9 311px,#eaf2f1 313px,#fff 315px,#fff 355px,#fafcfe 357px,#c3cfee 359px,#2050c9 361px,#013bc5 363px,#003fba 373px,#002f87 389px,#00194d 403px,#01184e 417px,#203465 419px,#c4c9d6 421px,#fafbfc 423px,#fff 425px"></p><p style="--g:#fff 257px,#f2fcfd 259px,#8fe8f0 261px,#18cce6 263px,#0ccfe8 265px,#13d9f4 267px,#21edfe 269px,#2bf6ff 271px,#3effff 273px,#6ff 277px,#75ffff 281px,#6fffff 283px,#5dffff 285px,#14feff 291px,#02f6ff 295px,#00f9ff 305px,#03ecf3 307px,#24b1b1 309px,#c4e4e3 311px,#fafcfc 313px,#fff 315px,#fff 357px,#eaeefa 359px,#6a87d7 361px,#0c3cc6 363px,#0036c5 365px,#0038b2 377px,#00287f 391px,#00194f 401px,#00154d 415px,#0c1e55 417px,#6a7597 419px,#eaebef 421px,#fff 423px"></p><p style="--g:#fff 257px,#faffff 259px,#c8f4f9 261px,#29d0e7 263px,#0fceed 265px,#22e9ff 269px,#33f9ff 271px,#69ffff 277px,#72ffff 279px,#70ffff 281px,#64ffff 283px,#1efdff 289px,#0cf6ff 291px,#00f4ff 297px,#00f6ff 303px,#00effc 305px,#12d7e0 307px,#80bcbc 309px,#eef5f5 311px,#fff 313px,#fff 357px,#fafcfe 359px,#c3cded 361px,#2046c3 363px,#012fc4 365px,#0035b8 375px,#002687 389px,#001550 401px,#01134e 415px,#203065 417px,#c3c7d4 419px,#fafafc 421px,#fff 423px"></p><p style="--g:#fff 259px,#ebfcfd 261px,#71dff1 263px,#1bcdf1 265px,#1ad9fb 267px,#36faff 271px,#5effff 275px,#6fffff 279px,#6bffff 281px,#5cffff 283px,#28ffff 287px,#08efff 291px,#00ecff 299px,#0ef 303px,#05e5f7 305px,#3cc8d1 307px,#ddf0f1 309px,#fff 311px,#fff 359px,#eaecf9 361px,#6a7ed0 363px,#0c32c3 365px,#002ec5 367px,#002cae 379px,#001962 397px,#00144e 401px,#00114d 413px,#0c1c55 415px,#6a7497 417px,#eaebef 419px,#fff 421px"></p><p style="--g:#fff 261px,#c7f3fd 263px,#31d3f5 265px,#1dd5fd 267px,#2deaff 269px,#39f6ff 271px,#4effff 273px,#6cffff 277px,#6dffff 279px,#51ffff 283px,#1ef9ff 287px,#0eebff 289px,#01e9ff 293px,#01e6ff 303px,#15def2 305px,#96d9de 307px,#f3fafa 309px,#fff 311px,#fff 359px,#fafbfc 361px,#c3caea 363px,#203dc3 365px,#0127c4 367px,#002ab6 377px,#001e7e 391px,#00114d 401px,#01104e 413px,#202d65 415px,#c3c6d4 417px,#fafafc 419px,#fff 421px"></p><p style="--g:#fff 261px,#ecfcff 263px,#78e4fd 265px,#2bd8fe 267px,#2eebff 269px,#40faff 271px,#61ffff 275px,#6affff 277px,#68ffff 279px,#45ffff 283px,#17edff 287px,#03ddff 291px,#00e2ff 301px,#06daf9 303px,#3ccad9 305px,#dff5f6 307px,#fff 309px,#fff 361px,#eaecf9 363px,#6a7bd8 365px,#0c2ac6 367px,#0023c5 369px,#0023b0 379px,#001980 391px,#001152 399px,#000d4d 407px,#000d4d 411px,#0c1855 413px,#6a7197 415px,#eaebef 417px,#fff 419px"></p><p style="--g:#fff 263px,#caf5ff 265px,#42deff 267px,#33e6ff 269px,#43f9ff 271px,#65ffff 275px,#69ffff 277px,#63ffff 279px,#3bfcff 283px,#1feeff 285px,#0edfff 287px,#01dbff 291px,#01d9fc 301px,#18cfed 303px,#96d4dc 305px,#f3f9fa 307px,#fff 309px,#fff 361px,#fafbfe 363px,#c3c9ef 365px,#2138c9 367px,#021ec5 369px,#001fb1 379px,#001888 389px,#000e52 399px,#000c4d 407px,#010b4e 411px,#202965 413px,#c3c5d4 415px,#fafafc 417px,#fff 419px"></p><p style="--g:#fff 263px,#edfcff 265px,#80ebff 267px,#41eaff 269px,#4af9ff 271px,#6ff 275px,#6ff 277px,#5bffff 279px,#45feff 281px,#17e3ff 285px,#03d0ff 289px,#00d5ff 299px,#0acff8 301px,#54c9dd 303px,#e2f4f7 305px,#fff 307px,#fff 363px,#ececfb 365px,#7380db 367px,#1025c6 369px,#0017c5 371px,#001cb9 377px,#00158b 389px,#000c51 399px,#000a4d 409px,#0c1455 411px,#6a6f97 413px,#eaebef 415px,#fff 417px"></p><p style="--g:#fff 263px,#f9ffff 265px,#c7faff 267px,#52ecff 269px,#4ff8ff 271px,#5fffff 273px,#65ffff 275px,#61ffff 277px,#3cf8ff 281px,#0fd4ff 285px,#05cdff 287px,#01cdff 299px,#1fcef6 301px,#b6e4ec 303px,#f7fcfc 305px,#fff 307px,#fff 365px,#ced3f2 367px,#2f3acd 369px,#0315c5 371px,#0015b5 379px,#000e73 393px,#000a51 399px,#01084e 409px,#202665 411px,#c3c4d4 413px,#fafafc 415px,#fff 417px"></p><p style="--g:#fff 265px,#eafeff 267px,#73f6ff 269px,#56f9ff 271px,#62ffff 275px,#5bffff 277px,#49f8ff 279px,#19d7ff 283px,#03c3ff 287px,#00c8ff 297px,#0cc8fd 299px,#6adcf9 301px,#e9f8fc 303px,#fff 305px,#fff 365px,#eeeefc 367px,#0f1bc8 371px,#000dc4 373px,#0011b6 379px,#000cae 381px,#000c7c 391px,#000b76 393px,#000857 397px,#00064d 401px,#00064d 407px,#0c1055 409px,#6a6d97 411px,#eaeaef 413px,#fff 415px"></p><p style="--g:#fff 265px,#f7ffff 267px,#b7fdff 269px,#68fdff 271px,#5fffff 273px,#5fffff 275px,#54fdff 277px,#3ef1ff 279px,#11c9ff 283px,#06c1ff 285px,#00c3ff 295px,#02c1ff 297px,#20c7f9 299px,#c3f0fd 301px,#f9feff 303px,#fff 305px,#fff 365px,#fafafe 367px,#c5c7f1 369px,#2127ca 371px,#020bc5 373px,#000bb1 381px,#00077e 391px,#00064d 399px,#01044e 407px,#202264 409px,#c3c4d4 411px,#fafafc 413px,#fff 415px"></p><p style="--g:#fff 267px,#ebffff 269px,#92ffff 271px,#6ff 273px,#4cf4ff 277px,#1dccff 281px,#05b8ff 285px,#0bf 295px,#0fbdfd 297px,#6bd7f9 299px,#eafaff 301px,#fff 303px,#fff 367px,#eaeafa 369px,#6a6cd9 371px,#0f10c8 373px,#0002c3 375px,#0008b3 381px,#00057f 391px,#000254 397px,#00014d 403px,#00014d 405px,#0c0d55 407px,#676794 409px,#eaeaef 411px,#fff 413px"></p><p style="--g:#fff 269px,#d3ffff 271px,#7bfeff 273px,#57f7ff 275px,#14bfff 281px,#08b5ff 283px,#00b6ff 291px,#08b6ff 295px,#3ec5f9 297px,#d0f1fe 299px,#faffff 301px,#fff 303px,#fff 367px,#fafaff 369px,#cdcdf2 371px,#2f2fca 373px,#0303c3 375px,#0002ab 383px,#00018a 389px,#000152 397px,#01024c 405px,#1b1b5e 407px,#aeaec6 409px,#f6f6f9 411px,#fff 413px"></p><p style="--g:#fff 269px,#f5ffff 271px,#b8fcff 273px,#5feeff 275px,#39d6ff 277px,#0eb6ff 281px,#01a8ff 285px,#04afff 293px,#22b7fc 295px,#b3e7fd 297px,#f6fcff 299px,#fff 301px,#fff 369px,#eeeefb 371px,#0f0fbe 375px,#0000ba 377px,#0000b3 381px,#000089 389px,#00004f 397px,#000049 403px,#0a0a4f 405px,#545486 407px,#e4e4ed 409px,#fff 411px"></p><p style="--g:#fff 271px,#ebfcff 273px,#88ebff 275px,#36cbff 277px,#19b5ff 279px,#02a8ff 283px,#03aaff 291px,#18b2ff 293px,#ebf9ff 297px,#fff 299px,#fff 369px,#fafafd 371px,#c5c5ee 373px,#2121bf 375px,#0101b9 377px,#0000b0 381px,#00009f 385px,#000068 393px,#00004d 397px,#010149 403px,#1f1f5e 405px,#b6b6cb 407px,#f7f7fa 409px,#fff 411px"></p><p style="--g:#fff 273px,#cff2ff 275px,#50cbff 277px,#1eb0ff 279px,#08a2ff 281px,#009fff 285px,#03a3ff 289px,#18abff 291px,#6dcdff 293px,#e2f6ff 295px,#fff 297px,#fff 371px,#eaeaf9 373px,#6a6acf 375px,#0c0cb3 377px,#0000ae 379px,#0000a5 383px,#000090 387px,#00007d 389px,#006 393px,#000052 395px,#000047 397px,#000046 401px,#0c0c4e 403px,#6a6a93 405px,#e9e9ef 407px,#fff 409px"></p><p style="--g:#fff 273px,#f7fdff 275px,#c9ecff 277px,#5dc3ff 279px,#18a5ff 281px,#099bff 283px,#039cff 285px,#0aa0ff 287px,#22acff 289px,#e3f4ff 293px,#fff 295px,#fff 371px,#fafafc 373px,#c3c3e9 375px,#2020b6 377px,#0101ad 379px,#0000a2 383px,#000062 393px,#000045 397px,#010145 401px,#20205b 403px,#c3c3d2 405px,#f9f9fc 407px,#fff 409px"></p><p style="--g:#fff 275px,#f9fcff 277px,#dff3ff 279px,#7dcaff 281px,#4db8ff 283px,#29a9ff 285px,#5fc0ff 287px,#b8e4ff 289px,#ecf7ff 291px,#fff 293px,#fff 373px,#eaeaf8 375px,#6a6ac9 377px,#0c0caa 379px,#0000a4 381px,#000096 385px,#00004b 395px,#000042 399px,#0c0c4a 401px,#67678e 403px,#eaeaef 405px,#fff 407px"></p><p style="--g:#fff 279px,#eff9ff 281px,#e4f4ff 285px,#fff 291px,#fff 373px,#fafafc 375px,#c3c3e7 377px,#2222ad 379px,#0202a1 381px,#000093 385px,#00006a 391px,#004 395px,#010140 399px,#1e1e54 401px,#b8b8cb 403px,#f9f9f9 405px,#fff 407px"></p><p style="--g:#fff 375px,#eeeef8 377px,#0f0fa3 381px,#000098 383px,#000085 387px,#000043 395px,#00003f 397px,#090944 399px,#54547c 401px,#e7e7ec 403px,#fff 405px"></p><p style="--g:#fff 377px,#cfcfea 379px,#2222a0 381px,#010194 383px,#00008f 385px,#000073 389px,#00003f 395px,#01013c 397px,#1d1d52 399px,#adadc1 401px,#f6f6f9 403px,#fff 405px"></p><p style="--g:#fff 377px,#ebebf7 379px,#6a6abc 381px,#0c0c98 383px,#00008c 385px,#00005f 391px,#000049 393px,#00003e 395px,#0c0c44 397px,#67678a 399px,#e7e7ed 401px,#fff 403px"></p><p style="--g:#fff 377px,#fafafc 379px,#c3c3e3 381px,#202099 383px,#020287 385px,#00007d 387px,#004 393px,#010139 395px,#1e1e4d 397px,#b8b8c9 399px,#f9f9f9 401px,#fff 403px"></p><p style="--g:#fff 379px,#eaeaf6 381px,#6a6aba 383px,#0f0f8d 385px,#000079 387px,#000041 393px,#09093d 395px,#545477 397px,#e7e7eb 399px,#fff 401px"></p><p style="--g:#fff 379px,#fafafd 381px,#cdcde7 383px,#2e2e94 385px,#030376 387px,#000067 389px,#010139 393px,#1b1b48 395px,#acacbe 397px,#f6f6f9 399px,#fff 401px"></p><p style="--g:#fff 381px,#ececf6 383px,#7474b7 385px,#0d0d7d 387px,#000061 389px,#00004d 391px,#09093b 393px,#535374 395px,#e4e4eb 397px,#fff 399px"></p><p style="--g:#fff 381px,#fafafc 383px,#c4c4de 385px,#202082 387px,#010160 389px,#01014c 391px,#1b1b49 393px,#acacbd 395px,#f6f6f9 397px,#fff 399px"></p><p style="--g:#fff 383px,#eaeaf3 385px,#6a6aa9 387px,#0c0c6a 389px,#0a0a48 391px,#557 393px,#e4e4eb 395px,#fff 397px"></p><p style="--g:#fff 383px,#fafafc 385px,#c3c3dc 387px,#232370 389px,#20205f 391px,#c0c0ce 393px,#f7f7fb 395px,#fff 397px"></p><p style="--g:#fff 385px,#eaeaf2 387px,#7474a1 389px,#666697 391px,#e9e9ef 393px,#fff 395px"></p><p style="--g:#fff 385px,#fafafc 387px,#b2b2cb 391px,#f5f5f8 393px,#fff 395px"></p><p style="--g:#fff 389px,#f6f6f9 391px,#fff 393px"></p></div>
<div class="s" style="left:99px;top:493px;width:780px"><p style="--g:#fff 413px,#f9f6f6 419px,#f5f1f1 449px,#f9f6f6 471px,#fff 475px"></p><p style="--g:#fff 397px,#f8f2f2 401px,#ece1e1 413px,#d1b3b3 417px,#ccafaf 421px,#b18383 425px,#ab8383 461px,#b48f8f 463px,#caacac 465px,#cdb3b3 471px,#eae1e1 475px,#fcfafa 495px,#fff 497px"></p><p style="--g:#fff 383px,#f0e4e4 393px,#efe1e1 395px,#e6d4d4 397px,#be8f8f 401px,#aa7171 405px,#822b2b 409px,#781e1e 411px,#6a0f0f 427px,#651111 463px,#6d1e1e 479px,#965d5d 485px,#aa7a7a 487px,#b18585 491px,#cbafaf 493px,#eae1e1 497px,#fff 511px"></p><p style="--g:#fff 371px,#efdede 383px,#dbbbbb 385px,#be8585 387px,#b27171 389px,#852b2b 393px,#821e1e 395px,#6e0202 411px,#610202 479px,#6f1c1c 497px,#742222 499px,#8d4c4c 501px,#b28383 505px,#cdadad 507px,#d9c0c0 509px,#ecdede 511px,#fff 521px"></p><p style="--g:#fff 191px,#f9f6f6 197px,#f6f2f2 225px,#fcf9f9 235px,#fff 237px,#fff 363px,#f2e4e4 371px,#d8afaf 375px,#aa5050 379px,#8f1e1e 383px,#7c0303 393px,#670202 499px,#782121 511px,#9e5f5f 515px,#c09595 517px,#e6d4d4 521px,#f2e7e7 523px,#fff 529px,#fff 689px,#f9f6f6 693px,#fff 699px"></p><p style="--g:#fff 169px,#eee3e3 187px,#ebe1e1 191px,#d1b3b3 195px,#cbafaf 201px,#b08383 205px,#ad8383 223px,#b68f8f 225px,#caacac 227px,#cdb3b3 233px,#d7c0c0 235px,#eadede 237px,#fcfafa 255px,#fff 257px,#fff 345px,#f9f6f6 349px,#f9f6f6 357px,#f2e6e6 361px,#e9d4d4 363px,#c88b8b 367px,#b15d5d 369px,#941b1b 373px,#840202 383px,#6d0101 509px,#781515 519px,#7e1f1f 521px,#984b4b 523px,#aa6c6c 525px,#ecdede 529px,#f5ecec 531px,#fff 537px,#fff 655px,#f6f1f1 661px,#ede3e3 679px,#ede3e3 687px,#e9dddd 689px,#d0b6b6 691px,#ccb1b1 695px,#d0b6b6 697px,#e8dddd 699px,#ede3e3 705px,#efe7e7 715px,#f9f8f8 737px,#fff 739px"></p><p style="--g:#fff 155px,#f1e7e7 167px,#ecdddd 169px,#d6b6b6 171px,#d0afaf 173px,#b68383 177px,#b07a7a 179px,#985454 181px,#924c4c 183px,#781e1e 187px,#6a0f0f 209px,#671111 225px,#6c1c1c 239px,#702222 241px,#894949 243px,#8e5050 245px,#a97d7d 249px,#b08585 251px,#caafaf 253px,#eae1e1 257px,#fff 269px,#fff 315px,#f9f6f6 319px,#ede3e3 341px,#e8dddd 345px,#cfb6b6 347px,#c8abab 357px,#b37d7d 359px,#944444 361px,#7f1e1e 363px,#720505 371px,#6b0000 401px,#680000 419px,#740000 425px,#730000 435px,#7d0000 439px,#740202 521px,#7e1616 527px,#8c2c2c 529px,#ab6363 531px,#b98282 533px,#d0a7a7 535px,#eddede 537px,#fff 543px,#fff 639px,#f2eaea 651px,#e3d4d4 655px,#d1b5b5 657px,#ceabab 659px,#b68585 661px,#ae7a7a 665px,#9c5d5d 667px,#8e4949 671px,#7c2b2b 673px,#711e1e 675px,#691616 697px,#6a1c1c 709px,#6c1e1e 713px,#884c4c 717px,#8d5353 723px,#a07171 725px,#aa7d7d 727px,#ad8585 731px,#c1a2a2 733px,#ccafaf 735px,#ceb6b6 737px,#e3d4d4 739px,#ece1e1 741px,#f9f6f6 753px,#fff 755px"></p><p style="--g:#fff 17px,#f9f6f6 21px,#edeaea 39px,#e7e3e3 55px,#eeeaea 63px,#efeaea 75px,#f4f1f1 83px,#fcfafa 97px,#fff 99px,#fff 147px,#f7f0f0 151px,#eee1e1 155px,#d5afaf 159px,#8e3535 167px,#811e1e 169px,#7a1515 173px,#6b0101 191px,#610202 241px,#712222 259px,#8a4c4c 261px,#ae8383 265px,#c8a7a7 267px,#e9dcdc 269px,#fff 281px,#fff 297px,#f2eaea 307px,#ece1e1 313px,#e1d4d4 315px,#cfb6b6 317px,#c3a2a2 321px,#b18585 323px,#a97a7a 327px,#905454 329px,#884949 335px,#6d2222 337px,#691c1c 343px,#621515 357px,#580202 363px,#530000 425px,#530000 443px,#5f0000 447px,#630000 453px,#7f0000 469px,#7f0000 503px,#7e0303 529px,#851616 535px,#922c2c 537px,#eddddd 543px,#fff 549px,#fff 629px,#eedede 639px,#ddc0c0 641px,#d2adad 643px,#bb8585 645px,#b57b7b 647px,#a45d5d 649px,#994a4a 651px,#802222 653px,#771515 657px,#650101 679px,#610505 715px,#6d1b1b 739px,#6e1e1e 741px,#782b2b 743px,#8c4a4a 745px,#915454 747px,#ab7d7d 749px,#e3d4d4 755px,#f2eaea 759px,#fff 769px"></p><p style="--g:#fff 5px,#f4f0f0 9px,#e8e2e2 15px,#ddd5d5 17px,#c3b6b6 19px,#baacac 23px,#9c8686 25px,#937a7a 29px,#7a5d5d 31px,#6e5050 33px,#684949 45px,#482222 47px,#421c1c 53px,#451e1e 55px,#6a4c4c 59px,#734e4e 65px,#764e4e 73px,#7c5454 75px,#987a7a 77px,#a28383 85px,#ad8f8f 87px,#c2acac 89px,#c8b3b3 95px,#e7e1e1 99px,#fff 123px,#fff 137px,#f8f0f0 141px,#f2e1e1 145px,#e9d0d0 147px,#ce9d9d 149px,#bb7d7d 151px,#8b2222 155px,#851515 159px,#770101 171px,#610202 259px,#6b1414 267px,#7a2b2b 271px,#a57171 275px,#b38585 277px,#d4bbbb 279px,#ecdede 281px,#f7f1f1 287px,#f1e3e3 295px,#e6d4d4 297px,#d5b5b5 299px,#d0adad 301px,#985252 307px,#934a4a 309px,#802b2b 311px,#761e1e 313px,#640909 331px,#5c0101 347px,#540000 451px,#560000 469px,#840000 485px,#860000 513px,#850303 537px,#932222 543px,#ecd5d5 549px,#f9efef 551px,#fff 555px,#fff 619px,#f2e1e1 627px,#e9d4d4 629px,#c48b8b 633px,#a65d5d 635px,#8a2121 639px,#7f1010 645px,#740101 655px,#650303 743px,#721c1c 755px,#7d2b2b 757px,#d0b0b0 765px,#f0e7e7 769px,#fff 775px"></p><p style="--g:#fff 3px,#e8e1e1 5px,#bdafaf 7px,#ac9898 9px,#8a6d6d 11px,#5b3333 15px,#4e2525 19px,#4b2121 23px,#441717 25px,#380909 35px,#360707 45px,#310101 53px,#380909 65px,#390909 75px,#411515 89px,#501818 97px,#551e1e 101px,#622b2b 103px,#7c4949 105px,#845454 109px,#a17a7a 111px,#a88585 115px,#c4abab 117px,#cbb3b3 119px,#eae1e1 123px,#f2eded 129px,#f6efef 133px,#f4e7e7 135px,#ead2d2 137px,#d29d9d 139px,#b05858 143px,#952323 145px,#820202 155px,#6b0000 247px,#640303 271px,#781e1e 281px,#893a3a 283px,#ad6f6f 285px,#bd8787 287px,#b87d7d 289px,#9e4c4c 293px,#8b2b2b 295px,#7c1515 299px,#6c0101 315px,#580000 439px,#580000 479px,#5a0000 485px,#8a0000 501px,#8d0000 531px,#8b0202 543px,#951414 547px,#a53a3a 549px,#ca8a8a 551px,#e6c6c6 553px,#f2e4e4 555px,#fff 561px,#fff 609px,#f4e4e4 617px,#ebd1d1 619px,#b15858 625px,#972323 627px,#850606 637px,#7c0000 661px,#6c0404 757px,#853131 767px,#b07b7b 771px,#f5eded 775px,#fff 777px"></p><p style="--g:#fff 5px,#eee9e9 11px,#e0d9d9 13px,#c4b6b6 15px,#beacac 17px,#9f8686 19px,#987f7f 21px,#755151 25px,#6f4949 27px,#512222 29px,#380202 43px,#390303 103px,#460e0e 111px,#5e1818 121px,#652222 123px,#814949 125px,#875050 127px,#a77d7d 131px,#af7a7a 133px,#8d1f1f 137px,#8e0e0e 141px,#8a0101 147px,#790000 233px,#6a0000 273px,#7e0606 283px,#851010 287px,#780101 299px,#5f0000 443px,#590000 493px,#5e0000 499px,#910000 511px,#950000 533px,#930101 547px,#a01b1b 553px,#ac3939 555px,#c67575 557px,#e2baba 559px,#f6e8e8 561px,#fff 565px,#fff 601px,#f2dede 609px,#dba7a7 611px,#bc6363 615px,#a62f2f 617px,#9d1b1b 619px,#8f0202 627px,#740202 749px,#7d1515 757px,#821f1f 759px,#994b4b 761px,#a55e5e 763px,#caa4a4 767px,#d8bbbb 769px,#f1e8e8 771px,#fff 775px"></p><p style="--g:#fff 13px,#eeeaea 25px,#e8e1e1 29px,#ddd4d4 31px,#a98f8f 35px,#987a7a 37px,#785050 39px,#531e1e 43px,#410909 51px,#3b0000 59px,#3c0101 121px,#5b0e0e 131px,#5b0101 139px,#8b0000 151px,#910000 171px,#7f0000 241px,#700 263px,#860000 273px,#790000 309px,#720000 369px,#5d0000 505px,#5f0000 509px,#910000 519px,#9f0000 531px,#9b0202 553px,#a10d0d 557px,#a7201f 559px,#dba5a5 563px,#efdddd 565px,#f3ebeb 567px,#f3f0f0 575px,#eeeaea 585px,#ede9e9 599px,#eadddd 601px,#c47676 605px,#a62b2b 609px,#9e1616 611px,#9a0202 619px,#7e0202 739px,#871818 747px,#8c2222 749px,#b97d7d 753px,#e7d4d4 759px,#f2e7e7 761px,#fff 771px"></p><p style="--g:#fff 31px,#efeaea 39px,#e6dede 43px,#cbbbbb 45px,#a38585 47px,#937171 49px,#602b2b 53px,#521818 55px,#410202 65px,#3f0000 129px,#580000 141px,#5f0000 151px,#910000 161px,#900 179px,#800 245px,#800 257px,#8d0000 265px,#850000 279px,#720000 283px,#6b0000 293px,#5d0000 295px,#5a0000 309px,#6e0000 313px,#6f0000 327px,#7a0000 333px,#790000 383px,#5f0000 515px,#680000 521px,#9c0000 529px,#a40000 543px,#970302 559px,#8a1414 563px,#8c2222 565px,#995858 567px,#987a7a 569px,#988080 573px,#957d7d 575px,#725050 579px,#704e4e 597px,#6f4949 599px,#622020 601px,#6e0d0d 605px,#6c0101 611px,#7f0000 615px,#820000 617px,#930000 619px,#a10000 643px,#880202 731px,#8f1212 737px,#931e1e 739px,#a54444 741px,#be7a7a 743px,#c89292 745px,#e2c5c5 747px,#efe1e1 749px,#f9f3f3 755px,#fff 759px"></p><p style="--g:#fff 43px,#e7e0e0 53px,#c8b5b5 55px,#baa2a2 57px,#855959 61px,#642e2e 63px,#581c1c 65px,#470505 77px,#430000 137px,#5a0000 147px,#610000 161px,#8b0000 169px,#9b0000 173px,#a00000 193px,#930000 257px,#7b0000 263px,#6b0000 265px,#4c0000 273px,#3c0000 275px,#340000 309px,#370000 325px,#450000 339px,#540000 343px,#560000 347px,#600 351px,#680000 355px,#7f0000 365px,#7c0000 413px,#640000 507px,#640000 525px,#6c0000 531px,#9d0500 539px,#930500 543px,#710200 547px,#630200 551px,#540100 555px,#420000 557px,#3e0202 565px,#400f0f 571px,#3b0909 591px,#3c0707 599px,#3e0000 613px,#450000 623px,#6f0000 629px,#8a0000 635px,#9d0000 637px,#a90000 653px,#920202 723px,#981313 729px,#9d1f1f 731px,#c57d7d 735px,#d19b9b 737px,#e4c8c8 739px,#f2e6e6 741px,#fff 749px"></p><p style="--g:#fff 53px,#ebe4e4 63px,#dfd4d4 65px,#a07d7d 71px,#835454 73px,#7d4c4c 75px,#5e1e1e 79px,#510e0e 107px,#470101 119px,#480000 145px,#5d0000 153px,#650000 171px,#780000 175px,#9e0100 181px,#a90100 197px,#a00000 243px,#980000 247px,#540000 257px,#410000 259px,#300 281px,#380000 351px,#500 367px,#5f0000 371px,#6b0000 373px,#840000 385px,#840000 421px,#6e0000 501px,#5e0000 529px,#430000 543px,#380000 565px,#3e0000 625px,#4a0000 637px,#710000 643px,#a60000 649px,#af0000 663px,#9b0202 715px,#a01212 721px,#a62121 723px,#bb5858 725px,#d79d9d 729px,#ecd2d2 731px,#f5e7e7 733px,#fff 741px"></p><p style="--g:#fff 65px,#f6f3f3 69px,#eae3e3 81px,#e9e1e1 85px,#e0d4d4 87px,#cab6b6 89px,#c7afaf 99px,#bda2a2 101px,#a98585 103px,#a07a7a 107px,#865454 109px,#814c4c 111px,#611f1e 115px,#4b0202 131px,#4c0000 151px,#610000 159px,#670000 179px,#6a0000 181px,#a20600 191px,#ae0a00 207px,#aa0400 233px,#9d0000 239px,#920000 241px,#5e0000 245px,#400 249px,#380000 263px,#390000 365px,#500 379px,#5d0000 385px,#700000 389px,#7d0000 393px,#890000 397px,#8d0000 417px,#780000 499px,#680000 519px,#6b0000 521px,#600000 525px,#520000 527px,#3d0000 533px,#430000 641px,#510000 649px,#680000 653px,#960000 657px,#ac0000 661px,#b00000 679px,#a40303 707px,#ac1f1f 715px,#bc4b4b 717px,#c66969 719px,#edd3d3 723px,#f7e9e9 725px,#fff 731px"></p><p style="--g:#fff 87px,#f9f6f6 91px,#f9f6f6 101px,#ebe1e1 115px,#e0d4d4 117px,#cbb6b5 119px,#c5acab 121px,#a98585 123px,#9b7171 125px,#6b2e2b 129px,#5c1815 133px,#4d0401 143px,#500100 157px,#600 163px,#680000 185px,#7a0200 193px,#a00a00 201px,#ad1000 209px,#ad0b00 219px,#a10000 231px,#960000 233px,#5d0000 237px,#4b0000 239px,#3d0000 249px,#3d0000 377px,#4f0000 385px,#5a0000 397px,#6d0000 401px,#710000 403px,#8c0000 407px,#950000 425px,#820000 497px,#790000 511px,#6e0000 515px,#520000 519px,#400 523px,#400 611px,#480000 653px,#560000 661px,#810000 665px,#970101 669px,#aa0101 671px,#ab0505 693px,#ac0e0e 701px,#af1b1b 705px,#b62e2e 707px,#eed2d2 715px,#f7e7e7 717px,#fff 723px"></p><p style="--g:#fff 117px,#e8dedd 131px,#cbb5b3 133px,#b59795 135px,#8f635f 137px,#622621 141px,#510c06 149px,#500500 161px,#570400 165px,#680100 169px,#6d0000 193px,#9f0300 219px,#9c0100 223px,#920100 225px,#600 229px,#480000 235px,#410000 243px,#400000 393px,#4d0000 401px,#580000 407px,#760000 413px,#8e0000 417px,#9b0000 423px,#950000 479px,#800 503px,#790101 507px,#4b0101 513px,#450000 531px,#4c0202 655px,#651515 671px,#6d1515 673px,#8c1c1c 677px,#a11c1c 687px,#ab1c1c 689px,#ac1e1e 691px,#bf4c4c 695px,#c05050 697px,#c55d5d 699px,#dd9d9d 703px,#efd0d0 705px,#f6e4e4 707px,#fff 715px"></p><p style="--g:#fff 131px,#eae1e1 141px,#d8c8c5 143px,#885a54 147px,#79463f 149px,#60251e 151px,#531409 155px,#4e0a00 165px,#550900 169px,#6a0200 173px,#710200 199px,#8f0600 217px,#790300 221px,#600100 223px,#510000 225px,#450000 237px,#480202 317px,#4d0909 323px,#470300 331px,#400 409px,#560000 417px,#6c0000 421px,#8c0000 425px,#a00000 431px,#a50000 451px,#9c0000 491px,#930101 497px,#640909 503px,#5b0e0e 505px,#5c1c1b 513px,#4c0802 521px,#4c0100 559px,#4f0503 641px,#5f1c1b 653px,#642322 655px,#7f4949 657px,#865352 659px,#9b7171 661px,#a98383 665px,#bd9999 667px,#c7afaf 669px,#ccb4b3 673px,#eee1e1 677px,#f6e7e7 693px,#fcf4f4 703px,#fff 705px"></p><p style="--g:#fff 141px,#ece7e5 149px,#d8c9c6 151px,#885d54 155px,#79493f 157px,#60291e 159px,#531506 163px,#500e00 173px,#6e0300 181px,#6c0700 199px,#780800 211px,#6a0400 215px,#520000 219px,#4a0000 231px,#4d0202 297px,#611e1e 317px,#7f4c4c 321px,#7f4c4c 323px,#5f201b 327px,#4c0f01 333px,#4c0a02 347px,#5e1b1b 355px,#540f0f 367px,#490101 379px,#480000 419px,#5a0000 427px,#9d0400 437px,#ab0500 451px,#a80600 481px,#9f0301 489px,#7a0909 493px,#691515 497px,#681e1e 499px,#804141 501px,#a57e7e 505px,#cab3b3 509px,#e7dddd 511px,#e8e1e0 513px,#d7c7c5 515px,#ae928a 517px,#7e5546 519px,#63321e 521px,#521702 527px,#4d0e00 541px,#4d0601 557px,#4f0802 631px,#5d1e18 639px,#6b2e2b 641px,#84514c 643px,#a98583 647px,#c6adab 649px,#d0b7b5 651px,#e5d5d4 653px,#efe9e9 657px,#fcfafa 675px,#fff 677px"></p><p style="--g:#fff 149px,#ece7e5 157px,#d8c9c6 159px,#ae938a 161px,#7d5446 163px,#632f1e 165px,#521502 171px,#501300 179px,#680a00 185px,#6a0800 187px,#630800 189px,#640900 203px,#580400 209px,#4d0200 221px,#500703 285px,#622321 297px,#79423f 299px,#9b6867 303px,#bea3a2 307px,#cfb6b6 311px,#e4d5d4 313px,#ebe1e1 315px,#efeaea 323px,#ebe4e4 325px,#d8c9c6 327px,#ac948a 329px,#76503b 331px,#5e3118 333px,#512106 337px,#4d1d01 341px,#582a10 345px,#61361e 347px,#7c5744 349px,#9f8376 351px,#cfbeb9 353px,#e9dede 355px,#eae1e1 357px,#e3d4d4 359px,#ceb6b6 361px,#bea3a2 365px,#986867 369px,#78403f 373px,#622321 375px,#540d0c 383px,#4c0201 391px,#4c0000 429px,#570000 435px,#760300 441px,#940800 445px,#a70a00 451px,#ab0b00 471px,#a10600 479px,#8d0402 483px,#6f1918 489px,#6d2423 491px,#b58a8a 495px,#e1d4d4 499px,#eee6e6 501px,#fff 511px,#fff 513px,#eee8e7 519px,#dfd6d2 521px,#683921 527px,#58240c 531px,#4f1b01 535px,#4e1801 547px,#5f2618 553px,#5e2118 557px,#4f0c02 563px,#500d02 623px,#5c1f15 629px,#642a21 631px,#8a5e58 633px,#a6827d 635px,#ccb7b4 639px,#e9e0e0 641px,#f3eeed 645px,#fff 653px"></p><p style="--g:#fff 157px,#eee8e7 163px,#dfd6d2 165px,#683622 171px,#541b03 177px,#501000 193px,#510b02 199px,#561009 203px,#4d0700 213px,#4e0a02 275px,#5d1f18 283px,#6b2f2b 285px,#83514c 287px,#a98683 291px,#c6b1af 293px,#eae1e1 297px,#f9f6f6 309px,#fff 313px,#fff 325px,#f6f3f2 329px,#e9e5e2 331px,#c7b9ae 333px,#977e6a 335px,#5b320e 339px,#5b3110 341px,#785235 343px,#ae9888 345px,#dccfc5 347px,#ece8e6 349px,#fff 355px,#fff 359px,#f9f6f6 363px,#eae1e1 375px,#c6b0af 379px,#a98583 381px,#83504c 385px,#6b2f2b 387px,#5a1713 391px,#4d0501 399px,#510100 441px,#5d0200 447px,#800500 455px,#8c0b00 459px,#8d0700 467px,#8a0600 469px,#7c0600 471px,#6d0803 477px,#650f0c 479px,#661814 481px,#722622 483px,#ba9797 487px,#ddc8c7 489px,#eae1e1 491px,#fff 499px,#fff 521px,#f1ebe9 525px,#e1d7d3 527px,#c1ada2 529px,#70462c 533px,#5e3114 535px,#4f2002 539px,#4f2003 543px,#5d3116 547px,#765039 549px,#a58778 551px,#ddd1cd 553px,#e9e0de 555px,#d8c8c5 557px,#855950 561px,#632b1f 563px,#501103 569px,#4f1102 615px,#602518 621px,#6e3223 623px,#8c6459 625px,#b3918a 627px,#e1d7d4 631px,#f0e9e9 633px,#fff 641px"></p><p style="--g:#fff 165px,#e7dfdd 171px,#71452d 177px,#613218 179px,#511f03 183px,#4e1b01 193px,#56240c 197px,#62321e 199px,#875e53 201px,#8b5f58 203px,#815149 205px,#63291f 207px,#500e03 213px,#4f0e02 267px,#5a1d13 273px,#63291f 275px,#81524a 277px,#946760 279px,#b59995 281px,#cbb7b4 283px,#e9e0e0 285px,#f2eeed 289px,#fff 297px,#fff 329px,#fdfcfa 331px,#eee1d1 335px,#dec19f 337px,#ad7b44 339px,#ac865d 341px,#cbbaa4 343px,#e9e3da 345px,#f6f3ee 347px,#fff 351px,#fff 375px,#ebe4e3 387px,#ded3d0 389px,#b9a09d 391px,#a6827e 393px,#8a5d58 395px,#642921 397px,#581910 401px,#4f0b02 405px,#500600 451px,#560801 469px,#5b140d 473px,#642018 475px,#74342d 477px,#966b67 479px,#e8dedd 483px,#f7f3f3 487px,#fff 491px,#fff 527px,#f2efed 531px,#e8e1dc 533px,#623715 539px,#582e09 541px,#623a1c 543px,#9a806d 545px,#e9e3e0 549px,#fff 553px,#fff 555px,#efe9e7 561px,#dfd5d2 563px,#8d685d 567px,#6b3c2c 569px,#5b2716 571px,#4f1502 575px,#501603 609px,#5a2312 613px,#633121 615px,#d8c9c5 621px,#ebe4e1 623px,#fff 631px"></p><p style="--g:#fff 171px,#e9e4e0 177px,#c8b9af 179px,#997c69 181px,#71482d 183px,#5d3113 185px,#512505 189px,#54280a 191px,#5e3418 193px,#754f37 195px,#a1806c 197px,#d4c3b9 199px,#eee8e6 201px,#f1eceb 203px,#eee7e7 205px,#dfd4d2 207px,#8d665d 211px,#6b3a2c 213px,#5c2416 215px,#4d1101 221px,#501403 261px,#5a2112 265px,#632e21 267px,#8a6258 269px,#a6867e 271px,#b9a29d 273px,#dfd4d2 275px,#eee7e7 277px,#fff 285px,#fff 325px,#fcf8f0 329px,#f9edd9 331px,#edc082 333px,#e19b3a 335px,#d68418 337px,#c17009 339px,#ad680f 341px,#a36e27 343px,#ac8b5b 345px,#c4b297 347px,#dcd5c9 349px,#f3f1ec 351px,#fff 355px,#fff 389px,#f0e9e9 395px,#e1d7d4 397px,#ae8f8a 401px,#652e23 405px,#4f0f02 413px,#4f0e02 465px,#602318 469px,#7b4439 471px,#a17c75 473px,#d0bcb9 475px,#ebe1e1 477px,#fff 483px,#fff 531px,#fcf9f4 533px,#f4eade 535px,#e9d4bb 537px,#c99d6a 539px,#a97741 541px,#bd9e7d 543px,#e1d7cb 545px,#efebe6 547px,#fff 551px,#fff 563px,#e8e1de 569px,#bfaaa2 571px,#63341f 575px,#531e09 579px,#4d1800 583px,#501b03 603px,#5e2c16 607px,#71412c 609px,#dfd6d3 615px,#f0eae9 617px,#fff 623px"></p><p style="--g:#fff 177px,#f3efec 181px,#e6ddd6 183px,#b29b86 185px,#764b25 189px,#88674b 191px,#c7b3a5 193px,#eae3df 195px,#fff 201px,#fff 207px,#e8e0de 213px,#967569 217px,#734636 219px,#5b2513 221px,#4f1702 225px,#4e1501 253px,#5c2916 259px,#6b3e2c 261px,#8d695d 263px,#dfd5d3 267px,#efeae9 269px,#fff 275px,#fff 321px,#faf2e8 325px,#f8e6c5 327px,#eec37d 329px,#e29926 331px,#db8c0f 333px,#cb7d01 337px,#a86803 343px,#8e5f12 347px,#866122 349px,#d7cdb9 353px,#efebe3 355px,#fff 359px,#fff 397px,#eae4e1 405px,#d8c8c5 407px,#855a50 411px,#642d1f 413px,#521503 419px,#4d0f00 455px,#501403 459px,#652f21 465px,#94695f 467px,#cdbab7 469px,#ece4e1 471px,#fff 477px,#fff 525px,#f9f1e1 531px,#eed4ac 533px,#e3ac5c 535px,#d98a1f 537px,#d27d0f 539px,#bc6d08 541px,#a36412 543px,#906325 545px,#b59d7b 547px,#d5ccbc 549px,#efece5 551px,#fff 555px,#fff 569px,#efebe9 573px,#d9cbc6 575px,#856250 579px,#63371f 581px,#532206 585px,#4e1d01 595px,#5f3218 601px,#6e442d 603px,#e9e2de 609px,#fff 615px"></p><p style="--g:#fff 177px,#fcf3ea 181px,#f6e1c5 183px,#e6b983 185px,#d29851 187px,#a76311 189px,#a17039 191px,#cebaa3 193px,#ece6dd 195px,#fcfcfa 199px,#fff 201px,#fff 213px,#f2efed 217px,#e7dfdd 219px,#b2998f 221px,#856050 223px,#63341f 225px,#531f09 229px,#4d1900 233px,#4e1a01 247px,#5f2f18 253px,#7a4c37 255px,#a07969 257px,#e8e2de 261px,#fff 267px,#fff 317px,#faf5e3 321px,#f0d7a3 323px,#d7ac53 325px,#de9f1e 327px,#d88f03 331px,#a76e00 345px,#906103 349px,#866219 353px,#8d733d 355px,#c1b294 357px,#e4ded2 359px,#f4f1ec 361px,#fff 365px,#fff 405px,#efe9e7 411px,#dfd5d2 413px,#8e6a5d 417px,#6d3f2c 419px,#5f2a16 421px,#541903 425px,#4d1500 439px,#4e1702 453px,#531a06 455px,#5a2613 457px,#6b3b2a 459px,#c1a9a2 463px,#e5d7d3 465px,#f2ebea 467px,#fff 471px,#fff 521px,#faf5e7 525px,#efdcba 527px,#e7bd75 529px,#e7a639 531px,#e49717 533px,#d88402 537px,#c27700 541px,#9a6003 545px,#835c1c 549px,#957b50 551px,#bbb097 553px,#e1ddd3 555px,#f3f1ee 557px,#fff 561px,#fff 573px,#efeae7 579px,#dfd5d1 581px,#7d5d45 585px,#5f371a 587px,#532607 591px,#5f3518 595px,#765239 597px,#d3c3b9 601px,#ebe5e1 603px,#fff 609px"></p><p style="--g:#fff 173px,#fcf2e0 177px,#f6d9af 179px,#e6982a 183px,#dd8813 185px,#bc6f03 189px,#a86507 191px,#8c652d 195px,#a7906d 197px,#e1d9cc 199px,#f0ede8 201px,#fff 205px,#fff 219px,#efeae7 223px,#dfd6d2 225px,#b6a197 227px,#866350 229px,#63381f 231px,#512306 235px,#4e1e01 241px,#5f3319 247px,#7a5139 249px,#d0c1b9 253px,#ece4e1 255px,#fff 261px,#fff 313px,#f9f3df 317px,#ebd599 319px,#e6bd50 321px,#dfa819 323px,#da9f09 325px,#d59600 329px,#a07100 349px,#876106 355px,#856411 357px,#846925 359px,#dbd7c4 363px,#eeece4 365px,#fff 371px,#fff 413px,#e8e2de 419px,#71432d 425px,#633118 427px,#501b01 433px,#4e1a01 447px,#57250d 451px,#60331c 453px,#7f5846 455px,#b3978a 457px,#d9ccc7 459px,#f0eceb 461px,#fff 465px,#fff 515px,#fcf6ea 519px,#f2e9d3 521px,#e6a51e 527px,#e79f0d 529px,#dd9200 535px,#b87a00 543px,#895b02 549px,#755514 553px,#7b622f 555px,#aa9b7d 557px,#d1cbbc 559px,#efede7 561px,#fff 565px,#fff 581px,#eae3dd 585px,#a88d73 589px,#7e5936 591px,#9e8168 593px,#cdbdae 595px,#e9e3dd 597px,#faf9f7 601px,#fff 603px"></p><p style="--g:#fff 167px,#fbf5e7 171px,#f2e6cd 173px,#e2bc76 175px,#e5a52e 177px,#e89c18 179px,#df8e03 183px,#b47000 191px,#905c03 195px,#81580c 197px,#805d20 199px,#937c53 201px,#c1b7a3 203px,#ebe7e1 205px,#fff 209px,#fff 225px,#efeae7 229px,#dfd5d1 231px,#af9a8a 233px,#78553b 235px,#5d3413 237px,#562b08 239px,#5d3211 241px,#ae998a 245px,#d0c3bb 247px,#ece5e1 249px,#fff 255px,#fff 309px,#fcfcf2 311px,#f9f4dc 313px,#e9d48d 315px,#e2bd3b 317px,#ddaf14 319px,#d9a502 323px,#a17a00 351px,#896903 359px,#856e1b 363px,#8c7a39 365px,#ada376 367px,#dcd8c5 369px,#f2f1eb 371px,#fff 375px,#fff 419px,#ebe4e1 425px,#d1c1b9 427px,#785239 431px,#633418 433px,#502205 437px,#4f2002 443px,#5e3116 447px,#764f39 449px,#a38776 451px,#d6cac4 453px,#ede8e7 455px,#fff 461px,#fff 509px,#fcf5e1 515px,#f5e6b7 517px,#e5c15f 519px,#deaa21 521px,#e8aa09 525px,#e7a500 529px,#ce9000 539px,#976b00 549px,#705204 555px,#6c561e 559px,#91835c 561px,#c8c1ad 563px,#ecebe4 565px,#f9f7f6 567px,#fff 569px,#fff 579px,#fefcf8 581px,#fcf3e8 583px,#f5dabb 585px,#e6b679 587px,#d59240 589px,#b46a11 591px,#a46e2d 593px,#c0a484 595px,#dfd5c5 597px,#f0ece6 599px,#fff 603px"></p><p style="--g:#fff 161px,#fcf9ef 165px,#f9f3de 167px,#eed490 169px,#eabc50 171px,#e5a81f 173px,#e7a20d 175px,#e59b01 179px,#ce8b00 187px,#9e6a00 195px,#805802 199px,#6f5516 203px,#7e6a3a 205px,#a99e82 207px,#dfdacf 209px,#f2f0ec 211px,#fff 215px,#fff 229px,#fcfaf8 231px,#f3ede6 233px,#e4d6c7 235px,#b99c7e 237px,#996c3d 239px,#a57e56 241px,#dfd3c7 243px,#eee9e3 245px,#fff 249px,#fff 305px,#f9f6dd 309px,#e2c132 313px,#dbb713 315px,#d9ae01 319px,#967900 359px,#866f06 365px,#836f10 367px,#8b7a2a 369px,#c1bb9a 373px,#e4e1d3 375px,#f4f3ec 377px,#fff 381px,#fff 425px,#eae5e1 431px,#c8b9af 433px,#997d68 435px,#745033 437px,#5b300f 439px,#552906 441px,#623a1a 443px,#997b64 445px,#e9e3e0 449px,#fcf9f9 453px,#fff 455px,#fff 505px,#faf7e9 509px,#f1e8c4 511px,#e6d076 513px,#e5c039 515px,#e7b818 517px,#e9b402 521px,#e3ac00 531px,#c79500 541px,#967100 551px,#675002 559px,#614e09 561px,#66561b 563px,#887d52 565px,#bfb9a3 567px,#eae8e1 569px,#fff 573px,#fff 575px,#fcf3e5 579px,#f4deb9 581px,#df9020 585px,#d6840e 587px,#be6f03 591px,#9d6310 595px,#90631e 597px,#9b7a48 599px,#c7baa1 601px,#ece7de 603px,#fff 609px"></p><p style="--g:#fff 157px,#fbf5de 161px,#eed073 165px,#e7b216 169px,#eaab02 173px,#da9f00 183px,#b28000 193px,#6a5006 205px,#66500f 207px,#6c5a23 209px,#d6d3c4 213px,#eeede8 215px,#fff 219px,#fff 225px,#fffcfa 227px,#f9eedc 231px,#e8c497 233px,#d0903b 235px,#cb7a13 237px,#bb6c08 239px,#a56411 241px,#b9a281 245px,#ddd2c5 247px,#f2efe9 249px,#fff 253px,#fff 299px,#fcfcee 303px,#f9f4d1 305px,#e1ce3b 309px,#dcc013 311px,#d8ba04 313px,#9a8400 361px,#887803 369px,#817312 373px,#847825 375px,#dddac4 379px,#efeee4 381px,#fff 387px,#fff 431px,#efe4d8 435px,#ddcab5 437px,#ab865d 439px,#91602d 441px,#b9a086 443px,#e5dcd4 445px,#fff 449px,#fff 497px,#fcf9e7 503px,#f9f3d2 505px,#e5c41e 511px,#e7c10d 513px,#ecc100 519px,#dfb200 533px,#c19b00 543px,#927600 553px,#604f02 563px,#5d4d09 565px,#615416 567px,#776d3a 569px,#a9a382 571px,#e4e0ce 573px,#f9efdb 575px,#efcf90 577px,#e7b250 579px,#e09a1c 581px,#d58702 585px,#a76b00 595px,#926107 599px,#8a6116 601px,#8c6a2d 603px,#a89269 605px,#cec3af 607px,#efece5 609px,#fcfcf9 613px,#fff 615px"></p><p style="--g:#fff 149px,#fcf9e7 155px,#f7f0cd 157px,#e1cd76 159px,#e3c02e 161px,#e6bb16 163px,#ebb902 169px,#e0ad00 181px,#bf9400 191px,#826600 203px,#634e03 209px,#5f4f0d 211px,#66581e 213px,#877d53 215px,#bfbba3 217px,#ebeae1 219px,#f7f6f3 221px,#fcf9f4 223px,#fcf6e9 225px,#f6e7ca 227px,#dfb062 229px,#e19b2b 231px,#db8c14 233px,#d18106 235px,#b06b01 241px,#94600f 245px,#8f641f 247px,#a68b5d 249px,#c8bba2 251px,#ebe6de 253px,#fcfcf9 257px,#fff 259px,#fff 295px,#fcfceb 299px,#f7f3c7 301px,#ebe37d 303px,#ddce24 305px,#dac710 307px,#d5c001 311px,#998c00 367px,#877c03 375px,#88811b 379px,#908a39 381px,#d8d7b9 385px,#efefe1 387px,#fff 393px,#fff 425px,#fcf8ef 429px,#fbf0e0 431px,#f2d3a2 433px,#e9ac5c 435px,#dc8a1f 437px,#c7760c 439px,#ac6406 441px,#9f651a 443px,#b09064 445px,#eae6de 449px,#fcfbf9 453px,#fff 455px,#fff 491px,#fcfae6 497px,#f5f3c6 499px,#e4d446 503px,#e4ce1e 505px,#ebcc02 511px,#eccc00 523px,#d7b600 537px,#a38b00 551px,#605300 565px,#5f5106 569px,#72600f 571px,#a2811d 573px,#dcac37 575px,#dea015 577px,#d79302 581px,#a06e00 599px,#8c6203 603px,#85651a 607px,#b7ac8d 611px,#dcd7c7 613px,#f3f1ec 615px,#fff 619px"></p><p style="--g:#fff 143px,#fcf9e7 149px,#f6f2c6 151px,#e7d350 155px,#e5c91f 157px,#e6c50d 159px,#ecc501 163px,#e6be00 177px,#c3a000 191px,#5b4d02 213px,#594d09 215px,#615718 217px,#857a46 219px,#c0b690 221px,#ecd29a 223px,#e09f20 227px,#db930b 229px,#d08801 233px,#a16a00 245px,#8f6109 249px,#866625 253px,#ac9a73 255px,#dbd5c4 257px,#efede7 259px,#fff 263px,#fff 291px,#fdfef9 293px,#fcfce8 295px,#f4f2b9 297px,#e5e269 299px,#dbd42b 301px,#d6cf11 303px,#d3ca03 305px,#aea500 351px,#9e9800 369px,#898506 381px,#898719 385px,#939139 387px,#ecedde 393px,#fff 399px,#fff 421px,#f9f4e5 425px,#ecdbba 427px,#edc075 429px,#e9a739 431px,#e49516 433px,#d68202 437px,#bb7100 441px,#a56502 443px,#885b14 447px,#805e25 449px,#a89473 451px,#d9d2c4 453px,#f1efeb 455px,#fff 459px,#fff 485px,#fbfbe2 491px,#f3f2bc 493px,#e2da44 497px,#e0d61e 499px,#e8d806 503px,#eed900 519px,#dcc600 535px,#b2a000 549px,#746700 563px,#716300 565px,#7a6a00 567px,#967900 569px,#c89600 571px,#daa206 575px,#c48e00 587px,#9b7200 603px,#8c6702 607px,#826610 611px,#826b22 613px,#ac9e70 615px,#cfc8af 617px,#eceae0 619px,#fff 623px"></p><p style="--g:#fff 137px,#fbfae1 143px,#f4efbb 145px,#e7e08a 147px,#e3d546 149px,#e3d01e 151px,#e9d309 155px,#edd400 159px,#e8cb00 175px,#d2b600 187px,#a79100 199px,#635700 213px,#665702 217px,#876b06 219px,#b68b11 221px,#daa112 223px,#d99802 227px,#a37300 247px,#8b6303 253px,#85681c 257px,#937e47 259px,#c0b597 261px,#ebe8dc 263px,#f9f9f6 267px,#fff 269px,#fff 287px,#f8fbe6 291px,#eff2ba 293px,#dde062 295px,#d3d621 297px,#ced00e 299px,#cacb01 305px,#a9aa02 359px,#949602 381px,#8a8d10 389px,#888b1a 391px,#909331 393px,#cccfa4 397px,#e6e7d4 399px,#f3f3e7 401px,#fff 407px,#fff 415px,#fbf7ea 419px,#faedd3 421px,#f2d797 423px,#eab950 425px,#e5a31c 427px,#e59906 431px,#cb8300 439px,#825803 449px,#7a550d 451px,#785b20 453px,#c2baa5 457px,#ebe8e1 459px,#fff 463px,#fff 477px,#fbfced 483px,#f8fbe0 485px,#eef2b1 487px,#dedf3c 491px,#dfde1b 493px,#e8e403 499px,#f1e900 515px,#ddd200 535px,#b6ac00 549px,#877e00 561px,#8c7f00 563px,#c7a000 567px,#d8a900 571px,#af8700 597px,#886c03 613px,#826e18 617px,#877832 619px,#b8b08a 621px,#e4e1d1 623px,#f2f0e9 625px,#fff 631px"></p><p style="--g:#fff 131px,#fbfbe1 137px,#f3f4ba 139px,#e8e575 141px,#e0da39 143px,#e0d919 145px,#eadd02 151px,#efdd00 167px,#ddcb00 183px,#b3a300 197px,#776e00 211px,#7a6d00 213px,#957b00 215px,#b99000 217px,#cf9e00 219px,#d9a201 223px,#9f7800 251px,#856706 259px,#826914 261px,#88742d 263px,#a69969 265px,#cdc7af 267px,#eeece5 269px,#fcfcf9 273px,#fff 275px,#fff 281px,#fafcf1 285px,#f4f6e0 287px,#e6eca7 289px,#d1da53 291px,#c4cf26 293px,#bfc90c 297px,#939d0a 385px,#87910e 393px,#899229 399px,#9ea654 401px,#abb171 403px,#e6e7d5 407px,#f3f4e8 409px,#fcf9ee 413px,#fcf5e1 415px,#f5e5b7 417px,#e1be5f 419px,#e4ae21 421px,#e9a709 425px,#e6a200 429px,#cb8e00 439px,#775502 453px,#6c5618 457px,#837246 459px,#bab097 461px,#e8e6df 463px,#fcfaf9 467px,#fafcf1 473px,#f7fbe3 477px,#eef2c0 479px,#e0e98b 481px,#dee56b 483px,#d6e037 485px,#d5df22 487px,#e0e80a 493px,#eef103 511px,#e5e602 529px,#ccca01 543px,#9e9a01 557px,#b2a200 561px,#ccaf00 563px,#d6b300 567px,#b49500 595px,#917a00 615px,#847104 619px,#867721 623px,#bab58e 627px,#dcdbc7 629px,#f3f2ec 631px,#fff 635px"></p><p style="--g:#fff 121px,#f8f9e7 129px,#f6f9de 131px,#dce032 137px,#e0e310 141px,#e6e704 145px,#f1ed00 161px,#e1da00 181px,#b8b100 197px,#908a00 207px,#928800 209px,#a19000 211px,#c5a400 213px,#d7ac00 217px,#a58300 251px,#856d03 263px,#83711a 267px,#bbb38d 271px,#dddac6 273px,#f1efe8 275px,#f9f9f5 277px,#f5f9e7 281px,#eaf0cb 283px,#d4e188 285px,#bacc3a 287px,#b2c41a 291px,#adbf12 299px,#91a212 389px,#879914 399px,#8b982e 407px,#a6ad57 409px,#bab76a 411px,#e4cd6c 413px,#e6c038 415px,#e8b818 417px,#eab302 421px,#dea700 433px,#bc8c00 443px,#6d5402 457px,#664f06 459px,#675314 461px,#796b38 463px,#a19876 465px,#d5d1bf 467px,#e0e2c1 469px,#e2e8b5 471px,#d5e384 473px,#c7dc3e 477px,#cbe125 481px,#d3e816 487px,#e2f311 507px,#deea0c 527px,#c7d009 543px,#acb107 553px,#bdb302 557px,#d0bb00 559px,#d3b900 567px,#978600 617px,#887902 623px,#827711 627px,#847c22 629px,#d8d6b9 633px,#efeee1 635px,#fff 641px"></p><p style="--g:#fff 113px,#f6fae5 121px,#e5eea8 125px,#d7e172 127px,#c7d445 129px,#cedc2c 131px,#d9e511 137px,#e7f10b 151px,#e9ee06 169px,#d4d703 187px,#a7a502 203px,#a5a302 205px,#cab300 209px,#d6b600 213px,#9d8600 259px,#897502 267px,#847510 271px,#84771e 273px,#9c9454 275px,#cbc8a0 277px,#c2ce7f 279px,#b1c44e 281px,#a6be33 283px,#9eb81e 287px,#95af1a 363px,#8da51a 401px,#95a516 405px,#a7a710 407px,#daba0c 411px,#e7c00c 413px,#ecbf00 419px,#e2b500 431px,#bf9700 443px,#645101 461px,#5d500d 465px,#665c1a 467px,#797a1e 469px,#9fae2a 471px,#b0cc2a 473px,#c3e422 479px,#d8f41c 503px,#d2e917 529px,#b7c811 547px,#bbc00a 551px,#d0c600 555px,#d0c100 563px,#9d9300 619px,#898103 629px,#888319 633px,#8e892e 635px,#ececde 641px,#fff 647px"></p><p style="--g:#fff 85px,#fcfcf9 89px,#f9fcf4 99px,#f4f9e4 111px,#e3eeb7 115px,#d2e085 117px,#c7da63 119px,#bfd732 123px,#cce51c 131px,#def315 151px,#daea10 175px,#c4d00c 191px,#b2b90a 199px,#b3b506 201px,#d3c000 207px,#ceb800 217px,#9a8b00 265px,#897d02 273px,#867d13 277px,#807d10 279px,#8ca51c 285px,#8dae21 295px,#8daf22 395px,#91b121 397px,#92a91c 399px,#bfbb0b 403px,#d4c203 405px,#eacc00 411px,#ebc900 423px,#d5b400 437px,#a88e00 449px,#574c01 467px,#595403 471px,#6b710b 473px,#add324 477px,#bee92b 481px,#cbf529 501px,#caed23 525px,#b7d41b 543px,#bbcd12 547px,#c9cc06 549px,#ceca00 557px,#9c9900 625px,#8b8a05 635px,#898917 639px,#90912f 641px,#a5a65e 643px,#e7e7d3 647px,#f3f4e9 649px,#fff 655px"></p><p style="--g:#fff 77px,#f1f7e7 83px,#dce6bf 87px,#dbe7ba 97px,#cfde9f 99px,#c8dc93 101px,#c9df91 103px,#bad565 107px,#accc40 109px,#c0e425 125px,#d0f423 147px,#d2ee1d 171px,#c0d616 189px,#b7c410 197px,#cdc701 201px,#d0c500 209px,#9c9500 269px,#807f03 283px,#797a03 285px,#7e9c20 291px,#81a927 301px,#89b42d 387px,#8eb729 391px,#aabe18 395px,#c3c50c 397px,#d3cb03 399px,#e8d800 405px,#efd900 417px,#dec700 433px,#b7a400 447px,#564e00 469px,#504d00 473px,#555503 475px,#616708 477px,#7b8d15 479px,#a0c829 481px,#ade033 483px,#bdf337 489px,#c0f232 519px,#b4dc27 539px,#b9d319 543px,#c5cc06 549px,#9aa007 629px,#89900a 641px,#888e19 645px,#8c9127 647px,#bdc28d 651px,#e6e7d8 655px,#f4f4ea 657px,#fff 663px"></p><p style="--g:#fff 69px,#f2f9eb 75px,#e5f0d1 77px,#9ac14a 83px,#96be3f 85px,#a4d439 105px,#aada31 111px,#c3f330 137px,#c7f029 169px,#b8d81e 189px,#b8d018 193px,#c3cd0a 195px,#cdcc03 199px,#9c9d02 275px,#7a8207 291px,#728d1b 295px,#759f2b 299px,#7aad33 335px,#81b537 379px,#8ab932 385px,#96be29 387px,#c4cd0b 391px,#dcda03 395px,#f0e700 407px,#e8db00 427px,#cdc100 441px,#9a9100 455px,#5d5900 469px,#4e4c00 475px,#525303 479px,#595d07 481px,#687912 483px,#a1d737 487px,#abe83f 489px,#b2f644 495px,#b5ef3b 525px,#aee234 535px,#b4ca16 541px,#b5c30e 551px,#919f0e 639px,#879510 647px,#879423 653px,#88952f 655px,#c5cc9b 659px,#e7e9d8 663px,#f4f5e9 665px,#fff 675px"></p><p style="--g:#fff 65px,#f4fbee 69px,#dff1cc 71px,#aad16d 75px,#98c74d 77px,#8dc439 83px,#b4f23e 131px,#bdf539 159px,#b6e731 181px,#acd528 187px,#b3c512 191px,#bac109 199px,#b9c108 211px,#969f09 281px,#7a890d 297px,#6a9024 303px,#6d9e33 307px,#72af3d 347px,#79b53e 373px,#7fb93c 377px,#8abc34 379px,#bdd315 385px,#cdd90e 387px,#e8ed06 397px,#edf002 417px,#dcda01 435px,#b7b500 449px,#5b5c01 471px,#4b4d02 479px,#4f5907 485px,#5a6a11 487px,#88ba35 491px,#98db42 493px,#a2e94a 495px,#a9f74f 505px,#a8ed46 523px,#a5df3c 531px,#a7c11c 537px,#a4b916 559px,#8ca317 647px,#859b18 655px,#899c33 663px,#a0b15b 665px,#bbc78c 669px,#dce2c6 673px,#eef2e2 675px,#f7f9f2 685px,#f9f9f8 697px,#fff 701px"></p><p style="--g:#fff 61px,#f1f8eb 65px,#b4de8e 69px,#94ce59 71px,#89c947 75px,#90d444 91px,#aaf54a 133px,#b2f644 159px,#afeb3c 177px,#9fd031 183px,#7d9013 187px,#6e7e0f 189px,#68730c 191px,#67740d 197px,#92a110 201px,#a0b211 203px,#abbc11 209px,#91a211 287px,#809314 301px,#788e15 305px,#6c8e21 309px,#6b962d 311px,#67a43d 319px,#6db245 359px,#72b542 367px,#84bc39 371px,#a2c724 375px,#c3da17 381px,#dbec12 391px,#e5f20d 415px,#d6df08 435px,#aeb507 451px,#555a06 473px,#474d05 481px,#49550b 489px,#546613 493px,#78a932 497px,#81be3c 499px,#90dd4c 501px,#98eb54 505px,#9ceb4f 519px,#9de84d 521px,#91ca3a 525px,#97c934 527px,#94b623 531px,#94b21e 551px,#8aaa20 653px,#87a625 665px,#8aa53c 677px,#a1ba61 679px,#a3b867 681px,#a8bc79 683px,#b6c68e 685px,#b4c38f 689px,#a6af8e 693px,#b8c0a8 695px,#cfd4c5 699px,#e6eae2 701px,#fff 709px"></p><p style="--g:#fff 59px,#f2f9ed 61px,#d2ebc6 63px,#a1d880 65px,#89ce5d 67px,#7fca4d 71px,#9ff555 129px,#a5f44f 167px,#a0eb48 175px,#99da40 177px,#85b633 179px,#607c1d 181px,#4b5b10 185px,#405010 193px,#3f5011 197px,#415a18 201px,#49671d 203px,#8ea719 207px,#9eb618 213px,#8aa41a 299px,#79951e 315px,#6f9b2d 319px,#659731 323px,#66a139 325px,#62a745 331px,#68b049 353px,#66a841 355px,#73b240 357px,#82b937 361px,#9bc026 367px,#b0d324 371px,#ccec20 385px,#d8f41b 409px,#d7ee17 423px,#c2d412 441px,#a3b20f 453px,#555f0a 473px,#444d09 481px,#434f0b 493px,#546b18 501px,#5a751d 503px,#689128 505px,#7cb63d 511px,#7eba3c 513px,#78ab34 515px,#7ead2e 519px,#7da325 523px,#89af26 567px,#86af2b 673px,#80a72e 679px,#5b7726 683px,#475c23 687px,#475b26 695px,#516230 701px,#657449 703px,#c9d0bf 707px,#e8ebe4 709px,#fff 713px"></p><p style="--g:#fff 55px,#f1fcf1 57px,#dbf2d7 59px,#a2dd90 61px,#81d06a 63px,#78cd5c 65px,#7ad158 75px,#92f563 127px,#9bf65b 163px,#99ee56 171px,#93e350 173px,#83c642 175px,#5a7c23 177px,#475c17 179px,#3b4d13 185px,#37521b 195px,#2b4d24 199px,#2e5327 205px,#385d26 207px,#7f9f21 211px,#8eae20 213px,#8aae24 295px,#7ea629 331px,#7bae33 337px,#81b736 347px,#8eb92c 351px,#bce62a 375px,#ccf529 399px,#caeb21 427px,#b3cd1a 445px,#8b9f14 459px,#4f5c0e 475px,#404d0d 483px,#3e4f10 499px,#5c7a1f 513px,#759d29 539px,#7fad2f 579px,#84b936 669px,#84b735 671px,#7aad31 673px,#496a21 679px,#3b581d 683px,#354e19 693px,#38501d 703px,#485f30 707px,#596e45 709px,#92a084 711px,#d7dcd3 713px,#f9f9f7 717px,#fff 719px"></p><p style="--g:#fff 51px,#f3fcf4 53px,#daf3da 55px,#9fe09e 57px,#7bd275 59px,#71cf67 61px,#6ed063 67px,#87f770 127px,#8ff667 163px,#8ced61 169px,#81d454 171px,#44631d 175px,#3b5318 177px,#364d17 183px,#2f4d1e 191px,#2e5226 193px,#244d2a 197px,#244e29 207px,#2b542a 209px,#3b652a 211px,#668e29 213px,#7da528 215px,#84ae29 217px,#8abb32 331px,#9bd135 353px,#b9f037 381px,#bff637 399px,#c3f532 409px,#bce52a 433px,#a0c121 451px,#89a51d 459px,#435411 479px,#3c4d11 487px,#3b4f15 503px,#618a2a 531px,#6fa233 557px,#80c041 665px,#7ebd41 667px,#75af3c 669px,#4d782c 673px,#3d6224 679px,#304d1d 701px,#335020 709px,#486138 713px,#6b805f 715px,#bac5b5 717px,#e7eae6 719px,#fff 723px"></p><p style="--g:#fff 49px,#e9f9ec 51px,#74d282 55px,#67cf72 57px,#63d16e 65px,#7df77b 125px,#83f876 159px,#85f471 165px,#7eeb6b 167px,#6ec456 169px,#49762e 171px,#39581f 173px,#334d1a 177px,#314d1c 183px,#325320 185px,#1f4d2d 191px,#22502f 211px,#2a582f 213px,#4a772f 215px,#6e9f31 217px,#7aab31 221px,#86bf3a 319px,#9edf41 357px,#b3f542 389px,#b5f03b 423px,#a5d42f 445px,#8eb628 455px,#81a424 459px,#66861f 463px,#57721b 471px,#3a4e14 483px,#375119 507px,#598a31 537px,#68a43d 569px,#77c14b 663px,#70b848 665px,#62a241 667px,#4b8237 669px,#3e6f31 673px,#2c4e21 711px,#325327 715px,#3f5e36 717px,#5f7958 719px,#b0bcad 721px,#e6ebe5 723px,#f7f9f8 725px,#fff 727px"></p><p style="--g:#fff 45px,#f4fcf7 47px,#daf5e3 49px,#88daa0 51px,#62cf81 53px,#58cd79 55px,#6df78a 121px,#78f780 161px,#79f47d 163px,#73e574 165px,#5eb557 167px,#3e6c2e 169px,#325221 171px,#2d4d20 179px,#294d24 183px,#255330 185px,#1b4d33 189px,#1a4d33 213px,#205333 215px,#5d9337 219px,#6ba338 221px,#71aa39 227px,#80c545 317px,#a4f551 383px,#abf64b 411px,#a3e23f 437px,#98cf38 447px,#8bbb31 451px,#7ca92d 453px,#4c7123 457px,#365720 461px,#315120 473px,#3b581c 479px,#354d18 487px,#324f1d 509px,#538b38 543px,#61a646 579px,#6dc356 659px,#6bbd52 661px,#478842 665px,#3b753a 671px,#295027 715px,#2e532c 719px,#3c5e3c 721px,#648165 723px,#b7c5b8 725px,#e9ece9 727px,#f9fcf9 729px,#fff 731px"></p><p style="--g:#fff 41px,#f9fcfc 43px,#e9f9f1 45px,#ace8c8 47px,#6cd496 49px,#54ce84 51px,#4ed083 57px,#61f695 117px,#6bf98f 157px,#6af188 161px,#65dd79 163px,#49944c 165px,#345f2c 167px,#2c5025 169px,#294d24 177px,#255332 181px,#194d35 183px,#195037 217px,#275f38 219px,#4c893d 221px,#5fa041 223px,#68a840 227px,#79c950 317px,#99f55c 379px,#a1f453 417px,#97dc45 441px,#8ecb3e 445px,#80b83b 447px,#456f29 451px,#355b26 453px,#294d24 461px,#2c4f23 483px,#324d1b 489px,#2f5021 513px,#4c8a3f 547px,#59a84f 587px,#68c560 655px,#63c15e 657px,#58b059 659px,#47944e 661px,#3b8448 663px,#2f6738 691px,#27522e 721px,#2b5732 723px,#3b6341 725px,#6e8b74 727px,#cad5cc 729px,#eff2ef 731px,#fff 735px"></p><p style="--g:#fff 39px,#eefaf6 41px,#c0eddb 43px,#7ddcb0 45px,#52d094 47px,#45cb8c 49px,#51f09f 101px,#5dfc9f 143px,#61f999 157px,#5def91 159px,#50c675 161px,#367740 163px,#2a572c 165px,#264d27 169px,#1e4d2f 177px,#144d3b 181px,#13503b 219px,#1c593b 221px,#3e8043 223px,#579f47 225px,#5fa84a 233px,#72cf5c 319px,#8cf56a 375px,#94f561 417px,#90e252 437px,#86d04b 441px,#76b844 443px,#345f2c 447px,#254d28 453px,#284d25 489px,#2d4d20 497px,#2c5226 517px,#438844 549px,#52ac5a 597px,#5cc46a 653px,#56bb65 655px,#388b54 659px,#317f4e 667px,#235534 725px,#2a5b3a 727px,#477055 729px,#cbd8d1 733px,#eff3f1 735px,#fff 737px"></p><p style="--g:#fff 35px,#f7fefc 37px,#dbf6ed 39px,#4ecea0 43px,#3dcd96 45px,#3ad198 55px,#4af7ae 115px,#54fba8 151px,#53f8a6 155px,#51ed9a 157px,#42b875 159px,#2c6d3f 161px,#24522e 163px,#214d2c 171px,#1e5235 173px,#0f4d3e 177px,#0d4d41 221px,#155741 223px,#357d48 225px,#4d9a4f 227px,#55a651 231px,#6ad56a 323px,#80f777 377px,#8af66c 415px,#87e760 433px,#7ed558 437px,#6fbb4d 439px,#4b883a 441px,#2f5e31 443px,#224e2c 447px,#224d2b 493px,#294d24 499px,#27512a 519px,#3f8d4e 557px,#4bb066 607px,#54c473 649px,#4fc071 651px,#46ae6b 653px,#349360 655px,#2c8559 659px,#1e5638 727px,#295c42 731px,#3c6a53 733px,#e0e7e4 737px,#f6f9f7 739px,#fff 741px"></p><p style="--g:#fff 33px,#f0fcf8 35px,#c9f2e7 37px,#68d8ba 39px,#3dcca3 41px,#30c99d 43px,#3cf7bb 111px,#44fcb9 143px,#47f8b2 153px,#45e9a5 155px,#39b079 157px,#25633e 159px,#1f5031 161px,#1b4d32 169px,#0a4d43 175px,#094d45 223px,#0e5545 225px,#439655 229px,#4ca258 231px,#63da78 327px,#76f883 379px,#7ef679 415px,#7de66b 431px,#78db64 433px,#68c058 435px,#458a42 437px,#2a5f36 439px,#1d4e30 443px,#1d4d30 497px,#254d28 501px,#224f2d 521px,#368953 557px,#42ae6d 605px,#49c67d 645px,#3fb678 649px,#309b6c 651px,#248864 655px,#19553d 731px,#1c563f 733px,#275f4a 735px,#4f7c6b 737px,#a9beb6 739px,#e6eeeb 741px,#fff 743px"></p><p style="--g:#fff 29px,#f6fcfc 31px,#e1f8f3 33px,#3fceb1 37px,#28caa8 39px,#25d1ad 51px,#2ff5c7 105px,#37fdc7 139px,#3afbc2 149px,#3df8bc 151px,#39e6ae 153px,#216041 157px,#1a5034 159px,#154d39 167px,#074d47 171px,#034d4a 225px,#095349 227px,#1a694f 229px,#38925b 231px,#44a160 233px,#5be388 335px,#6afa90 383px,#72f583 417px,#73eb79 427px,#70e373 429px,#68d26a 431px,#2a683e 435px,#1d5537 437px,#194d34 441px,#194d34 501px,#214d2c 507px,#1f5132 525px,#2f8859 559px,#3ab278 611px,#3ec588 643px,#3ac084 645px,#229272 649px,#1d896c 657px,#155542 735px,#1a5746 737px,#2d6454 739px,#6c9488 741px,#d0dcda 743px,#eff4f2 745px,#fff 747px"></p><p style="--g:#fff 27px,#e9f9f8 29px,#b1eae6 31px,#58d4c6 33px,#2bc9b4 35px,#1cc7ae 37px,#23f4d2 101px,#2cfdd2 139px,#2efbce 147px,#30f5c8 149px,#2ddbb0 151px,#219473 153px,#195d43 155px,#164f38 157px,#144d39 163px,#06514b 167px,#014b4d 227px,#05514d 229px,#126453 231px,#309160 233px,#3ba068 235px,#5e9 349px,#61fb9b 393px,#68f189 421px,#68e983 425px,#61db7a 427px,#4db366 429px,#2a7348 431px,#1c593c 433px,#154d39 437px,#104d3d 503px,#1d4d30 509px,#1b5036 527px,#2a8e65 567px,#32be8c 631px,#33c28f 641px,#2db98b 643px,#1fa07e 645px,#179179 647px,#168b76 653px,#147460 695px,#125547 739px,#1b5b4e 741px,#3a7167 743px,#88a8a2 745px,#dfe8e7 747px,#f9f9f9 749px,#fff 751px"></p><p style="--g:#fff 23px,#f8fdfd 25px,#def7f6 27px,#73dbd6 29px,#29c9bd 31px,#14c6b8 33px,#0fd1c2 49px,#17f5df 101px,#1efee1 133px,#22fcdb 145px,#21f6d4 147px,#21d9b9 149px,#188068 151px,#125844 153px,#124f3c 155px,#0f4d41 161px,#004a4d 165px,#00474d 229px,#034d4d 231px,#106156 233px,#2b9067 235px,#33a270 237px,#4bf0a6 351px,#56fca6 395px,#5bf196 419px,#59e38d 423px,#51cc7d 425px,#195f45 429px,#13503e 431px,#0b4d42 507px,#184d36 511px,#164f39 529px,#228b69 567px,#29bc93 627px,#2bc298 637px,#26bc95 639px,#129584 643px,#0c8c81 649px,#0e7b6d 689px,#0e564b 743px,#1e5e55 745px,#51837c 747px,#b8cbca 749px,#e9f1f0 751px,#fff 753px"></p><p style="--g:#fff 21px,#ebfafb 23px,#c0eff0 25px,#57d5d3 27px,#17c6c2 29px,#08c2bd 31px,#06ede6 85px,#0dfcf0 119px,#14fce8 143px,#16f6e1 145px,#16d9c3 147px,#10806e 149px,#0e5645 151px,#135043 155px,#225e53 157px,#38766f 159px,#1a595d 161px,#094c52 163px,#00474d 167px,#00424d 231px,#034850 233px,#18645f 235px,#349a79 237px,#2ea47c 239px,#2db487 263px,#40f1b2 351px,#4bfcb2 395px,#50f2a2 417px,#52ec9b 419px,#4bde92 421px,#3bb479 423px,#1e7254 425px,#0f5746 427px,#0c4d40 431px,#064a47 505px,#03404a 509px,#154d38 515px,#135240 533px,#1a9177 575px,#22c1a0 633px,#1cb59a 637px,#0e998e 639px,#038b88 643px,#08857e 675px,#08524d 745px,#0d5752 747px,#246461 749px,#6e9896 751px,#cfdddd 753px,#f0f5f5 755px,#fff 759px"></p><p style="--g:#fff 17px,#f1fcfc 19px,#d1f1f3 21px,#75d5da 23px,#22c1c6 25px,#0abdc2 27px,#00c0c4 33px,#02f2f5 99px,#04fdfb 129px,#08fcf3 141px,#09f3ea 143px,#0ad0c6 145px,#0b7f74 147px,#09564b 149px,#0b4f46 151px,#15564e 153px,#42766f 155px,#acc3bf 157px,#dbe5e5 159px,#abc2c5 161px,#497a80 163px,#1a565e 165px,#02444f 169px,#02404f 229px,#1c5460 233px,#5b868d 235px,#8fc0b7 237px,#49b094 239px,#2ba685 241px,#22a483 243px,#33f0be 347px,#3cfdc1 387px,#44f7b4 409px,#44efab 415px,#44e6a3 417px,#3dcf93 419px,#116050 423px,#0b5048 425px,#034d4a 497px,#01484c 503px,#003a4d 507px,#033c4a 513px,#114a3c 517px,#0e5042 535px,#138874 569px,#16b19b 613px,#18bea7 629px,#1dc2ac 631px,#2bc4ad 633px,#22ac9f 635px,#098c8e 637px,#008389 641px,#018a8a 665px,#025f5e 729px,#055150 749px,#105858 751px,#326f6e 753px,#92b3b3 755px,#cad9da 757px,#eff3f3 759px,#fff 761px"></p><p style="--g:#fff 13px,#f9fcfc 15px,#e2f5f6 17px,#97dbe3 19px,#3bbdc9 21px,#10b1be 23px,#03afbd 25px,#00e6f4 95px,#00f7fe 133px,#00f5f9 139px,#00eef1 141px,#02c6c6 143px,#06706a 145px,#065550 147px,#07504b 149px,#1b5e5a 151px,#62908d 153px,#c6d6d5 155px,#f2f6f6 157px,#fff 159px,#f6f9f9 161px,#e3eaeb 163px,#afc3c7 165px,#205663 169px,#064353 173px,#003d4d 185px,#013b4d 223px,#0e4657 227px,#205263 229px,#afc2c7 233px,#e5ecec 235px,#edf5f4 237px,#bfe4dd 239px,#5bbca9 241px,#26a98f 243px,#1ba68b 245px,#25e9c5 335px,#2dfdd0 379px,#35f9c4 405px,#38eeb6 413px,#35dda7 415px,#116b5a 419px,#07574e 421px,#044d49 425px,#004b4d 497px,#004d5a 501px,#003a50 503px,#01364d 515px,#104a46 519px,#1a564a 521px,#0d4d42 525px,#0a5046 537px,#0d8f82 577px,#11bcae 627px,#20c2b6 629px,#54d1c6 631px,#b1e7e3 633px,#92c9cb 635px,#2e8e99 637px,#097b89 639px,#007b8a 643px,#00828b 667px,#006a6f 711px,#014d4f 751px,#054e50 753px,#14585a 755px,#2f6b6e 757px,#e0e9e9 761px,#fff 765px"></p><p style="--g:#fff 9px,#f8fcfc 11px,#e7f4f8 13px,#c0e5ec 15px,#55bdce 17px,#19aabf 19px,#06a6bb 21px,#00abc5 33px,#00dcf6 97px,#00eafe 133px,#00ebfc 137px,#00dff0 139px,#00b7c0 141px,#026b6d 143px,#035251 145px,#0a5352 147px,#256766 149px,#8ab8b7 151px,#e2edec 153px,#f9fcfc 155px,#fff 157px,#fff 163px,#e8eef0 167px,#bcccd0 169px,#436f7d 173px,#184b5d 175px,#094253 177px,#00394d 185px,#033950 219px,#14475c 223px,#386374 225px,#bccad0 229px,#e8eef0 231px,#fff 235px,#fff 237px,#f6fcfb 239px,#d2ece9 241px,#57bdaf 243px,#1aa896 245px,#11a796 249px,#1af2d8 347px,#23fddb 389px,#2bf5cc 407px,#2de7b9 411px,#26c6a0 413px,#178770 415px,#075b55 417px,#034f4d 419px,#00444e 497px,#00364f 501px,#03344e 515px,#0f3e57 517px,#3a6272 519px,#7b9c9b 521px,#396f67 523px,#1d5c54 525px,#0e5049 527px,#074d46 533px,#065751 543px,#04938f 583px,#07b9b5 623px,#12bdb8 625px,#32c8c3 627px,#84deda 629px,#dff7f5 631px,#f5fcfc 633px,#eef6f6 635px,#b6d4da 637px,#3f91a1 639px,#11788d 641px,#037387 643px,#007c8c 665px,#00646e 713px,#01464d 755px,#044950 757px,#15565d 759px,#90adb1 763px,#dfe8e9 765px,#f5f7f9 767px,#fff 769px"></p><p style="--g:#fff 5px,#ebf6f9 9px,#b6dee9 11px,#54b4cb 13px,#1d9ebc 15px,#099ab8 17px,#009ab9 21px,#00cdf5 93px,#00ddfe 131px,#00defb 135px,#00d2ee 137px,#00a0b2 139px,#005e65 141px,#034e52 143px,#115659 145px,#497e81 147px,#bfd2d3 149px,#eef5f5 151px,#fff 153px,#fff 167px,#f1f4f5 171px,#e1e8eb 173px,#5d808f 177px,#2c596b 179px,#16485c 181px,#01354e 189px,#033550 211px,#0c3c56 215px,#16465c 217px,#2c566b 219px,#5d7d8d 221px,#d5dde1 225px,#eef1f3 227px,#fff 231px,#fff 239px,#f8fcfa 241px,#c5e9e4 243px,#3db6ad 245px,#10a89d 247px,#09aaa1 253px,#0deee1 339px,#15fee9 379px,#1ef8db 403px,#20edcd 407px,#20dcbe 409px,#19a992 411px,#0a6560 413px,#035050 415px,#00484d 419px,#004250 493px,#00304f 499px,#03304e 513px,#15405b 515px,#6a8496 517px,#cfd9dd 519px,#eef1f2 521px,#e0e9e8 523px,#a2bcb9 525px,#407773 527px,#145955 529px,#074f4b 531px,#025251 543px,#00878a 577px,#02afb5 619px,#06b3b7 621px,#1bbcbf 623px,#61d3d3 625px,#cdf1f1 627px,#effcfb 629px,#fff 631px,#fff 635px,#f6fafb 637px,#d1e3e9 639px,#1d7891 643px,#056d8a 645px,#00718d 655px,#006d82 689px,#00414d 757px,#094753 761px,#16505b 763px,#47757f 765px,#a0b9bf 767px,#e1e7e9 769px,#fff 773px"></p><p style="--g:#fff 3px,#f5f9fb 5px,#c8e4ec 7px,#7dc0d6 9px,#2196b9 11px,#098cb3 13px,#008cb5 17px,#00bef2 87px,#00d0fe 123px,#00d2fb 133px,#00c6ed 135px,#0097b1 137px,#005863 139px,#044b53 141px,#1b5b62 143px,#6c9397 145px,#d2dee0 147px,#f6fafa 149px,#fff 151px,#fff 173px,#dee5e8 179px,#a7bac3 181px,#8299a7 183px,#638193 185px,#2d556d 187px,#18455e 189px,#0f3c57 199px,#133f5a 207px,#18435d 209px,#2b526b 211px,#6c8797 215px,#dee5e8 219px,#fff 225px,#fff 241px,#f4faf9 243px,#b7e5e2 245px,#34b6b2 247px,#0ba6a3 249px,#02a6a5 251px,#02edeb 337px,#07fef7 377px,#10faeb 397px,#13f3e1 403px,#13e6d4 405px,#13bbaa 407px,#0b7c77 409px,#035457 411px,#004750 413px,#003d51 491px,#003f5d 493px,#003054 495px,#002a4d 509px,#032c4f 511px,#153c5b 513px,#6c8498 515px,#e0e5e9 517px,#fafcfc 519px,#fff 521px,#fff 523px,#f3f7f7 525px,#d2dfde 527px,#769e9e 529px,#236463 531px,#0b5353 533px,#004c4d 537px,#004f52 545px,#00868f 583px,#03a5b3 617px,#12aeb9 619px,#3ebec7 621px,#a1e0e3 623px,#e5f7f8 625px,#fafefe 627px,#fff 629px,#fff 639px,#e8f0f3 641px,#9fc3d0 643px,#317f9b 645px,#09698a 647px,#00668a 651px,#006b8a 675px,#004b5e 735px,#003d4d 759px,#064253 765px,#154e5d 767px,#3b6976 769px,#e0e7ea 773px,#fff 775px"></p><p style="--g:#fff 1px,#fafcfc 3px,#cae3ed 5px,#3d9bbe 7px,#1385b1 9px,#0380ae 11px,#00b1f2 85px,#00c3fe 125px,#00c4fb 131px,#00bbed 133px,#008eb1 135px,#025463 137px,#0c4d58 139px,#2f6770 141px,#95bbc1 143px,#e5eeee 145px,#fff 147px,#fff 179px,#ecf0f2 185px,#e0e6e9 187px,#b7c4cd 189px,#afbdc6 191px,#8399a9 195px,#8096a6 203px,#859aa9 205px,#a2b3be 207px,#b5c3cc 209px,#e0e4e9 211px,#fff 219px,#fff 243px,#f3f9f9 245px,#b4e4e4 247px,#32b2b6 249px,#08a2a8 251px,#00a3aa 255px,#00e9f2 343px,#01f9fd 379px,#05f9f4 397px,#08eee7 401px,#09dfd7 403px,#08a8a3 405px,#046065 407px,#004951 409px,#00404d 413px,#003a4d 487px,#002c56 491px,#00264d 505px,#032950 509px,#1a3c5f 511px,#6d8398 513px,#e0e4e9 515px,#fff 517px,#fff 527px,#ebf1f1 529px,#c1d5d4 531px,#5f8e90 533px,#1d5d61 535px,#094e53 537px,#00474d 541px,#005159 551px,#008294 589px,#0299ae 613px,#099db4 615px,#22a9bc 617px,#dcf2f5 621px,#f5fcfc 623px,#fff 625px,#fff 641px,#f3f7f8 643px,#cadde5 645px,#4b89a6 647px,#12658e 649px,#035e88 651px,#00648b 673px,#004f6b 721px,#00384d 757px,#063e51 769px,#1a4d60 771px,#628692 773px,#e2e9eb 775px,#fff 777px"></p><p style="--g:#fff 3px,#f1f6fa 5px,#a1ccdf 7px,#2f8ebb 9px,#0779af 11px,#0077b1 15px,#00a3ee 79px,#00b3fe 117px,#00b8fb 129px,#00afed 131px,#0086b1 133px,#034f64 135px,#154d5c 137px,#557e88 139px,#c2d2d5 141px,#f0f6f6 143px,#fff 145px,#fff 187px,#f1f3f5 195px,#f1f3f5 205px,#fff 211px,#fff 245px,#f3f9f9 247px,#b5e2e5 249px,#35adb8 251px,#099baa 253px,#0098a8 255px,#00d8ee 335px,#00eefe 375px,#00f1f9 395px,#00e3e8 399px,#01bfc2 401px,#018086 403px,#004d5c 405px,#003e50 407px,#00364d 485px,#002556 491px,#00224d 505px,#052550 507px,#213f64 509px,#93a3b5 511px,#e5e9ed 513px,#fff 515px,#fff 529px,#f9fcfb 531px,#e7eeef 533px,#b6cbcc 535px,#548388 537px,#1d5a62 539px,#094a53 541px,#00444d 545px,#007e97 593px,#028ba9 609px,#0991ae 611px,#1d9cb8 613px,#54b7c9 615px,#b7e2e9 617px,#ecf7f9 619px,#fff 621px,#fff 643px,#f8fafb 645px,#d3e1e9 647px,#75a0bb 649px,#206893 651px,#06578a 653px,#005a8c 659px,#005984 689px,#00344d 757px,#00354d 767px,#0a3d55 769px,#355f73 771px,#b8c8ce 773px,#f6f7f9 775px,#fff 777px"></p><p style="--g:#fff 5px,#f0f6f9 7px,#b4d5e6 9px,#328abc 11px,#0773b0 13px,#006fb3 17px,#0097ef 79px,#00a7fe 117px,#00aafa 127px,#00a2ec 129px,#007db1 131px,#064e67 133px,#1e5365 135px,#7695a1 137px,#dee5e8 139px,#f9fafc 141px,#fff 143px,#fff 247px,#f6fbfc 249px,#cae8ed 251px,#47aec0 253px,#0995ab 255px,#0090aa 257px,#00d2f3 341px,#00e3fe 381px,#00e4f8 393px,#00dcf0 395px,#00cddd 397px,#005563 401px,#003f53 403px,#00374d 411px,#00324d 481px,#003157 483px,#00225a 487px,#011e4d 503px,#092655 505px,#324a70 507px,#a0abbd 509px,#ecedf3 511px,#fff 513px,#fff 533px,#f8f9f9 535px,#e7eeee 537px,#c0d0d3 539px,#568188 541px,#1c5460 543px,#034350 547px,#004858 555px,#007698 595px,#0280a3 605px,#0a85a9 607px,#1e90b3 609px,#56afc6 611px,#c0e2ea 613px,#e7f4f7 615px,#f8fcfc 617px,#fff 619px,#fff 647px,#ebf0f5 649px,#b2c9d9 651px,#356e9b 653px,#0c558c 655px,#004f89 659px,#005387 685px,#003453 747px,#00304d 765px,#0c3c56 767px,#4a6d81 769px,#cad5db 771px,#f6f6f7 773px,#fff 775px"></p><p style="--g:#fff 7px,#f3f9f9 9px,#b4d3e7 11px,#3285bd 13px,#076cb2 15px,#0068b4 19px,#008bf0 79px,#009cfe 117px,#009bf8 125px,#0091e6 127px,#0270aa 129px,#0d4b6a 131px,#3c677b 133px,#a9c0c9 135px,#e8eef0 137px,#fff 139px,#fff 249px,#f6fafc 251px,#b7dee6 253px,#329fb9 255px,#078dac 257px,#008bad 261px,#00c4f1 337px,#00d4fe 375px,#00d8f9 389px,#00c8e5 393px,#00a2b7 395px,#006b7c 397px,#004a60 399px,#003850 401px,#00334d 419px,#002e50 479px,#002951 481px,#00215b 483px,#031b4f 501px,#122a5a 503px,#4b5e82 505px,#cad0da 507px,#f3f3f7 509px,#fff 511px,#fff 537px,#f9fafb 539px,#e5ebec 541px,#71949e 545px,#2c5e6b 547px,#144b5b 549px,#023f52 553px,#006e99 597px,#0575a0 601px,#1f88ae 605px,#5facc7 607px,#b7dbe7 609px,#e6f3f6 611px,#f9fcfc 613px,#fff 615px,#fff 649px,#f6f6fb 651px,#cedae6 653px,#618ab0 655px,#1a5791 657px,#05498a 659px,#004c8b 669px,#004478 707px,#002c4d 755px,#012d4d 763px,#0c3856 765px,#4b6b82 767px,#cdd7dc 769px,#f8f9fa 771px,#fff 773px"></p><p style="--g:#fff 9px,#f3f9f9 11px,#b4d1e8 13px,#327ebf 15px,#0763b3 17px,#0060b6 21px,#0080f2 81px,#008ffd 115px,#0090fc 121px,#008ff5 123px,#0080da 125px,#045991 127px,#194d6e 129px,#57788c 131px,#cdd7dc 133px,#f3f6f7 135px,#fff 137px,#fff 251px,#f3f9f9 253px,#b4dbe6 255px,#329aba 257px,#0785ad 259px,#0083ae 263px,#00b5ef 333px,#00c6fe 371px,#00cafb 385px,#00c7f6 387px,#00bee8 389px,#00a4c6 391px,#00748a 393px,#004a60 395px,#003854 397px,#002f4d 403px,#002b4d 475px,#00275d 479px,#001b5d 481px,#00154d 497px,#031850 499px,#1b2e60 501px,#d3d8e1 505px,#f8f9fa 507px,#fff 509px,#fff 541px,#ecf0f1 545px,#cad7d9 547px,#97aeb5 549px,#507685 551px,#194c60 553px,#064056 557px,#005176 575px,#016391 593px,#1677a2 599px,#338ab0 601px,#92c0d5 603px,#c9e0ea 605px,#eaf3f7 607px,#fff 611px,#fff 651px,#fafcfc 653px,#e5ebf2 655px,#9fb5d0 657px,#30619a 659px,#0c4689 661px,#004189 665px,#004283 693px,#00284d 755px,#032b4f 761px,#13395b 763px,#4d6983 765px,#ced6dd 767px,#f8f9fa 769px,#fff 771px"></p><p style="--g:#fff 11px,#f3f9f9 13px,#b4cfe8 15px,#3276c0 17px,#095ab6 19px,#0056b5 21px,#0072ee 75px,#0080fd 111px,#0081fb 119px,#0082f4 121px,#0275d8 123px,#0c5187 125px,#2f5a78 127px,#94acbc 129px,#e2e8ec 131px,#fafcfc 133px,#fff 135px,#fff 253px,#f3f9f9 255px,#b4d8e6 257px,#3293ba 259px,#077dae 261px,#007bb0 265px,#00aaf0 333px,#00bdfe 373px,#00b9f8 383px,#00b4ec 385px,#00a0ce 387px,#006986 389px,#004b61 391px,#003152 395px,#002a4d 407px,#00264d 473px,#001e61 477px,#00145e 481px,#02134f 495px,#0a1b53 497px,#243367 499px,#949bb5 501px,#e6e7ed 503px,#fff 505px,#fff 545px,#f3f6f6 549px,#e3e9ec 551px,#71909e 555px,#396377 557px,#1a4c66 559px,#024468 569px,#025484 585px,#196c9c 593px,#3982ab 595px,#deecf3 601px,#f3f8fa 603px,#fff 607px,#fff 655px,#f2f5f8 657px,#c3cfe0 659px,#5679aa 661px,#17478d 663px,#043a88 665px,#003b82 695px,#00234d 755px,#042650 759px,#1d3e61 761px,#dfe3e8 765px,#f9fcfc 767px,#fff 769px"></p><p style="--g:#fff 13px,#f3f8f9 15px,#b6cdea 17px,#3e79c5 19px,#0b56ba 21px,#014eb8 23px,#0068f0 77px,#0073fd 111px,#0077fb 117px,#0076f4 119px,#036bd8 121px,#16538d 123px,#547490 125px,#c2cdd5 127px,#f0f3f6 129px,#fff 131px,#fff 255px,#f3f9f9 257px,#b4d6e6 259px,#328dbb 261px,#0975af 263px,#0072af 265px,#009aec 327px,#00adfe 365px,#00b1fb 379px,#00abf1 381px,#0098d2 383px,#004e6b 387px,#003959 389px,#002954 393px,#00264d 407px,#002250 471px,#001161 475px,#000e50 491px,#051251 493px,#19245f 495px,#545d88 497px,#b7bbcd 499px,#eeeff4 501px,#fff 503px,#fff 551px,#e1e9ec 557px,#c0ced5 559px,#abbdc8 561px,#7695a7 563px,#2b5c7c 567px,#165076 571px,#165885 581px,#1e6491 585px,#3a77a0 587px,#6e9cbc 589px,#85aec8 591px,#bbd3e0 593px,#e1edf2 595px,#fff 601px,#fff 657px,#f9f9fc 659px,#e1e6f0 661px,#2f5698 665px,#093887 667px,#003387 671px,#00337f 699px,#00204d 753px,#072652 757px,#2c476c 759px,#95a3b7 761px,#e8ecee 763px,#fff 765px"></p><p style="--g:#fff 15px,#f6f7fc 17px,#ccdbf0 19px,#4d7ecb 21px,#1152bd 23px,#0347b9 25px,#005bef 75px,#0066fd 107px,#006bf9 115px,#0068ef 117px,#0560d6 119px,#1e5493 121px,#7e95ad 123px,#d6dde3 125px,#f6f8fa 127px,#fff 129px,#fff 257px,#f3f9f9 259px,#b7d6e9 261px,#4893c3 263px,#0c70b4 265px,#006bb1 267px,#0091f0 331px,#00a0fe 369px,#00a4fa 377px,#009cec 379px,#0079b1 381px,#004868 383px,#003c58 385px,#002857 389px,#00224d 405px,#001e4e 467px,#001562 471px,#000b62 473px,#020b53 489px,#0c1558 491px,#323a71 493px,#9fa2bc 495px,#e4e5ec 497px,#f8f9f9 499px,#fff 501px,#fff 557px,#dde4eb 569px,#b6c9d4 571px,#b1c6d5 579px,#b6cbd8 581px,#dde8ee 583px,#fff 595px,#fff 661px,#eff2f7 663px,#cad2e4 665px,#4d68a4 667px,#13398a 669px,#032b84 671px,#002d84 691px,#001f59 739px,#011c4d 753px,#092452 755px,#324870 757px,#b4bdcb 759px,#eff0f4 761px,#fff 763px"></p><p style="--g:#fff 17px,#f9fcfd 19px,#dbe4f5 21px,#6b8fd5 23px,#154dbf 25px,#033ebc 27px,#004ff1 77px,#005bfb 107px,#005cf6 113px,#035ae9 115px,#0f54bf 117px,#335a91 119px,#a0afc3 121px,#e9ecf1 123px,#fff 125px,#fff 259px,#f6fafc 261px,#cde0ef 263px,#4b90c6 265px,#0c69b6 267px,#0063b2 269px,#0086f2 333px,#0096fe 369px,#0096f8 375px,#008ee8 377px,#006eb0 379px,#003f64 381px,#003153 383px,#002359 387px,#001e4d 401px,#001950 465px,#000964 469px,#010655 485px,#050955 487px,#1a1e62 489px,#616492 491px,#cdcfdc 493px,#f3f3f7 495px,#fff 497px,#fff 569px,#f6f9fa 573px,#f8f9fc 581px,#fff 583px,#fff 663px,#f9fbfc 665px,#dfe2ee 667px,#223d8f 671px,#092985 673px,#002284 677px,#00247d 701px,#00174d 749px,#031a4f 751px,#122859 753px,#3f5179 755px,#b6bdcc 757px,#f3f3f6 759px,#fff 761px"></p><p style="--g:#fff 21px,#e0e7f7 23px,#6d8cd7 25px,#1a49c2 27px,#0338be 29px,#0043f0 75px,#004cfb 105px,#0050f4 111px,#054fe4 113px,#1d50ae 115px,#6c84ab 117px,#d8dee6 119px,#f4f6f8 121px,#fff 123px,#fff 261px,#f8fafd 263px,#cde0f0 265px,#4b8ac7 267px,#0c63b7 269px,#005bb5 271px,#007bf1 331px,#0088fe 365px,#0089f7 373px,#007fe3 375px,#005896 377px,#003761 379px,#00225c 383px,#001a4d 401px,#00164d 461px,#000364 467px,#020358 481px,#08095b 483px,#171862 485px,#353574 487px,#9fa0bc 489px,#e5e6ee 491px,#fafbfc 493px,#fff 495px,#fff 667px,#ecedf5 669px,#b7bfd9 671px,#5465a7 673px,#192f8a 675px,#051e84 677px,#001d83 687px,#001a6b 721px,#00134d 747px,#051750 749px,#1e2f62 751px,#7e88a6 753px,#d3d6e0 755px,#f6f6f7 757px,#fff 759px"></p><p style="--g:#fff 23px,#e5ebf9 25px,#93a8e3 27px,#2249c6 29px,#0732c3 31px,#002bc5 35px,#003af3 79px,#0042f9 105px,#0243f0 109px,#0c49df 111px,#335bb5 113px,#a9b5d1 115px,#e6ecef 117px,#fff 119px,#fff 263px,#f8fafd 265px,#cddef0 267px,#4b85c9 269px,#0c5bba 271px,#0152b5 273px,#006ced 325px,#0078fd 359px,#007af6 371px,#0071e0 373px,#004f95 375px,#002f5f 377px,#00215b 379px,#001857 387px,#00154d 399px,#00114d 459px,#000563 463px,#00005a 473px,#020258 477px,#0a0a5b 479px,#1c1c65 481px,#4a4a83 483px,#ababc5 485px,#dfdfe9 487px,#f5f5f8 489px,#fff 491px,#fff 669px,#f8f9fc 671px,#e4e6f0 673px,#9fa6cd 675px,#324194 677px,#0c1f84 679px,#02157f 681px,#00167c 701px,#02104f 745px,#0c1a56 747px,#323f70 749px,#a0a5bc 751px,#e9eaf0 753px,#fff 755px"></p><p style="--g:#fff 25px,#edf0f9 27px,#acb8e9 29px,#4660d2 31px,#0f32c7 33px,#0224c5 35px,#002cf4 79px,#0034f8 103px,#063aee 107px,#1946dc 109px,#617bc5 111px,#cdd5e7 113px,#f3f5f8 115px,#fff 117px,#fff 265px,#f8fafd 267px,#cdddf1 269px,#4b80ca 271px,#1156bb 273px,#034bb8 275px,#0062f1 329px,#006dfd 361px,#006ffa 367px,#006cf2 369px,#0060ce 371px,#003c82 373px,#002b64 375px,#001a5f 377px,#00114d 399px,#010e4f 457px,#01035c 461px,#020258 469px,#13135e 475px,#212167 477px,#606092 479px,#c0c0d4 481px,#e6e6ee 483px,#fff 487px,#fff 673px,#f3f3f7 675px,#cdd0e4 677px,#6168ac 679px,#1b2689 681px,#07137f 683px,#000e7f 689px,#000e6a 721px,#010c51 741px,#051051 743px,#1a235f 745px,#616791 747px,#cdd0dc 749px,#f3f3f7 751px,#fff 753px"></p><p style="--g:#fff 27px,#f3f6fc 29px,#d0d6f5 31px,#6172db 33px,#192fca 35px,#031ac7 37px,#0021f4 79px,#0026f6 101px,#022bf4 103px,#0f36ec 105px,#3957da 107px,#96a2d4 109px,#e4e7f3 111px,#fafcfc 113px,#fff 115px,#fff 267px,#f8fafe 269px,#d3dff2 271px,#6b91d4 273px,#1a55be 275px,#0345ba 277px,#0049d3 297px,#0058f7 339px,#0061fb 363px,#0062f9 365px,#005fee 367px,#0050c6 369px,#002c73 371px,#001b62 373px,#00105f 379px,#000d4d 397px,#010b4d 449px,#1b2261 455px,#151563 461px,#181861 467px,#226 469px,#4c4c82 471px,#6b6b98 473px,#d3d3e1 477px,#f9f9fb 481px,#fff 483px,#fff 675px,#fafbfc 677px,#e6e8f3 679px,#abaed1 681px,#494c9c 683px,#131981 685px,#03097b 687px,#000875 707px,#030954 739px,#11175c 741px,#323871 743px,#9fa2bc 745px,#e5e6ed 747px,#fafbfc 749px,#fff 751px"></p><p style="--g:#fff 29px,#fafcff 31px,#e3e6f9 33px,#939be7 35px,#2230ce 37px,#0716ca 39px,#000fd2 45px,#0016f4 81px,#011df4 99px,#0722f0 101px,#1e38ea 103px,#697ada 105px,#c6cde9 107px,#f0f2f7 109px,#fff 111px,#fff 271px,#e5ebf8 273px,#93ace1 275px,#2152c2 277px,#053bbd 279px,#003cc9 289px,#004bf3 331px,#0053fb 359px,#0057f6 363px,#0051ea 365px,#0043bd 367px,#002673 369px,#001364 371px,#000c62 375px,#00094d 395px,#01074d 445px,#101658 449px,#3d4279 451px,#9fa2c2 453px,#d9dae4 455px,#b3b3cc 459px,#b3b3cc 465px,#e1e1ea 469px,#fff 477px,#fff 679px,#f6f6f9 681px,#dedfec 683px,#242685 687px,#0f117c 689px,#010377 693px,#000269 719px,#020557 735px,#0c0e5b 737px,#212467 739px,#7e7fa7 741px,#d1d2df 743px,#f3f3f7 745px,#fff 747px"></p><p style="--g:#fff 33px,#eceff9 35px,#aaaeeb 37px,#3d44d6 39px,#1218cf 41px,#040bce 43px,#0005db 53px,#0008f4 83px,#0313f2 97px,#1323ec 99px,#4956e2 101px,#b4bbea 103px,#e9ebf8 105px,#f9f9fc 107px,#fff 109px,#fff 273px,#ecf0f9 275px,#a0b2e4 277px,#2e56c8 279px,#0938c1 281px,#0030c1 283px,#003cef 325px,#0046fa 355px,#004af4 361px,#0042e2 363px,#0034b0 365px,#001770 367px,#000a67 369px,#00054f 389px,#030550 443px,#101259 445px,#343672 447px,#6f719a 449px,#dadae5 451px,#f4f5f9 453px,#fff 455px,#f6f6f9 461px,#fafafc 467px,#fff 469px,#fff 683px,#eeeef6 685px,#cfcfe5 687px,#2d2d85 691px,#131376 693px,#01016e 697px,#000065 717px,#040459 731px,#0d0d5c 733px,#1f2067 735px,#babace 739px,#ececf3 741px,#fff 743px"></p><p style="--g:#fff 35px,#f3f3fc 37px,#d3d3f6 39px,#2d2ed4 43px,#1111cd 45px,#0303ce 47px,#0001f0 81px,#0305f0 93px,#0f13ee 95px,#2b31ee 97px,#d4d7f3 101px,#f6f6fc 103px,#fff 105px,#fff 275px,#f0f3fa 277px,#b6c1ed 279px,#3e5cce 281px,#0b2ec4 283px,#0028c5 287px,#0030ef 325px,#0038f9 353px,#003cf7 357px,#003bef 359px,#0035d4 361px,#002091 363px,#000c70 365px,#000165 369px,#00014c 391px,#02024c 439px,#090950 441px,#292969 443px,#c6c7dd 447px,#ececf1 449px,#fff 451px,#fff 687px,#eeeef4 689px,#c8c8de 691px,#8a8ab6 693px,#3a3a86 695px,#141470 697px,#030368 701px,#020258 725px,#141460 729px,#2e2e6f 731px,#babad1 735px,#e9e9f1 737px,#f9f9f9 739px,#fff 741px"></p><p style="--g:#fff 39px,#eeeefc 41px,#c7c7f3 43px,#7d7de2 45px,#2323cd 47px,#0d0dc8 49px,#0101cc 53px,#0000e3 81px,#0304e5 89px,#0c0ce7 91px,#2323e7 93px,#bcbdfa 97px,#ececfc 99px,#fff 101px,#fff 277px,#f6f6fc 279px,#ccd3f3 281px,#4d64d3 283px,#1632c8 285px,#0421c6 287px,#0021dc 305px,#0029f7 337px,#002cf7 353px,#002eea 357px,#0028c4 359px,#00157e 361px,#000765 363px,#000060 367px,#000049 391px,#010148 435px,#06064c 437px,#181859 439px,#414176 441px,#b5b5cb 443px,#ebebf1 445px,#fff 449px,#fff 689px,#efeff5 693px,#d5d5e5 695px,#5d5d96 699px,#2d2d76 701px,#181869 703px,#09095f 711px,#0e0e5d 719px,#151560 723px,#212166 725px,#d3d3e0 731px,#ececf2 733px,#fff 737px"></p><p style="--g:#fff 41px,#eeeefc 45px,#cdcdf3 47px,#7676dc 49px,#2e2ecb 51px,#1313c5 53px,#0606c4 55px,#0000d3 73px,#0606d8 85px,#1111d9 87px,#2d2ddf 89px,#6d6de9 91px,#ccccf8 93px,#ececfd 95px,#fff 99px,#fff 279px,#f9fbff 281px,#e1e5f7 283px,#949ee7 285px,#2d3ecf 287px,#091cc9 289px,#0013ce 293px,#001af4 331px,#0021f5 351px,#0022f0 353px,#0022e0 355px,#001bb5 357px,#000c79 359px,#000362 361px,#000056 369px,#004 391px,#010143 431px,#060647 433px,#161653 435px,#3f3f76 437px,#aaaac5 439px,#e2e2e9 441px,#f7f7f9 443px,#fff 445px,#fff 695px,#e0e0ea 701px,#b4b4cd 703px,#7d7da7 707px,#54548b 709px,#4e4e85 715px,#545489 717px,#7b7ba4 719px,#8f8fb1 721px,#d4d4e1 725px,#e9e9f1 727px,#fff 731px"></p><p style="--g:#fff 47px,#d1d1f3 51px,#4646cf 55px,#1e1ec2 57px,#1111bf 59px,#0101c1 69px,#0909c8 77px,#1212ce 81px,#1e1ed0 83px,#4444d9 85px,#8585e6 87px,#dadaf9 89px,#fafaff 93px,#fff 95px,#fff 283px,#eff0fb 285px,#b6baef 287px,#3f49d5 289px,#111bce 291px,#030dcd 293px,#000be7 315px,#0013f6 345px,#0116f3 349px,#0419e9 351px,#0217ce 353px,#000e8c 355px,#000464 357px,#000054 361px,#000040 387px,#020241 427px,#181852 431px,#3f3f6e 433px,#a0a0b7 435px,#e1e1e9 437px,#f6f6f9 439px,#fff 441px,#fff 701px,#eaeaf1 709px,#efeff5 719px,#fff 725px"></p><p style="--g:#fff 51px,#e7e7f9 55px,#c6c6ef 57px,#9090e0 59px,#3535c5 65px,#1e1ec0 67px,#1e1ec2 73px,#2b2bc7 75px,#9a9ae8 81px,#c8c8f4 83px,#e6e6fa 85px,#fff 89px,#fff 285px,#f6f6fd 287px,#d1d3f6 289px,#7576e2 291px,#2023d2 293px,#0c0dd1 295px,#0003d3 299px,#0004f2 331px,#0109f3 345px,#060ef1 347px,#141dea 349px,#2e36c7 351px,#1b1e73 353px,#0c0d5a 355px,#03044e 357px,#00003b 387px,#03033d 423px,#0c0c43 425px,#212153 427px,#5d5d83 429px,#acacc5 431px,#e2e2e9 433px,#f5f5f7 435px,#fff 437px"></p><p style="--g:#fff 55px,#e3e3f7 67px,#e4e4f8 75px,#fff 85px,#fff 289px,#ebebfb 291px,#b9baf0 293px,#1f1fcf 297px,#0c0ccd 299px,#0000ce 303px,#0000e5 325px,#0406eb 343px,#1515ed 345px,#3d3eed 347px,#9698f5 349px,#dadbf4 351px,#c1c1d3 353px,#6c6c90 355px,#2d2d62 357px,#161651 359px,#010141 365px,#000037 385px,#010138 415px,#18184b 421px,#2e2e5f 423px,#6d6d8c 425px,#ccccd8 427px,#e9e9ee 429px,#fff 433px"></p><p style="--g:#fff 291px,#f9f9fd 293px,#e9e9fb 295px,#b9b9ee 297px,#1f1fca 301px,#0303c6 305px,#0000de 335px,#0909e1 339px,#1616e0 341px,#3131e5 343px,#9494f2 345px,#dfdffb 347px,#fff 351px,#eeeef2 355px,#dedee6 357px,#696988 361px,#373761 363px,#181849 365px,#020235 371px,#020234 409px,#191947 415px,#393961 417px,#b9b9c7 421px,#e1e1e8 423px,#fafafc 427px,#fff 429px"></p><p style="--g:#fff 295px,#f9f9fc 297px,#e9e9fa 299px,#babaee 301px,#2c2cc8 305px,#1414c2 307px,#0606c3 311px,#0000ca 325px,#0909d1 333px,#0f0fd2 335px,#1e1ed7 337px,#a2a2f1 341px,#d4d4fa 343px,#f1f1fe 345px,#fff 347px,#fff 357px,#e1e1e8 363px,#b9b9c6 365px,#767690 367px,#446 369px,#212148 371px,#0d0d39 377px,#01012f 387px,#090934 401px,#212148 409px,#446 411px,#bbc 415px,#e1e1ea 417px,#fff 423px"></p><p style="--g:#fff 299px,#ececfb 303px,#cacaf1 305px,#5f5fd2 309px,#1e1ec1 313px,#1010bf 317px,#1515c6 327px,#1a1ac6 329px,#2b2bcd 331px,#5050d7 333px,#bcbcf2 337px,#e7e7fc 339px,#fff 343px,#fff 363px,#dedee5 371px,#bbbbc6 373px,#85859b 375px,#717188 377px,#52526e 379px,#494967 381px,#222247 383px,#1c1c41 389px,#1e1e44 395px,#2b2b4f 397px,#4a4a68 399px,#52526e 401px,#8f8fa2 405px,#bbbbca 407px,#dedee6 409px,#fff 417px"></p><p style="--g:#fff 303px,#e6e6f9 311px,#afafe9 315px,#8585dd 317px,#8080db 323px,#8585df 325px,#adadea 327px,#c0c0ef 329px,#e1e1f8 331px,#fff 339px,#fff 371px,#eaeaed 379px,#e3e3e7 389px,#e4e4ea 397px,#f9f9f9 407px,#fff 409px"></p><p style="--g:#fff 311px,#f1f1fb 319px,#f6f6fc 327px,#fff 331px"></p></div>
<div class="s" style="left:606px;top:511px;width:780px"><p style="--g:#fff 347px,#f9f6f6 351px,#f1eaea 371px,#fcf9f9 387px,#fff 389px"></p><p style="--g:#fff 283px,#f6f1f1 289px,#f1eaea 307px,#f1e7e7 341px,#ebdddd 347px,#d2b6b6 349px,#cdacac 353px,#b88f8f 355px,#ae8383 357px,#a97a7a 363px,#8e5454 365px,#884e4e 369px,#8a5050 371px,#a57d7d 375px,#a98383 381px,#d4c0c0 387px,#eadede 389px,#f6f2f2 397px,#fff 403px"></p><p style="--g:#fff 269px,#f3eaea 277px,#f0e1e1 281px,#e6d4d4 283px,#d4b5b5 285px,#ceabab 287px,#b68585 289px,#b07a7a 293px,#9b5d5d 295px,#915050 297px,#874e4e 323px,#934c4c 339px,#8b3f3f 341px,#792121 343px,#6d0f0f 357px,#5e0909 371px,#5e1818 387px,#631e1e 389px,#835050 393px,#d9caca 401px,#eae1e1 403px,#fff 411px"></p><p style="--g:#fff 259px,#f8f0f0 263px,#efdede 269px,#dcbbbb 271px,#b88585 273px,#b07171 275px,#9d5252 277px,#9c4949 279px,#862222 281px,#7e1515 285px,#6d0909 299px,#560909 325px,#700606 341px,#6d0101 355px,#510101 387px,#5f1818 401px,#662323 403px,#8b5858 405px,#bb9d9d 409px,#dfd0d0 411px,#f2ebeb 415px,#fff 423px"></p><p style="--g:#fff 247px,#f4e1e1 257px,#ebd0d0 259px,#d39d9d 261px,#c57d7d 263px,#af5353 265px,#a63f3f 267px,#972121 269px,#890d0d 275px,#7e0101 285px,#540000 331px,#700000 343px,#6d0000 347px,#590000 361px,#520202 403px,#6a2323 413px,#8f5858 415px,#a97d7d 417px,#cfb3b3 421px,#eadede 423px,#f1eaea 425px,#fff 433px"></p><p style="--g:#fff 239px,#f4e0e0 247px,#e3b5b5 249px,#da9f9f 251px,#c56b6b 253px,#b84c4c 255px,#a52222 257px,#960606 267px,#8b0000 285px,#690000 331px,#4e0000 373px,#540000 397px,#560202 413px,#671515 421px,#712121 423px,#8e4c4c 425px,#b48383 429px,#cca7a7 431px,#eadbdb 433px,#f4eaea 439px,#f8f0ef 447px,#fcf6f6 461px,#fff 465px"></p><p style="--g:#fff 231px,#f9e9e9 237px,#f1d3d3 239px,#d07575 243px,#b62b2b 247px,#af1818 249px,#a40101 259px,#760000 331px,#4b0000 375px,#560000 407px,#5d0202 423px,#811e1e 435px,#9f4c4c 439px,#a75554 441px,#bd7a7a 443px,#c38180 445px,#c37e7b 447px,#bb6963 449px,#c7807b 451px,#cc8a83 457px,#e0b3af 461px,#e3bbb6 463px,#f2e0dd 465px,#fff 475px"></p><p style="--g:#fff 227px,#fcecec 231px,#f2c8c8 233px,#bf2121 239px,#ba0d0d 243px,#b40101 251px,#a20000 287px,#790000 339px,#4a0000 381px,#590000 409px,#640101 431px,#86110e 447px,#9f2316 463px,#a42b1e 465px,#bb5f53 469px,#d1918a 471px,#efd8d4 475px,#f9f3f2 479px,#fff 483px"></p><p style="--g:#fff 221px,#fcf3f3 225px,#fae0e0 227px,#efafaf 229px,#d02b2b 233px,#ca1313 235px,#c40202 239px,#b60000 277px,#920000 327px,#4a0000 387px,#5b0000 413px,#6b0000 437px,#911302 465px,#a22915 473px,#a9341e 475px,#b95746 477px,#e9cbc6 481px,#f5e9e7 483px,#fff 489px"></p><p style="--g:#fff 219px,#fdecec 221px,#f7caca 223px,#ee9292 225px,#de3333 227px,#d81818 229px,#d30303 233px,#c80000 271px,#9f0000 325px,#4c0000 389px,#500 403px,#720500 445px,#981b02 475px,#a32910 479px,#aa371e 481px,#bc5c46 483px,#d6978a 485px,#e8c4bc 487px,#f5e7e4 489px,#fff 493px"></p><p style="--g:#fff 213px,#feeeee 217px,#fad0cf 219px,#f07676 221px,#e62c2c 223px,#e31413 225px,#e10505 227px,#e00000 247px,#b90000 311px,#800 351px,#4b0000 395px,#650000 427px,#790f00 455px,#9c2202 481px,#a83010 485px,#ae3c1b 487px,#be6348 489px,#deb0a0 491px,#f4e4de 493px,#fff 497px"></p><p style="--g:#fff 211px,#ffefee 213px,#fbcac7 215px,#ec342e 219px,#ea1610 221px,#ea0803 223px,#ed0000 239px,#cd0000 303px,#970000 349px,#4d0000 397px,#530000 407px,#640200 425px,#761300 455px,#a12b02 487px,#a73107 489px,#ac3e15 491px,#b8542e 493px,#d09076 495px,#efd8cd 497px,#f9efeb 499px,#fff 503px"></p><p style="--g:#fff 207px,#fff0ee 209px,#fbd5cf 211px,#ee3c2d 215px,#eb2111 217px,#ec1304 219px,#f80100 249px,#db0000 303px,#a00000 349px,#4d0000 401px,#630800 429px,#781a00 459px,#a83504 493px,#ae3e0d 495px,#b75022 497px,#d08969 499px,#e9c9b9 501px,#f7eee9 503px,#fcf9f9 505px,#fff 507px"></p><p style="--g:#fff 203px,#fff6f5 205px,#fce1dc 207px,#ed3f24 211px,#eb290f 213px,#ee1b01 217px,#fc0400 261px,#e00 293px,#cf0000 323px,#790000 379px,#4d0000 405px,#7b2100 463px,#ab3d02 497px,#b2450c 499px,#b9571f 501px,#eaccb9 505px,#f7efe7 507px,#fdfcf9 509px,#fff 511px"></p><p style="--g:#fff 199px,#fffaf9 201px,#fdeae5 203px,#f8b1a1 205px,#ef5d3e 207px,#eb3712 209px,#ec2a03 211px,#fd1200 257px,#fa0000 295px,#e20000 317px,#9c0000 365px,#4e0000 407px,#530900 419px,#7b2700 465px,#af4702 501px,#be5e1e 505px,#d38f5f 507px,#efd6c2 509px,#fbf2eb 511px,#fff 515px"></p><p style="--g:#fff 195px,#fef2ed 199px,#facfc1 201px,#f0805f 203px,#ec481a 205px,#eb3906 207px,#ee3000 211px,#ff1d00 261px,#fb0000 307px,#bc0000 351px,#670000 397px,#4d0400 409px,#550f00 425px,#7e2f00 469px,#b45102 505px,#ba590c 507px,#c5702b 509px,#eed3ba 513px,#faf3ec 515px,#fff 517px,#fff 597px,#f6f1f1 607px,#f1eaea 621px,#f9f8f8 637px,#fff 639px"></p><p style="--g:#fff 23px,#fbf6f6 29px,#fcfafa 35px,#fff 37px,#fff 193px,#fef2ee 195px,#fad7c7 197px,#f39f7d 199px,#ec5a23 201px,#ea470a 203px,#ed3e00 207px,#ff2b00 257px,#ff0d00 301px,#f60000 319px,#950000 379px,#610200 403px,#4d0700 411px,#521200 427px,#843800 475px,#b85c03 509px,#be650d 511px,#c67322 513px,#f7ebde 517px,#fcf9f5 519px,#fff 521px,#fff 533px,#f2eaea 547px,#f2e9e9 591px,#ecdede 597px,#d9c0c0 599px,#cdadad 603px,#b88f8f 605px,#ae8383 607px,#aa7d7d 611px,#8d5050 615px,#885050 621px,#915d5d 623px,#a57a7a 625px,#a98383 631px,#c6afaf 635px,#ccb6b6 637px,#e8dddd 639px,#fff 653px"></p><p style="--g:#fff 11px,#efdede 23px,#dfc0c0 25px,#d6b3b3 27px,#d5b3b3 33px,#ece1e1 37px,#f9f4f4 45px,#fff 47px,#fff 189px,#fff7f3 191px,#fae1d3 193px,#eb6b2d 197px,#e85611 199px,#ea4c03 201px,#fe3900 249px,#ff2400 289px,#fa0700 321px,#d20000 349px,#7e0100 395px,#4d0a00 413px,#531700 431px,#854000 477px,#bd6703 513px,#c47213 515px,#d39347 517px,#e8c9a1 519px,#f5ebe3 521px,#f7f1ef 523px,#f1e4e4 531px,#ecdddd 533px,#d5b6b6 535px,#cfadad 537px,#bd8f8f 539px,#a77171 543px,#945353 545px,#8c4e4e 555px,#884e4e 577px,#944e4e 589px,#914949 591px,#7a2222 593px,#6c0f0f 609px,#5c0909 623px,#5d1616 637px,#6b2b2b 641px,#9a7171 645px,#a98585 647px,#c6afaf 649px,#eae1e1 653px,#fff 663px"></p><p style="--g:#fff 5px,#f5e4e4 11px,#e8c6c6 13px,#d29090 15px,#a13535 21px,#931e1e 23px,#831515 29px,#7b1818 35px,#7c2121 37px,#c09d9d 45px,#e2d2d2 47px,#efe7e7 49px,#fff 55px,#fff 185px,#fffcf9 187px,#fceee4 189px,#f6c8a9 191px,#eb7f3d 193px,#e76112 195px,#e75704 197px,#f05400 209px,#f40 257px,#ff2a00 295px,#fa1000 321px,#d40100 353px,#8a0300 393px,#4d0e00 415px,#501b00 433px,#8c4b00 483px,#b26700 507px,#be6a06 517px,#bb6e18 519px,#bb847a 523px,#bb7a7a 525px,#a35454 527px,#9e4a4a 529px,#8c2b2b 531px,#7e1616 535px,#6e0909 549px,#560909 575px,#680909 587px,#730101 597px,#510202 639px,#5f1818 651px,#632121 653px,#7e4444 655px,#a27a7a 657px,#b59292 659px,#d9c5c5 661px,#eae1e1 663px,#fff 673px"></p><p style="--g:#fff 3px,#fbf4f4 5px,#eabcbc 7px,#b93a3a 11px,#a91b1b 13px,#9c0d0d 17px,#850101 27px,#700606 39px,#6d1313 45px,#701e1e 47px,#864646 49px,#d9c6c6 53px,#ece4e4 55px,#fff 61px,#fff 181px,#fcf3eb 185px,#f6d9c2 187px,#ea9556 189px,#e5711b 191px,#e46206 193px,#ed5f00 205px,#ff5300 249px,#ff3d00 287px,#fa1a00 321px,#ca0400 361px,#8f0800 393px,#4d1000 417px,#512000 437px,#915600 487px,#a86400 501px,#ae6200 507px,#af5b00 509px,#9b2900 515px,#8e0f02 519px,#8c100e 523px,#7f0101 535px,#540000 581px,#740000 595px,#5a0000 609px,#510202 653px,#682121 663px,#814444 665px,#a87a7a 667px,#e3d4d4 673px,#f0e7e7 675px,#fff 683px"></p><p style="--g:#fff 1px,#fcfafa 3px,#f0d4d4 5px,#c34747 9px,#b42020 11px,#a50606 15px,#820000 33px,#650202 47px,#651110 51px,#681e1b 53px,#783d39 55px,#a07875 57px,#d0bcba 59px,#efe7e7 61px,#fff 65px,#fff 179px,#fcf4ec 181px,#f5d8ba 183px,#e3812b 187px,#e06e0c 189px,#e16500 193px,#f56800 221px,#f55c00 245px,#ed4e00 265px,#f14700 281px,#ff3f00 297px,#f92500 321px,#c90b00 361px,#910d00 395px,#591200 415px,#4d1600 421px,#522600 441px,#925c00 489px,#9f5b00 497px,#a24400 501px,#9b1300 507px,#990600 513px,#8d0000 531px,#640000 587px,#5f0000 597px,#4e0000 623px,#540000 647px,#550202 663px,#671515 671px,#701f1f 673px,#8d4a4a 675px,#9d5d5d 677px,#caa6a6 681px,#e5d1d1 683px,#efe1e1 685px,#f8f0f0 695px,#f9f1ef 703px,#fcf9f8 713px,#fff 715px"></p><p style="--g:#fff 3px,#f7e5e5 9px,#ecc6c6 11px,#d98a8a 13px,#bd3a3a 15px,#af1414 17px,#a20202 21px,#710100 45px,#580c06 55px,#59140d 57px,#62251e 59px,#b89f9a 63px,#e8e0df 65px,#f5f1f1 67px,#fff 71px,#fff 173px,#f9f5f3 177px,#f4e6dc 179px,#d77b22 183px,#d56e0d 185px,#d36500 189px,#d26400 191px,#bc5000 195px,#c65100 219px,#e06400 221px,#e86400 227px,#e66500 229px,#dd5d00 231px,#ca4f00 233px,#cc4b00 239px,#b33700 241px,#af3400 245px,#962100 247px,#8f1d00 251px,#771000 253px,#6e0a00 259px,#660b00 277px,#801700 279px,#932100 283px,#b12b00 287px,#ea4400 293px,#ff4000 307px,#e92200 335px,#bc0f00 371px,#8f1100 399px,#631500 415px,#4e1700 421px,#502900 443px,#845300 479px,#915400 487px,#964b00 489px,#9f3800 491px,#a60b00 499px,#a40000 513px,#6f0000 589px,#4b0000 625px,#560000 657px,#5c0202 673px,#7d1e1e 685px,#8a2b2b 687px,#9d4a4a 689px,#a35252 691px,#b57171 693px,#c27e7d 695px,#c27d7a 697px,#bb655f 699px,#bc665f 701px,#c8807a 703px,#cc8983 707px,#d1958f 709px,#deb1ad 711px,#e3bbb6 713px,#f1e0dd 715px,#fff 727px"></p><p style="--g:#fff 9px,#fbefef 13px,#f1d5d5 15px,#b52222 21px,#a10303 27px,#720500 47px,#510c02 59px,#5c2214 63px,#764639 65px,#d6cac6 69px,#efebea 71px,#fff 75px,#fff 161px,#efe1e1 173px,#e2c7c7 175px,#cfa093 177px,#b4613c 179px,#a13f12 181px,#902603 183px,#8b2100 185px,#740d00 189px,#5f0a00 219px,#750900 239px,#6e0300 251px,#540000 277px,#640b00 293px,#811700 295px,#8f1d00 297px,#c13100 301px,#e13e00 303px,#f14300 307px,#fa3d00 317px,#cd1a00 355px,#9b1300 397px,#781800 413px,#4f1b00 425px,#4e2d00 445px,#754800 469px,#864a00 477px,#a42100 483px,#aa1c00 485px,#af0d00 487px,#b60000 499px,#950000 557px,#6c0000 601px,#4a0000 633px,#590000 661px,#630101 681px,#85100e 697px,#8e150e 703px,#9f2316 713px,#aa392b 717px,#c88076 721px,#dfb4ac 723px,#f5e7e6 727px,#fff 733px"></p><p style="--g:#fff 15px,#f4dddd 21px,#b72d2c 27px,#aa1816 29px,#9d0603 33px,#5b0c00 57px,#4e1001 63px,#57200f 67px,#63321f 69px,#8e6c5f 71px,#cebeb7 73px,#eee8e6 75px,#fff 79px,#fff 151px,#f1dede 161px,#b36767 169px,#a44c4c 171px,#8d2222 173px,#7d0601 181px,#640000 205px,#540000 225px,#620000 233px,#760000 243px,#680000 255px,#570000 275px,#510000 293px,#620800 303px,#6e0e00 305px,#c23100 311px,#dd3c00 313px,#ec4000 317px,#ed3a00 327px,#c41b00 359px,#9f1500 401px,#7f1b00 417px,#501f00 429px,#513000 447px,#763c00 463px,#862d00 467px,#962900 469px,#b60e00 475px,#c40000 489px,#b60000 527px,#8e0000 581px,#4a0000 637px,#5c0000 667px,#6d0000 689px,#941503 717px,#a7301e 725px,#b65444 727px,#c98376 729px,#e4c0b9 731px,#f4e4e1 733px,#fff 739px"></p><p style="--g:#fff 21px,#f4dede 27px,#b1332d 33px,#a52018 35px,#980f06 39px,#760d00 51px,#4d1200 65px,#4f1702 69px,#53200a 71px,#61321d 73px,#866553 75px,#bfaea2 77px,#e9e3e1 79px,#fff 83px,#fff 141px,#f6e6e6 149px,#eed4d4 151px,#c17171 157px,#ac4444 159px,#9d2121 161px,#900c0c 169px,#870101 175px,#670000 215px,#5d0000 229px,#650000 245px,#560000 253px,#540100 305px,#670700 313px,#740e00 315px,#951d00 317px,#bd2e00 321px,#db3a00 325px,#d93100 335px,#b51900 367px,#9c1700 417px,#821b00 427px,#6a1e00 431px,#722500 447px,#822000 449px,#8d2000 453px,#9e1800 455px,#c20800 463px,#d20000 479px,#cb0000 513px,#a50000 571px,#4b0000 641px,#6f0400 693px,#981b02 725px,#a83318 731px,#b65139 733px,#cb8575 735px,#e5c2b9 737px,#f4e6e1 739px,#fff 743px"></p><p style="--g:#fff 27px,#f3e1e1 33px,#e4bcb9 35px,#af4439 39px,#9f2518 41px,#891102 47px,#4e1500 67px,#4e1d02 73px,#5d3216 77px,#76523a 79px,#ddd6cf 83px,#f0ecea 85px,#fbf9f9 87px,#fff 89px,#fff 129px,#f6e4e4 139px,#f0d4d4 141px,#d99595 145px,#c45f5f 147px,#aa1e1e 151px,#9c0202 161px,#5c0000 249px,#4c0000 271px,#500 295px,#570000 313px,#6c0600 323px,#b62500 333px,#c12800 339px,#af1900 355px,#af1300 427px,#bc1000 447px,#dc0000 467px,#df0000 493px,#c80000 541px,#ab0000 575px,#5f0000 629px,#4b0000 647px,#650000 677px,#790f00 705px,#9c2101 731px,#ac3918 737px,#ba5739 739px,#d08c78 741px,#efd6cd 743px,#f9eeea 745px,#fcf9f9 747px,#fff 749px"></p><p style="--g:#fff 33px,#f3e4e1 39px,#e2bdb9 41px,#ac4839 45px,#9d2b1b 47px,#7f1602 55px,#501800 69px,#502706 79px,#57300f 81px,#634221 83px,#907860 85px,#d3cac0 87px,#ece9e3 89px,#fff 95px,#fff 119px,#f3e1e1 129px,#e7c0c0 131px,#e2adad 133px,#d18383 135px,#c66363 137px,#b52f2f 139px,#ae1c1c 141px,#a60202 151px,#a40000 171px,#700000 239px,#4a0000 277px,#570000 303px,#5e0000 323px,#960d00 351px,#ba1800 419px,#eb0300 475px,#ec0000 495px,#c90000 559px,#910000 603px,#4c0000 649px,#640300 677px,#781400 707px,#a12a01 737px,#ab370e 741px,#b44821 743px,#cb7d60 745px,#ebcdc0 747px,#f8eee9 749px,#fff 753px"></p><p style="--g:#fff 39px,#f4e7e4 45px,#dbb3ac 49px,#a74b3a 53px,#98321e 55px,#82230c 61px,#681c01 67px,#511d01 73px,#4f2902 83px,#60401a 87px,#745b39 89px,#c7beaf 93px,#e9e6e0 95px,#fff 101px,#fff 103px,#f6eaea 113px,#f3eae9 115px,#ecd4d4 119px,#d58f8f 123px,#ce7c7a 125px,#be5150 127px,#a73535 129px,#9b1b1a 131px,#981515 133px,#87100f 135px,#810302 141px,#810100 155px,#a60000 163px,#ab0000 179px,#860000 229px,#4a0000 281px,#5c0000 317px,#6f0000 337px,#9c1300 369px,#c41d00 423px,#f30900 481px,#f60100 505px,#db0000 553px,#a10000 599px,#670300 633px,#570504 645px,#4d0000 655px,#620500 675px,#731600 705px,#a73402 743px,#ac3c0a 745px,#b64d1e 747px,#cb805d 749px,#e5c0ad 751px,#f6ebe4 753px,#fcf8f6 755px,#fff 757px"></p><p style="--g:#fff 45px,#f4eae7 53px,#f0e1dd 55px,#c68f83 59px,#a95d4c 63px,#943922 65px,#832f15 69px,#542609 77px,#4d2501 81px,#502f06 89px,#5d4018 93px,#6d542d 95px,#b8aa9a 99px,#ded4cf 101px,#e0d4d1 103px,#d9b8b5 105px,#daafad 107px,#ac5452 113px,#984b49 115px,#8b2422 117px,#5f130e 125px,#560601 133px,#570700 161px,#5a0700 163px,#6a0500 165px,#7a0500 169px,#9c0200 173px,#a90100 175px,#b30000 187px,#930000 227px,#4b0000 285px,#600000 321px,#770500 345px,#ab1e00 389px,#da2200 443px,#f71100 485px,#fa0000 523px,#e60000 553px,#c30000 583px,#8e0000 617px,#850200 621px,#700300 625px,#640d00 627px,#5c1900 635px,#61220c 639px,#6d261a 641px,#823f3b 643px,#7b3332 645px,#681919 647px,#4f0101 655px,#5b0600 671px,#771e00 711px,#aa3c02 747px,#b14509 749px,#b9531b 751px,#cb7d52 753px,#e4bba3 755px,#f6ebe2 757px,#fcf9f6 759px,#fff 761px"></p><p style="--g:#fff 55px,#f2e4e1 65px,#ead9d4 67px,#ddbdb5 69px,#d7b6ad 71px,#c89b8f 73px,#b5897a 75px,#885e4e 77px,#64331f 79px,#4f1b02 85px,#501b03 95px,#5f2519 101px,#561107 115px,#4d0c00 129px,#500d00 167px,#5b0d00 175px,#aa0400 185px,#b30300 187px,#b40000 205px,#8a0000 243px,#4b0000 289px,#6b0400 337px,#ba2800 405px,#e82800 455px,#fd1500 503px,#fb0100 543px,#e30000 567px,#a10300 611px,#820d00 619px,#540e00 627px,#513103 633px,#593b0b 635px,#6c5320 637px,#d0c3b9 641px,#eee3e3 643px,#ece1e1 645px,#c1a2a2 649px,#a27171 651px,#793939 653px,#621919 655px,#530706 659px,#4e0500 665px,#651600 693px,#883000 725px,#af4602 751px,#bc5918 755px,#cb7e49 757px,#e7c5ab 759px,#f8eee7 761px,#fff 765px"></p><p style="--g:#fff 67px,#f0e9e7 77px,#e1d6d2 79px,#beaaa2 81px,#63361e 85px,#56240d 87px,#4d1901 91px,#4d1300 145px,#501200 177px,#581200 185px,#8a0a00 193px,#9c0600 195px,#a00700 199px,#b20300 201px,#b50300 209px,#be0000 211px,#8f0000 247px,#4c0000 293px,#660200 327px,#761000 351px,#bd3000 407px,#eb3300 457px,#fd2000 503px,#fb0000 557px,#b90300 603px,#a80e00 609px,#8b1600 617px,#601200 627px,#531300 629px,#511903 631px,#5e3814 633px,#8c7a59 635px,#d9d3c6 637px,#f1eeea 639px,#fff 643px,#fff 645px,#f4eeee 651px,#ece1e1 653px,#d1bbbb 655px,#ad8a8a 657px,#7d4846 659px,#60201c 661px,#500b04 665px,#550e00 675px,#7b2d00 717px,#b34f02 755px,#b95507 757px,#c1651d 759px,#ebcbaf 763px,#f9efe7 765px,#fffcfa 767px,#fff 769px"></p><p style="--g:#fff 79px,#efebe9 83px,#d6cbc4 85px,#9f8575 87px,#6d482d 89px,#592e10 91px,#502203 93px,#4d1900 119px,#501800 189px,#5d1500 205px,#6b1600 207px,#901100 209px,#d70500 211px,#e50100 213px,#e70000 217px,#b50000 229px,#4c0000 297px,#630200 321px,#721200 349px,#bc3600 407px,#ea3f00 453px,#ff2c00 505px,#ff0f00 549px,#f70000 569px,#c80300 599px,#bc1000 603px,#ac1e00 607px,#7c1b00 623px,#561500 631px,#571e09 633px,#7e5745 635px,#d1c4bd 637px,#f3f0ef 639px,#fff 641px,#fff 653px,#ede7e7 659px,#d6c5c4 661px,#6d362e 665px,#5d2117 667px,#4f1002 671px,#7e3400 721px,#b75a02 759px,#c5701c 763px,#d89d61 765px,#f3e1cd 767px,#fcf7f0 769px,#fff 771px"></p><p style="--g:#fff 83px,#f2efec 87px,#ded6cf 89px,#694822 93px,#58320c 95px,#4d2500 99px,#4d1e00 189px,#4f1e00 201px,#561d00 203px,#6f1d00 205px,#b21700 207px,#e80f00 209px,#fa0a00 211px,#f80500 219px,#d80100 231px,#c90200 233px,#b10000 239px,#4e0000 299px,#570100 311px,#761a00 355px,#c84300 417px,#f04800 461px,#ff3400 511px,#ff1700 553px,#f80500 573px,#dc0100 593px,#d00b00 597px,#be2300 601px,#ae2900 607px,#7d2200 625px,#5a1b00 633px,#582209 635px,#6a3c25 637px,#b6a094 639px,#ece7e3 641px,#fcf9f9 643px,#fff 645px,#fff 659px,#f4efef 663px,#e9e0df 665px,#c7b0ac 667px,#8e655d 669px,#622d1e 671px,#561c0c 673px,#4e1501 677px,#854000 727px,#bd6702 763px,#c26f0c 765px,#cc8530 767px,#e6c093 769px,#f6e8d5 771px,#fcfaf3 773px,#fff 775px"></p><p style="--g:#fff 89px,#f2efeb 91px,#d7cfc2 93px,#9e8a69 95px,#6c5021 97px,#5a3909 99px,#502c00 103px,#4d2400 161px,#502300 199px,#5e2400 201px,#8e2400 203px,#d91c00 205px,#f31900 207px,#ff1600 211px,#fb0f00 219px,#c90900 239px,#ad0300 247px,#6c0000 285px,#4e0000 303px,#782200 359px,#cd4e00 421px,#ed5300 455px,#ff4500 503px,#ff2c00 543px,#f90e00 573px,#e30700 591px,#de0e00 593px,#c63200 597px,#992f00 617px,#6d2500 631px,#542003 637px,#5f3419 639px,#90725f 641px,#d6cdc5 643px,#f6f3f2 645px,#fff 647px,#fff 665px,#efeae9 669px,#d4c6c2 671px,#97766c 673px,#6c3c2c 675px,#582610 677px,#4f1b02 681px,#854600 729px,#c07404 767px,#c77f15 769px,#d3983e 771px,#edd5ad 773px,#fcf9f3 775px,#fff 777px"></p><p style="--g:#fff 91px,#f2efeb 95px,#ddd6ca 97px,#968357 99px,#6e531a 101px,#5e4206 103px,#503100 111px,#4d2800 181px,#4f2900 195px,#582800 197px,#702a00 199px,#b72c00 201px,#eb2a00 203px,#fc2600 205px,#fc1c00 217px,#b51000 249px,#a50000 259px,#4d0300 307px,#590e00 323px,#782700 361px,#c85500 417px,#ed5f00 455px,#ff5200 501px,#ff3c00 539px,#fa1b00 571px,#ed1000 585px,#e41700 589px,#d82d00 591px,#cf3a00 593px,#c13f00 599px,#7e3000 629px,#552502 639px,#582d0d 641px,#76563a 643px,#bcafa0 645px,#f0ece9 647px,#fff 649px,#fff 669px,#f1eceb 673px,#ded4cf 675px,#a1867a 677px,#7c5643 679px,#5d3118 681px,#532409 683px,#501f00 687px,#935800 739px,#c07902 767px,#c57e08 769px,#cb8919 771px,#d8a54c 773px,#f7ebd6 775px,#fffcfa 777px,#fff 779px"></p><p style="--g:#fff 95px,#fcfcfa 97px,#eeece4 99px,#c7bea2 101px,#8f7e47 103px,#6d5713 105px,#604903 107px,#543900 117px,#4d2e00 177px,#502d00 193px,#603000 195px,#db3800 199px,#f53600 201px,#ff3200 205px,#fa2800 217px,#a91700 255px,#a80300 261px,#700 289px,#4e0500 307px,#510f00 321px,#813200 369px,#cf6100 423px,#f26a00 463px,#ff5f00 505px,#ff4200 545px,#fa2800 569px,#ee1e00 583px,#df3500 587px,#d64600 589px,#cb4f00 593px,#873900 627px,#562900 641px,#552c06 643px,#62411f 645px,#e8e3de 649px,#f9f9f8 651px,#fff 653px,#fff 675px,#ebe4e1 679px,#bfada3 681px,#866753 683px,#61381d 685px,#512603 689px,#915e00 739px,#b87e03 763px,#be8309 765px,#c48c18 767px,#d1a345 769px,#f8efdd 773px,#fffcf9 775px,#fff 777px"></p><p style="--g:#fff 99px,#f9f9f5 101px,#ebe9de 103px,#7c6d23 107px,#675808 109px,#604c00 113px,#563d00 133px,#4e3400 189px,#553400 191px,#6c3900 193px,#b04200 195px,#eb4600 197px,#fc4500 199px,#fb3500 215px,#a21f00 259px,#a20c00 265px,#a60300 267px,#7c0000 291px,#4e0800 309px,#511300 325px,#823a00 371px,#d16b00 425px,#f17600 461px,#ff6b00 503px,#ff5a00 533px,#fa3100 569px,#f02a00 579px,#ed2e00 581px,#da5400 585px,#cf5a00 591px,#864000 629px,#603200 641px,#522d03 645px,#5b3c13 647px,#82694a 649px,#cdc4b7 651px,#f6f3f0 653px,#fff 655px,#fff 679px,#eee8e6 683px,#d0c2ba 685px,#6b4b2c 689px,#5d3714 691px,#552d02 695px,#976800 743px,#ad7d02 757px,#b38206 759px,#b98913 761px,#c3982b 763px,#d3b15d 765px,#f7f1e1 769px,#fff 773px"></p><p style="--g:#fff 103px,#f4f3ed 105px,#d9d7bf 107px,#95904a 109px,#746b13 111px,#6a5e04 113px,#5f4e00 123px,#543f00 165px,#4f3900 187px,#5c3c00 189px,#864500 191px,#d15100 193px,#f35500 195px,#ff5200 199px,#fd4400 213px,#be2f00 247px,#9a2900 263px,#991b00 267px,#a50700 271px,#960000 283px,#620800 303px,#4d0b00 311px,#511900 329px,#840 377px,#d37600 427px,#f28200 463px,#ff7a00 501px,#f60 533px,#fa3e00 567px,#f33700 575px,#f03800 577px,#eb4500 579px,#e05e00 581px,#d76900 585px,#8f4a00 627px,#673a00 641px,#523101 647px,#563709 649px,#6d562e 651px,#bcb29e 653px,#f0ede8 655px,#fff 657px,#fff 683px,#f1efec 687px,#d9d2ca 689px,#b7a797 691px,#664922 695px,#5c3b0c 699px,#5c3901 703px,#a27b02 751px,#b4911b 757px,#c2a03b 759px,#f5eeda 763px,#fcfaf6 767px,#fff 769px"></p><p style="--g:#fff 105px,#fbfbf6 107px,#e7e6d5 109px,#84832e 113px,#6e6c0d 115px,#676100 119px,#5c4e00 143px,#513f00 185px,#604400 187px,#e76000 191px,#fa6200 193px,#ff5900 203px,#f84d00 215px,#9c3200 263px,#8d2a00 271px,#9e0a00 277px,#940400 287px,#4d0f00 313px,#521f00 333px,#8d4f00 381px,#d27f00 427px,#f08d00 459px,#ff8900 491px,#ff7c00 523px,#ff7200 533px,#fa4900 565px,#f24500 573px,#e85f00 577px,#e07200 579px,#d47200 587px,#8e5200 629px,#613c00 645px,#513400 649px,#503604 651px,#614b1d 653px,#a09576 655px,#e7e4dd 657px,#f9f9f8 659px,#fff 661px,#fff 687px,#f1efeb 693px,#e7e3dd 695px,#745a2d 701px,#684d19 703px,#644502 711px,#937502 743px,#ad8f1f 751px,#c0a750 753px,#ebe3c6 757px,#f7f1e4 759px,#fff 763px"></p><p style="--g:#fff 109px,#f4f4ed 111px,#dadcc3 113px,#9a9e5b 115px,#75791d 117px,#6a6e0a 119px,#656200 129px,#514800 181px,#564900 183px,#6c5000 185px,#b16300 187px,#ec6f00 189px,#fc7100 191px,#fc5e00 211px,#bb4300 249px,#893400 273px,#802e00 277px,#8d1800 281px,#980b00 285px,#8c0a00 293px,#4e1200 315px,#522400 337px,#945c00 387px,#ae6d00 409px,#ce8800 425px,#f19900 461px,#ff9400 499px,#ff8300 529px,#fb5700 561px,#f35000 569px,#f15700 571px,#ea7101 573px,#e58000 575px,#d98200 583px,#905b00 629px,#624200 647px,#513a03 653px,#5a4712 655px,#82734a 657px,#cdc8b7 659px,#f6f4f0 661px,#fff 663px,#fff 695px,#ece8e1 701px,#d2cabb 703px,#b0a385 705px,#a1916e 707px,#826d3a 709px,#745d1e 711px,#755d0f 719px,#7f6809 729px,#99821b 741px,#9f8a23 743px,#d1c38a 747px,#f0e9d4 751px,#fbf9f2 755px,#fff 759px"></p><p style="--g:#fff 111px,#fcfcf9 113px,#edeee2 115px,#7f8a3c 119px,#6b771c 121px,#636e0e 123px,#616302 141px,#534f00 179px,#5b5200 181px,#805e00 183px,#c97300 185px,#f27d00 187px,#fd8000 189px,#fb6901 211px,#c35000 245px,#863c00 275px,#743100 283px,#7f1e00 287px,#8f1100 291px,#801100 301px,#4e1500 317px,#512700 339px,#8c5900 383px,#905900 391px,#824a00 393px,#612400 401px,#682900 409px,#7c3d00 411px,#824300 413px,#915000 415px,#a66900 417px,#b57900 419px,#d09200 427px,#efa400 457px,#ffa400 497px,#ff8f00 529px,#fa6400 559px,#f45b00 565px,#f25f00 567px,#eb8b01 571px,#e39500 575px,#ab7100 615px,#6f5000 645px,#503e01 655px,#564409 657px,#6d612e 659px,#bcb69e 661px,#f0eee8 663px,#fff 665px,#fff 701px,#ebe9de 711px,#b6ab85 717px,#b2a67a 721px,#9e9054 723px,#a0914e 727px,#a49650 729px,#bcb27d 733px,#c9c08f 737px,#ece6d4 741px,#f7f5eb 745px,#fff 751px"></p><p style="--g:#fff 57px,#eff4ee 67px,#f3f6f2 75px,#fff 81px,#fff 115px,#f5f7f0 117px,#e1e4d3 119px,#6f8131 123px,#5f7219 125px,#5e6a0d 133px,#535503 177px,#5e5a03 179px,#906e02 181px,#db8700 183px,#f68d00 185px,#ff8c00 187px,#fc7901 209px,#c05800 247px,#854300 277px,#6b3500 287px,#682a00 291px,#881500 297px,#7a1600 307px,#4d1900 321px,#4f2a00 341px,#7e5000 373px,#855100 379px,#8f3300 385px,#852b00 387px,#761700 389px,#4e0900 393px,#490400 409px,#581200 419px,#702d00 421px,#b07700 425px,#c28b00 427px,#daa300 435px,#f6b200 469px,#ffaf00 501px,#ff9e00 525px,#fb7300 555px,#f46700 561px,#f07601 565px,#ee9402 567px,#eca001 569px,#db9a00 581px,#8b6600 635px,#5d4900 653px,#4f4000 657px,#504204 659px,#61571d 661px,#a09b76 663px,#e7e6dd 665px,#fcfbf9 667px,#fff 669px,#fff 711px,#f6f5f1 719px,#f4f2ea 727px,#fcfbf6 739px,#fff 741px"></p><p style="--g:#fff 49px,#edf3eb 55px,#c8d9c1 59px,#81a374 65px,#789a6f 71px,#7c9a73 73px,#97af93 75px,#a6baa3 77px,#dce3dc 81px,#f4f6f4 85px,#fff 89px,#fff 119px,#f0f3ec 121px,#c6cfb3 123px,#7e9355 125px,#617b2d 127px,#58721e 129px,#586a12 139px,#525809 175px,#606009 177px,#977805 179px,#e59700 181px,#fb9e00 183px,#fb8401 209px,#924e00 273px,#673d00 289px,#582e00 295px,#622a03 299px,#7f3e17 303px,#862d0f 305px,#6f1d03 315px,#4d1e00 325px,#513100 345px,#724800 367px,#764800 369px,#893300 373px,#961d00 377px,#870d00 379px,#7e0a00 381px,#550600 385px,#4b0100 397px,#4c0300 419px,#5b1200 425px,#8a4d00 429px,#b07b00 431px,#c69800 433px,#d8ac00 437px,#eaba00 453px,#ffbf00 491px,#ffae00 523px,#fa7d00 553px,#f27500 559px,#ef7c00 561px,#f0ae02 565px,#e5ad01 573px,#8e7000 635px,#5d5000 655px,#4f4400 659px,#504603 661px,#5a5212 663px,#827d4b 665px,#d5d4c2 667px,#f6f6f4 669px,#fff 671px"></p><p style="--g:#fff 43px,#ecf2ea 49px,#d0e0cc 51px,#7da970 55px,#5f9351 57px,#4a7f3c 65px,#41703f 77px,#486f48 81px,#658468 83px,#ced9d0 87px,#e7ece9 89px,#fff 93px,#fff 121px,#f9f9f6 123px,#e8ede2 125px,#afbe9c 127px,#6c8a4c 129px,#55762d 131px,#506e1f 135px,#4c5d11 173px,#62650d 175px,#b08b05 177px,#eba600 179px,#fcab00 181px,#f59b00 193px,#ff9a00 201px,#eb8401 219px,#945800 273px,#674200 291px,#503300 299px,#513e07 301px,#62b061 305px,#66a861 307px,#708149 309px,#74713d 311px,#7c3c19 315px,#752c0d 319px,#4e2506 327px,#4d2b00 339px,#533300 349px,#5a3600 353px,#7a2900 359px,#722400 361px,#7c1b00 363px,#731900 365px,#710d00 369px,#680a00 373px,#580a00 375px,#4d0500 387px,#500b00 427px,#591700 431px,#672700 433px,#8e5800 435px,#c09600 437px,#d9b600 441px,#e4c100 447px,#fdcc00 481px,#ffc300 513px,#ffb100 529px,#fa8b00 549px,#f28200 555px,#f18c01 557px,#f5bc03 561px,#efc002 565px,#907a00 635px,#655b00 655px,#504900 661px,#4e4901 663px,#56510b 665px,#77753d 667px,#cacab4 669px,#f2f2ec 671px,#fff 673px"></p><p style="--g:#fff 39px,#ebf4ec 43px,#73aa6e 49px,#5e9c56 51px,#458541 59px,#30633a 83px,#3b6647 87px,#557860 89px,#dfe5e2 93px,#f1f4f2 95px,#fff 99px,#fff 125px,#f3f6f2 127px,#d2ddcc 129px,#839f73 131px,#587e40 133px,#4c732f 135px,#4a6c22 143px,#465e18 169px,#4d6018 171px,#697011 173px,#be9d06 175px,#ecb300 177px,#f1b200 179px,#dea100 183px,#b98a00 185px,#a97f00 187px,#a97c01 193px,#e99a00 197px,#fea101 203px,#a56800 265px,#755000 289px,#4e3900 301px,#4e4409 303px,#526927 305px,#52b066 307px,#54cf82 309px,#52d389 311px,#53c17e 317px,#5ba467 319px,#5d9b62 321px,#5d7445 325px,#545b33 327px,#4c3719 329px,#4d2107 333px,#4d1800 339px,#4d1800 347px,#4d1000 351px,#520b00 367px,#4d0d00 405px,#501000 433px,#5e2300 437px,#7c4900 439px,#b08900 441px,#d0b100 443px,#e1c900 447px,#f4d700 465px,#ffd700 495px,#ffcf00 513px,#fb0 529px,#f99600 547px,#f18e00 551px,#f19100 553px,#f7c803 557px,#f6d303 559px,#a79100 621px,#797000 649px,#585500 661px,#4d4b01 665px,#505007 667px,#646523 669px,#eaebe1 673px,#fff 675px"></p><p style="--g:#fff 35px,#e6f2e9 39px,#afd4b3 41px,#81b988 43px,#5ca260 45px,#47914d 51px,#2b693e 81px,#26593b 89px,#2b5d41 91px,#3c6852 93px,#c9d6d1 97px,#ecf1ef 99px,#fff 103px,#fff 127px,#fafcf9 129px,#ebf0e9 131px,#bfcfb9 133px,#6c9263 135px,#4a793f 137px,#427132 139px,#416020 167px,#4a651e 169px,#757f15 171px,#cfb205 173px,#e5ba00 175px,#d3a800 177px,#957e01 179px,#6c6001 181px,#575403 185px,#535305 193px,#5f5906 197px,#826b06 199px,#c99103 201px,#eba202 203px,#f7a902 209px,#c18000 247px,#876100 283px,#624a00 297px,#4e3e00 303px,#4d4405 305px,#4d5d1c 307px,#4aa461 309px,#44d190 311px,#41dd9b 313px,#40c58b 327px,#40ba82 329px,#429666 331px,#456942 333px,#4a3315 335px,#4d1d03 339px,#4d1400 351px,#4e1400 437px,#5b2400 441px,#6e3d00 443px,#936b00 445px,#c7b000 447px,#dbca00 449px,#ecdd00 455px,#ffe800 483px,#fd0 515px,#feaf00 539px,#f09a00 547px,#ee9c00 549px,#f8cf03 553px,#fadd03 555px,#f5df03 559px,#b2a200 613px,#8a8500 641px,#5f6001 661px,#4b4e03 667px,#4c5008 669px,#585d1c 671px,#8c9165 673px,#dcdfd2 675px,#f9faf6 677px,#fff 679px"></p><p style="--g:#fff 31px,#e6f3ea 35px,#70b581 39px,#54a564 41px,#449958 45px,#256c47 83px,#1d563d 93px,#235842 95px,#336552 97px,#75978c 99px,#c8d5d1 101px,#eff3f2 103px,#fff 105px,#fff 131px,#f6f8f6 133px,#dbe5db 135px,#91b093 137px,#518253 139px,#3b7039 143px,#3c6328 165px,#476a24 167px,#708419 169px,#c6b608 171px,#c5ac01 173px,#837903 175px,#5d5a05 177px,#494f07 181px,#424d0c 197px,#46500d 199px,#54580e 201px,#7b6d0b 203px,#e3a803 207px,#f0af02 209px,#edab01 215px,#916d00 279px,#635000 299px,#4e4200 305px,#4d4403 307px,#4d5613 309px,#469553 311px,#3bca91 313px,#36d9a2 315px,#33d5a2 325px,#33ca98 331px,#34c193 333px,#35ae80 335px,#3e7f58 337px,#474825 339px,#4a2d0d 341px,#4d1e00 345px,#4d1900 441px,#520 445px,#633500 447px,#967a00 449px,#bdae01 451px,#dcd401 453px,#e9e601 457px,#fff300 483px,#fe0 509px,#ffcf00 529px,#f9b500 539px,#f1a900 543px,#eca701 545px,#eebb02 547px,#f7dc03 549px,#faef03 551px,#f4ec03 559px,#cac301 593px,#969401 635px,#6b7106 657px,#484f08 669px,#474f0a 671px,#4f5718 673px,#788151 675px,#d0d4c3 677px,#f3f5f1 679px,#fff 681px"></p><p style="--g:#fff 27px,#e5f4ed 31px,#6bb988 35px,#4faa6e 37px,#42a465 39px,#328c5a 61px,#1e6749 89px,#175540 97px,#1e5746 99px,#326558 101px,#86a69e 103px,#d2dedb 105px,#f1f5f3 107px,#fff 109px,#fff 135px,#f0f3f0 137px,#d0dfd3 139px,#93b49c 141px,#4a8158 143px,#367144 145px,#336c39 151px,#376631 163px,#47712b 165px,#83991a 167px,#bcb607 169px,#868205 171px,#595d08 173px,#49520a 175px,#3f4d0e 183px,#3c4d13 201px,#4b5613 205px,#78710f 207px,#c6a107 209px,#e8b702 211px,#ecb801 215px,#907300 281px,#635700 301px,#4e4600 307px,#4d4802 309px,#4d520d 311px,#487734 313px,#35b986 315px,#2ed0a6 317px,#2ad8ae 319px,#29caa2 335px,#27c39d 337px,#2db48d 339px,#39825b 341px,#484820 343px,#4c340c 345px,#4d2600 349px,#4d1d00 417px,#4f2000 447px,#603700 451px,#afa205 455px,#cdcc07 457px,#dde109 459px,#ecf307 465px,#ffff01 487px,#fff800 511px,#ffd000 531px,#e9b001 539px,#d4a103 541px,#e7c008 543px,#f0e60c 545px,#f6f50a 547px,#f3fa0a 553px,#bdc104 601px,#878f08 641px,#5b670d 663px,#414e0d 673px,#485516 675px,#626e3c 677px,#b0b99d 679px,#ecefe8 681px,#fff 683px"></p><p style="--g:#fff 25px,#eaf6f1 27px,#b4decc 29px,#68bd93 31px,#49af79 33px,#39a46b 37px,#1b7257 87px,#125344 101px,#1c594d 103px,#316960 105px,#97b5b0 107px,#e1eae8 109px,#f6f9f9 111px,#fff 113px,#fff 137px,#eef4f1 141px,#c1d5c9 143px,#64957b 145px,#3b7957 147px,#2b6c43 151px,#2f693b 161px,#407333 163px,#89a31a 165px,#979f0a 167px,#616a0b 169px,#49550d 171px,#3d4d10 175px,#354d19 205px,#3c5119 207px,#586316 209px,#b69f0a 211px,#dfbd03 213px,#e9c101 215px,#927e00 281px,#696000 301px,#4d4a00 311px,#4d5109 313px,#446c29 315px,#31a574 317px,#24cbaa 319px,#1ed5b6 321px,#1cccb0 335px,#1dbfa4 341px,#25ac8f 343px,#36835f 345px,#4b5021 347px,#513c0c 349px,#4f2c00 353px,#4d2400 417px,#4e2600 451px,#5b3600 455px,#6f5202 457px,#9b9109 459px,#bec50f 461px,#d2e212 463px,#e3f614 469px,#f7ff0d 489px,#ffff05 501px,#fff800 517px,#fcda00 529px,#e1bc03 535px,#c7a905 537px,#c5b50e 539px,#dfe015 541px,#e7f51b 543px,#e9fe19 547px,#c4d30f 585px,#8d9c0f 633px,#5a6d12 663px,#3d4e10 675px,#3e5015 677px,#4f612d 679px,#93a082 681px,#e5e9e2 683px,#fff 685px"></p><p style="--g:#fff 21px,#f0fbf8 23px,#d6eee6 25px,#7fcdae 27px,#48b487 29px,#37ad7a 31px,#2b9b71 49px,#136e5b 93px,#0d534a 105px,#1e5e58 107px,#4d817c 109px,#acc6c5 111px,#e7eeee 113px,#fff 115px,#fff 141px,#f9fbf9 143px,#e5eeeb 145px,#afc7bd 147px,#689982 149px,#32775a 151px,#266e4d 153px,#246a46 157px,#2a6a45 159px,#3d773a 161px,#688b22 163px,#627313 165px,#4a5a11 167px,#394d13 171px,#31501f 209px,#475d1c 211px,#928f0f 213px,#d3bc06 215px,#e4c901 217px,#948900 281px,#6a6600 303px,#4c4e02 313px,#4b5005 315px,#435f1b 317px,#2d9669 319px,#1ac5ac 321px,#13d1be 323px,#11c4b4 343px,#16beab 345px,#1cab94 347px,#525218 351px,#584106 353px,#503000 363px,#4d2900 447px,#502e00 457px,#604503 461px,#c5db1b 467px,#daf71f 473px,#e8ff1b 485px,#feff06 511px,#fef700 521px,#fbe800 525px,#e7ce00 529px,#b2a20a 533px,#bbc41b 535px,#cee724 537px,#dcfc28 541px,#dbfb23 549px,#aac218 601px,#799119 643px,#4c6418 669px,#394e15 677px,#3a4f18 679px,#455c28 681px,#798a67 683px,#d6dcd2 685px,#f6f7f6 687px,#fff 689px"></p><p style="--g:#fff 19px,#e2f5f1 21px,#50bd9c 25px,#35b18a 27px,#2aaa80 31px,#107767 91px,#085852 107px,#0b5651 109px,#206462 111px,#6c9898 113px,#d8e3e4 115px,#f1f6f6 117px,#fff 119px,#fff 145px,#f6f9f9 147px,#e2ece8 149px,#8db4a9 151px,#4d8a77 153px,#2b765d 155px,#236d4f 157px,#357744 159px,#6c9327 161px,#4d6319 163px,#3d5216 165px,#324d1b 173px,#2b4e25 211px,#385722 213px,#687a1b 215px,#c1ba0a 217px,#ddce01 219px,#d9ca00 227px,#908c01 285px,#6d6f02 303px,#494d05 315px,#484f09 317px,#415817 319px,#327d4a 321px,#14b9a5 323px,#0dcdc0 325px,#08cec6 331px,#08c1bc 347px,#0eb9af 349px,#1fa087 351px,#45743f 353px,#585513 355px,#5c4a03 357px,#543800 369px,#4d2e00 435px,#4e3200 461px,#583f03 465px,#5f4c04 467px,#bbd621 473px,#c7e825 475px,#d9fc27 483px,#f2ff17 507px,#f6f907 517px,#e7e100 523px,#d4ca03 525px,#a49906 527px,#85810d 529px,#a5b921 531px,#c0e52e 533px,#caf635 535px,#ceff35 541px,#bbe026 571px,#afd425 583px,#749320 643px,#48661e 671px,#364f1a 679px,#3b5626 683px,#5a734b 685px,#b9c5b4 687px,#edefec 689px,#fff 691px"></p><p style="--g:#fff 15px,#f1fcf9 17px,#d0efea 19px,#63c9b2 21px,#34b797 23px,#26b190 25px,#1ea284 45px,#0a756c 97px,#045959 111px,#0f5c5d 113px,#317073 115px,#8aacae 117px,#d3dfe1 119px,#f0f4f5 121px,#fff 123px,#fff 149px,#e1ece7 153px,#9cbeb1 155px,#4e865d 157px,#5c852e 159px,#415c1e 161px,#36501a 163px,#284d24 183px,#234d2a 213px,#2e532b 215px,#5a7621 217px,#bcbf0a 219px,#d9d602 221px,#d4d101 231px,#969802 281px,#636b08 307px,#434d0b 319px,#3f5414 321px,#326d3c 323px,#12a998 325px,#05c3c2 327px,#00c8cd 331px,#01bdc1 349px,#03babc 351px,#0bafac 353px,#279477 355px,#536a26 357px,#5f570c 359px,#604c00 363px,#543b00 389px,#4d3400 463px,#533d01 469px,#5d4d04 473px,#7d8111 477px,#bade2b 483px,#c8ee2d 487px,#dbf425 503px,#dbe814 513px,#bfc309 517px,#a1a205 519px,#7d7803 521px,#6b6607 523px,#767d13 525px,#98b62c 527px,#aee13d 529px,#baf443 531px,#c1ff44 535px,#c0fa3d 547px,#9dcb2e 591px,#6c9227 645px,#446827 673px,#2f4f1f 683px,#325024 685px,#46633c 687px,#8da089 689px,#e3e8e3 691px,#f9fcf9 693px,#fff 695px"></p><p style="--g:#fff 11px,#fafefd 13px,#e3f7f4 15px,#44c2ae 19px,#25b69c 21px,#1bb299 23px,#037976 99px,#00696b 109px,#04595e 115px,#135c62 117px,#316e73 119px,#93b2b7 121px,#dfe8ea 123px,#fff 127px,#fff 151px,#f4f9f1 153px,#ccdebb 155px,#668a43 157px,#3a5a23 159px,#2e4e1f 161px,#1d4d2f 205px,#1d4d30 215px,#275330 217px,#547824 219px,#b4c10f 221px,#d0d808 223px,#c6cd07 237px,#818c0c 291px,#53620f 313px,#3f4d0e 321px,#3c5016 323px,#335f2d 325px,#179586 327px,#06b6bd 329px,#00bbca 331px,#00b3bf 353px,#04aeb6 355px,#14a19b 357px,#5d6916 361px,#655c06 363px,#615200 369px,#554100 407px,#4d3a00 455px,#4e3d00 473px,#5e5807 485px,#727610 487px,#767c11 489px,#8d9d1d 493px,#949e16 505px,#83890d 507px,#727208 511px,#615c03 513px,#5d5903 517px,#5a5d06 519px,#626e12 521px,#82ab31 523px,#a1df47 525px,#adf452 527px,#b2ff53 531px,#b1f648 549px,#8bc337 601px,#61902f 649px,#457635 669px,#3b7b3e 671px,#3a793d 673px,#39682f 677px,#2d5027 687px,#385c35 689px,#6e886f 691px,#cad5cc 693px,#f5f6f6 695px,#fff 697px"></p><p style="--g:#fff 9px,#f3fcfc 11px,#cff2ef 13px,#60d0c6 15px,#26bdad 17px,#16b5a6 19px,#0ea99b 39px,#007c7f 99px,#00616a 115px,#045862 119px,#165e68 121px,#467c85 123px,#97b5bb 125px,#dde7e9 127px,#fff 131px,#fff 149px,#f3f6ef 151px,#c1d9ad 153px,#65874e 155px,#365928 157px,#294d24 159px,#194d34 203px,#174d36 217px,#225335 219px,#4d7729 221px,#a8c018 223px,#c2d612 225px,#bed113 233px,#819413 287px,#546915 313px,#3b4d13 323px,#3a4f17 325px,#335a2a 327px,#09a2ae 331px,#00afc6 333px,#00aec6 343px,#03a5bc 357px,#099fad 359px,#238f7f 361px,#51752f 363px,#61680d 365px,#676100 369px,#5b4d00 395px,#4d3f00 451px,#4e4500 485px,#555103 501px,#4e4d02 513px,#505709 515px,#5c7118 517px,#6e982e 519px,#91dd54 521px,#9df461 523px,#a4ff63 527px,#a3f958 545px,#8cce44 587px,#5b9237 649px,#4f8a3e 655px,#368c55 659px,#1e9474 665px,#24906c 679px,#278962 681px,#296039 687px,#265631 689px,#2e5937 691px,#4e7256 693px,#b3c3b8 695px,#ebeeec 697px,#fff 699px"></p><p style="--g:#fff 7px,#ebf9f9 9px,#a2e3e4 11px,#41c8c4 13px,#14bbb4 15px,#0ab7b0 17px,#008a8f 83px,#006776 115px,#065a6b 123px,#145b6c 125px,#326b79 127px,#8aa9b2 129px,#d1dee1 131px,#ebeff2 133px,#fff 137px,#fff 147px,#eff3ed 149px,#b2c9aa 151px,#4d7044 153px,#2e552c 155px,#244d29 157px,#134d3a 201px,#124d3b 219px,#1b533a 221px,#457632 223px,#9cbd22 225px,#b4d21f 227px,#b4d31e 231px,#7e991b 285px,#4f691b 315px,#374e16 325px,#315526 329px,#23694f 331px,#0c94a0 333px,#02a1c0 335px,#00a5c7 339px,#009cbd 359px,#0397b5 361px,#13919b 363px,#5a701c 367px,#656c0b 369px,#666400 377px,#4d4400 445px,#4b4d02 507px,#4c5509 511px,#4f6314 513px,#7fd85e 517px,#8df16d 519px,#95ff72 523px,#96f966 543px,#8ae158 567px,#75be49 605px,#61a848 629px,#5c9e42 639px,#519645 647px,#3e9153 651px,#1a9178 655px,#119282 657px,#119785 669px,#1c9277 683px,#208d6c 687px,#256545 693px,#38674d 695px,#7c9a8a 697px,#d7e0db 699px,#f6faf9 701px,#fff 703px"></p><p style="--g:#fff 3px,#f8fcfd 5px,#ddf6f6 7px,#8adde1 9px,#22c0c2 11px,#09b7b9 13px,#01b4b6 19px,#008492 85px,#006279 121px,#04576f 127px,#236278 131px,#6992a1 133px,#b8cbd3 135px,#e1ebee 137px,#fff 143px,#fff 145px,#eaeeeb 147px,#a3b6a5 149px,#446b46 151px,#265230 153px,#1a4d33 161px,#0c4d41 219px,#0c4d41 221px,#155341 223px,#3b733a 225px,#81af2e 227px,#a4ce2b 229px,#a6cf29 235px,#759723 287px,#4a6b21 317px,#324d1c 329px,#2e5025 331px,#265f40 333px,#0f8390 335px,#0496b9 337px,#0099c4 339px,#038fb9 363px,#098cab 365px,#208282 367px,#487539 369px,#586f1b 371px,#636c09 375px,#5c5a00 409px,#4d4900 445px,#474d06 503px,#48530b 507px,#4a6219 509px,#6ec862 513px,#7def7c 515px,#82fc81 517px,#88ff79 529px,#88f672 543px,#77d25b 583px,#56a04a 639px,#449654 645px,#2f8e65 647px,#11897e 649px,#058d8a 653px,#059591 667px,#16917b 689px,#19876e 693px,#1d7a60 695px,#2b745c 697px,#5c8b78 699px,#c5d4cf 701px,#eff3f2 703px,#fff 705px"></p><p style="--g:#fff 1px,#f9fcfd 3px,#c3ecf0 5px,#42c6ce 7px,#14b6c0 9px,#03afbb 11px,#00768e 99px,#005e7e 127px,#025878 131px,#185f7c 135px,#39728b 137px,#b9ccd7 141px,#e1e7ed 143px,#dee5e2 145px,#869e8d 147px,#376046 149px,#205033 151px,#134d3a 163px,#064d48 219px,#0d5247 225px,#266842 227px,#75ad38 229px,#99cd34 231px,#96c731 243px,#608b2c 299px,#3e6224 323px,#2d4d20 331px,#2d5023 333px,#265937 335px,#0885aa 339px,#008dc0 341px,#008bc3 347px,#0085bb 365px,#0384b3 367px,#0f7f9e 369px,#4a7134 373px,#596f1c 375px,#5d6d10 379px,#595e05 411px,#4b4d03 447px,#414d0c 501px,#445b1b 505px,#4f7f33 507px,#60c56c 509px,#6eee8c 511px,#77fe91 515px,#7cfa80 537px,#64c460 599px,#4ca156 637px,#3d955e 641px,#0e7c7c 645px,#007f8c 651px,#029493 675px,#0e8f82 693px,#128775 697px,#1b816c 699px,#347b69 701px,#dfeae7 705px,#f9f9f9 707px,#fff 709px"></p><p style="--g:#fff 1px,#f5fcfc 3px,#9ee1e7 5px,#1fb7c4 7px,#03a8bd 9px,#007d9a 83px,#005e86 133px,#0d5c84 139px,#2b6782 143px,#49726a 145px,#295942 147px,#1a4f38 149px,#0a4d42 169px,#014c4c 223px,#07514c 227px,#276d48 229px,#77b740 231px,#8ccb3f 233px,#8cc63b 243px,#568832 303px,#355f2a 327px,#2a4e24 333px,#245131 337px,#1a5e55 339px,#09769e 341px,#0080bb 343px,#0082c2 347px,#0179b8 369px,#0579af 371px,#147593 373px,#367252 375px,#4c712b 377px,#566f19 381px,#515d0b 417px,#454d07 445px,#3c4d11 497px,#3c591f 501px,#437b39 503px,#61e790 507px,#62f99f 509px,#6aff9b 519px,#6df58a 541px,#5fcd6f 587px,#52ba69 611px,#4eb062 623px,#49a860 633px,#389363 637px,#0e717b 641px,#036c81 643px,#008694 671px,#038f8d 693px,#0f8478 701px,#1f8579 703px,#4a8d83 705px,#bad2ce 707px,#edf5f3 709px,#fff 711px"></p><p style="--g:#fff 3px,#e5f6f8 5px,#6dcbd8 7px,#12a6c2 9px,#029fbb 11px,#006894 115px,#005e90 139px,#055b84 141px,#11525a 143px,#195040 145px,#104d3d 149px,#014c4c 185px,#00474d 227px,#064e4d 229px,#2a704c 231px,#70b649 233px,#84cb48 235px,#5d9b3d 289px,#386a32 325px,#244d2a 337px,#235030 339px,#1b5442 341px,#0b688a 343px,#0374b4 345px,#0077bf 347px,#036fb7 373px,#096ea9 375px,#3b6f47 379px,#49702d 381px,#4e7022 383px,#4e6013 413px,#404d0d 445px,#374d16 493px,#36551f 497px,#376b34 499px,#4de19b 503px,#52f4ac 505px,#58ffb0 509px,#5ffc9e 529px,#61f292 543px,#4ab86e 615px,#3ea76b 631px,#3a9c69 633px,#095f77 637px,#005e81 643px,#007f93 679px,#01898a 699px,#0e837d 705px,#328d88 707px,#8ebcb8 709px,#e0edec 711px,#f8fbfa 713px,#fff 715px"></p><p style="--g:#fff 5px,#ddf2f6 7px,#57bbd3 9px,#139dc2 11px,#0394bb 13px,#006799 111px,#00629f 135px,#00629b 137px,#025d8b 139px,#0c5258 141px,#104d43 143px,#014c4c 165px,#00414d 225px,#00414d 229px,#094b4d 231px,#367a4e 233px,#6dbc53 235px,#77cb54 237px,#6eb84b 259px,#43813f 313px,#2a5e34 333px,#1f4d31 341px,#1b533f 343px,#0569a2 347px,#006db8 349px,#006cc1 351px,#0066b9 375px,#0365b2 377px,#0d64a0 379px,#3e6d3c 383px,#487028 387px,#445b17 423px,#3a4d13 443px,#324e1c 491px,#315321 493px,#316231 495px,#328857 497px,#3bcd98 499px,#43f3b7 501px,#44fcc1 503px,#51ffaf 521px,#51e696 555px,#3db377 621px,#3aac76 627px,#34a171 629px,#26826e 631px,#0f5e6f 633px,#034e73 635px,#004d78 639px,#006b90 671px,#007c8f 693px,#017e85 705px,#067d82 707px,#178586 709px,#4c9999 711px,#b7d4d4 713px,#ecf4f5 715px,#fff 717px"></p><p style="--g:#fff 5px,#f9feff 7px,#d4ecf5 9px,#6abed7 11px,#1292c0 13px,#008bbb 15px,#00639f 109px,#0061a3 135px,#015e94 137px,#09515e 139px,#0b4d48 141px,#00484d 163px,#003b4d 219px,#003c4d 231px,#0b484d 233px,#367e53 235px,#66bd5c 237px,#6dca5d 239px,#53a24e 285px,#2d6e40 329px,#1b4e35 343px,#1a503c 345px,#135455 347px,#075b8e 349px,#0061b4 351px,#0061be 353px,#005cb7 379px,#065cae 381px,#145e8e 383px,#2a675d 385px,#376d3d 387px,#416f2f 391px,#3c591c 427px,#344d19 443px,#2d4d1f 487px,#2c5024 489px,#2b5e33 491px,#2b885e 493px,#32d3a5 495px,#32eec2 497px,#38ffce 501px,#46f9b4 527px,#3ccb8f 589px,#32b281 623px,#30a87e 625px,#2a9576 627px,#16616b 629px,#064167 631px,#003e70 637px,#005d8b 665px,#00728e 695px,#027482 709px,#097781 711px,#2b888f 713px,#d2e5e6 717px,#f1f8f8 719px,#fff 721px"></p><p style="--g:#fff 9px,#daeef6 11px,#4ca8d0 13px,#0985be 15px,#007eba 17px,#005fa4 109px,#005ea8 133px,#015d99 135px,#075164 137px,#064d4d 139px,#00414d 163px,#023b4e 183px,#1b4c60 199px,#01364d 225px,#00364d 233px,#0b464f 235px,#3d8b5b 237px,#5bbe64 239px,#62c867 241px,#368550 315px,#236542 337px,#164e3a 347px,#12504a 349px,#0155ae 353px,#0056be 357px,#0351b6 383px,#0753aa 385px,#2d674e 389px,#396f3a 393px,#3b652b 411px,#2f4d1e 443px,#294d24 483px,#275b34 487px,#266e49 489px,#22b695 491px,#24eacb 493px,#26fbda 495px,#2fffd5 505px,#38f7bf 527px,#3bf2b9 535px,#37eeb7 541px,#31c494 599px,#2cb68a 619px,#30ad8a 623px,#207171 625px,#0f4160 627px,#042f5b 629px,#003369 637px,#00538a 667px,#00668c 697px,#036c7f 713px,#127483 715px,#3b8994 717px,#96bfc4 719px,#e4eff0 721px,#f9fcfc 723px,#fff 725px"></p><p style="--g:#fff 9px,#f7fcfe 11px,#c2dfee 13px,#3392c8 15px,#067bbb 17px,#0072b9 23px,#005ba8 107px,#005aac 131px,#00599d 133px,#034f68 135px,#024c51 137px,#01384e 171px,#214c62 183px,#7e97a6 189px,#afbfc6 193px,#b3c2c9 195px,#c0cdd4 197px,#dee6e9 199px,#e1e7e9 201px,#cad8df 203px,#b3c3cb 205px,#afc0c9 207px,#a2b5c1 209px,#859dac 211px,#7b94a3 213px,#5d7e92 215px,#1e4862 221px,#02314f 233px,#02324e 235px,#0c4452 237px,#378861 239px,#51bc6e 241px,#58c66f 243px,#2c8256 321px,#1c6348 341px,#134f3f 349px,#114e48 351px,#0d505f 353px,#034d94 355px,#004cb3 357px,#004cbd 361px,#0048ba 385px,#084daa 389px,#256556 393px,#2e6b43 395px,#346633 411px,#2a4d23 441px,#234e2c 481px,#225636 483px,#1d7558 485px,#1ab49d 487px,#14e0cf 489px,#15f5e3 491px,#1bffea 495px,#29fad1 519px,#2de4b7 553px,#23b897 617px,#2fb99b 619px,#4abfa4 621px,#76b6b0 623px,#53708a 625px,#354d73 627px,#1b3562 629px,#02275e 637px,#004082 661px,#00578d 689px,#00607e 713px,#06637b 717px,#1b6e82 719px,#699fab 721px,#c4d9de 723px,#edf3f4 725px,#fff 727px"></p><p style="--g:#fff 11px,#f3f9fc 13px,#b4d5eb 15px,#2e87c7 17px,#066fba 19px,#006bb9 23px,#0054ae 113px,#0054b4 127px,#0055b0 129px,#0055a0 131px,#004c6a 133px,#004853 135px,#00414d 141px,#02354e 163px,#194560 171px,#507085 175px,#7690a0 177px,#abbbc6 179px,#c0cfd7 181px,#dee7ea 183px,#f3f6f7 191px,#fff 199px,#fff 201px,#f6f9f9 207px,#e7eaed 219px,#dee6ea 221px,#8094a6 227px,#5d788f 229px,#4a6881 231px,#224664 233px,#163d5d 237px,#1c4b5d 239px,#3d9170 241px,#4ec37b 243px,#44b571 265px,#40b172 271px,#1d7558 335px,#125847 349px,#0e4e44 353px,#0b4d51 355px,#064a77 357px,#0044ab 359px,#0042b9 361px,#003ebb 389px,#0340b5 391px,#0845a5 393px,#185772 395px,#226553 397px,#2b6c41 403px,#26512b 433px,#204d2d 475px,#1d5338 479px,#1a614a 481px,#138f7e 483px,#09d6ce 485px,#08f3f0 487px,#0afff8 491px,#1cfbe0 513px,#1fdabc 565px,#19bba3 613px,#1cbaa1 615px,#31bfa9 617px,#d5f2eb 621px,#ecf6f5 623px,#e1e5eb 627px,#c0c6d4 629px,#abb4c6 631px,#3a4d76 635px,#1e3566 637px,#022362 645px,#003980 665px,#004c8b 691px,#00557c 715px,#025677 719px,#0e5d7a 721px,#2d7188 723px,#d4e1e6 727px,#f3f7f8 729px,#fff 731px"></p><p style="--g:#fff 13px,#edf6fb 15px,#96c1e3 17px,#1f76c3 19px,#0463bb 21px,#0050b2 107px,#0050b8 125px,#0050b3 127px,#004e99 129px,#004768 131px,#004353 133px,#003c4d 139px,#02334e 155px,#1e4762 163px,#3a5d74 165px,#a2b5c3 169px,#e1e8eb 173px,#fff 183px,#fff 221px,#e1e6ea 233px,#90a1b1 239px,#85a4a9 241px,#6fcc9f 243px,#47c589 245px,#3ec385 247px,#38b27a 271px,#16745e 339px,#0c574c 353px,#094e4e 357px,#064c61 359px,#014294 361px,#003ab2 363px,#0037bc 369px,#03b 393px,#0337b2 395px,#08409d 397px,#1e6357 401px,#226b49 405px,#224d2b 439px,#1a4e35 473px,#175e4c 477px,#108880 479px,#08cdd2 481px,#03e6ee 483px,#00f9fe 487px,#08fef7 501px,#13e9d7 539px,#11c1b0 603px,#10bcad 611px,#17beb0 613px,#34c5b7 615px,#9de2d8 617px,#e9f9f6 619px,#fff 621px,#fff 627px,#e7eaee 635px,#dde1e7 637px,#afb6c7 639px,#394a77 643px,#1a2d65 645px,#012168 653px,#003482 673px,#048 697px,#044f74 723px,#135878 725px,#467a93 727px,#a0bbc7 729px,#e2eaed 731px,#f7f9fa 733px,#fff 735px"></p><p style="--g:#fff 15px,#e9f0f9 17px,#8ab4e1 19px,#1b6bc2 21px,#0359bb 23px,#004ab8 109px,#004abd 123px,#004ab8 125px,#00499c 127px,#004163 129px,#003e51 131px,#02314e 147px,#163e5d 153px,#214662 155px,#44637c 157px,#758ca0 159px,#afbfcc 161px,#dde4e9 163px,#f9f9fb 171px,#fff 173px,#fff 233px,#eef4f3 241px,#cef1e1 243px,#5fd0a4 245px,#3bc391 247px,#35c08b 251px,#147e6b 335px,#09645b 353px,#055150 359px,#034e57 361px,#014674 363px,#0038a1 365px,#0032b3 367px,#002cbd 373px,#002bbc 397px,#0330b5 399px,#0a3e96 401px,#13556e 403px,#18615b 405px,#1b674c 411px,#1e5536 429px,#294d25 435px,#244d29 455px,#174d36 463px,#154d39 469px,#135c50 473px,#06b6c6 477px,#03d5eb 479px,#00e3fa 481px,#00f3ff 491px,#02f6f7 507px,#08d5ce 569px,#06beb9 607px,#0abdb8 609px,#18c1bc 611px,#50cec9 613px,#c2efeb 615px,#f1fcfb 617px,#fff 619px,#fff 637px,#e1e5ec 643px,#c0c5d5 645px,#abb2c6 647px,#39487a 651px,#182a6a 653px,#021c69 659px,#002d82 679px,#003c83 705px,#01416e 725px,#06476e 727px,#185376 729px,#4b7891 731px,#b4c7d1 733px,#e9edf2 735px,#f9fafc 737px,#fff 739px"></p><p style="--g:#fff 17px,#e7eff9 19px,#1d63c1 23px,#0351bb 25px,#0049b9 53px,#0044c0 117px,#0044c2 121px,#0044ba 123px,#0044a0 125px,#003c63 127px,#003851 129px,#022f4f 141px,#11375a 145px,#1e4260 147px,#44617d 149px,#768ea3 151px,#b9c5d0 153px,#dee4ea 155px,#fff 163px,#fff 241px,#f6fef9 243px,#c3eedf 245px,#52cea9 247px,#30c198 249px,#29bd95 255px,#1ea88a 287px,#1a9b81 305px,#077069 351px,#015858 361px,#004b5e 365px,#002da4 369px,#0026b4 371px,#0021be 379px,#0024bd 401px,#0327b6 403px,#07379e 405px,#0d4d78 407px,#115c5f 409px,#136552 413px,#1b5a40 423px,#274d26 429px,#1f4d2e 461px,#124d3e 467px,#0e564b 469px,#06a3ba 473px,#01c4e7 475px,#00d2f5 477px,#00e2fc 485px,#00e9f4 511px,#00d8db 559px,#02bbc0 605px,#07bbbe 607px,#20c3c5 609px,#75d9d9 611px,#d4f4f3 613px,#f6fdfc 615px,#fff 617px,#fff 643px,#efeff4 649px,#e1e4ec 651px,#b9bdd1 653px,#767ca2 655px,#444e83 657px,#1e2b6c 659px,#061968 663px,#00227e 681px,#003280 705px,#023869 729px,#083d6a 731px,#1e4f74 733px,#6988a0 735px,#c2ced9 737px,#ebeef1 739px,#fafcfc 741px,#fff 743px"></p><p style="--g:#fff 19px,#e7eef9 21px,#93b2e2 23px,#1f5cc4 25px,#0446bc 27px,#003dc2 103px,#003ec7 119px,#003fbd 121px,#003d94 123px,#003762 125px,#003351 127px,#032e50 135px,#12365a 139px,#214164 141px,#c6cfd8 147px,#e6eaed 149px,#fff 155px,#fff 243px,#f2fcf8 245px,#a4e6d5 247px,#39c8aa 249px,#22c0a1 251px,#047e7b 345px,#00696b 359px,#004f5c 367px,#004561 369px,#0022ab 373px,#0019bc 377px,#001ac1 405px,#011eb9 407px,#0a5960 413px,#105f4f 417px,#215131 421px,#254d28 427px,#1b4d32 465px,#19523c 467px,#0d7176 469px,#04a6ce 471px,#03b9e6 473px,#00c4f3 475px,#00d3f8 485px,#00daf6 497px,#00d2e2 543px,#00c0ce 579px,#02b3c1 603px,#0cb5c3 605px,#35c4cc 607px,#b2e9ec 609px,#ebf9fa 611px,#fff 613px,#fff 651px,#e6e7ee 657px,#c6c8d9 659px,#464d84 663px,#1e276d 665px,#02116b 671px,#001e7e 689px,#002b7a 713px,#022f62 733px,#0c3764 735px,#21476f 737px,#6c839c 739px,#ccd4dd 741px,#eaecf0 743px,#fff 747px"></p><p style="--g:#fff 21px,#eaf0f9 23px,#93aee3 25px,#1b4fc4 27px,#033cbc 29px,#0036c9 107px,#0037cc 117px,#0038c2 119px,#003797 121px,#00315c 123px,#002e50 125px,#062d53 131px,#13365b 133px,#2c4b71 135px,#d3d8e0 141px,#e9ecf0 143px,#fff 149px,#fff 245px,#e9f8f6 247px,#7bdbcc 249px,#2ac6b0 251px,#18bfab 253px,#008182 345px,#00616a 365px,#005561 369px,#004c63 371px,#002d89 375px,#001cab 377px,#0013b8 379px,#000ec1 387px,#000ec5 407px,#0011c2 409px,#0319b3 411px,#08308a 413px,#134b52 415px,#1d5133 417px,#224d2b 421px,#174d36 467px,#155441 469px,#116662 471px,#02aad3 475px,#00b9e9 477px,#00c1f4 481px,#00ccef 507px,#00c0d9 557px,#03abc2 601px,#17b1c7 603px,#57c7d6 605px,#cceff3 607px,#f6fcfc 609px,#fff 611px,#fff 657px,#e7e7ee 663px,#d2d3e0 665px,#212671 671px,#020d6b 677px,#00167b 695px,#002171 719px,#03265a 737px,#0c2d5d 739px,#213e67 741px,#5f7390 743px,#b7bfcd 745px,#e1e4eb 747px,#fff 753px"></p><p style="--g:#fff 23px,#e4ebf7 25px,#6d8bd8 27px,#1544c3 29px,#0333bd 31px,#002fce 107px,#0031cf 115px,#0032c4 117px,#00319b 119px,#002b5d 121px,#012950 123px,#0c2e56 127px,#1c3c63 129px,#465f84 131px,#8d9aae 133px,#d1d7e1 135px,#ebedf1 137px,#fff 141px,#fff 247px,#e2f8f5 249px,#75dad2 251px,#20c6ba 253px,#0ebeb5 255px,#029b9b 311px,#006b79 363px,#00536a 373px,#003f68 377px,#0016a9 381px,#0008bd 385px,#0006c5 405px,#020abe 407px,#0613ad 409px,#1a4347 413px,#1c4d35 415px,#1c4d31 421px,#11503f 471px,#105549 473px,#0d6566 475px,#0788a0 477px,#01a4d1 479px,#00b2e7 481px,#00baef 487px,#00bae0 539px,#00a2c4 597px,#05a3c3 599px,#20adc8 601px,#8ad5e4 603px,#e1f4f8 605px,#fafdff 607px,#fff 609px,#fff 665px,#e9e9f1 669px,#d3d4e2 671px,#a2a3c2 673px,#232472 677px,#0f126b 679px,#02076a 683px,#000f77 699px,#00196b 723px,#021c51 741px,#18305e 745px,#2e456e 747px,#bac0d0 751px,#e4e6ee 753px,#fff 761px"></p><p style="--g:#fff 25px,#e0e6f7 27px,#6c85d8 29px,#153ac4 31px,#032abe 33px,#0025ca 83px,#0029d6 111px,#002ad2 113px,#002bbe 115px,#002a87 117px,#01275c 119px,#042653 121px,#13315b 123px,#2d4571 125px,#6c7d99 127px,#c2cbda 129px,#e6e9ee 131px,#fff 135px,#fff 249px,#dff7f6 251px,#62d7d4 253px,#13c0be 255px,#04bcbd 257px,#007c8c 345px,#005f77 373px,#00556d 377px,#00436f 381px,#00327f 383px,#00199c 385px,#000ab3 387px,#0000c1 397px,#0003bd 403px,#040bb0 405px,#174348 409px,#1a4d36 413px,#0b4d42 465px,#0d5044 475px,#0c544f 477px,#096365 479px,#038aae 481px,#00a1d8 483px,#00a8e6 485px,#00b0e5 521px,#0099c6 591px,#0398c4 595px,#0f9ec6 597px,#32accd 599px,#a0dae7 601px,#ebf8f9 603px,#fff 605px,#fff 671px,#ebebf2 675px,#cfcfdf 677px,#8383ab 679px,#444480 681px,#1e1e6a 683px,#060965 687px,#000470 697px,#000d6d 717px,#00124d 743px,#041750 747px,#1c2d61 751px,#4b5881 753px,#697597 755px,#c7ccd8 759px,#e1e3ea 761px,#eaeaf0 763px,#f4f4f7 773px,#fff 775px"></p><p style="--g:#fff 27px,#e0e4f8 29px,#6c80d9 31px,#1834c5 33px,#0322bf 35px,#001bca 71px,#0021db 109px,#0022d6 111px,#0024c0 113px,#012477 115px,#062659 117px,#14305e 119px,#304875 121px,#8a96ae 123px,#d1d6e1 125px,#ebeef2 127px,#fff 131px,#fff 249px,#f9ffff 251px,#cff2f2 253px,#3ec8ce 255px,#08b6be 257px,#00b1bb 261px,#006584 373px,#005177 383px,#003c7a 387px,#000aae 393px,#0003b6 399px,#0108ad 401px,#071e8b 403px,#113b56 405px,#154941 407px,#144d38 411px,#064d47 469px,#07514b 479px,#065b5c 481px,#047086 483px,#018cc0 485px,#0098d8 487px,#009de2 493px,#00a2df 531px,#0491c5 593px,#1999ca 595px,#6bc0da 597px,#cfebf4 599px,#f3fcfc 601px,#fff 603px,#fff 677px,#e6e6ed 681px,#c6c6d8 683px,#46467e 687px,#1e1e65 689px,#020263 697px,#00046b 713px,#000957 733px,#000b4d 743px,#020f4e 751px,#232f65 761px,#4f5785 763px,#6b7298 769px,#adb0c5 773px,#e1e3ec 775px,#fff 777px"></p><p style="--g:#fff 29px,#e3e6f9 31px,#828cdf 33px,#2b3dca 35px,#071bc1 37px,#0013c2 39px,#0018de 105px,#001ad9 109px,#011ebc 111px,#06247d 113px,#152d63 115px,#3b4f78 117px,#94a0c0 119px,#d3dae8 121px,#eff1f6 123px,#fff 125px,#fff 251px,#f6fcfd 253px,#b5e7ec 255px,#31bbc9 257px,#06aabd 259px,#00a7b9 265px,#006a8d 367px,#005b85 385px,#004a80 391px,#004083 393px,#002d90 395px,#001d94 397px,#031890 399px,#104547 403px,#114d3c 407px,#024d4b 457px,#01504f 481px,#025d67 485px,#0087c8 489px,#0091dc 493px,#0095db 535px,#0185c6 589px,#0988c7 591px,#2f9bcf 593px,#e4f3f9 597px,#fff 599px,#fff 681px,#e7e7ed 687px,#a2a2bc 691px,#696995 693px,#202067 697px,#0f0f61 701px,#01015d 707px,#00015c 725px,#00044d 739px,#02084e 751px,#222864 761px,#4b5081 763px,#b4b8cc 767px,#edeef2 771px,#fff 775px"></p><p style="--g:#fff 31px,#ecedfb 33px,#b4b8ee 35px,#323bce 37px,#0913c5 39px,#000ac4 43px,#000ee0 101px,#0011e0 105px,#0115d8 107px,#061cba 109px,#12287a 111px,#3c4f89 113px,#949eb7 115px,#d5d9e1 117px,#f1f2f7 119px,#fff 121px,#fff 253px,#f0f9fb 255px,#a8dfe9 257px,#1facc6 259px,#049ebb 261px,#006894 365px,#005c92 391px,#005487 395px,#084a64 397px,#0d474b 399px,#0e4d40 403px,#014b4c 437px,#004b50 483px,#00545f 487px,#005f76 489px,#0073a8 491px,#007dc9 493px,#0082d6 497px,#0088d8 537px,#037cc6 587px,#1385c9 589px,#4da4d5 591px,#cae5f3 593px,#eff7fc 595px,#fff 597px,#fff 687px,#e7e7ef 695px,#dddde7 697px,#a7a7c0 699px,#585888 703px,#232364 705px,#0e0e5b 713px,#01024e 727px,#09094e 737px,#1b1b5d 749px,#222263 751px,#4c4c80 753px,#6b6b96 755px,#a0a2bd 757px,#dee0ea 761px,#fff 769px"></p><p style="--g:#fff 33px,#f3f3fc 35px,#b7b9ee 37px,#484cd4 39px,#0f11c7 41px,#0204c5 43px,#0004e2 97px,#000ae1 103px,#0411d5 105px,#1425a9 107px,#435197 109px,#858eb8 111px,#dce0ea 113px,#f3f4f7 115px,#fff 117px,#fff 255px,#ebf6fa 257px,#189fc2 261px,#0394bb 263px,#006799 361px,#00629f 389px,#00609b 391px,#015e8e 393px,#0c4d48 397px,#064d47 405px,#00444d 441px,#00434e 483px,#004a59 489px,#005064 491px,#005d85 493px,#006db8 495px,#0074c8 497px,#0078d2 503px,#007bd4 541px,#0170c6 583px,#0875c8 585px,#2385cd 587px,#dfeef8 591px,#f9fcff 593px,#fff 595px,#fff 697px,#e1e1eb 705px,#d4d4e0 707px,#8f8fad 711px,#505081 717px,#4c4c7e 719px,#3f3f73 721px,#21215b 723px,#1c1c56 729px,#1e1e59 731px,#4c4c7a 735px,#50507e 737px,#7d7d9f 741px,#8585a7 743px,#ababc3 745px,#b5b5ca 747px,#d4d4e0 749px,#eaeaef 753px,#fff 761px"></p><p style="--g:#fff 35px,#f6f6fc 37px,#cfcff4 39px,#5758d5 41px,#1717c4 43px,#0404bd 45px,#00d 93px,#0001e3 99px,#0304dc 101px,#0f16cb 103px,#2f38a1 105px,#8a90bf 107px,#dee1ec 109px,#fff 113px,#fff 257px,#e2f4f7 259px,#6cbed7 261px,#1595c1 263px,#038bbb 265px,#00639f 359px,#0061a6 387px,#00609e 389px,#075158 393px,#064d4b 395px,#00404d 431px,#003e4f 487px,#00465b 493px,#004d6c 495px,#0065bb 499px,#006cc8 501px,#006ed2 529px,#006aca 569px,#036ac6 581px,#1271ca 583px,#4994d6 585px,#bfdaf2 587px,#edf5fc 589px,#fff 591px,#fff 707px,#f2f2f6 711px,#e3e3ea 729px,#f7f7f9 747px,#fff 749px"></p><p style="--g:#fff 37px,#fafaff 39px,#e1e1f8 41px,#2e2ec3 45px,#0e0eb9 47px,#0202b8 49px,#0000d4 89px,#0303dc 97px,#0c0dd9 99px,#2528b4 101px,#7378bf 103px,#c6c8e4 105px,#eff0f5 107px,#fff 109px,#fff 259px,#e0f0f7 261px,#6bb8d7 263px,#1288c0 265px,#007eba 267px,#005fa4 361px,#005eaa 385px,#005c9c 387px,#025473 389px,#044d54 391px,#014c4c 395px,#023a4e 433px,#15485c 445px,#1b4a5f 453px,#01374d 475px,#003a51 493px,#00415f 497px,#004976 499px,#0057a1 501px,#005cba 503px,#0060c6 507px,#0063cd 543px,#025ec5 577px,#0963c8 579px,#2274cc 581px,#75a9de 583px,#d3e4f5 585px,#f6fafe 587px,#fff 589px"></p><p style="--g:#fff 41px,#efeffb 43px,#c4c4ee 45px,#6969d0 47px,#1d1db8 49px,#0606b2 51px,#0000b7 63px,#0202d3 93px,#0a0ad1 95px,#2020d2 97px,#6c6dda 99px,#d5d7f2 101px,#eeeef7 103px,#fff 107px,#fff 261px,#dbecf6 263px,#4da1d0 265px,#0c7bbf 267px,#0075ba 269px,#005aa9 359px,#005aaf 381px,#005aa9 383px,#005894 385px,#014d61 387px,#004b51 389px,#01354d 425px,#043750 427px,#1e4a62 433px,#507386 437px,#7a96a3 439px,#8fa5b1 441px,#acbec6 443px,#b6c5cd 447px,#dde4e8 449px,#e1e8eb 451px,#d4dfe4 453px,#b6c5cf 455px,#afbfc8 459px,#a2b4be 461px,#5d7e92 465px,#3f6279 469px,#214962 471px,#0c3855 479px,#01314d 487px,#003655 499px,#003b5f 501px,#00427c 503px,#004fa8 505px,#0052b7 507px,#0055c3 515px,#0055c7 559px,#0254c4 573px,#0959c7 575px,#1a65ca 577px,#568fd9 579px,#c0d6f1 581px,#ebf3fc 583px,#fff 585px"></p><p style="--g:#fff 43px,#f9f9fc 45px,#e6e6f7 47px,#a9a9e4 49px,#3e3ebf 51px,#1414b1 53px,#0505ad 55px,#0000b9 75px,#0303c8 89px,#0d0dcf 91px,#1e1ecc 93px,#5e5ebf 95px,#b8b9ea 97px,#e9e9f8 99px,#fff 101px,#fff 261px,#f9fcff 263px,#cde4f2 265px,#4898cf 267px,#0973bd 269px,#0069ba 271px,#0055ae 363px,#0055b1 379px,#0055a8 381px,#004960 385px,#004650 387px,#03304e 421px,#163759 425px,#304c6f 427px,#8698ab 429px,#bbc8d0 431px,#dee5ea 433px,#f2f5f6 441px,#fff 449px,#fff 453px,#f6f9f9 457px,#f1f3f5 463px,#e7ecef 469px,#dee6ea 471px,#c0cbd4 473px,#adbcc6 475px,#8397a9 477px,#2b4e6b 483px,#153c5c 487px,#022e4f 499px,#013155 503px,#003563 505px,#00459f 509px,#004ab5 513px,#004cc3 533px,#014ac3 569px,#054bc3 571px,#195cc8 573px,#5184d6 575px,#a3bfe9 577px,#e4ecf9 579px,#f9fcfe 581px,#fff 583px"></p><p style="--g:#fff 47px,#f3f3fc 49px,#d5d5f1 51px,#9393da 53px,#3333b7 55px,#1818ac 57px,#0101a7 63px,#0202ba 83px,#1212c5 87px,#2525cd 89px,#babaf1 93px,#e7e7f7 95px,#f9f9fc 97px,#fff 99px,#fff 263px,#f6f9fc 265px,#b7d5eb 267px,#3282c8 269px,#0665bb 271px,#005fb9 277px,#0050b3 363px,#0050b5 377px,#004fa5 379px,#004871 381px,#004456 383px,#003d4d 389px,#022a4c 413px,#162653 419px,#2c3a62 421px,#a2a6bb 425px,#d4d8e4 427px,#eff1f5 429px,#fff 433px,#fff 471px,#e3e7ec 483px,#d4dae1 485px,#99a7b7 489px,#71869b 493px,#2b4b6c 497px,#15395d 501px,#083058 507px,#022e60 509px,#013b99 513px,#003fa7 515px,#0040b5 523px,#003fc0 561px,#0844c3 567px,#1751c6 569px,#3568cd 571px,#9fb8e7 573px,#e3ecf8 575px,#f6f9fc 577px,#fff 579px"></p><p style="--g:#fff 51px,#e0e0f4 55px,#afafe2 57px,#3939b6 61px,#1919ab 63px,#0909a7 69px,#0909ae 77px,#1414b7 81px,#2020bf 83px,#5050ce 85px,#9797e5 87px,#d3d3f3 89px,#ececfc 91px,#fff 95px,#fff 265px,#f3f9fb 267px,#b2cfea 269px,#2571c4 271px,#045abb 273px,#004eb6 325px,#004ab9 375px,#004aa8 377px,#00436e 379px,#003e53 381px,#00374d 387px,#032c4e 403px,#0f2a53 409px,#1e2551 413px,#3a3e65 415px,#dee0e7 421px,#fff 427px,#fff 485px,#f3f6f7 489px,#e4e9ed 497px,#dde3e8 499px,#b3becb 501px,#95a3b5 503px,#607490 505px,#4a6382 507px,#223f66 509px,#153768 513px,#0f3679 515px,#093894 517px,#0235a1 521px,#0036b4 537px,#0337bc 561px,#1c4dc5 565px,#4a72d1 567px,#abbfe9 569px,#dfe8f6 571px,#f5f7fc 573px,#fff 575px"></p><p style="--g:#fff 55px,#e1e1f4 61px,#bbbbe6 63px,#8585d1 65px,#5050be 69px,#5050c1 75px,#5d5dc7 77px,#a7a7e3 81px,#ddddf5 83px,#fff 89px,#fff 267px,#edf4fa 269px,#95b6e3 271px,#1f66c3 273px,#0451bb 275px,#0049b9 305px,#0044bf 365px,#0044bf 373px,#0044ab 375px,#003e6f 377px,#003953 379px,#00324d 385px,#063053 393px,#183d5e 397px,#1e3457 401px,#2b3b61 403px,#83869d 409px,#dddfe4 413px,#fff 421px,#fff 499px,#e1e4ea 509px,#afb9c8 513px,#50668e 517px,#355084 519px,#1a3b84 521px,#0d369a 525px,#012ca3 533px,#022db4 553px,#1840bd 559px,#2d52c5 561px,#6c86d7 563px,#c2ceef 565px,#e6ecf9 567px,#fff 571px"></p><p style="--g:#fff 61px,#eaeaf7 69px,#ececf8 77px,#fff 83px,#fff 269px,#eaf0f9 271px,#95b2e4 273px,#245fc5 275px,#0547bc 277px,#04b 283px,#003dc5 363px,#003ec8 369px,#003ec2 371px,#003ea4 373px,#00386a 375px,#003453 377px,#002d4d 383px,#12375a 389px,#1e4061 391px,#445f7d 393px,#bbc7d6 397px,#dee3e9 399px,#f6f6f9 411px,#fff 413px,#fff 509px,#eaedf1 517px,#e1e5ed 519px,#c0c8d9 521px,#abb6cc 523px,#7685ad 525px,#2b4696 529px,#193994 531px,#0d2da1 539px,#092ba5 543px,#1e3eb8 553px,#3a56c2 555px,#afbce9 559px,#e0e4f6 561px,#f9fafd 565px,#fff 567px"></p><p style="--g:#fff 271px,#eef2fa 273px,#b2c4ec 275px,#2d5ec9 277px,#063fbc 279px,#003abc 285px,#0038cb 365px,#0037cd 367px,#0038c4 369px,#0038a7 371px,#003265 373px,#002e52 375px,#012b4e 379px,#0d3157 383px,#1e4068 385px,#d2d8de 391px,#e6e9ee 393px,#fff 399px,#fff 519px,#e1e5ef 529px,#bec7de 531px,#8592c5 535px,#7180c0 539px,#5467b6 541px,#5d6fbd 543px,#7b8bcd 545px,#8592d1 547px,#dee2f4 553px,#fff 561px"></p><p style="--g:#fff 273px,#edf3fb 275px,#96ace4 277px,#204cc5 279px,#0434bd 281px,#002ec8 341px,#0031d0 365px,#0031c6 367px,#00319a 369px,#002c64 371px,#002951 373px,#0a2d54 377px,#183860 379px,#39547a 381px,#7686a0 383px,#c4ccd7 385px,#e9ecef 387px,#fff 391px,#fff 529px,#eaedf6 541px,#fff 553px"></p><p style="--g:#fff 275px,#eaeff9 277px,#94a7e4 279px,#1f44c6 281px,#042bbe 283px,#0025c2 307px,#0029d4 363px,#002bc8 365px,#00275e 369px,#032651 371px,#0d2d58 373px,#1e3c69 375px,#5f7291 377px,#b7c1d2 379px,#e1e5ec 381px,#fff 387px"></p><p style="--g:#fff 277px,#eaeef9 279px,#94a3e5 281px,#213dc6 283px,#0522bf 285px,#001cc1 295px,#0022d8 361px,#0023c9 363px,#012489 365px,#04255d 367px,#102d5a 369px,#243b67 371px,#c4cad7 375px,#eaecef 377px,#fff 381px"></p><p style="--g:#fff 279px,#ecedf9 281px,#a0a9e6 283px,#2e41cb 285px,#071bc1 287px,#0013c1 289px,#0016dc 351px,#001adb 359px,#011dc6 361px,#04218d 363px,#132c66 365px,#304470 367px,#8a95b3 369px,#d1d5df 371px,#eceef3 373px,#fff 377px"></p><p style="--g:#fff 281px,#f0f0fb 283px,#b4b8ee 285px,#353fce 287px,#0c16c5 289px,#000ac4 293px,#000ee0 351px,#0010df 355px,#0114d8 357px,#061cbb 359px,#102683 361px,#2f427e 363px,#8a93b0 365px,#d2d5e0 367px,#eff1f5 369px,#fff 371px"></p><p style="--g:#fff 283px,#f6f6fc 285px,#ced0f4 287px,#6063da 289px,#1517c9 291px,#0304c5 293px,#0003e2 347px,#0009e1 353px,#030ed6 355px,#1020a6 357px,#37478d 359px,#7882a7 361px,#d0d4e5 363px,#eff0f6 365px,#fff 367px"></p><p style="--g:#fff 285px,#fafbff 287px,#dfe0f9 289px,#7676dc 291px,#1e1ec6 293px,#0606c0 295px,#0000c3 307px,#0000e1 347px,#0204df 351px,#090fd2 353px,#222cb0 355px,#757cba 357px,#d0d4e3 359px,#eceef3 361px,#fff 363px"></p><p style="--g:#fff 289px,#e8e8f9 291px,#a9a9e7 293px,#3d3dc9 295px,#1010bb 297px,#0303b8 299px,#0000d3 339px,#0202dc 347px,#0a0ada 349px,#1e20c3 351px,#565bb3 353px,#c0c3df 355px,#ebedf4 357px,#fff 359px"></p><p style="--g:#fff 291px,#f3f3fc 293px,#d1d1f2 295px,#7575d4 297px,#2222ba 299px,#0909b2 301px,#0000b2 305px,#0202d2 343px,#0909d3 345px,#1a1ace 347px,#5f60d8 349px,#c0c1f1 351px,#e8e8f5 353px,#f9f9fc 355px,#fff 357px"></p><p style="--g:#fff 295px,#ebebf8 297px,#c0c0ea 299px,#5656c6 301px,#1a1ab2 303px,#0707ad 305px,#0000af 313px,#0202c7 339px,#0909ce 341px,#1b1bd1 343px,#5252cb 345px,#a4a4dc 347px,#e5e5f7 349px,#f9f9fe 351px,#fff 353px"></p><p style="--g:#fff 297px,#f9f9fc 299px,#e4e4f6 301px,#a1a1dd 303px,#4848be 305px,#1b1bae 307px,#0606a9 311px,#0000b4 329px,#0909be 335px,#0f0fc3 337px,#1f1fcb 339px,#5d5dde 341px,#adadef 343px,#e4e4f8 345px,#f6f6fb 347px,#fff 349px"></p><p style="--g:#fff 301px,#e4e4f5 305px,#b9b9e5 307px,#7676cc 309px,#4444b8 311px,#1e1eab 313px,#1111a7 315px,#0909aa 323px,#0e0eb3 329px,#1f1fbe 333px,#8383de 337px,#c6c6f1 339px,#e9e9fb 341px,#fff 345px"></p><p style="--g:#fff 305px,#e6e6f5 311px,#c6c6e9 313px,#9090d5 315px,#5353bf 319px,#4e4ec1 325px,#5454c4 327px,#7d7dd4 329px,#9d9ddf 331px,#d2d2f1 333px,#e7e7f9 335px,#fff 341px"></p><p style="--g:#fff 311px,#eaeaf7 319px,#eaeaf8 327px,#fff 333px"></p></div>
<svg width="999" height="816" viewBox="0 0 999 816">
<g>
<path d="M100.8 82.4L100.8 256.8L246.6 298.3L487.4 274.8" fill="none" stroke="#262626" stroke-width="3.7" stroke-linejoin="miter" stroke-linecap="butt"/>
<path d="M295.6 295.5L289.4 293.8M214.6 291.3L221.1 290.7M372.3 288.1L366.1 286.3M168.2 278.1L174.7 277.5M449 280.6L442.7 278.8M121.8 264.9L128.3 264.3M92.2 254.4L100.8 256.8M92.2 167.2L100.8 169.6M92.2 80L100.8 82.4" fill="none" stroke="#262626" stroke-width="3.1"/>
<path d="M608.2 88.8L608.2 258L775.3 298.2L994 267.6" fill="none" stroke="#262626" stroke-width="3.7" stroke-linejoin="miter" stroke-linecap="butt"/>
<path d="M820.4 293.9L814.1 292.4M739.5 291.7L745.9 290.8M890 284.2L883.7 282.7M686.3 278.9L692.7 278M959.6 274.4L953.3 272.9M633.1 266.1L639.5 265.2M599.4 255.9L608.2 258M599.4 171.3L608.2 173.4M599.4 86.7L608.2 88.8" fill="none" stroke="#262626" stroke-width="3.1"/>
<path d="M101.7 472.2L101.7 700.2L290.2 706.9L486.2 700.2" fill="none" stroke="#262626" stroke-width="3.7" stroke-linejoin="miter" stroke-linecap="butt"/>
<path d="M325.8 705.2L325.8 712.7M256 705.2L256 712.7M388.2 703L388.2 710.5M196 703L196 710.5M450.6 700.9L450.6 708.4M136 700.9L136 708.4M92.7 699.9L101.7 700.2M92.7 623.9L101.7 624.2M92.7 547.9L101.7 548.2M92.7 471.9L101.7 472.2" fill="none" stroke="#262626" stroke-width="3.1"/>
<path d="M608.4 486.4L608.4 684.5L796.2 707L993.5 686.1" fill="none" stroke="#262626" stroke-width="3.7" stroke-linejoin="miter" stroke-linecap="butt"/>
<path d="M832 702.7L832 710.2M762.1 702.4L762.1 709.9M894.8 696L894.8 703.5M702.3 695.3L702.3 702.8M957.6 689.4L957.6 696.9M642.5 688.1L642.5 695.6M599.5 683.4L608.4 684.5M599.5 541.9L608.4 543" fill="none" stroke="#262626" stroke-width="3.1"/>
</g>
<g>
<text class="t" text-anchor="end" x="82.8" y="264.3">0</text>
<text class="t" text-anchor="end" x="82.8" y="177.1">2</text>
<text class="t" text-anchor="end" x="82.8" y="89.9">4</text>
<text class="t" text-anchor="end" x="200.6" y="324.5">-2</text>
<text class="t" x="306.1" y="330">-2</text>
<text class="t" text-anchor="end" x="154.2" y="311.3">0</text>
<text class="t" x="382.7" y="322.6">0</text>
<text class="t" text-anchor="end" x="107.8" y="298.1">2</text>
<text class="t" x="459.4" y="315.1">2</text>
<text class="m" x="76.6" y="381.5">k<tspan style="font-size:31px" x="102.5" dy="8">y</tspan></text>
<text class="m" x="399.2" y="385.2">k<tspan style="font-size:31px" x="422.7" dy="8">x</tspan></text>
<text class="r" text-anchor="middle" x="293.7" y="37" style="font-size:51px">(<tspan class="m" style="letter-spacing:1.5px" dy="-1" dx="1">i</tspan><tspan dy="1" dx="1">)</tspan></text>
<g transform="translate(35.4 247.3) rotate(-90)"><text class="m" x="-1.8" y="0">ħ</text><text class="m" x="19.8" y="0" style="font-size:48px">ω</text><text class="r" x="50" y="7.6" style="font-size:31px;font-weight:bold">k</text><text class="r" x="74.4" y="11" style="font-size:66px">/</text><text class="m" x="89" y="0" style="font-size:47px">J</text><text class="m" x="114.5" y="0" style="font-size:49px" textLength="35" lengthAdjust="spacingAndGlyphs">S</text></g>
<text class="t" text-anchor="end" x="588.7" y="266">0</text>
<text class="t" text-anchor="end" x="588.7" y="181.4">2</text>
<text class="t" text-anchor="end" x="588.7" y="96.8">4</text>
<text class="t" text-anchor="end" x="725.4" y="324.6">-2</text>
<text class="t" x="830.7" y="328.6">-2</text>
<text class="t" text-anchor="end" x="672.2" y="311.8">0</text>
<text class="t" x="900.3" y="318.9">0</text>
<text class="t" text-anchor="end" x="619" y="299">2</text>
<text class="t" x="969.9" y="309.2">2</text>
<text class="m" x="601" y="381.5">k<tspan style="font-size:31px" x="626.9" dy="8">y</tspan></text>
<text class="m" x="923" y="385.2">k<tspan style="font-size:31px" x="946.5" dy="8">x</tspan></text>
<text class="r" text-anchor="middle" x="800" y="37" style="font-size:51px">(<tspan class="m" style="letter-spacing:1.5px" dy="-1" dx="1">ii</tspan><tspan dy="1" dx="1">)</tspan></text>
<text class="t" text-anchor="end" x="83.7" y="712.2">0</text>
<text class="t" text-anchor="end" x="83.7" y="636.2">2</text>
<text class="t" text-anchor="end" x="83.7" y="560.2">4</text>
<text class="t" text-anchor="end" x="83.7" y="484.2">6</text>
<text class="t" text-anchor="end" x="254" y="753.7">-2</text>
<text class="t" x="325.2" y="753.7">-2</text>
<text class="t" text-anchor="end" x="194" y="751.5">0</text>
<text class="t" x="387.6" y="751.5">0</text>
<text class="t" text-anchor="end" x="134" y="749.4">2</text>
<text class="t" x="450" y="749.4">2</text>
<text class="m" x="110" y="794">k<tspan style="font-size:31px" x="135.9" dy="8">y</tspan></text>
<text class="m" x="432.5" y="794">k<tspan style="font-size:31px" x="456" dy="8">x</tspan></text>
<text class="r" text-anchor="middle" x="293" y="444" style="font-size:51px">(<tspan class="m" style="letter-spacing:1.5px" dy="-1" dx="1">iii</tspan><tspan dy="1" dx="1">)</tspan></text>
<g transform="translate(36.3 664) rotate(-90)"><text class="m" x="-1.8" y="0">ħ</text><text class="m" x="19.8" y="0" style="font-size:48px">ω</text><text class="r" x="50" y="7.6" style="font-size:31px;font-weight:bold">k</text><text class="r" x="74.4" y="11" style="font-size:66px">/</text><text class="m" x="89" y="0" style="font-size:47px">J</text><text class="m" x="114.5" y="0" style="font-size:49px" textLength="35" lengthAdjust="spacingAndGlyphs">S</text></g>
<text class="t" text-anchor="end" x="589.9" y="696">0</text>
<text class="t" text-anchor="end" x="589.9" y="554.5">5</text>
<text class="t" text-anchor="end" x="760.1" y="750.9">-2</text>
<text class="t" x="833.5" y="751.2">-2</text>
<text class="t" text-anchor="end" x="700.3" y="743.8">0</text>
<text class="t" x="896.3" y="744.5">0</text>
<text class="t" text-anchor="end" x="640.5" y="736.6">2</text>
<text class="t" x="959.1" y="737.9">2</text>
<text class="m" x="617" y="793.5">k<tspan style="font-size:31px" x="642.9" dy="8">y</tspan></text>
<text class="m" x="938" y="793.5">k<tspan style="font-size:31px" x="961.5" dy="8">x</tspan></text>
<text class="r" text-anchor="middle" x="800" y="444" style="font-size:51px">(<tspan class="m" style="letter-spacing:1.5px" dy="-1" dx="1">iv</tspan><tspan dy="1" dx="1">)</tspan></text>
</g>
</svg>
</div></body></html>
